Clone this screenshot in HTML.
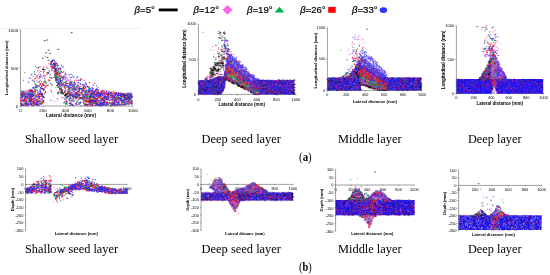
<!DOCTYPE html>
<html><head><meta charset="utf-8"><title>Figure</title>
<style>html,body{margin:0;padding:0;background:#fff}svg{display:block}</style></head>
<body><svg width="550" height="275" viewBox="0 0 550 275">
<rect width="550" height="275" fill="#fff"/>
<text x="134.6" y="12.6" font-size="8.8" font-family="Liberation Sans,sans-serif" textLength="20.2" lengthAdjust="spacingAndGlyphs" stroke="#000" stroke-width=".2"><tspan font-style="italic">β</tspan>=5°</text>
<rect x="158.8" y="8.5" width="18.9" height="2.8" fill="#000"/>
<text x="193.6" y="12.6" font-size="8.8" font-family="Liberation Sans,sans-serif" textLength="25.4" lengthAdjust="spacingAndGlyphs" stroke="#000" stroke-width=".2"><tspan font-style="italic">β</tspan>=12°</text>
<path d="M227.5 4.9l5 4.9-5 4.9-5-4.9z" fill="#ff66ee"/>
<text x="247" y="12.6" font-size="8.8" font-family="Liberation Sans,sans-serif" textLength="25.6" lengthAdjust="spacingAndGlyphs" stroke="#000" stroke-width=".2"><tspan font-style="italic">β</tspan>=19°</text>
<path d="M279.5 6.8l4.8 5.6h-9.6z" fill="#00b050"/>
<text x="300.2" y="12.6" font-size="8.8" font-family="Liberation Sans,sans-serif" textLength="25.4" lengthAdjust="spacingAndGlyphs" stroke="#000" stroke-width=".2"><tspan font-style="italic">β</tspan>=26°</text>
<rect x="328.2" y="6.9" width="7.5" height="5.9" fill="#ff0000"/>
<text x="352" y="12.6" font-size="8.8" font-family="Liberation Sans,sans-serif" textLength="25.6" lengthAdjust="spacingAndGlyphs" stroke="#000" stroke-width=".2"><tspan font-style="italic">β</tspan>=33°</text>
<ellipse cx="383.4" cy="10.1" rx="3.8" ry="2.9" fill="#3030ff"/>
<text x="25" y="142.8" font-size="11.6" font-family="Liberation Serif,serif" textLength="93" lengthAdjust="spacingAndGlyphs">Shallow seed layer</text>
<text x="201.6" y="142.8" font-size="11.6" font-family="Liberation Serif,serif" textLength="79.4" lengthAdjust="spacingAndGlyphs">Deep seed layer</text>
<text x="338" y="142.8" font-size="11.6" font-family="Liberation Serif,serif" textLength="63.6" lengthAdjust="spacingAndGlyphs">Middle layer</text>
<text x="468" y="142.8" font-size="11.6" font-family="Liberation Serif,serif" textLength="53.5" lengthAdjust="spacingAndGlyphs">Deep layer</text>
<text x="25" y="252.6" font-size="11.6" font-family="Liberation Serif,serif" textLength="93" lengthAdjust="spacingAndGlyphs">Shallow seed layer</text>
<text x="201.6" y="252.6" font-size="11.6" font-family="Liberation Serif,serif" textLength="79.4" lengthAdjust="spacingAndGlyphs">Deep seed layer</text>
<text x="338" y="252.6" font-size="11.6" font-family="Liberation Serif,serif" textLength="63.6" lengthAdjust="spacingAndGlyphs">Middle layer</text>
<text x="468" y="252.6" font-size="11.6" font-family="Liberation Serif,serif" textLength="53.5" lengthAdjust="spacingAndGlyphs">Deep layer</text>
<text x="299" y="160.6" font-size="11.6" font-family="Liberation Serif,serif" textLength="12.7" lengthAdjust="spacingAndGlyphs">(<tspan font-weight="bold">a</tspan>)</text>
<text x="299" y="270.6" font-size="11.6" font-family="Liberation Serif,serif" textLength="12.7" lengthAdjust="spacingAndGlyphs">(<tspan font-weight="bold">b</tspan>)</text>
<path d="M0 28.5H139.5" stroke="#ebebeb" stroke-width=".7"/>
<path d="M20.5 30V106H133" stroke="#606060" stroke-width=".6" fill="none"/>
<text x="18.1" y="107.6" font-size="4.4" text-anchor="end" font-family="Liberation Sans,sans-serif" fill="#000">0</text>
<text x="18.1" y="69.6" font-size="4.4" text-anchor="end" font-family="Liberation Sans,sans-serif" fill="#000">500</text>
<text x="18.1" y="31.6" font-size="4.4" text-anchor="end" font-family="Liberation Sans,sans-serif" fill="#000">1000</text>
<text x="20.5" y="112.2" font-size="4.4" text-anchor="middle" font-family="Liberation Sans,sans-serif" fill="#000">0</text>
<text x="43" y="112.2" font-size="4.4" text-anchor="middle" font-family="Liberation Sans,sans-serif" fill="#000">200</text>
<text x="65.5" y="112.2" font-size="4.4" text-anchor="middle" font-family="Liberation Sans,sans-serif" fill="#000">400</text>
<text x="88" y="112.2" font-size="4.4" text-anchor="middle" font-family="Liberation Sans,sans-serif" fill="#000">600</text>
<text x="110.5" y="112.2" font-size="4.4" text-anchor="middle" font-family="Liberation Sans,sans-serif" fill="#000">800</text>
<text x="133" y="112.2" font-size="4.4" text-anchor="middle" font-family="Liberation Sans,sans-serif" fill="#000">1000</text>
<path d="M20.5 106h-1.4M20.5 68h-1.4M20.5 30h-1.4M20.5 106v1.4M43 106v1.4M65.5 106v1.4M88 106v1.4M110.5 106v1.4M133 106v1.4" stroke="#606060" stroke-width=".5" fill="none"/>
<text x="71" y="117.2" font-size="4.85" text-anchor="middle" font-family="Liberation Sans,sans-serif" font-weight="bold" fill="#000">Lateral distance (mm)</text>
<text transform="translate(8 67.9) rotate(-90)" font-size="4.2" text-anchor="middle" font-family="Liberation Sans,sans-serif" font-weight="bold">Longitudinal distance (mm)</text>
<path d="M36.6 102.7h1.8M41.1 99.7h1.8M28.8 90h1.8M26.4 104.5h1.8M23.2 96.2h1.8M30.5 91h1.8M27.8 104.8h1.8M24.4 95.1h1.8M31.9 104.9h1.8M29.8 96.2h1.8M21.9 94.6h1.8M28.1 93.2h1.8M23.3 99.1h1.8M42.5 100.2h1.8M43.2 97.4h1.8M21.4 93.8h1.8M23.2 94.2h1.8M22.5 94.9h1.8M31 96.6h1.8M38.4 86h1.8M24.8 104.9h1.8M31.5 95.1h1.8M24.1 98.2h1.8M30.3 90.3h1.8M31.3 94.8h1.8M34.5 104.6h1.8M41 101.8h1.8M41.6 89h1.8M28.2 101h1.8M29.5 94.3h1.8M35.1 96.8h1.8M25.8 103.6h1.8M29 95.1h1.8M36.9 101.8h1.8M34.7 104.5h1.8M20.6 95.8h1.8M36 104.6h1.8M40.2 93h1.8M29.4 96.1h1.8M26.5 93.7h1.8M24.4 94.1h1.8M24.6 103.7h1.8M26.8 93.6h1.8M22 93.5h1.8M33.1 91.5h1.8M30.7 94.5h1.8M25.2 100.2h1.8M40.8 93.9h1.8M30.5 101.8h1.8M23.8 97h1.8M25.5 105.4h1.8M26.1 96.4h1.8M31.4 98.9h1.8M21.3 99.9h1.8M28.6 101.8h1.8M38.3 100.9h1.8M24.5 98.2h1.8M21.3 105h1.8M40.9 94.8h1.8M30.5 89.6h1.8M39.3 103.3h1.8M22.9 101h1.8M23.6 103.3h1.8M20.1 97.4h1.8M41.8 96.5h1.8M20.3 103.4h1.8M28.1 97.7h1.8M30.9 93.5h1.8M35.4 95.5h1.8M27.3 95.9h1.8M29.7 104.3h1.8M29.1 91.5h1.8M38 96.6h1.8M32.5 103.6h1.8M40 104.1h1.8M42 88.5h1.8M43.4 82.1h1.8M20.9 99.7h1.8M21 93.3h1.8M40.3 94.8h1.8M21.2 94.4h1.8M38 94.1h1.8M23 92.7h1.8M22.5 94.7h1.8M34.8 99.4h1.8M22.6 91.7h1.8M38 104.5h1.8M41.2 93.7h1.8M38 81.9h1.8M51.8 68.3h1.8M47.6 73h1.8M42 58.1h1.8M46.8 72.6h1.8M31.8 80.2h1.8M46.9 85.3h1.8M43.7 69.7h1.8M34.6 84.3h1.8M38.3 78h1.8M42 69.3h1.8M37.5 67.6h1.8M53.2 71h1.8M42 69.4h1.8M43.8 40.6h1.8M46.4 40h1.8M47.7 50.1h1.8M57.3 49.4h1.8M46.6 57.4h1.8M45.3 52.8h1.8M70.8 32.7h1.8M49.1 53.6h1.8M53.3 63.7h1.8M53.1 63.6h1.8M52.5 64.7h1.8M52.2 60.1h1.8M51 70.1h1.8M47.6 60.3h1.8M52.1 65h1.8M51.1 67.4h1.8M52.2 66.8h1.8M50.3 66.1h1.8M50.9 61.3h1.8M50.4 62.4h1.8M51.1 85h1.8M50.5 78.1h1.8M48.5 80.7h1.8M103.3 101.2h1.8M106.8 97h1.8M58.6 84.9h1.8M73 87.9h1.8M100.1 98.2h1.8M99.4 102.9h1.8M93.4 96.3h1.8M65.8 101.5h1.8M55.8 69.1h1.8M75.2 93.2h1.8M107.3 94.9h1.8M107.1 95.4h1.8M75.6 87.1h1.8M110.9 93.8h1.8M98.2 105.5h1.8M58.8 83.1h1.8M91.2 96.5h1.8M89.4 103.9h1.8M103.4 104h1.8M97.2 92.5h1.8M74.2 89.6h1.8M78.9 103.2h1.8M65 103.8h1.8M114.1 99.2h1.8M103.1 104.2h1.8M94.1 105.3h1.8M126 94.8h1.8M56.6 79.6h1.8M54.4 70.1h1.8M126.9 99h1.8M71.1 89.1h1.8M70.2 82.5h1.8M94 95h1.8M100.1 93.5h1.8M77.8 89.1h1.8M91.4 100.5h1.8M56.1 73.3h1.8M126.9 97.5h1.8M90.8 93.4h1.8M95.9 103.6h1.8M91.2 105.5h1.8M91.9 100.3h1.8M87.9 91.6h1.8M89.1 96.7h1.8M93 101.8h1.8M99.5 103.2h1.8M69.9 92.3h1.8M67.4 96.4h1.8M90.5 95.8h1.8M106.3 99.3h1.8M131.2 96.2h1.8M119.7 98.1h1.8M63.2 102.9h1.8M111.5 99.9h1.8M60.7 76.3h1.8M78.1 91.2h1.8M64.6 101.9h1.8M69.5 105.3h1.8M98.7 95.3h1.8M99.5 96.7h1.8M71.9 105.4h1.8M86.8 95.1h1.8M103.4 102.1h1.8M53.4 77.4h1.8M90.7 102.2h1.8M106.6 99.8h1.8M104.5 97.3h1.8M94 94.8h1.8M74.5 88.8h1.8M67.3 93.3h1.8M57.6 87.6h1.8M127.4 97.1h1.8M76.7 91.5h1.8M81.4 97.4h1.8M95.2 93h1.8M127.9 95.1h1.8M98.8 100.6h1.8M86.1 94.2h1.8M124.7 94.9h1.8M62.1 83.6h1.8M101.8 103.3h1.8M63.6 86.9h1.8M94.8 102.5h1.8M119.1 104.9h1.8M67.6 91.8h1.8M102 93.3h1.8M85.7 96.7h1.8M59 80.2h1.8M89.4 97.6h1.8M54.9 80.1h1.8M110.1 104h1.8M98.7 93.2h1.8M123.6 95.7h1.8M55 79h1.8M54.4 75.5h1.8M96.2 98.8h1.8M89.2 94.1h1.8M72.2 95.8h1.8M120.9 95.3h1.8M67.3 89.8h1.8M76.2 86.7h1.8M90.1 95.8h1.8M121.1 102.6h1.8M124.6 95.8h1.8M113.6 103.2h1.8M101.3 98.7h1.8M80.3 88.6h1.8M106.8 93.9h1.8M66.9 83.5h1.8M66.7 94.6h1.8M121 94.5h1.8M123.9 103.3h1.8M103.5 93.4h1.8M91.6 101.1h1.8M94.4 101.2h1.8M75.1 97.9h1.8M57 71.1h1.8M72.6 86.5h1.8M109.1 102.6h1.8M54.4 69.4h1.8M98.7 94.3h1.8M99.2 104.3h1.8M112.4 103.6h1.8M112.7 96.6h1.8M114.4 105.5h1.8M70.6 104.3h1.8M112.5 102.3h1.8M128.9 97.3h1.8M96 99.3h1.8M79.1 97.6h1.8M95 103.8h1.8M121.9 94.8h1.8M130.3 102.4h1.8M93 97.3h1.8M119.9 99.8h1.8M73.6 90.9h1.8M117.6 95.5h1.8M56 74.2h1.8M128.7 97h1.8M124.8 100.9h1.8M69.6 103.2h1.8M83.4 91.3h1.8M60.9 91h1.8M77.7 88.1h1.8M58.2 74.3h1.8M76.8 94.6h1.8M57.3 78.8h1.8M127.6 98.9h1.8M92.1 100.5h1.8M95.3 94.9h1.8M117.4 102.2h1.8M65.4 83.7h1.8M126.6 101.5h1.8M113.5 105.3h1.8M128 100.9h1.8M62.3 78.6h1.8M86.1 94.3h1.8M121.3 96.9h1.8M102.8 102.3h1.8M114.3 100.1h1.8M76.7 93.2h1.8M64.5 90.8h1.8M123.5 98h1.8M53.5 67.6h1.8M71.5 100.6h1.8M123.2 100.5h1.8M116.3 98.2h1.8M68.1 88.9h1.8M89.6 91.7h1.8M106 94.1h1.8M76.2 96.9h1.8M103.5 96h1.8M72.7 95.9h1.8M54.5 73.8h1.8M104.8 105.2h1.8M75.8 104.7h1.8M90.8 94.9h1.8M77.2 95.3h1.8M69.5 95.3h1.8M81 93.1h1.8M115.5 102.1h1.8M93.1 91.5h1.8M69 103.4h1.8M87 92.6h1.8M123.5 99.6h1.8M85.8 94.4h1.8M111.6 93.8h1.8M88.2 102.9h1.8M67.3 86.7h1.8M91.7 93.8h1.8M66.7 91.6h1.8M78.5 89h1.8M116.1 98.8h1.8M88.1 101.3h1.8M90 97.4h1.8M82.6 88.1h1.8M94 100.5h1.8M105.6 102.2h1.8M95.9 96.1h1.8M105.6 98.5h1.8M129 96h1.8M121.4 95.9h1.8M75.3 92.7h1.8M98.3 95.6h1.8M69.3 98.3h1.8M122.1 100.5h1.8M91.2 99.6h1.8M91.5 92.3h1.8M118.6 99.6h1.8M61.4 91h1.8M60.4 89.2h1.8M83.3 88.6h1.8M86.2 99h1.8M108.2 94.6h1.8M128.7 101.2h1.8M102.7 97.8h1.8M83.3 98.9h1.8M59.2 73.3h1.8M96.5 104.1h1.8M67.3 92.7h1.8M83.8 104.6h1.8M99.4 94.1h1.8M130.8 97.3h1.8M99 95.4h1.8M124.7 94.9h1.8M124.2 104.2h1.8M107.4 94.9h1.8M78.1 104.2h1.8M100.9 103.6h1.8M68.2 99.3h1.8M88.7 100.4h1.8M81.4 88.9h1.8M98.1 104.5h1.8M55.1 75.6h1.8M99.9 98.5h1.8M69.5 87.3h1.8M124.8 95.8h1.8M106.2 104.1h1.8M120.3 94.5h1.8M130.4 100.7h1.8M79.4 89h1.8M115.7 94.3h1.8M121.5 101.8h1.8M96.5 92.7h1.8M114.6 98.9h1.8M65.2 81.9h1.8M78.6 87.8h1.8M59.6 80.3h1.8M84.4 103.1h1.8M94.3 98.5h1.8M88.5 98.8h1.8M55.5 72.7h1.8M59.8 89.8h1.8M124.5 95.7h1.8M59 88.7h1.8M55.6 81h1.8M107.3 99.7h1.8M91.5 103.3h1.8M117.8 95.1h1.8M56.5 85.9h1.8M102 98.3h1.8M55.8 70.6h1.8M79.5 102.8h1.8M101.2 103h1.8M78.7 94.4h1.8M56.4 85.5h1.8M88.8 91.2h1.8M85.3 95.5h1.8M69.6 94.3h1.8M75.1 103.5h1.8M103.8 101.9h1.8M111.2 104.1h1.8M90 94.3h1.8M94.9 94.4h1.8M59.6 88.9h1.8M58.3 84.3h1.8M113.8 103.2h1.8M61.4 89.9h1.8M127.1 101.8h1.8M68.7 93.8h1.8M70.4 82h1.8M101.6 93.1h1.8M125.8 97.1h1.8M92.5 91.4h1.8M82.8 94.6h1.8M111.8 104.9h1.8M75.7 93.2h1.8M65.9 98.1h1.8M120.1 96.2h1.8M88.8 97.3h1.8M127 99.5h1.8M73.4 84.1h1.8M103.8 100.2h1.8M70.4 85.1h1.8M55.9 77.5h1.8M72.8 101.3h1.8M88.8 100h1.8M120.7 104.5h1.8M74.3 88.1h1.8M63.4 82.3h1.8M102.7 98.3h1.8M58.6 84h1.8M95.3 98.7h1.8M116.9 95.7h1.8M80 98.2h1.8M65.2 93.9h1.8M94.6 103.5h1.8M89.7 101.2h1.8M65.7 96.8h1.8M91.6 100.6h1.8M88 102.5h1.8M88.3 100.5h1.8M94.5 103.8h1.8M71.7 96h1.8M64 95.8h1.8M63.4 92.5h1.8M68 96.1h1.8M86.5 102h1.8M74.9 97h1.8M92.2 101.7h1.8M87.4 101.1h1.8M78.2 97.1h1.8M89.1 100.8h1.8M74.1 96.3h1.8M60.9 92h1.8M61 93.2h1.8M74.6 96.9h1.8M88.4 100.9h1.8M89.6 102.9h1.8M96 103.7h1.8M82.6 98h1.8M65 94.8h1.8M64.4 95.1h1.8M69.6 94.5h1.8M82.1 99.3h1.8M85.2 100.1h1.8M93.6 101.8h1.8M57.1 93.8h1.8M76.9 96.1h1.8M84.1 101.1h1.8M62.2 93.7h1.8M87.7 100.9h1.8M95.1 101.1h1.8M60 92.8h1.8M61.9 93.7h1.8M81.3 98.4h1.8M64.4 95.6h1.8M89.7 101.2h1.8M94.4 101.5h1.8M72.4 96.3h1.8M65.6 93.6h1.8M91.8 102h1.8M58 92h1.8M86.4 101.4h1.8M64.9 95h1.8M85.3 97.2h1.8M66.8 97h1.8M84.3 100.6h1.8M67.3 94.1h1.8M61.2 93h1.8M56.9 92.7h1.8M65 94.4h1.8M80.2 98.1h1.8M66.9 96h1.8M93 101.4h1.8" stroke="#000000" stroke-width=".8" stroke-opacity="0.88" fill="none"/>
<path d="M41.8 103.8h1.1M34.5 104.8h1.1M39.4 98.9h1.1M31.5 102.2h1.1M27 94.1h1.1M42.5 100h1.1M26.5 95.3h1.1M25.5 105.7h1.1M39.3 88.3h1.1M36.5 96h1.1M28.9 95h1.1M30.5 95.9h1.1M43.3 88.5h1.1M24.6 99.2h1.1M39.6 102h1.1M26 98h1.1M35.4 99.7h1.1M42.4 84.3h1.1M34 101.2h1.1M34.5 97.4h1.1M26.5 95h1.1M38.8 105.6h1.1M35.6 103h1.1M32.4 92.4h1.1M33.8 87.1h1.1M35.6 95.2h1.1M31 105.1h1.1M30.3 104.3h1.1M28.1 105.8h1.1M40.7 101.6h1.1M21 105.1h1.1M30.2 97.8h1.1M41.3 104.2h1.1M38.2 104.2h1.1M29.9 99.8h1.1M30.8 99.2h1.1M37.8 100.7h1.1M20.9 104.3h1.1M36.3 101.4h1.1M35 87h1.1M21.3 91.6h1.1M34.5 95.9h1.1M20.2 98.8h1.1M24.2 101.1h1.1M42.6 104h1.1M30.3 93.8h1.1M36.9 99.9h1.1M34.8 100.1h1.1M30.7 94.3h1.1M25.4 94.9h1.1M41.1 86.9h1.1M36.7 105.6h1.1M41.1 85h1.1M24.7 98.1h1.1M40.1 92.4h1.1M26.6 101.5h1.1M24.7 92.6h1.1M32.2 104.6h1.1M28.4 94.5h1.1M28.2 91.1h1.1M21.2 96.9h1.1M27.8 94h1.1M27.6 97.4h1.1M41.2 87.6h1.1M26.5 103.8h1.1M31.2 99.5h1.1M26.9 97.5h1.1M32.6 88.7h1.1M25.9 100.7h1.1M35.1 102.7h1.1M25.8 98.9h1.1M39 98h1.1M20.4 103.2h1.1M30.8 89.8h1.1M20.5 101.1h1.1M23.7 95.3h1.1M26.2 101.6h1.1M26.5 104.6h1.1M20.6 100.1h1.1M29.5 91h1.1M31.3 98.6h1.1M24.1 103.1h1.1M34.9 98.2h1.1M33.4 95.3h1.1M26.5 102.2h1.1M30.7 93.5h1.1M39.7 98.6h1.1M30.3 94.5h1.1M34.9 96.4h1.1M28.4 93h1.1M33.4 103.7h1.1M37.2 100.2h1.1M33.2 99.1h1.1M28.5 104.7h1.1M35.1 92.9h1.1M20.6 97.2h1.1M28.8 104.5h1.1M22.8 103.8h1.1M28.8 103h1.1M32.8 87.5h1.1M23.4 91h1.1M21.7 92.8h1.1M35.2 90.2h1.1M37.3 87.4h1.1M21.7 99.6h1.1M26.9 99.6h1.1M37.4 96h1.1M37.8 92.6h1.1M23 94h1.1M28 93.6h1.1M31.3 105h1.1M20.7 104.3h1.1M28.2 94.1h1.1M26.1 104.5h1.1M28.6 98.1h1.1M22.5 102.2h1.1M22.3 91h1.1M36.1 101.9h1.1M39.1 100.8h1.1M21.7 93.5h1.1M22.6 94.1h1.1M44.7 82.6h1.1M26.9 101.5h1.1M23.6 98.6h1.1M26.4 99.1h1.1M29.7 97.6h1.1M44.3 71h1.1M43 66.9h1.1M37.7 68.4h1.1M28.8 78.4h1.1M38.7 81.7h1.1M48.1 70.5h1.1M38.4 74.2h1.1M50.7 66.2h1.1M42.9 75.4h1.1M33.1 81.7h1.1M40.5 75h1.1M32.6 76.4h1.1M37.5 78.7h1.1M42.7 74.7h1.1M44 77.3h1.1M40.1 87.6h1.1M43.1 67.1h1.1M38.7 72.5h1.1M36.9 76.1h1.1M49.2 71.5h1.1M34 73.2h1.1M39.1 70.2h1.1M42.5 76.3h1.1M36.6 77.9h1.1M41.9 77.9h1.1M55.1 61.1h1.1M50.7 64h1.1M50.8 67.9h1.1M49.9 66.5h1.1M52.3 96h1.1M53.6 101.2h1.1M106.1 94h1.1M86.3 95.9h1.1M122.3 104.7h1.1M72.2 84.8h1.1M57.6 69.6h1.1M90.1 91.5h1.1M101.9 105h1.1M110.9 93.5h1.1M68.8 81.6h1.1M94.2 103h1.1M55.2 74.2h1.1M125.1 100.5h1.1M99.5 101.3h1.1M97.7 99.3h1.1M105 94.3h1.1M82 91.8h1.1M116.3 104h1.1M129.6 96.6h1.1M87 95.3h1.1M113.5 100h1.1M103.4 99.8h1.1M113.4 105.1h1.1M124.4 97.9h1.1M77.2 87.7h1.1M100.7 101.4h1.1M112.3 95.1h1.1M63.5 78h1.1M65.2 83.4h1.1M113.6 95.6h1.1M72.2 95.8h1.1M103.4 99.1h1.1M121.1 100.1h1.1M88.4 93h1.1M87.3 104.2h1.1M59.8 84.6h1.1M68.6 85h1.1M102.4 96.9h1.1M67.9 94.7h1.1M98.3 100.9h1.1M75.2 83.5h1.1M67.2 89.2h1.1M71.4 83.9h1.1M127.5 96h1.1M105.7 96.6h1.1M114.9 95.5h1.1M87.4 96.3h1.1M122.2 94.4h1.1M95.6 96h1.1M71.2 82.7h1.1M93.2 104h1.1M98.2 99.1h1.1M104.6 95.8h1.1M97 97.7h1.1M87.9 103.2h1.1M114.6 93.6h1.1M92.7 101.9h1.1M115.8 105.1h1.1M114.6 98.4h1.1M58.7 86.7h1.1M104.5 96.5h1.1M112.9 95.9h1.1M93.9 91.1h1.1M88.3 100.8h1.1M68.8 87.5h1.1M74.7 95.7h1.1M90.5 105.8h1.1M117.1 99.4h1.1M120.6 101.8h1.1M93.1 98.5h1.1M113.8 96.8h1.1M57.9 74.7h1.1M109 105.1h1.1M126.6 95.3h1.1M121 104.7h1.1M71.4 87.7h1.1M97.7 94.8h1.1M113.5 102.4h1.1M120.5 105h1.1M82.8 88.1h1.1M95.7 95.2h1.1M65 89.9h1.1M119 101.6h1.1M114.3 96.3h1.1M112.2 96.4h1.1M107.1 99.3h1.1M126.6 102.6h1.1M57.4 82.9h1.1M125.1 99.5h1.1M107.7 104.6h1.1M64.1 88.3h1.1M58.6 82h1.1M98.4 93.4h1.1M93.8 94.9h1.1M58.8 81.6h1.1M77.1 90h1.1M66.8 94.2h1.1M70.6 84.8h1.1M91.9 90.5h1.1M56.5 71.2h1.1M108.1 97.7h1.1M59.4 80.4h1.1M118.4 100.8h1.1M55 66.1h1.1M118 96.7h1.1M63.6 84.3h1.1M103.6 95.6h1.1M89.7 95h1.1M62.7 84.3h1.1M95.3 91.5h1.1M55 66.1h1.1M55.5 76.3h1.1M79.5 96.3h1.1M60.4 85.5h1.1M65.8 96.6h1.1M95 97.2h1.1M73.4 82.9h1.1M93 94.4h1.1M118.2 98.6h1.1M102 100.6h1.1M101.3 94.7h1.1M124.1 98.2h1.1M98 105.8h1.1M91.7 94.2h1.1M99.2 105h1.1M65.1 78.4h1.1M81.3 98.7h1.1M102 93.4h1.1M71.9 87h1.1M64.4 99h1.1M95.7 100.4h1.1M55.2 79.5h1.1M62.8 97.7h1.1M72.7 99.4h1.1M102.6 104.6h1.1M104 93.2h1.1M107.2 95.6h1.1M101.7 105.3h1.1M71.1 104.1h1.1M71.4 81.3h1.1M105.3 93.1h1.1M74.7 83.2h1.1M130.5 102.4h1.1M123.2 100.8h1.1M79.4 93.1h1.1M59.2 87.4h1.1M57.2 81.5h1.1M88.1 99.8h1.1M89.6 97.3h1.1M78.4 92h1.1M115.5 94.3h1.1M65.7 99.7h1.1M119.5 105h1.1M104.6 103.5h1.1M92.1 103.6h1.1M68.7 93.4h1.1M71.1 87.5h1.1M62.7 79.4h1.1M101.2 98.6h1.1M94.2 90.5h1.1M106.3 106h1.1M101.2 99.2h1.1M122 103h1.1M63.9 99.5h1.1M67.3 83.4h1.1M116.1 94.5h1.1M76.8 101.9h1.1M99.1 97.3h1.1M123.8 104.7h1.1M123 99.5h1.1M115.9 93.5h1.1M94.4 97.5h1.1M91.4 92h1.1M97.9 96.9h1.1M123.6 104.6h1.1M67.4 91.8h1.1M129.3 98h1.1M109.3 96h1.1M111.3 101h1.1M118.7 93.9h1.1M66.7 91.5h1.1M60.8 80.4h1.1M124.6 100.8h1.1M66.8 86.6h1.1M69.3 102.2h1.1M93.1 103.9h1.1M60.4 73.1h1.1M127.9 94.3h1.1M74.6 92.6h1.1M125.6 99.9h1.1M75.8 103.7h1.1M78.3 104h1.1M123.6 97h1.1M120.9 103h1.1M66.6 79.8h1.1M98 95.2h1.1M112.3 94.2h1.1M97.3 97.6h1.1M116.7 98h1.1M65.6 83.1h1.1M92.9 103.2h1.1M119.1 103h1.1M69.5 94.2h1.1M113.7 99h1.1M54.9 78.6h1.1M121.5 104.8h1.1M78.3 93.6h1.1M94.6 99.4h1.1M85.2 88.5h1.1M101.7 95.4h1.1M87.7 102.5h1.1M91.6 95.3h1.1M62.3 84.9h1.1M81.6 98.7h1.1M97.4 103.8h1.1M116.7 101.3h1.1M91.7 96.7h1.1M59.9 72.6h1.1M82.6 96.4h1.1M98.7 96.8h1.1M111.3 103h1.1M125.3 97.8h1.1M71.6 93.4h1.1M75.3 104.8h1.1M60.4 90.3h1.1M120.4 95.3h1.1M126.5 103.1h1.1M114.4 101.6h1.1M118.6 103.8h1.1M125.3 99.4h1.1M117.2 100.8h1.1M69.1 83.1h1.1M98.3 99.7h1.1M130.6 97.3h1.1M109 105.8h1.1M53.9 74.8h1.1M89.9 93.7h1.1M115.4 104.9h1.1M121.3 103h1.1M128.3 103.5h1.1M125.8 97.7h1.1M119.1 101.4h1.1M122.3 95.3h1.1M76.1 88.6h1.1M92 105.4h1.1M111.2 95.6h1.1M97.2 94h1.1M81.6 90.4h1.1M111.2 97.7h1.1M110.8 95.5h1.1M106.6 102.9h1.1M55.9 74.6h1.1M118 97.7h1.1M130.3 101.3h1.1M54.3 76.5h1.1M80.7 86.8h1.1M106.2 100.7h1.1M74.5 83.3h1.1M61.1 87.4h1.1M127 102.5h1.1M77.9 92.4h1.1M87.8 104.5h1.1M78 99.2h1.1M93.4 105.7h1.1M101.7 93h1.1M83.2 96.1h1.1M130.7 101.4h1.1M125.7 98h1.1M104.6 99h1.1M103.9 93.6h1.1M98.8 104.4h1.1M67.9 95.8h1.1M67.1 78.8h1.1M112.7 102.7h1.1M108.9 94h1.1M61.3 97.3h1.1M67.6 103h1.1M129.9 95.1h1.1M56.5 70.1h1.1M97.6 101.8h1.1M121.1 99h1.1M70.4 102.4h1.1M116.9 97h1.1M71.5 92.5h1.1M94.5 94.7h1.1M69.6 92.3h1.1M67.8 87.5h1.1M55 74.5h1.1M127.7 96.2h1.1M56 69h1.1M117.8 94.6h1.1M77.6 86.9h1.1M53.9 70.5h1.1M85.5 95.1h1.1M93 99.8h1.1M107.2 92.9h1.1M115.6 94.7h1.1M94.1 103.4h1.1M128.4 100.1h1.1M119.8 95.5h1.1M127 94.8h1.1M85 97.5h1.1M86.1 91.7h1.1M120.3 104.4h1.1M93.8 94.7h1.1M61.6 98.2h1.1M74.1 84.5h1.1M131.3 94.8h1.1M106.7 102.5h1.1M105.6 99h1.1M80 95.4h1.1M97.4 96.5h1.1M118.8 98.8h1.1M82.6 92.4h1.1M54.6 68.3h1.1M126.5 101h1.1M118 104.4h1.1M117.2 101.1h1.1M113.2 105.3h1.1M70.4 95.3h1.1M90.3 103.7h1.1M101.5 92.4h1.1M91.7 101.6h1.1M91.3 101.9h1.1M119.1 97.7h1.1M53.7 73.7h1.1M96.3 100.8h1.1M59.1 84.9h1.1M67.9 80.7h1.1M67.6 79.3h1.1M74.1 91.3h1.1M67.2 104.9h1.1M57.1 79h1.1M125.9 94.7h1.1M109.4 94h1.1M130 99.4h1.1M92.9 93.6h1.1M131.3 101.5h1.1M74.2 104.3h1.1M108.3 93.5h1.1M100.9 92.8h1.1M78.7 80.2h1.1M77.9 80.4h1.1M84.7 81.7h1.1M62.4 66.8h1.1M83.6 85.4h1.1" stroke="#ff55ee" stroke-width="1.1" stroke-opacity="0.88" fill="none"/>
<path d="M26.6 105.5h1.1M33.7 93.3h1.1M46.1 82.9h1.1M38.8 86.2h1.1M21.2 96.4h1.1M38.8 101.6h1.1M24.9 105.8h1.1M29.5 94.3h1.1M43.1 89.2h1.1M25.5 97.9h1.1M21.7 97.8h1.1M33 103.6h1.1M22.6 93.4h1.1M41.7 103h1.1M21 97.6h1.1M28.9 98.3h1.1M21.9 100.8h1.1M32.9 102.8h1.1M34.4 87.7h1.1M23.1 96.5h1.1M25.5 105.2h1.1M39.8 90h1.1M34.4 92.1h1.1M24.5 102.9h1.1M39.7 103.8h1.1M28.3 93.3h1.1M39.4 102h1.1M31.3 105.7h1.1M29 90.7h1.1M20.4 103h1.1M43 85.1h1.1M35.5 87.7h1.1M32.2 96.8h1.1M21.4 95.4h1.1M26.5 101.3h1.1M21.7 92.4h1.1M33.7 88.1h1.1M43 97.4h1.1M32.1 96.4h1.1M41.5 93.8h1.1M36.7 101.1h1.1M33.6 97.7h1.1M30.8 100.8h1.1M36.2 87.8h1.1M30.5 100.3h1.1M27.6 103.5h1.1M33.6 94.8h1.1M38.3 102h1.1M21 103.9h1.1M27.8 94.1h1.1M39.4 103.5h1.1M43.8 94h1.1M45.8 83.5h1.1M31.8 105.8h1.1M32.4 93.7h1.1M29.9 100.7h1.1M24 96.4h1.1M42.5 96.1h1.1M30.6 93.1h1.1M30.1 103.5h1.1M29.6 97h1.1M23.5 104.7h1.1M32.4 95.7h1.1M39.6 102.5h1.1M44.4 82.2h1.1M30.1 98.7h1.1M29.8 98.7h1.1M34.5 95.3h1.1M36.2 99.5h1.1M30.3 98.3h1.1M35.3 86.4h1.1M27.8 101.6h1.1M34.5 102.4h1.1M39.4 96.7h1.1M53.3 66.9h1.1M33 87.5h1.1M34.3 83h1.1M33.9 71.7h1.1M24.3 72.5h1.1M40.6 76.4h1.1M43 71.4h1.1M37.6 85.7h1.1M43.1 71h1.1M35.1 66.4h1.1M48.7 71h1.1M31.6 74h1.1M42.8 68.3h1.1M36.5 67.7h1.1M44.4 80h1.1M37.2 75.3h1.1M44.9 56.2h1.1M44.3 78.2h1.1M50.9 69.7h1.1M43 72.6h1.1M50.6 63.4h1.1M53.4 64.8h1.1M52.8 64.7h1.1M51 64.5h1.1M54 64.7h1.1M55.4 87.8h1.1M55.5 76.8h1.1M82 95.8h1.1M85.3 95.5h1.1M126.4 96.3h1.1M107 105.2h1.1M88.3 96.4h1.1M64.6 90.3h1.1M94.5 99.7h1.1M68.3 85.7h1.1M99.9 105.8h1.1M114.5 93.8h1.1M87.6 97.2h1.1M97.4 101.3h1.1M55.6 79.2h1.1M76 89.9h1.1M116.5 97.4h1.1M78.2 102.1h1.1M129.1 97.5h1.1M78.9 98.1h1.1M54.3 69.1h1.1M55.3 75h1.1M91.4 97.2h1.1M83.9 96.8h1.1M73.5 97.3h1.1M119.9 104.5h1.1M60.8 88.8h1.1M107 95.5h1.1M111.3 102.2h1.1M131 97.2h1.1M66.3 85.8h1.1M131 104h1.1M122.7 104.8h1.1M129 101.5h1.1M55 73.2h1.1M66.2 87.7h1.1M111.1 92.6h1.1M72.5 84.2h1.1M57.1 83.9h1.1M85.5 105h1.1M92.7 95.8h1.1M95 98.6h1.1M78.8 90h1.1M112.7 96h1.1M129.2 102.6h1.1M100.3 103.5h1.1M92.1 96.6h1.1M68.2 94.1h1.1M106.6 96.3h1.1M125.1 102.5h1.1M127.2 96.5h1.1M84.8 93.5h1.1M116.7 98.5h1.1M58.9 79.7h1.1M57.6 77.5h1.1M61.8 90.5h1.1M129 100.2h1.1M54.8 75.1h1.1M89.8 102.9h1.1M127.5 99.6h1.1M101.2 94.8h1.1M130.1 96.2h1.1M89.3 88.5h1.1M120.5 95.5h1.1M60.7 71.6h1.1M65.1 81.8h1.1M70.9 104.5h1.1M56 82.5h1.1M115.7 104.7h1.1M109.4 92.4h1.1M65.6 97.1h1.1M100 103.6h1.1M89.4 90h1.1M60.3 70.9h1.1M54.8 65.9h1.1M126.2 95.3h1.1M115.8 96.9h1.1M96.4 105h1.1M117.6 95.5h1.1M86.5 97.4h1.1M104.8 98.5h1.1M128.4 99.6h1.1M60.9 93.8h1.1M85 87.3h1.1M81.7 97.6h1.1M54.7 74h1.1M84.2 91.4h1.1M88.2 88.5h1.1M64.8 88.1h1.1M109 103.1h1.1M61.2 93.2h1.1M60.1 78.1h1.1M126.9 95.1h1.1M57.2 72.7h1.1M89.3 96.3h1.1M89.4 96h1.1M57.4 78.2h1.1M57.8 86.7h1.1M77.8 99.9h1.1M92.7 103.9h1.1M101.6 91.1h1.1M111.6 104.2h1.1M62.9 76.3h1.1M72.7 82.5h1.1M127.5 94.3h1.1M74.6 92.6h1.1M91 104h1.1M68.3 95.8h1.1M57.7 71.3h1.1M121.6 104.3h1.1M130 99.1h1.1M93.9 93.5h1.1M94 103.1h1.1M130.8 96.6h1.1M119.5 98.4h1.1M107.1 104.4h1.1M88.5 90.2h1.1M130.8 98.4h1.1M93.7 96.9h1.1M54.8 77.5h1.1M122.4 101.5h1.1M60.4 93h1.1M114.6 93.5h1.1M125.2 98.7h1.1M98.9 95.7h1.1M53.9 67h1.1M114.6 98.4h1.1M66.4 103.8h1.1M115 93.8h1.1M86.9 94.9h1.1M90.6 101.1h1.1M106.5 97.4h1.1M109.2 92.9h1.1M82.3 87.9h1.1M111.6 100.1h1.1M122.7 96.9h1.1M91 105.7h1.1M58.5 73.4h1.1M92.3 95.9h1.1M84.5 91.2h1.1M59.9 81.6h1.1M79.8 92.5h1.1M92.1 103.4h1.1M59 88.9h1.1M57.7 69.4h1.1M65.1 83h1.1M114.5 98.2h1.1M66.7 103.3h1.1M70.5 92.1h1.1M57.9 69.3h1.1M118.2 102.7h1.1M126.3 99.8h1.1M92.2 92.8h1.1M69.7 87.7h1.1M122.3 104.2h1.1M103 92.7h1.1M103 99.9h1.1M73.4 106h1.1M61.7 72.7h1.1M120.8 97.5h1.1M102.8 104.3h1.1M96.3 92.8h1.1M98.8 97.7h1.1M99.8 99h1.1M94.1 102.6h1.1M94.8 102.6h1.1M127.4 101.4h1.1M65.3 101.2h1.1M102.5 104.2h1.1M87.9 93.7h1.1M114.9 97.3h1.1M120.4 95.8h1.1M56.3 77h1.1M66.4 98.1h1.1M55.4 80.8h1.1M96.2 104h1.1M111 97.3h1.1M85.8 91.1h1.1M60.6 92h1.1M83.2 102.9h1.1M125.3 99.8h1.1M120.9 104.9h1.1M124.3 98.8h1.1M70.9 95.1h1.1M90.8 102.7h1.1M54.2 77h1.1M121.1 103.5h1.1M74.1 85.3h1.1M108.9 94.7h1.1M115.6 100.1h1.1M60.1 87h1.1M128 96.3h1.1M127.4 102h1.1M111 95.1h1.1M57.2 80.4h1.1M56.5 76.5h1.1M96.7 100.7h1.1M59.8 92h1.1M92.2 99.5h1.1M66.1 104h1.1M56.2 74.1h1.1M91.3 93.2h1.1M68.3 100h1.1M55.1 76.7h1.1M72.9 86.4h1.1M105.4 97.5h1.1M74.9 89.5h1.1M58.6 78.4h1.1M109.7 96.9h1.1M101.4 104.9h1.1M120.5 94.3h1.1M93.5 93.7h1.1M117.4 98.2h1.1M130.6 98.3h1.1M87.9 101h1.1M72.1 88.6h1.1M61.6 84.7h1.1M95.6 95h1.1M120.2 98.5h1.1M61.4 84.1h1.1M54 75.3h1.1M55.7 75.6h1.1M56.5 77.4h1.1M124 98.1h1.1M104.8 95.9h1.1M59.2 83.6h1.1M85.2 87.4h1.1M64.5 76.2h1.1M119.6 95.2h1.1M68.7 99.7h1.1M115.5 92.9h1.1M118.2 97.9h1.1M113.9 100h1.1M59.7 79h1.1M85.2 91h1.1M104.8 93.1h1.1M107 103.7h1.1M71.4 85.8h1.1M110.1 105.5h1.1M103.9 97.3h1.1M123.4 94.1h1.1M119.3 99.4h1.1M128 96.4h1.1M128.5 95.1h1.1M106.6 104.8h1.1M75.8 94.6h1.1M55.8 72.9h1.1M68.9 100.7h1.1M98.7 102.7h1.1M55.3 76.8h1.1M126.3 103.9h1.1M96.4 97h1.1M72.6 86.8h1.1M60.7 82.2h1.1M69.9 97.2h1.1M86 96.2h1.1M123 96.1h1.1M67.1 93.3h1.1M121.3 94.9h1.1M62.1 81.4h1.1M110.2 94.2h1.1M121.6 93.6h1.1M95.9 95.8h1.1M71.6 100.8h1.1M92.7 92.2h1.1M68.6 88.4h1.1M69.3 82h1.1M64.9 82.7h1.1M60.7 82.1h1.1M126.2 103.5h1.1M96.1 98.9h1.1M77 76.6h1.1" stroke="#00a83c" stroke-width="1.1" stroke-opacity="0.88" fill="none"/>
<path d="M32.8 96.5h1.1M25 98.2h1.1M22.4 93.7h1.1M21.1 91.1h1.1M32.1 90.6h1.1M30.9 104.7h1.1M41.9 101.8h1.1M32.3 102.5h1.1M36 101h1.1M29.9 90.8h1.1M37.5 95.7h1.1M35 91.4h1.1M41.7 85.6h1.1M30.5 95.9h1.1M44.2 87.8h1.1M39.2 94.9h1.1M20.2 101.4h1.1M25.8 99.7h1.1M21.1 95.2h1.1M41.9 83.6h1.1M44.7 81.1h1.1M24 98.1h1.1M43.4 82.2h1.1M35.4 96.1h1.1M25.3 102.5h1.1M28.8 100.2h1.1M25.6 96.4h1.1M33.9 91.4h1.1M37.3 97.4h1.1M31.1 90.1h1.1M41.1 88.2h1.1M20.2 100.6h1.1M38.3 98.7h1.1M31.5 96.6h1.1M30 101.1h1.1M35.4 100.3h1.1M23.4 99.3h1.1M32.5 101.2h1.1M23.1 92.4h1.1M29.8 101.4h1.1M35.5 94.1h1.1M38.6 93.9h1.1M28.9 97h1.1M22.1 104.7h1.1M23.9 100.6h1.1M30 104h1.1M20.5 98.2h1.1M22.2 104.8h1.1M37.4 102.9h1.1M38.5 95.2h1.1M42.9 84.4h1.1M31.5 103.4h1.1M28.4 104.1h1.1M25.9 102.4h1.1M43.9 93.2h1.1M42.7 101h1.1M28.4 98.5h1.1M23.8 104.6h1.1M31.7 96.8h1.1M39.2 84.1h1.1M33.7 103.3h1.1M26.7 97.2h1.1M44.8 92.2h1.1M24.9 91h1.1M28.4 95.1h1.1M23.9 100.1h1.1M35.6 99.3h1.1M31.3 94.9h1.1M41.8 103.1h1.1M21.3 104.4h1.1M28.6 91.4h1.1M24.9 102.4h1.1M41.7 97.2h1.1M33.7 102.6h1.1M37.7 98.3h1.1M33.4 101.8h1.1M33.7 105.3h1.1M21.1 101.2h1.1M34.4 100.8h1.1M26.9 103.5h1.1M28.5 99.1h1.1M25.6 101.7h1.1M33 102.9h1.1M31.6 103.3h1.1M39.3 93.7h1.1M36.9 86h1.1M45.9 85.9h1.1M33.5 93.6h1.1M42.6 102.1h1.1M40.9 86.5h1.1M31.5 93.3h1.1M25 105.8h1.1M38.9 96.7h1.1M34.5 90.1h1.1M30.6 99.6h1.1M42.3 97.3h1.1M40.4 101.2h1.1M31 100.3h1.1M37.4 98h1.1M43.5 90.5h1.1M23.1 93.3h1.1M30.5 102h1.1M37.2 96.6h1.1M42.2 95.1h1.1M42 85.6h1.1M29.3 100.7h1.1M27.6 96.5h1.1M24.9 104.1h1.1M25.3 90.9h1.1M39.3 100.8h1.1M42.5 85.5h1.1M29.9 99.6h1.1M32.7 100.1h1.1M30.8 91.5h1.1M32.7 98.5h1.1M33.9 103.6h1.1M34.4 98.1h1.1M24.2 93.6h1.1M29 97.9h1.1M36.3 86.2h1.1M30.1 100.8h1.1M31 101h1.1M28.7 92.6h1.1M40.2 96.4h1.1M23.2 101.1h1.1M31.8 99.2h1.1M24.4 100.7h1.1M34.3 98.4h1.1M43.1 97.2h1.1M39.7 96.3h1.1M20.9 95.4h1.1M25.4 97.9h1.1M23.3 94.4h1.1M26.8 105.7h1.1M43.6 84.9h1.1M40.2 93.8h1.1M40 84.6h1.1M41 81.7h1.1M34.4 78.9h1.1M46.4 74.6h1.1M37.3 70.9h1.1M35.5 76.4h1.1M48.3 63.8h1.1M35.3 78.3h1.1M44.6 76h1.1M46.8 72.7h1.1M40.3 71.5h1.1M47.3 68.5h1.1M46.3 67.1h1.1M43.9 75.7h1.1M36.5 81.3h1.1M39.5 66.9h1.1M54.4 63.5h1.1M50.6 63.9h1.1M50.9 63.6h1.1M50.3 63.9h1.1M51.2 66.7h1.1M52.4 60.7h1.1M53.6 64.3h1.1M51.9 61.4h1.1M53.3 68.5h1.1M51.9 67.6h1.1M53.8 66.7h1.1M52.7 66.5h1.1M50.4 90.4h1.1M48.3 79.9h1.1M51.1 78h1.1M56.9 98.9h1.1M71.2 87.2h1.1M102.1 98.3h1.1M91.3 91.9h1.1M104.2 94.8h1.1M96.5 103.1h1.1M84.6 99.3h1.1M100.1 91.2h1.1M55.8 74.5h1.1M69.7 100.8h1.1M118.1 92.9h1.1M103 100.2h1.1M118.2 93.7h1.1M79.6 97.7h1.1M131.1 103.4h1.1M104.2 93.1h1.1M97.7 89.9h1.1M82.8 90.1h1.1M55.4 72.2h1.1M74.8 83.6h1.1M61.1 80.3h1.1M111.6 93.7h1.1M131.1 94.6h1.1M106.7 97.6h1.1M111.5 96.6h1.1M101.2 93.9h1.1M85.3 91.9h1.1M124.7 93.6h1.1M117.6 102.7h1.1M122.4 96.8h1.1M85.8 94.6h1.1M110 97.5h1.1M83.7 86.8h1.1M85.7 94.1h1.1M56.8 74.7h1.1M102.6 100.4h1.1M124.1 104.5h1.1M120.1 96.1h1.1M57.4 84.5h1.1M123.9 97.7h1.1M130.5 95h1.1M60.8 84.1h1.1M88 101h1.1M99.2 103.9h1.1M60.3 76.4h1.1M111.7 100.1h1.1M56.1 70.9h1.1M59 88.6h1.1M93.3 93.6h1.1M114.5 99.2h1.1M96.6 92.8h1.1M71.1 104.3h1.1M116.5 94.2h1.1M117.6 97.1h1.1M54.3 73.3h1.1M126.1 97.9h1.1M93.2 96.3h1.1M97.1 98.1h1.1M54.4 66.1h1.1M97.5 97.1h1.1M102.8 104.6h1.1M103.4 99.5h1.1M113.5 101.3h1.1M71 93.1h1.1M81 94.7h1.1M129.1 94.9h1.1M84.5 91.9h1.1M74.5 97.1h1.1M62.3 91.8h1.1M69.4 93.8h1.1M114.2 98.6h1.1M85.7 94.9h1.1M104.7 102.3h1.1M59.4 85.2h1.1M92.9 98.5h1.1M115 92.7h1.1M56.7 72.5h1.1M110.9 93.9h1.1M68.5 94h1.1M69 86.8h1.1M104.8 104.6h1.1M89.4 99.1h1.1M92.5 95.5h1.1M121 93.6h1.1M92.1 104.2h1.1M83.8 97.7h1.1M76.5 101.1h1.1M97.9 93.5h1.1M125.6 99h1.1M99 104.8h1.1M84.6 90.2h1.1M97.2 90.3h1.1M93.7 92.9h1.1M97.6 97.2h1.1M57.4 75.1h1.1M95.9 101.4h1.1M66.2 83.3h1.1M100 103.3h1.1M96.7 99.4h1.1M54.9 64.6h1.1M98.5 97.1h1.1M114.9 93.5h1.1M107.8 95.2h1.1M102.2 97.8h1.1M66.6 93.9h1.1M58.7 75.7h1.1M107.5 93h1.1M58.8 73.2h1.1M95.9 104.5h1.1M97 91h1.1M60.3 90.3h1.1M83.1 103.4h1.1M107.5 99.3h1.1M127.6 94.6h1.1M129.7 96.2h1.1M56.1 71h1.1M93.4 100.1h1.1M111.7 93.7h1.1M126.7 97.4h1.1M99.8 96h1.1M108.1 96.5h1.1M87.6 98.6h1.1M62.4 72.5h1.1M82.7 86.7h1.1M113.5 92.3h1.1M120.5 96h1.1M105.6 92.4h1.1M54.5 62.6h1.1M128.7 100.3h1.1M100.2 96.1h1.1M64.4 91.2h1.1M69.6 92.9h1.1M119.7 93.1h1.1M101.2 91.4h1.1M115.6 98.8h1.1M92.5 98.7h1.1M82.6 95.5h1.1M83.1 101.7h1.1M64.5 88h1.1M89.8 91.8h1.1M107.3 93.9h1.1M59.6 89.9h1.1M55.5 70.2h1.1M68.9 84.7h1.1M123.1 96.7h1.1M54.5 63.7h1.1M124 96h1.1M121.4 101.8h1.1M129.1 98.5h1.1M112.2 98.7h1.1M54 63.7h1.1M70.6 85h1.1M61.2 83.8h1.1M109.6 100.3h1.1M73.5 95h1.1M61.2 77.4h1.1M107.1 95.9h1.1M54.5 71.3h1.1M86.7 97h1.1M89.5 99.9h1.1M90.7 99.4h1.1M73.4 93.2h1.1M100.2 92h1.1M94 93.7h1.1M91 102.6h1.1M130.7 102.8h1.1M55 65.2h1.1M114.1 99.4h1.1M64.7 85.2h1.1M102.2 91.2h1.1M127.7 103.4h1.1M102.9 105.5h1.1M92.4 105h1.1M111.9 96.9h1.1M55.8 63.7h1.1M65.7 100.9h1.1M56.9 77.4h1.1M63.5 94h1.1M106.1 91.6h1.1M101.8 100h1.1M85.3 94.7h1.1M56.4 65.2h1.1M105.3 99.4h1.1M129.1 95.3h1.1M89 92.1h1.1M75 89.7h1.1M122.1 93.9h1.1M130.3 97h1.1M72.3 90.4h1.1M111.3 103.6h1.1M53.7 62.3h1.1M102.5 94.8h1.1M86.5 104.7h1.1M58.4 73h1.1M128.8 97.8h1.1M114 99.8h1.1M131.8 101.5h1.1M127.8 103.8h1.1M94.9 89.5h1.1M96.3 90.6h1.1M93.9 96.5h1.1M93.9 102.3h1.1M100.6 96.6h1.1M81.9 85h1.1M92 90.3h1.1M129.4 102.5h1.1M60.1 69.4h1.1M121.3 104.9h1.1M62.9 85.3h1.1M55.1 78.1h1.1M95.3 100.2h1.1M84.7 90.1h1.1M131.9 103.7h1.1M86.2 104.6h1.1M89.9 101.3h1.1M85.7 101h1.1M106.4 94.8h1.1M92.4 93.9h1.1M104.4 96.9h1.1M110.7 105.4h1.1M118.4 99.3h1.1M65 104h1.1M88.6 104.5h1.1M122.5 96h1.1M59.7 78.2h1.1M96.5 91.2h1.1M90.3 97.9h1.1M58.6 87.7h1.1M72.7 97.2h1.1M112 102.8h1.1M83.6 88.9h1.1M89 104.2h1.1M105.7 94.5h1.1M87.8 92.1h1.1M102.1 98.1h1.1M77.2 94.7h1.1M123.2 93.8h1.1M96.5 98.6h1.1M123.6 102.4h1.1M107.9 103h1.1M54 66.9h1.1M101 94.4h1.1M110.9 92.7h1.1M114.5 93.2h1.1M82.5 89.6h1.1M96.2 99.6h1.1M100.7 102h1.1M125.6 94.8h1.1M69.3 83.6h1.1M93.7 93.3h1.1M88.5 102.1h1.1M124.9 97.5h1.1M109.8 95h1.1M59.1 88.5h1.1M84.5 96.7h1.1M59.4 76.2h1.1M112.5 105h1.1M60.4 81.5h1.1M61 82.2h1.1M76.8 96.4h1.1M120.5 94.8h1.1M74.6 93.7h1.1M98.7 101.3h1.1M89.3 105.6h1.1M95.9 98.5h1.1M87.9 87.1h1.1M112.5 96h1.1M94.8 103.1h1.1M125 94.7h1.1M54.5 72h1.1M111 97.8h1.1M114.4 96.2h1.1M130.8 97.8h1.1M107.8 99.6h1.1M104.9 105.5h1.1M71.1 98h1.1M94.8 105.5h1.1M100.6 105.2h1.1M96.5 96.3h1.1M78 91.9h1.1M119.1 101h1.1M126.3 94.5h1.1M74.6 84.8h1.1M97.1 98.5h1.1M94.6 91.7h1.1M90.2 99.5h1.1M54.7 69.8h1.1M69.2 98.1h1.1M116 101.7h1.1M87.6 104.9h1.1M83.6 97.2h1.1M62.3 84.2h1.1M88.4 101.7h1.1M113.9 93.1h1.1M94.4 98.2h1.1M128 97.6h1.1M89.2 100.1h1.1M128.3 97.1h1.1M114.3 96.3h1.1M106.6 102.4h1.1M122.9 95.1h1.1M84.8 93.2h1.1M121.6 100.3h1.1M101.8 99.1h1.1M111.4 92h1.1M125 104.6h1.1M74.2 89.2h1.1M102.9 101.9h1.1M111.6 104.1h1.1M63.3 77.7h1.1M85.2 92.4h1.1M79.3 86.4h1.1M115.4 99h1.1M121 94.9h1.1M77.5 91.3h1.1M129.4 99.9h1.1M117 104.3h1.1M106 102.9h1.1M115.7 100.6h1.1M113.3 94h1.1M59.4 81.2h1.1M108.3 92h1.1M80.9 89.2h1.1M89.7 94.9h1.1M94 97.5h1.1M123.3 97.2h1.1M54.9 71.9h1.1M79.6 93.1h1.1M113.8 105h1.1M69 95.6h1.1M72.2 97h1.1M105.5 93.7h1.1M128.9 98.6h1.1M123.1 102.2h1.1M76.1 94.3h1.1M113.4 97.5h1.1M63.6 87h1.1M60.3 89.9h1.1M82.6 102.4h1.1M64.3 86.8h1.1M85.1 105.8h1.1M88.4 101.9h1.1M77.2 84.7h1.1M69.4 88h1.1M87.8 98.8h1.1M102.5 105.3h1.1M90.3 102.1h1.1M127.2 98.3h1.1M83.5 105.5h1.1M90.6 95.9h1.1M76.1 98.8h1.1M77.6 99h1.1M59.6 79.9h1.1M67.9 89.9h1.1M111.4 94.1h1.1M93.7 100.6h1.1M110.2 92.7h1.1M118.5 105h1.1M126.9 97.9h1.1M94.2 97.9h1.1M90.6 99.3h1.1M96.1 92.5h1.1M64.4 76.1h1.1M80.8 92h1.1M55.5 79.8h1.1M85.7 102.1h1.1M106.3 98.7h1.1M100.6 104.2h1.1M127.7 101.7h1.1M104 92h1.1M82.8 100.5h1.1M121.5 102h1.1M92.3 93.8h1.1M59.3 69.7h1.1M113.5 103.2h1.1M102.8 92.1h1.1M58.7 76.4h1.1M122.8 96.7h1.1M55.2 75.8h1.1M78.9 95.1h1.1M103.7 92h1.1M119.1 104.6h1.1M90.6 93h1.1M73.1 94.6h1.1M97.5 102.4h1.1M122.8 96.2h1.1M122.6 102.8h1.1M63.2 71.2h1.1M75.6 80.1h1.1M73.8 81.2h1.1M85.4 82.9h1.1M97.5 87.5h1.1M94.1 83.4h1.1M81.3 79h1.1M91.9 88.2h1.1M76 80.3h1.1M80.1 79.9h1.1" stroke="#ff1010" stroke-width="1.1" stroke-opacity="0.88" fill="none"/>
<path d="M32.4 95.7h1.1M27.6 90.3h1.1M27.9 104.9h1.1M31 91.1h1.1M25.7 92.2h1.1M30.2 98.2h1.1M33.3 95.1h1.1M25 103.7h1.1M22.8 105.4h1.1M26.2 97.5h1.1M36.9 100.1h1.1M20.9 105.7h1.1M22.1 96.3h1.1M35.9 97h1.1M25.5 103.4h1.1M38.1 96.4h1.1M31.8 91.4h1.1M23.7 98.5h1.1M33.5 100h1.1M22 105.5h1.1M37.3 92.1h1.1M36.9 90.2h1.1M32.4 94.5h1.1M30.3 96.2h1.1M25.6 95h1.1M41.7 98.4h1.1M32.1 96h1.1M33.4 105.5h1.1M40 91.5h1.1M36.6 105.4h1.1M34.1 98.2h1.1M25.2 96.6h1.1M34.5 89.3h1.1M26.3 94.7h1.1M25.5 93.2h1.1M21.6 91.5h1.1M44.5 85.7h1.1M45 87h1.1M37.1 101.1h1.1M44.9 92h1.1M35.6 85.9h1.1M22 96.9h1.1M36.8 104.8h1.1M21.1 103.6h1.1M31.5 92.1h1.1M29.4 93.5h1.1M22 104.2h1.1M31.6 101.4h1.1M30.1 94.8h1.1M30.1 104.3h1.1M35.6 87.4h1.1M28.7 99.5h1.1M35.5 89.9h1.1M35.4 102.4h1.1M35.6 86.5h1.1M21.7 97.7h1.1M41 93.9h1.1M30.8 100.1h1.1M42.7 89.9h1.1M32.6 95.2h1.1M27.7 103.3h1.1M28.5 97.1h1.1M33.1 101.1h1.1M34.7 103h1.1M20 93.5h1.1M32.8 88.2h1.1M34.4 102.9h1.1M30.8 97.9h1.1M31.1 104.7h1.1M30.3 97.2h1.1M43 101.2h1.1M27.2 91.9h1.1M36.5 103.5h1.1M30.4 95.7h1.1M40.8 88.6h1.1M21.4 95h1.1M26.4 105h1.1M25.6 101.5h1.1M37.4 101.9h1.1M23.6 95.4h1.1M37.6 104.1h1.1M32.6 92.1h1.1M43.2 89.2h1.1M39.6 93.1h1.1M44.9 91.5h1.1M22 105.5h1.1M29.4 94.4h1.1M43.2 96.7h1.1M32.2 87.8h1.1M29.9 103.4h1.1M29.8 93h1.1M31.1 99.2h1.1M37.3 94h1.1M38.9 91.3h1.1M42.8 84.6h1.1M28.4 100.2h1.1M37.1 94.2h1.1M39.7 90.3h1.1M26.9 98.2h1.1M27.8 94.4h1.1M30.7 95.2h1.1M39.1 93.9h1.1M21.3 105h1.1M22 100.5h1.1M30.9 91.9h1.1M39.4 100.4h1.1M29.7 101.3h1.1M40.7 103.5h1.1M27.5 95.4h1.1M25.8 96.6h1.1M40.2 83.4h1.1M43.1 90.1h1.1M41.9 93.8h1.1M24.9 100.1h1.1M43.5 89.3h1.1M31.3 103.6h1.1M38.4 98.5h1.1M36.6 85.8h1.1M32.8 105.7h1.1M43.4 102.2h1.1M27.1 104.3h1.1M41.9 95.9h1.1M37.1 94.4h1.1M37.5 105.5h1.1M41.5 95.6h1.1M21.9 104.2h1.1M23.2 101.3h1.1M31.4 96.4h1.1M38.9 97.4h1.1M33.3 101.6h1.1M22.7 101.3h1.1M21.4 91.8h1.1M29.5 102.1h1.1M35.5 103.6h1.1M35.7 86.1h1.1M27.9 82.1h1.1M39.2 76.4h1.1M39.8 77h1.1M39.6 80.3h1.1M49.1 77.5h1.1M30.8 74.8h1.1M34 81.3h1.1M34.3 74.5h1.1M40 87.9h1.1M53.4 63.4h1.1M49.6 74.8h1.1M47.6 73.5h1.1M39.9 74.7h1.1M29.8 78.3h1.1M23 80.2h1.1M49.9 64.3h1.1M51.9 60.5h1.1M50.5 64h1.1M54.7 65.2h1.1M50.8 61.3h1.1M51.7 61.7h1.1M50.4 61.5h1.1M50.3 100.3h1.1M50 83.5h1.1M51.1 92h1.1M56.9 72.6h1.1M97.1 104.9h1.1M60 80.5h1.1M74.2 86.3h1.1M131.1 94.8h1.1M90.3 104.6h1.1M70.5 85.3h1.1M98.8 93.3h1.1M109.9 95.6h1.1M109 100.6h1.1M128.2 97.7h1.1M122.1 94.4h1.1M101.8 103.7h1.1M74.2 93.9h1.1M103.4 105.1h1.1M108 97.7h1.1M95.6 94.2h1.1M57.6 65.5h1.1M127.4 101.6h1.1M103.5 99.9h1.1M59.3 68.4h1.1M100.4 100.7h1.1M77.8 85.2h1.1M60.9 91.9h1.1M128 96.9h1.1M113.2 104.4h1.1M116.4 103h1.1M96.3 99.4h1.1M107.6 104.7h1.1M66 102.1h1.1M96.7 104.8h1.1M89.2 90h1.1M115.8 104.8h1.1M62.1 84h1.1M108.4 94.3h1.1M128.3 93.7h1.1M117.8 94.4h1.1M117.3 104.8h1.1M107.6 99h1.1M114.9 94.4h1.1M100.3 96h1.1M111.8 99.2h1.1M72.1 84.9h1.1M96.7 93.3h1.1M130.9 102.4h1.1M102.6 90.2h1.1M122 101.8h1.1M56.8 67h1.1M91 93.4h1.1M128.6 93h1.1M97.9 105.2h1.1M128.9 93.7h1.1M60.5 71.9h1.1M80.1 102.1h1.1M104 98.3h1.1M124 94.6h1.1M110.4 92.4h1.1M115.7 93.9h1.1M83.4 85.9h1.1M124 101.3h1.1M72.5 99h1.1M59.2 86.4h1.1M117.2 97.3h1.1M100.6 94.3h1.1M95.9 95.3h1.1M92.9 100.8h1.1M64.9 73.3h1.1M53.9 60.6h1.1M70 98.3h1.1M93.9 92.8h1.1M96.4 94.4h1.1M96 88.8h1.1M75.8 94.6h1.1M103.8 96.2h1.1M83.6 85.9h1.1M102 95h1.1M112.3 102.4h1.1M81.8 94.3h1.1M130.6 95.5h1.1M99.8 93.4h1.1M123.2 95.1h1.1M73.1 88h1.1M82.5 90.3h1.1M97.1 94.4h1.1M81.1 92.4h1.1M72.2 96.5h1.1M83.1 87.2h1.1M117.7 93h1.1M54.9 71.3h1.1M57.6 65.7h1.1M108.3 98.4h1.1M98.4 95.1h1.1M64.6 98.4h1.1M108.3 97h1.1M60.3 88.3h1.1M58.1 68.4h1.1M118.9 93.3h1.1M101.3 93.7h1.1M89.1 97.1h1.1M117.3 104.5h1.1M91.4 87.8h1.1M124.8 98.3h1.1M85.1 104.3h1.1M54.8 71.8h1.1M126.7 98.3h1.1M58.7 76.8h1.1M97.2 104.7h1.1M125.1 98.7h1.1M104.8 96.8h1.1M102.8 90.2h1.1M73.7 85.1h1.1M91.7 105.6h1.1M120.6 95.7h1.1M100 103.9h1.1M101.6 100.6h1.1M83.9 96.1h1.1M89.6 90.1h1.1M69.3 84.9h1.1M77.5 82.7h1.1M119.7 94.6h1.1M66.5 80.7h1.1M73.1 91.5h1.1M91 90.5h1.1M70 103.7h1.1M121.4 100.5h1.1M115.6 92.6h1.1M54.6 63.9h1.1M131.1 94.6h1.1M78.6 95h1.1M71.7 89.6h1.1M102.9 102.7h1.1M127.4 93.8h1.1M126.2 93h1.1M110.9 95.7h1.1M87.5 91.1h1.1M102 95.6h1.1M106.2 103.1h1.1M118.2 102.1h1.1M71.1 95.1h1.1M89.1 96.4h1.1M112.7 98.6h1.1M128.7 97.2h1.1M92 90.3h1.1M93.3 91.6h1.1M123.6 102.6h1.1M124.8 98.9h1.1M94.3 94.6h1.1M101 99.7h1.1M75.2 94.8h1.1M66.7 96.4h1.1M108.1 91.9h1.1M88.5 91.3h1.1M122.9 93.8h1.1M91.6 100.3h1.1M105.9 105h1.1M86.1 90.4h1.1M72 92.7h1.1M70.3 90.3h1.1M83.7 94.1h1.1M94.4 97.5h1.1M56.8 63.7h1.1M69.8 96h1.1M82.8 96.3h1.1M58.7 72.1h1.1M86.8 105.1h1.1M81.6 90.6h1.1M90.8 102.9h1.1M123.7 94.3h1.1M100.2 94.1h1.1M127.2 95.1h1.1M92.2 97.4h1.1M117.9 102.9h1.1M123.8 95.9h1.1M64.4 74.3h1.1M128.2 98.2h1.1M55.6 79h1.1M87.7 94.8h1.1M129.8 95.1h1.1M104.1 103h1.1M131.5 96.9h1.1M118.4 98h1.1M129.7 96.1h1.1M70.9 77.7h1.1M74.4 100.3h1.1M114.7 102.3h1.1M96.3 102.7h1.1M70.8 95.7h1.1M117.3 102.9h1.1M63.2 76.2h1.1M117.8 103.5h1.1M69 91.7h1.1M91.4 89.9h1.1M109.4 103.2h1.1M83.3 87.7h1.1M55 69.6h1.1M120 100h1.1M54.1 65.9h1.1M90.1 95.9h1.1M101.8 91.2h1.1M92.7 103.2h1.1M106.3 93.5h1.1M86.8 97.2h1.1M68.9 88.7h1.1M100.9 93.5h1.1M79.6 83.5h1.1M115.3 93.2h1.1M76.9 85.7h1.1M67.6 87.3h1.1M113.9 101.5h1.1M129.6 95.2h1.1M120.3 100.8h1.1M84.9 95.3h1.1M69.9 87.5h1.1M114.6 95.1h1.1M66.2 74.8h1.1M89.5 97.1h1.1M92.9 94.2h1.1M73.1 88.1h1.1M61 85.7h1.1M56.4 80.1h1.1M119.3 95.4h1.1M58.2 82.7h1.1M53.8 68.1h1.1M77.3 97.2h1.1M128.9 103.9h1.1M113.2 97.5h1.1M122.7 93.9h1.1M121.1 98.5h1.1M124.4 104.6h1.1M96.4 100.7h1.1M76 89.8h1.1M74.7 98.5h1.1M89.9 101.6h1.1M116.9 98.8h1.1M94.1 96.9h1.1M113.8 94.8h1.1M55.5 78.3h1.1M84.7 97.2h1.1M96.4 95.7h1.1M75.3 95.5h1.1M101.3 99.4h1.1M56.8 74h1.1M71.2 101h1.1M129.6 98.9h1.1M124.7 101.3h1.1M94.4 100.5h1.1M78.5 91.3h1.1M105.9 103.4h1.1M107.1 102.8h1.1M113.7 103.2h1.1M113 91.8h1.1M54.2 64.3h1.1M95.9 89.1h1.1M63.3 78.4h1.1M125.3 104.3h1.1M114.6 95.7h1.1M84.6 91.9h1.1M92.9 89h1.1M100.1 104.9h1.1M109.9 99h1.1M78.8 90h1.1M71.9 104.6h1.1M97.2 89.4h1.1M59.4 82.8h1.1M120.8 93.3h1.1M94.7 91.1h1.1M124 96.9h1.1M57.9 81.1h1.1M114.6 100.5h1.1M104.3 90.9h1.1M97.7 95.9h1.1M126.7 99.1h1.1M85.9 104.4h1.1M76 97.6h1.1M119.6 95.4h1.1M70.4 83.5h1.1M88.7 98.5h1.1M94.9 91.7h1.1M126 99.2h1.1M86.5 98.9h1.1M89.8 94.7h1.1M124.7 99.4h1.1M59.5 82.3h1.1M68.7 90.4h1.1M70.4 100h1.1M77.2 85.7h1.1M126.2 101.9h1.1M73.5 96h1.1M82.5 96.8h1.1M57.5 84.2h1.1M109.9 93.4h1.1M106.2 90.8h1.1M64.6 79.8h1.1M114.2 96.8h1.1M123.4 95.6h1.1M130.7 93.1h1.1M100.9 106h1.1M117.6 102.2h1.1M70.5 82.2h1.1M126.8 93.8h1.1M117.6 100h1.1M119 97.4h1.1M117.6 93.1h1.1M120.4 98.8h1.1M69.1 83.8h1.1M98.7 94.9h1.1M69.1 96h1.1M69.9 80h1.1M102.1 104.9h1.1M65.7 86h1.1M120.1 94.9h1.1M128.3 99h1.1M112.4 98.4h1.1M80.2 106h1.1M107.9 92.9h1.1M104 102.1h1.1M119.2 98.3h1.1M114 97.9h1.1M85.1 86.6h1.1M113.2 100.8h1.1M59.4 75h1.1M131.2 104h1.1M86.9 86.3h1.1M82.8 85h1.1M100.8 103.8h1.1M100.8 92.8h1.1M73.2 89.9h1.1M92.7 100.9h1.1M122.5 99.4h1.1M122.7 104.6h1.1M89.8 88.9h1.1M91.8 93.7h1.1M72.2 86.2h1.1M99.5 94.6h1.1M115.9 94h1.1M112.3 97.2h1.1M113.7 94.7h1.1M80.5 98.9h1.1M60.1 78.4h1.1M73.9 96h1.1M105.7 99.3h1.1M104 97.3h1.1M60.8 85.5h1.1M73.9 82.4h1.1M114.4 105.1h1.1M116.5 93.7h1.1M112.2 95.6h1.1M128.2 104.3h1.1M82.6 90.1h1.1M62 86h1.1M98.8 96.6h1.1M54.2 65.1h1.1M85.4 92.9h1.1M98.3 100.9h1.1M130.6 97.5h1.1M94.7 98.7h1.1M64.3 85.5h1.1M78.8 99.2h1.1M97.4 103.9h1.1M57.6 83.4h1.1M105.5 99.5h1.1M99.7 102.5h1.1M129.6 93.3h1.1M130.1 95.2h1.1M85.4 105.3h1.1M86.6 104.2h1.1M122.7 99.5h1.1M120.5 99.2h1.1M130.5 102.9h1.1M65.6 77.6h1.1M131.5 100.1h1.1M96.5 100.9h1.1M94.3 100.6h1.1M93.8 101.7h1.1M105.7 99.5h1.1M111.8 104.4h1.1M93.6 96.9h1.1M91.1 105h1.1M82.2 84.3h1.1M82.3 97.7h1.1M123.5 101.3h1.1M110.9 105.6h1.1M95.4 90.4h1.1M72.6 98.3h1.1M64.6 91.7h1.1M103.6 94.1h1.1M98.1 104.8h1.1M78 82.6h1.1M96.3 105.4h1.1M111 105.7h1.1M116.9 105.2h1.1M88.1 89.9h1.1M124.6 99h1.1M55.4 79.2h1.1M81.3 90h1.1M81.6 92h1.1M96.1 103h1.1M90 93.9h1.1M64.2 85h1.1M91 101.4h1.1M79.1 95.8h1.1M87.5 90.2h1.1M79.9 88.5h1.1M60.5 93h1.1M76.5 94h1.1M55.7 68.5h1.1M56.5 65.1h1.1M124.2 97.5h1.1M99.6 105.7h1.1M119.4 93.2h1.1M114.7 99.8h1.1M56.2 68.4h1.1M116.1 100.6h1.1M92.5 91.5h1.1M106 96.6h1.1M84.9 91.9h1.1M126.7 103.9h1.1M113.6 104.2h1.1M67.2 86.4h1.1M121 98.2h1.1M71.9 94.6h1.1M76.1 102.6h1.1M101.4 103.3h1.1M128 96.7h1.1M56.7 82.5h1.1M100.4 95.9h1.1M54.5 68.5h1.1M110.4 99.3h1.1M55.5 70.9h1.1M56.9 77h1.1M85.6 98.8h1.1M66.5 85.2h1.1M127 95.7h1.1M70.2 88.2h1.1M58.8 83.5h1.1M104.1 96.6h1.1M131.5 102h1.1M97.8 91.6h1.1M54.6 68.1h1.1M89 87.1h1.1M65.1 84.5h1.1M62.2 77.5h1.1M118 95.6h1.1M130.3 103.2h1.1M117.7 105.2h1.1M116.5 95.9h1.1M62.2 80h1.1M55.9 63.2h1.1M103.4 105h1.1M117 95.2h1.1M86.7 86.7h1.1M77.6 80.3h1.1M68.7 74.5h1.1M76.4 77.8h1.1M73.4 77.3h1.1M70.5 74.2h1.1M83.6 80.3h1.1M89.1 82.5h1.1M92.8 85.1h1.1M71.8 75.7h1.1M85.7 84.3h1.1M87.5 87.2h1.1M61.1 65.2h1.1M96 85.8h1.1M85.9 85h1.1M79.8 84.5h1.1M62.6 67h1.1M92.1 88.3h1.1M60.3 68.2h1.1M80.4 78.9h1.1M69.6 77.2h1.1M79.7 80.6h1.1M72.7 77.3h1.1M84.5 83.9h1.1" stroke="#2424ff" stroke-width="1.1" stroke-opacity="0.88" fill="none"/>
<path d="M198.4 24V94.4H295.9" stroke="#606060" stroke-width=".6" fill="none"/>
<text x="196" y="95.8" font-size="4.0" text-anchor="end" font-family="Liberation Sans,sans-serif" fill="#000">0</text>
<text x="196" y="60.6" font-size="4.0" text-anchor="end" font-family="Liberation Sans,sans-serif" fill="#000">500</text>
<text x="196" y="25.4" font-size="4.0" text-anchor="end" font-family="Liberation Sans,sans-serif" fill="#000">1000</text>
<text x="198.4" y="100.7" font-size="4.0" text-anchor="middle" font-family="Liberation Sans,sans-serif" fill="#000">0</text>
<text x="217.9" y="100.7" font-size="4.0" text-anchor="middle" font-family="Liberation Sans,sans-serif" fill="#000">200</text>
<text x="237.4" y="100.7" font-size="4.0" text-anchor="middle" font-family="Liberation Sans,sans-serif" fill="#000">400</text>
<text x="256.9" y="100.7" font-size="4.0" text-anchor="middle" font-family="Liberation Sans,sans-serif" fill="#000">600</text>
<text x="276.4" y="100.7" font-size="4.0" text-anchor="middle" font-family="Liberation Sans,sans-serif" fill="#000">800</text>
<text x="295.9" y="100.7" font-size="4.0" text-anchor="middle" font-family="Liberation Sans,sans-serif" fill="#000">1000</text>
<path d="M198.4 94.4h-1.4M198.4 59.2h-1.4M198.4 24h-1.4M198.4 94.4v1.4M217.9 94.4v1.4M237.4 94.4v1.4M256.9 94.4v1.4M276.4 94.4v1.4M295.9 94.4v1.4" stroke="#606060" stroke-width=".5" fill="none"/>
<text x="241.7" y="105.8" font-size="4.5" text-anchor="middle" font-family="Liberation Sans,sans-serif" font-weight="bold" fill="#000">Lateral distance (mm)</text>
<text transform="translate(186.1 58.6) rotate(-90)" font-size="4.47" text-anchor="middle" font-family="Liberation Sans,sans-serif" font-weight="bold">Longitudinal distance (mm)</text>
<path d="M198.4 94.4L198.4 80.3L208.2 80L219.6 76.2L223.9 76.8L225.6 80.3L225.2 87.4L223.3 91.2L221 94.4z" fill="#3820cc"/>
<path d="M253.5 80L254.5 80L255.5 80L256.6 80L257.6 80L258.6 80L259.6 80L260.7 80L261.7 80L262.7 80L263.7 80L264.7 80L265.8 80L266.8 80L267.8 80L268.8 80L269.9 80L270.9 80L271.9 80L272.9 80L274 80L275 80L276 80L277 80L278.1 80L279.1 80L280.1 80L281.1 80L282.2 80L283.2 80L284.2 80L285.2 80L286.2 80L287.3 80L288.3 80L289.3 80L290.3 80L291.4 80L292.4 80L293.4 80L294.4 80L294.4 94.4L293.4 94.4L292.4 94.4L291.4 94.4L290.3 94.4L289.3 94.4L288.3 94.4L287.3 94.4L286.2 94.4L285.2 94.4L284.2 94.4L283.2 94.4L282.2 94.4L281.1 94.4L280.1 94.4L279.1 94.4L278.1 94.4L277 94.4L276 94.4L275 94.4L274 94.4L272.9 94.4L271.9 94.4L270.9 94.4L269.9 94.4L268.8 94.4L267.8 94.4L266.8 94.4L265.8 94.4L264.7 94.4L263.7 94.4L262.7 94.4L261.7 94.4L260.7 94.4L259.6 94.4L258.6 94.4L257.6 94.4L256.6 94.4L255.5 94.4L254.5 94.4L253.5 94.4z" fill="#3820cc" fill-opacity="1"/>
<path d="M224.5 78.4L225.4 78.2L226.3 78L227.1 77.9L228 78L228.9 78.5L229.8 79L230.6 79.5L231.5 79.9L232.4 80.4L233.2 80.9L234.1 81.4L235 81.9L235.8 82.3L236.7 82.8L237.6 83.3L238.5 83.8L239.3 84.2L240.2 84.7L241.1 85.2L241.9 85.7L242.8 86.2L243.7 86.6L244.5 87.1L245.4 87.6L246.3 88.1L247.2 88.5L248 89L248.9 89.5L249.8 89.9L250.6 90.4L251.5 90.9L252.4 91.3L253.2 91.8L254.1 92.3L255 92.7L255.9 93.2L256.7 93.3L257.6 93.3L258.5 93.4L259.3 93.4L259.3 94.4L258.5 94.4L257.6 94.4L256.7 94.4L255.9 94.4L255 93.9L254.1 93.5L253.2 93L252.4 92.6L251.5 92.1L250.6 91.7L249.8 91.3L248.9 90.8L248 90.4L247.2 89.9L246.3 89.5L245.4 89L244.5 88.6L243.7 88.1L242.8 87.7L241.9 87.3L241.1 86.8L240.2 86.4L239.3 85.9L238.5 85.5L237.6 85L236.7 84.6L235.8 84.1L235 83.7L234.1 83.2L233.2 82.8L232.4 82.4L231.5 81.9L230.6 81.5L229.8 81L228.9 80.6L228 80.1L227.1 79.7L226.3 79.2L225.4 78.8L224.5 78.4z" fill="#1a1028" fill-opacity="1"/>
<path d="M224.5 78.4L225.4 77.7L226.3 77.1L227.1 76.6L228 76.5L228.9 77L229.8 77.5L230.6 78L231.5 78.5L232.4 79L233.2 79.5L234.1 80L235 80.5L235.8 81L236.7 81.5L237.6 82L238.5 82.6L239.3 83.1L240.2 83.6L241.1 84.1L241.9 84.6L242.8 85L243.7 85.5L244.5 86L245.4 86.5L246.3 87L247.2 87.5L248 88L248.9 88.5L249.8 89L250.6 89.5L251.5 90L252.4 90.5L253.2 90.9L254.1 91.4L255 91.9L255.9 92.4L256.7 92.5L257.6 92.6L258.5 92.7L259.3 92.7L259.3 93.7L258.5 93.7L257.6 93.6L256.7 93.6L255.9 93.5L255 93.1L254.1 92.6L253.2 92.2L252.4 91.7L251.5 91.2L250.6 90.8L249.8 90.3L248.9 89.9L248 89.4L247.2 88.9L246.3 88.5L245.4 88L244.5 87.5L243.7 87.1L242.8 86.6L241.9 86.1L241.1 85.7L240.2 85.2L239.3 84.7L238.5 84.3L237.6 83.8L236.7 83.3L235.8 82.8L235 82.4L234.1 81.9L233.2 81.4L232.4 81L231.5 80.5L230.6 80L229.8 79.6L228.9 79.1L228 78.6L227.1 78.4L226.3 78.4L225.4 78.4L224.5 78.4z" fill="#d850c8" fill-opacity="0.8"/>
<path d="M224.5 78.4L225.4 75.9L226.3 73.6L227.1 71.4L228 70.4L228.9 71L229.8 71.6L230.6 72.2L231.5 72.9L232.4 73.5L233.2 74.1L234.1 74.7L235 75.3L235.8 75.9L236.7 76.5L237.6 77.1L238.5 77.7L239.3 78.3L240.2 78.9L241.1 79.5L241.9 80.1L242.8 80.6L243.7 81.2L244.5 81.8L245.4 82.4L246.3 83L247.2 83.5L248 84.1L248.9 84.7L249.8 85.3L250.6 85.8L251.5 86.4L252.4 86.9L253.2 87.5L254.1 88L255 88.6L255.9 89.1L256.7 89.3L257.6 89.5L258.5 89.7L259.3 89.9L259.3 93L258.5 92.9L257.6 92.9L256.7 92.8L255.9 92.7L255 92.2L254.1 91.8L253.2 91.3L252.4 90.8L251.5 90.3L250.6 89.9L249.8 89.4L248.9 88.9L248 88.4L247.2 87.9L246.3 87.4L245.4 87L244.5 86.5L243.7 86L242.8 85.5L241.9 85L241.1 84.5L240.2 84L239.3 83.5L238.5 83L237.6 82.5L236.7 82.1L235.8 81.6L235 81.1L234.1 80.6L233.2 80.1L232.4 79.6L231.5 79.1L230.6 78.6L229.8 78.1L228.9 77.6L228 77.1L227.1 77.1L226.3 77.5L225.4 77.9L224.5 78.4z" fill="#48a058" fill-opacity="0.8"/>
<path d="M224.5 78.4L225.4 73.8L226.3 69.4L227.1 65.2L228 63.1L228.9 63.8L229.8 64.6L230.6 65.3L231.5 66.1L232.4 66.8L233.2 67.5L234.1 68.2L235 69L235.8 69.7L236.7 70.4L237.6 71.1L238.5 71.8L239.3 72.5L240.2 73.3L241.1 74L241.9 74.7L242.8 75.4L243.7 76L244.5 76.7L245.4 77.4L246.3 78.1L247.2 78.8L248 79.4L248.9 80.1L249.8 80.7L250.6 81.4L251.5 82L252.4 82.7L253.2 83.3L254.1 83.9L255 84.5L255.9 85.1L256.7 85.5L257.6 85.9L258.5 86.2L259.3 86.5L259.3 90.6L258.5 90.5L257.6 90.3L256.7 90.1L255.9 89.9L255 89.4L254.1 88.9L253.2 88.3L252.4 87.8L251.5 87.3L250.6 86.7L249.8 86.2L248.9 85.6L248 85.1L247.2 84.5L246.3 84L245.4 83.4L244.5 82.9L243.7 82.3L242.8 81.7L241.9 81.2L241.1 80.6L240.2 80L239.3 79.5L238.5 78.9L237.6 78.3L236.7 77.8L235.8 77.2L235 76.6L234.1 76L233.2 75.4L232.4 74.9L231.5 74.3L230.6 73.7L229.8 73.1L228.9 72.5L228 71.9L227.1 72.7L226.3 74.5L225.4 76.4L224.5 78.4z" fill="#e02848" fill-opacity="0.8"/>
<path d="M224.5 78.4L225.4 70.8L226.3 63.4L227.1 56.4L228 52.8L228.9 53.7L229.8 54.6L230.6 55.5L231.5 56.4L232.4 57.3L233.2 58.2L234.1 59.1L235 60L235.8 60.9L236.7 61.8L237.6 62.7L238.5 63.6L239.3 64.4L240.2 65.3L241.1 66.2L241.9 67L242.8 67.9L243.7 68.7L244.5 69.5L245.4 70.4L246.3 71.2L247.2 72L248 72.8L248.9 73.6L249.8 74.4L250.6 75.1L251.5 75.9L252.4 76.7L253.2 77.4L254.1 78.1L255 78.8L255.9 79.5L256.7 80.1L257.6 80.7L258.5 81.3L259.3 81.7L259.3 87.1L258.5 86.8L257.6 86.5L256.7 86.2L255.9 85.8L255 85.2L254.1 84.6L253.2 84L252.4 83.4L251.5 82.8L250.6 82.1L249.8 81.5L248.9 80.9L248 80.2L247.2 79.6L246.3 78.9L245.4 78.2L244.5 77.6L243.7 76.9L242.8 76.2L241.9 75.6L241.1 74.9L240.2 74.2L239.3 73.5L238.5 72.8L237.6 72.1L236.7 71.4L235.8 70.7L235 70L234.1 69.3L233.2 68.6L232.4 67.9L231.5 67.2L230.6 66.5L229.8 65.8L228.9 65L228 64.3L227.1 66.2L226.3 70.1L225.4 74.2L224.5 78.4z" fill="#4434e0" fill-opacity="0.55"/>
<path d="M210.4 86.9h1.8M222.7 82.3h1.8M214.7 92.1h1.8M206.7 81.3h1.8M210.4 88.6h1.8M220.1 85.8h1.8M217.1 85.6h1.8M218.8 77.3h1.8M218.1 91.2h1.8M207 81.6h1.8M213.8 94.5h1.8M214 77.9h1.8M206.1 89.2h1.8M222.7 80.2h1.8M214.9 93.6h1.8M202.3 81h1.8M199 85.9h1.8M214.1 90.6h1.8M198.8 82.8h1.8M200.9 84.6h1.8M211.2 80.1h1.8M219.4 94h1.8M220.1 87.8h1.8M214.6 93.2h1.8M218.4 82.4h1.8M218.4 89.1h1.8M207.4 82.9h1.8M197.5 83.6h1.8M206.1 81.5h1.8M211.7 89h1.8M203.9 90.2h1.8M198 91.1h1.8M214.9 83.6h1.8M216.5 87.1h1.8M203.9 90.6h1.8M217.4 93.3h1.8M215.5 87h1.8M211 86h1.8M198.5 92.4h1.8M209.5 81.9h1.8M201.5 89.4h1.8M217 82.2h1.8M216.7 94.4h1.8M213.6 86.6h1.8M198.1 91.9h1.8M197.6 89.8h1.8M216.4 78.8h1.8M221.9 91h1.8M220.5 84.6h1.8M205.7 87.6h1.8M205.3 85.3h1.8M206.6 90.6h1.8M200.4 81.9h1.8M220.8 84h1.8M198.8 82.2h1.8M215.4 92.2h1.8M223.5 81.7h1.8M219.1 80.6h1.8M218.7 79.5h1.8M200.6 87.1h1.8M214.3 91.1h1.8M200.1 89.3h1.8M200.3 86.9h1.8M207.7 87.3h1.8M203.2 81.8h1.8M211.8 86.8h1.8M217.9 92.2h1.8M202.8 88.7h1.8M197.6 82.2h1.8M209.4 80.8h1.8M214.7 87.1h1.8M204 82.4h1.8M215.3 81.1h1.8M201.7 93.7h1.8M213.8 87h1.8M288.4 92.2h1.8M282.5 79.8h1.8M254.4 89.8h1.8M254.9 93.5h1.8M253.8 84.5h1.8M282.4 93.2h1.8M280.1 92.1h1.8M268.6 81.9h1.8M281.4 92h1.8M290.2 91.1h1.8M291.1 93.1h1.8M263.1 85.3h1.8M271.4 84.4h1.8M293.5 94.2h1.8M256.5 81.5h1.8M277.6 91.6h1.8M288.6 83h1.8M261.8 89.2h1.8M273.8 93.5h1.8M282.4 88.5h1.8M265.4 93.3h1.8M281.1 83.6h1.8M254.2 94.2h1.8M272.3 83.5h1.8M253.7 87.9h1.8M292.9 92.3h1.8M284.9 93.8h1.8M254.7 81.3h1.8M290.7 92.5h1.8M267.3 91.8h1.8M261.1 80.2h1.8M259 87h1.8M278.7 83h1.8M259.7 91.5h1.8M253.8 87.6h1.8M273.6 89.6h1.8M255.7 84.2h1.8M269.1 92.2h1.8M263.3 88.9h1.8M255.8 88.1h1.8M257.4 79.8h1.8M281.6 84.5h1.8M266.9 93.8h1.8M274.6 89.8h1.8M260.4 87.7h1.8M292.2 94h1.8M278.9 81.1h1.8M257.7 88.4h1.8M252.9 90.2h1.8M277.6 83.8h1.8M279 90.6h1.8M259.2 81.2h1.8M274.6 93.7h1.8M276.2 90.8h1.8M259.3 93.8h1.8M290.3 91.2h1.8M272.5 94.1h1.8M266.6 88.5h1.8M274.1 92.3h1.8M263.9 85.4h1.8M272 91.8h1.8M277.2 79.9h1.8M273.7 82.2h1.8M291.9 91.9h1.8M267 83h1.8M283.9 80.4h1.8M292 87.4h1.8M282.5 92.5h1.8M284.2 83.5h1.8M270 90.2h1.8M266.6 90.9h1.8M288.5 94.3h1.8M271.1 91.6h1.8M265.8 84.6h1.8M261.5 86.4h1.8M287.5 91.8h1.8M278.7 94.2h1.8" stroke="#000000" stroke-width=".8" stroke-opacity="0.6" fill="none"/>
<path d="M214.8 81.4h1M220.2 81.1h1M209.8 93.9h1M209.8 80.7h1M217.7 89.2h1M210.2 89.1h1M220.4 93.7h1M215.4 80.6h1M203.5 80.3h1M211.3 91.8h1M220.3 91.2h1M214.3 78.1h1M219.4 82.7h1M209.5 84.4h1M198.4 87.2h1M214.6 90.8h1M216.4 83.1h1M221.9 84h1M206.3 82.1h1M219.5 82.2h1M223.4 78.4h1M208 89.8h1M200.7 94.5h1M202.3 83.8h1M223.5 82.1h1M205.1 86.5h1M216.9 90h1M216.1 79.6h1M220.2 88.6h1M220.6 83.2h1M200.6 83.3h1M209.1 93.2h1M200 83.8h1M217.3 80.2h1M201 82.7h1M209 85.9h1M203.7 81.4h1M217.2 87.1h1M219.2 85.5h1M201.4 87h1M217.7 87.3h1M220 78.4h1M208.6 86h1M203.8 88.7h1M215.8 93.4h1M199.6 81.6h1M216.1 77.8h1M204.6 92.8h1M203.5 81.9h1M204.5 84h1M207.9 94.5h1M213.1 91.8h1M214.9 93h1M204 84.1h1M218.5 84.9h1M211.3 80.2h1M224 84.8h1M199.6 89.8h1M215 91h1M202.5 91.3h1M222.7 76.6h1M211.7 79.1h1M210.4 86.1h1M205.7 94.4h1M207.1 85.7h1M222.9 84.8h1M206.7 84.2h1M221.9 79.4h1M222 80.6h1M203 93.9h1M219.6 82.4h1M279.8 84.6h1M260 89.6h1M274.1 88.7h1M284.4 92.7h1M263 92.9h1M284.6 79.8h1M290.5 91.7h1M286.4 88.7h1M275.8 85.6h1M274.7 84.1h1M274.2 92.4h1M263.2 83.8h1M285.9 91.3h1M257.5 86.8h1M274.9 91.3h1M292.9 79.9h1M270.5 90.6h1M277.7 90.8h1M288.7 92.5h1M277.5 80.4h1M284.4 85.6h1M274.4 80.4h1M264.7 87.4h1M275.9 80.7h1M282.4 91.1h1M267.1 94.7h1M268.7 79.8h1M281.8 91h1M278.1 81.6h1M258.2 84.1h1M287.1 85.1h1M254.8 80.5h1M272 81.5h1M291.9 89.3h1M293.5 85.3h1M254.6 85h1M289.7 83.4h1M267.8 83.5h1M253.1 85.9h1M255.2 85.3h1M291.1 89.6h1M286.9 83.3h1M255.1 90h1M270.7 92.9h1M287.9 89.4h1M257.1 91.2h1M262.5 81.8h1M268.1 92.8h1M285.8 83.7h1M276.2 83.4h1M269.3 90.5h1M253.8 84.9h1M281.5 80h1M281.5 86.3h1M288.9 81.7h1M272.4 90h1M284.5 80.7h1M293.1 80.9h1M271.3 79.8h1M272.4 90.9h1M255.7 79.7h1M278.7 93h1M256.3 81.7h1M271.5 84.8h1M269.5 86.8h1M257.2 94.6h1M279.6 91.7h1M275.7 84.6h1M256.2 81.2h1M292.6 83.1h1M254.4 89h1M290.7 93.8h1M259.2 92.7h1M272.8 93.1h1M278.4 85.4h1M290.2 80.6h1M262 87.8h1M280.7 84.8h1M279.1 86.7h1M276 92.1h1M293.3 83.4h1M272.9 80.2h1M285.8 87h1M289.8 86h1M262.3 90.3h1M260.5 93.8h1M290.5 83.7h1M264.1 92.2h1M269.4 93.4h1M290.1 89.3h1M264.2 83h1M289.7 92.2h1M281.6 94h1M262.8 79.9h1M265.9 90.5h1M253.5 93.8h1M258.5 87.2h1M272.1 83.6h1M289.3 81h1M261.3 85.2h1M278.6 83.8h1M256.5 83.4h1M291.4 90.3h1M292.5 88h1M260.6 87.6h1M263.4 93.4h1M268.1 88.6h1M272.8 94.6h1M268.2 85.8h1" stroke="#ff55ee" stroke-width="1" stroke-opacity="0.6" fill="none"/>
<path d="M201 82.2h1M219.9 85.6h1M214.3 88.4h1M212.5 89.5h1M208.9 93h1M210.2 91.4h1M212 87.1h1M211.8 83h1M217.1 83.7h1M215 78.8h1M219.7 91.8h1M207.3 89.2h1M213.6 88.1h1M210.5 86.3h1M201 83.8h1M214.2 92.5h1M202.2 92.8h1M213.7 85.9h1M214.1 91.6h1M221.8 88.2h1M220.9 76.4h1M201.4 87.5h1M206.4 82.1h1M210.9 84.8h1M206.8 91.5h1M210 84.1h1M200.5 88.6h1M202.4 91.1h1M206.3 81.8h1M222.2 77.4h1M223.8 84.4h1M208.3 87.1h1M214.6 79.7h1M221.3 83.8h1M220 80.8h1M208.7 83.8h1M222.3 81.8h1M205.6 94.6h1M208.8 87.1h1M288.2 82.8h1M282.7 88.6h1M283.5 88.6h1M257.6 85.9h1M256.4 92.3h1M258.9 86.2h1M287.4 86.4h1M280.9 94.5h1M256.2 94.4h1M268.6 88.3h1M284.5 81h1M278.6 86.5h1M272.1 90.2h1M278.5 79.9h1M264.2 86.5h1M255.7 81.8h1M275.9 89.7h1M279.3 93.6h1M269.2 81.3h1M254.5 85.7h1M272.5 83.6h1M264.7 82.6h1M266 91.7h1M282.6 81h1M267.4 80.9h1M269.1 90.2h1M280.3 85.3h1M264.9 87.5h1M287.4 88.6h1M259.4 86h1M260.9 91.8h1M266.7 83.3h1M254.9 88.1h1" stroke="#00a83c" stroke-width="1" stroke-opacity="0.6" fill="none"/>
<path d="M214.1 92.6h1M201.7 86.1h1M222.3 91.8h1M219.2 86.8h1M198.7 93.1h1M199.7 91.8h1M209.8 89.1h1M205.1 86.6h1M223.6 79.6h1M201.9 89.9h1M202.6 90.5h1M215.6 85.7h1M217.6 92.1h1M213.9 84.1h1M201.6 86.1h1M218 89.1h1M216.2 91.3h1M208.7 94h1M205.3 92.8h1M224.5 79.2h1M203.6 81.9h1M215 84.7h1M218.2 77h1M221.7 78.9h1M212.3 88.2h1M202 83.2h1M224.1 79.2h1M222.2 78.4h1M201.7 94h1M206.9 89.7h1M207.5 90h1M213.3 81h1M215.4 82.1h1M199.7 92.4h1M217.7 84.3h1M219.9 80.6h1M213.6 86.1h1M205.4 94.6h1M216.4 93.6h1M202.2 94.1h1M220.9 91h1M223.4 80.3h1M203.9 94.5h1M220.5 76.6h1M219 87.1h1M204.1 94.6h1M199.8 86.3h1M203.2 85.5h1M220.2 83.2h1M198.3 84.9h1M203.3 86.8h1M223.9 86.6h1M202.2 85.6h1M220.3 87.3h1M216.8 80.9h1M214.9 81.1h1M263.8 87.8h1M292.9 91.7h1M253.1 88.4h1M263.3 87h1M274.8 90.7h1M272.5 85.9h1M266.6 85.4h1M265.2 83.2h1M256.8 82.3h1M267.7 91h1M281.7 94h1M273 86.5h1M265.8 81.2h1M287.3 85.7h1M276.3 82.1h1M265.4 85.7h1M280.4 85.1h1M281 80.9h1M288.7 85.5h1M278.8 85.8h1M277.8 93.4h1M265.1 83.5h1M282.4 88h1M290.1 80.8h1M269.3 93.1h1M267.4 88.2h1M267.4 86.4h1M267.7 82.1h1M255.7 93.4h1M287.6 80.7h1M255.4 91.8h1M269.9 89.7h1M287.6 81.9h1M257.5 82.5h1M267.6 84.9h1M291 82.2h1M260.5 84.1h1M274.3 85.3h1M261.2 85.3h1M285.5 81h1M260 90h1M258.9 84.9h1M288.9 85.7h1M284.7 86.2h1M278.6 88.3h1M266 82.3h1M291.5 87.8h1M286.6 91.6h1M293.4 91.3h1M293.4 90.9h1M259.5 82.9h1M283.3 81.9h1M290.4 79.7h1M253.9 80h1M271.8 91.9h1M271.8 81.8h1M262.5 87.1h1M281.1 93.7h1M264.5 93.2h1M278.3 81h1M262.3 82.5h1M258.9 83.2h1M292.1 83.8h1M273.9 91.7h1M275.1 92.2h1M260.4 89.4h1M282.2 81.4h1M268.6 79.8h1M273.8 81.9h1M270.2 91.5h1M275.6 80.5h1M292.5 83.1h1M272.5 92.5h1M253.7 90h1M281.1 85.3h1M281.5 86.8h1M267.6 90.2h1M255.7 80.7h1M263.8 89.6h1M272.9 87.9h1M288.9 88.1h1M275.9 86.7h1M266.9 79.8h1M274.8 87.5h1M258.1 87h1M255.1 92.9h1M267.4 91.6h1" stroke="#ff1010" stroke-width="1" stroke-opacity="0.6" fill="none"/>
<path d="M208.8 79.8h1M198.2 84.4h1M224.2 84.8h1M221.2 86.8h1M217.8 87h1M202.1 93.1h1M218.6 94.6h1M208.6 89.3h1M199.1 92.3h1M206.6 89.3h1M217.2 83h1M206.1 89.9h1M209.3 83.4h1M221.8 87h1M223.1 76.8h1M199.1 88h1M218.8 90.2h1M223.4 76.8h1M199.2 93.4h1M209.1 88.1h1M221.8 82.1h1M217.3 85h1M200.9 80.5h1M201.1 93.9h1M208.3 86.4h1M219.4 89.7h1M200.2 82.4h1M200 87.2h1M217.3 84.9h1M215.1 87.5h1M198.2 93.6h1M210.8 91h1M210.9 88.9h1M204.8 91.7h1M203.6 92.5h1M218.7 86.3h1M224.3 81.2h1M222.6 76.4h1M215.9 90.4h1M209.7 94.5h1M207.9 92.1h1M200.7 84.7h1M212.2 87.2h1M223.5 77.3h1M215 86.8h1M214.6 89.9h1M206.6 86.4h1M203.4 84.9h1M208.2 87h1M208.5 93.8h1M198.2 87.8h1M215.2 90.2h1M205.5 85.2h1M217.3 91.7h1M218 80.7h1M220.9 78.4h1M214.5 82h1M198.9 81h1M202.4 86.2h1M204.3 87.6h1M208.1 91.9h1M213.5 80.3h1M214.8 87h1M210.3 84h1M220.1 92.8h1M217.8 88.2h1M200.4 81.1h1M221.4 83.8h1M200.6 91.7h1M198.4 91.3h1M211.8 84.5h1M219.9 87.6h1M207.6 85.1h1M222.8 83.2h1M200.6 82.7h1M204.4 91.6h1M202.2 91h1M203.9 84.8h1M213.2 86.4h1M219.3 83.2h1M222.5 89.5h1M222.8 80.2h1M215.9 91.1h1M222.3 83.6h1M216.6 83.7h1M200.9 87.7h1M220.5 88.6h1M223.8 83.8h1M199 82.7h1M217.9 90.1h1M203.5 89.7h1M220.5 90.6h1M223.4 78.6h1M213.7 78.8h1M223.6 77h1M217.9 92.9h1M199.3 85.3h1M220.6 85.6h1M221.7 79.9h1M217.5 82.8h1M219.1 86.7h1M211.5 87.7h1M217.7 90.7h1M200.7 86.5h1M210.1 84.4h1M199.8 86.4h1M206 80.7h1M221.6 78h1M204.3 89.1h1M217.2 90.5h1M198.5 84.8h1M213 94.1h1M213.1 79.2h1M219 87.1h1M217.6 84.3h1M204.2 86.1h1M209.6 85.1h1M213.1 91.4h1M221.6 86.6h1M217.9 87.9h1M203.7 94.6h1M210 81.8h1M220 91.7h1M203.9 94.3h1M205.3 90.5h1M204.2 91.4h1M212.1 87.3h1M208.2 94.2h1M215 78h1M208.5 88.2h1M206.3 90.4h1M203.7 85h1M200.4 81h1M208.1 91.5h1M221.4 79.6h1M218.3 87.6h1M202.9 83.6h1M202.5 81.2h1M199 83h1M216.2 79.6h1M205.5 82.2h1M216.9 83.5h1M215 78.7h1M205 81.8h1M223.6 78.7h1M207.8 82.7h1M223.9 82.8h1M217.4 82.8h1M211.5 87.4h1M200.5 93.9h1M216.9 81.4h1M224.1 84.3h1M199.3 90.1h1M200.3 92.3h1M210.9 87.9h1M207.2 90h1M219.6 85.1h1M214.1 81.1h1M225 80.5h1M216.1 77.8h1M209.9 79.5h1M205.8 93.5h1M203.7 92h1M212.4 93.8h1M208.2 86.4h1M219.3 77h1M223.3 80.4h1M211.4 91.6h1M219.2 93.5h1M219.9 77.1h1M209.2 84.6h1M222.4 77.1h1M212.2 91.3h1M218.1 78.4h1M198.1 93.8h1M219.1 88.7h1M201.2 80.3h1M218 85.2h1M209.4 94.3h1M206.7 93.1h1M220.3 94h1M205 83.8h1M199.6 85.8h1M202.8 80.8h1M212.8 89.1h1M205.9 92.9h1M217.1 78h1M217.1 84h1M213.1 83.9h1M280.3 84.3h1M287.5 91.6h1M280.6 86.6h1M276.7 90.8h1M268.4 83h1M261 91.4h1M253.7 87h1M255.2 91.4h1M292.5 88.9h1M288.1 94.3h1M274.5 89.6h1M256.5 89.4h1M269 89.6h1M254.3 90.3h1M254.8 85.2h1M273.3 92.7h1M291 90.4h1M278.1 89.9h1M273.7 86.7h1M265.1 90.9h1M274.4 94.1h1M254.2 87.9h1M292.8 94.1h1M285.8 84.5h1M262.9 80.8h1M278.7 79.8h1M286.1 94.1h1M282.7 92h1M276.7 94.4h1M279 82.8h1M284.2 90.9h1M264.3 91.4h1M254.4 94.1h1M274.8 91.3h1M260.4 80h1M275.1 86.1h1M253 92.9h1M269.3 86.2h1M255.3 90.3h1M254.7 86.2h1M254.9 91.8h1M289.6 89.3h1M260.2 90.1h1M271.3 84.5h1M268.7 89.5h1M274.5 94.1h1M279.1 86.9h1M280.9 92h1M273.4 82.4h1M286.4 88.8h1M257.8 87.2h1M253.7 86.3h1M254.1 84.2h1M263.3 91.5h1M292.7 91.2h1M274.2 86.1h1M262.7 79.8h1M261.7 92.1h1M273.6 88.5h1M270 92.5h1M270.3 89h1M286.3 92.5h1M287.2 85.6h1M271.2 85h1M284.5 91.7h1M254.8 83.9h1M284.5 93h1M274.5 87.7h1M271.7 80.2h1M270.8 94.3h1M255.2 90.6h1M281 93.5h1M292.8 86.8h1M277.6 85.8h1M289.6 87.2h1M293.3 94.1h1M269.9 81.9h1M271.6 90.2h1M262.2 81.4h1M269.2 90h1M285.9 93h1M281.5 83.4h1M283.2 81.9h1M280.4 92.6h1M258.4 90h1M267.2 84.3h1M274.9 93.8h1M270.4 93h1M283.3 93.2h1M288.9 79.9h1M279.6 84.1h1M274.3 89.4h1M274.4 82.3h1M286.7 91h1M276.7 94.5h1M274.3 82.6h1M270 83.3h1M254.7 82.9h1M287.5 80.3h1M289.6 83.4h1M254.8 89.7h1M268.1 83.3h1M280.8 84.3h1M286.4 87.6h1M259.3 84.5h1M264.9 86.8h1M265 91.7h1M272.8 87.2h1M280.6 87.2h1M271.5 80.8h1M291.8 93.7h1M286.1 80.2h1M255.8 93.7h1M276.4 89.3h1M282.6 89h1M288.4 81.9h1M265.4 84.5h1M276.4 87.4h1M253.6 94.3h1M274.4 84.5h1M266.8 81.5h1M283.2 87.6h1M271.1 93.4h1M277.3 90.6h1M261.4 84.9h1M286.6 84.1h1M265.5 90.3h1M268.2 81.6h1M278.2 79.7h1M278.8 88.9h1M286.4 90.9h1M266 81.7h1M278.4 82.9h1M286.9 84h1M280.5 88.5h1M287.2 80h1M283.4 81.5h1M272.3 81.8h1M292.5 89.2h1M289.7 89.7h1M291.2 85.3h1M284.8 82.9h1M285.3 82.5h1M272.1 81.9h1M275.9 86.8h1M286.9 92.8h1M261.2 85.2h1M293.4 83.6h1M262.1 90.2h1M287.6 84.2h1M277.1 90.9h1M260.2 85.8h1M259.3 89.9h1M287.7 83.8h1M287.9 83.3h1M257.6 94.6h1M285 85.2h1M257.4 92h1M274.5 87.5h1M269.1 91.2h1M287.8 92.9h1M262.1 81.6h1M271.6 93.2h1M263.8 85.1h1M264.1 80.1h1M269 87h1M253.4 81.6h1M257.5 84.7h1M289 85.5h1M253.8 92.2h1M260.5 90.6h1M293 82.5h1M278.9 87.4h1M292.7 92h1M257.9 89.1h1M289 92.8h1M257.2 89.7h1M291.5 88.3h1M283.6 82.8h1M265 86.7h1M270.5 90.2h1M292.9 93.4h1M286.7 91.6h1M267.4 92.6h1M266.1 87.6h1M265.3 85.8h1M289.6 93.9h1M280 82h1M256.3 93.5h1M276.1 86.3h1M273.1 93.8h1M266.1 80.2h1M259.3 79.9h1M277 94.7h1M279.9 87.8h1M260.2 91.9h1M269.1 84.3h1M259.6 86.7h1M256.2 87.9h1M260.9 83.7h1M291.3 92.6h1M255.1 86.7h1M271.4 90.9h1M255.7 91.8h1M267.1 87.7h1M273.1 87.5h1M275.3 92.7h1M255.6 92h1M280.6 79.8h1M287.1 89.2h1M271.1 81.5h1M293.7 87.4h1M289.5 80.5h1M290.5 80.5h1" stroke="#2424ff" stroke-width="1" stroke-opacity="0.6" fill="none"/>
<path d="M217.7 69.3h1.8M212.7 70.3h1.8M222.7 59.6h1.8M216.3 73.4h1.8M215.5 66.1h1.8M217.4 65.8h1.8M209.8 75.5h1.8M209 78.1h1.8M220.9 67.5h1.8M216.3 70.5h1.8M219.3 63.5h1.8M210.1 72.8h1.8M217.7 76.2h1.8M212.4 69h1.8M213.4 75h1.8M220.1 74.5h1.8M209.1 73h1.8M212.5 71h1.8M221.9 65.8h1.8M216.1 73.3h1.8M220.3 60.2h1.8M205.3 78.8h1.8M220.6 67h1.8M216.8 70.7h1.8M210.3 76.1h1.8M213.3 73.3h1.8M211.7 76.6h1.8M217.6 69.5h1.8M211.1 74.9h1.8M222.3 65.4h1.8M217.4 70.5h1.8M222.2 65.9h1.8M222.9 65.5h1.8M217.3 68.8h1.8M212 73.3h1.8M211 74.4h1.8M210.8 73.5h1.8M211.8 75.5h1.8M219.7 69h1.8M217.1 71.7h1.8M221.8 65.3h1.8M217.5 69.3h1.8M211.3 74.8h1.8M219.8 65.7h1.8M212.3 74.2h1.8M215.5 71.4h1.8M222.2 65.3h1.8M217.3 70h1.8M211.6 73.1h1.8M221.9 63.8h1.8M210 77.4h1.8M209.2 77.7h1.8M216.6 70.7h1.8M215.5 70.9h1.8M213.1 74.5h1.8M210.3 76.4h1.8M222.5 62.1h1.8M214 69.9h1.8M210.5 72.3h1.8M222 63.3h1.8M214.1 70.1h1.8M210.7 71.9h1.8M214.2 68.1h1.8M220.9 63.5h1.8M211 73h1.8M220.3 63h1.8M209.8 73.4h1.8M220.5 62.9h1.8M221.5 61.2h1.8M213.6 68.3h1.8M211.5 70.4h1.8M209.7 71.7h1.8M213.1 66.5h1.8M213.7 68.6h1.8M218.6 66h1.8M211 70.3h1.8M221.2 62.7h1.8M219.6 63.4h1.8M219.1 65.5h1.8M211.8 72.2h1.8M212.9 69.9h1.8M212.5 69.9h1.8M214.4 68.2h1.8M212.1 72.1h1.8M212.8 68.7h1.8M217.5 64.8h1.8M221.9 62.8h1.8M215.1 69.4h1.8M211.4 69.8h1.8M214.4 68.8h1.8M217.5 62.7h1.8M213.8 65.1h1.8M210.8 69.4h1.8M222.7 59h1.8M215.7 65.3h1.8M216.3 63.1h1.8M222.7 58.5h1.8M215 65.5h1.8M217.5 64.2h1.8M214.7 62.8h1.8M221.6 59.2h1.8M212 67.8h1.8M217.3 63.2h1.8M213 67.5h1.8M216.1 63.2h1.8M222.2 57.7h1.8M210.1 70h1.8M210.3 68.2h1.8M216.4 64.1h1.8M222.8 59.3h1.8M212.7 66.6h1.8M218.2 62.5h1.8M209.4 68.2h1.8M213.8 68.1h1.8M209.7 68.8h1.8M222.7 56.9h1.8M222.4 57.8h1.8M219.8 61.2h1.8M214 64.1h1.8M214.9 64.1h1.8M223.5 58.2h1.8M214.9 64.2h1.8M211.1 71.2h1.8M222.6 57.2h1.8M220.6 54.3h1.8M217.1 63h1.8M224.2 51.1h1.8M219.4 37.9h1.8M218 57h1.8M226.4 64.2h1.8M217.7 33.3h1.8M221.5 36.2h1.8M219.6 33.9h1.8M220.6 57.1h1.8M217.5 53.7h1.8M220.9 55.3h1.8M223.5 51.3h1.8M215 45.2h1.8M223 33h1.8M224.6 58.4h1.8M214.7 59.3h1.8M223.6 33.1h1.8M223 52.2h1.8M219.8 32.6h1.8M218 37.8h1.8M222 63.9h1.8M219.6 38.1h1.8M223.1 33h1.8M219.5 63.2h1.8M225.5 48.9h1.8M221 46h1.8M221.9 51.4h1.8M226.6 63.9h1.8M218 56.5h1.8M223.3 48.8h1.8M223.4 57.2h1.8M220.7 50.9h1.8M223.9 34.2h1.8M219 32.2h1.8M220.3 49.4h1.8M221.2 40.5h1.8M221.2 51.4h1.8M220.3 64h1.8M223.8 37.8h1.8M227.2 51.3h1.8M223.5 45.6h1.8M226.5 51.2h1.8M223.7 44.8h1.8M226.8 45.8h1.8M225.2 53.6h1.8M223.5 44.1h1.8M223.4 40.3h1.8M223.7 78.5h1.8M224.5 78.7h1.8M229.6 79.4h1.8M245.3 88.5h1.8M240.3 85.1h1.8M229.2 80.6h1.8M254.5 94.2h1.8M245.3 89.7h1.8M252.5 93h1.8M249.9 92h1.8M227.6 78.5h1.8M243.7 87.5h1.8M233.6 83.7h1.8M228.1 79.9h1.8M231 82.6h1.8M229.9 80.9h1.8M244.9 88h1.8M235.9 82.9h1.8M224.5 78.7h1.8M248.1 90.6h1.8M244.7 88.5h1.8M237.4 86h1.8M227.2 78.3h1.8M231.9 81.4h1.8M245 89.2h1.8M236.6 83h1.8M225.2 78.5h1.8M240.1 87.1h1.8M227.9 81.3h1.8M249.4 90.7h1.8M242 87.6h1.8M228.3 79.9h1.8M232.1 81h1.8M246 88.7h1.8M240.4 87.2h1.8M240.5 86.6h1.8M252.5 92.6h1.8M230.3 80.1h1.8M230.3 79.7h1.8M233 83.6h1.8M244 87.8h1.8M232.5 83.5h1.8M237.9 84.6h1.8M225.1 78.3h1.8M229.3 81h1.8M238.1 85.5h1.8M247.4 90.7h1.8M225.3 79.7h1.8M224.8 78h1.8M236.7 84.6h1.8M237.1 83.9h1.8M231.3 82.9h1.8M225.3 78.5h1.8M233.5 82.5h1.8M257.4 94.3h1.8M239.4 86.5h1.8M251.9 91.5h1.8M235.1 82.5h1.8M234.9 82.5h1.8M232.5 81.2h1.8M236.1 84.1h1.8M253 92.2h1.8M246.1 88.8h1.8M244 88.9h1.8M238.7 84.2h1.8M244.2 87.8h1.8M243.5 89.2h1.8M251.5 92.3h1.8M236.8 85.4h1.8M250.2 90.9h1.8M233 83.6h1.8M226.1 80.6h1.8M233.9 82.7h1.8M243.2 87h1.8M241.6 87.3h1.8M243.9 87.4h1.8M226.1 78.4h1.8M251.9 92.7h1.8M233.6 81.7h1.8M251.2 92.3h1.8M231.7 82.7h1.8M229.9 79.5h1.8M250.5 92h1.8M244.6 87.9h1.8M249.8 91.4h1.8M240.7 87.1h1.8M247.1 89.3h1.8M253.7 93.6h1.8M226.4 79.2h1.8M233.7 84h1.8M244 87.1h1.8M248.3 90.2h1.8M230.9 80.8h1.8M243.9 89.2h1.8M257.9 94.3h1.8M256.9 94.3h1.8M248.2 90.2h1.8M250.6 92.7h1.8M237 83.5h1.8M227.6 78.4h1.8M244.6 88.4h1.8M228 80.7h1.8M230.7 81.9h1.8M237.5 83.9h1.8M240.2 86h1.8M231.5 83h1.8M237.8 84.2h1.8M238 86.4h1.8M231.3 81.4h1.8M227.7 80h1.8M242.1 86.4h1.8M224.3 78.7h1.8M241.5 88.1h1.8M224 78.1h1.8M244.1 89.2h1.8M237.8 86h1.8M251.8 92.9h1.8M237.3 84.8h1.8M253.3 93.8h1.8M251.1 91h1.8M248.5 90h1.8M232.2 82h1.8M241.8 86.2h1.8M223.7 78.2h1.8M227.5 79.7h1.8M243.7 88.5h1.8M229.5 81.7h1.8M254.5 94.3h1.8M239.6 86.6h1.8M252.5 93.1h1.8M226.9 79.5h1.8M250.7 92.3h1.8M229 79.7h1.8M239.8 85.2h1.8M250.9 91.7h1.8M248 89.8h1.8M244.5 88.7h1.8M229.7 81.7h1.8M238.1 85.3h1.8M241.2 86.9h1.8M230.8 80.1h1.8M225.3 79.6h1.8M230.7 79.5h1.8M229.5 77.6h1.8M229.2 80h1.8M228.1 77.4h1.8M241.6 85.8h1.8M236.7 83.8h1.8M245.4 87.2h1.8M229 73.1h1.8M229.4 78.8h1.8M226.6 68.9h1.8M241.9 80.7h1.8M224.8 75h1.8M250.6 88.7h1.8M249.8 90h1.8M249.6 85.1h1.8M239.5 81.5h1.8M250.2 87.7h1.8M237.7 77.6h1.8M229.9 77.7h1.8M238.2 77.2h1.8M228.2 72h1.8M249.3 83.6h1.8M244.2 81h1.8M247.2 80.6h1.8M245.5 84.6h1.8M225 75.3h1.8M252.9 88.4h1.8M236.4 76.9h1.8M234.9 72.9h1.8M238.5 71.4h1.8M253.4 89.3h1.8M252 82.2h1.8M256.6 83.6h1.8M230.2 61.6h1.8M249.1 75.6h1.8M257.1 81.7h1.8M243.7 76.3h1.8M229.6 61.8h1.8M241 70.2h1.8M224.8 69.4h1.8M257.4 80.8h1.8M293.4 90h1.8M293.4 92.9h1.8M293.5 90.4h1.8M293.3 80.2h1.8M293.5 93.3h1.8M293.9 87.7h1.8M293.8 84.6h1.8M293.5 84.7h1.8M293.5 80h1.8" stroke="#000000" stroke-width=".8" stroke-opacity="0.72" fill="none"/>
<path d="M205.9 78.6h1.1M209 76.1h1.1M223.1 67.6h1.1M206.5 78.2h1.1M211.5 77.8h1.1M206.6 76.8h1.1M210.9 76.5h1.1M216.3 74.4h1.1M205.2 79.1h1.1M208.1 76.9h1.1M205.6 77.9h1.1M207.3 79.2h1.1M208 77h1.1M223.2 58.3h1.1M223.6 74.9h1.1M220.3 67.3h1.1M218 73.6h1.1M221.2 65.8h1.1M220.8 67.3h1.1M208.8 77.2h1.1M214.1 73.4h1.1M204.3 79.9h1.1M209.7 78.4h1.1M219.3 63.7h1.1M210.6 76.6h1.1M207.4 77.4h1.1M206.5 78.6h1.1M211.1 71.8h1.1M206.6 78.5h1.1M220.6 74h1.1M214.7 66.4h1.1M217.6 71.7h1.1M223.5 40.6h1.1M225 39.2h1.1M220.1 64.2h1.1M223.4 56.7h1.1M223.9 31.3h1.1M225.3 40.2h1.1M222.9 58.9h1.1M213.4 50.3h1.1M218 61.3h1.1M222 37.1h1.1M222.4 49.1h1.1M221.7 58.5h1.1M218.7 59h1.1M224.9 48.4h1.1M213.4 54.3h1.1M222.5 49h1.1M225.5 59.3h1.1M221.4 54.2h1.1M216.1 57h1.1M219.4 62.6h1.1M222.1 49.5h1.1M227.5 54.4h1.1M224.8 47.1h1.1M226.2 41.3h1.1M227.4 52h1.1M223.8 52.8h1.1M254 94h1.1M226.7 79.6h1.1M253 93.5h1.1M239.7 85.8h1.1M230.2 82h1.1M251.8 92.4h1.1M254.4 93.5h1.1M252 91.5h1.1M234 83.5h1.1M226.7 80.8h1.1M240.9 85.9h1.1M255.9 94.1h1.1M235.2 82.1h1.1M254.9 93.1h1.1M245.1 87.9h1.1M244.9 89.1h1.1M226.4 79.8h1.1M248 90.7h1.1M242 85.1h1.1M248.5 89.9h1.1M224 77.8h1.1M236.3 80.7h1.1M237.2 82.1h1.1M235.6 82.9h1.1M238.1 84.5h1.1M254.2 91.6h1.1M241.4 84.7h1.1M250.6 89.8h1.1M255.8 92.9h1.1M257 93.8h1.1M230.5 77.3h1.1M225 77.3h1.1M232.2 80.3h1.1M239.2 83.5h1.1M230.3 79.5h1.1M246.4 88.5h1.1M230.8 79h1.1M233.2 79.6h1.1M227.3 77.8h1.1M251.6 91.1h1.1M251 89.9h1.1M230.7 77.5h1.1M236.1 81.4h1.1M235 81.4h1.1M244.3 85.6h1.1M231.7 79.6h1.1M256.6 93.6h1.1M233.9 82h1.1M233.1 81.6h1.1M237 82.7h1.1M252.9 91.5h1.1M249.5 90.4h1.1M243.6 87.4h1.1M251.3 91.5h1.1M246.7 89.1h1.1M243.4 84.9h1.1M257.5 92.9h1.1M230.8 78.4h1.1M253.5 90.8h1.1M231.6 81.4h1.1M245.7 88.8h1.1M229.4 79.6h1.1M232.4 79.3h1.1M247.2 89.4h1.1M231.8 78.5h1.1M228.3 77h1.1M236.2 81.8h1.1M239.4 83.7h1.1M232.8 79.1h1.1M248.1 89.5h1.1M258.6 93.7h1.1M228.6 79.5h1.1M238.8 83.5h1.1M241.3 84.5h1.1M254.3 92h1.1M231.5 80.2h1.1M229.9 80.5h1.1M246.4 88.1h1.1M246.9 88.9h1.1M240.4 83.7h1.1M230.1 78.8h1.1M240.1 85.6h1.1M250.2 90.1h1.1M243.4 85.2h1.1M228.2 75.9h1.1M242.6 85.5h1.1M231.1 81.1h1.1M255.9 92.2h1.1M249.4 90.1h1.1M238.1 81.9h1.1M257.3 93.5h1.1M247.3 89.7h1.1M247 88.9h1.1M239.1 82.7h1.1M226.8 71.1h1.1M238.1 78.1h1.1M228.4 78.2h1.1M255.3 92.3h1.1M250.7 85.4h1.1M229.2 76.9h1.1M255.3 92h1.1M224 77.6h1.1M254.2 90.1h1.1M233.6 80.6h1.1M257.1 92.1h1.1M233.1 77.5h1.1M243.1 83.4h1.1M230.7 77.9h1.1M246.1 82.4h1.1M227 73.9h1.1M235.2 76.2h1.1M250.7 86.6h1.1M243.8 82.1h1.1M227.4 72.5h1.1M230.4 71h1.1M239.4 84h1.1M228.4 77.4h1.1M239.4 77.8h1.1M246.8 85.8h1.1M253.7 89h1.1M256.4 92.2h1.1M236 76.2h1.1M250 85.2h1.1M254.9 92.3h1.1M252.3 91.2h1.1M228.9 74.1h1.1M252.3 90.8h1.1M242.5 80.3h1.1M232.5 72.9h1.1M234 79.2h1.1M251.6 86.7h1.1M248.1 87.8h1.1M246 85.3h1.1M238.4 76.4h1.1M224.1 76.2h1.1M251.4 84.5h1.1M243.7 77.7h1.1M251.5 86.4h1.1M243.9 78.8h1.1M225.3 69.5h1.1M229.7 63.5h1.1M249.9 85.7h1.1M240.5 81.1h1.1M226.5 70.5h1.1M227.7 66.1h1.1M232.4 72.9h1.1M258.6 87h1.1M240.8 75.6h1.1M245.9 81.3h1.1M237.5 79.1h1.1M230.4 65.9h1.1M243.6 83.4h1.1M256.1 88.7h1.1M248.9 82.6h1.1M226.6 69.1h1.1M235 68.6h1.1M254.4 85.5h1.1M257.4 85.8h1.1M252.2 88.4h1.1M225.5 73.5h1.1M247 82.2h1.1M230.8 74.2h1.1M224.3 73.7h1.1M229.6 70.4h1.1M249.5 83.3h1.1M249.8 82.4h1.1M237.2 78.6h1.1M250.4 85.1h1.1M236 75h1.1M241.5 76.5h1.1M244.7 82.7h1.1M244 76.1h1.1M239.7 73.1h1.1M231.6 69h1.1M240.2 72.1h1.1M243.1 68.3h1.1M232.9 67h1.1M232.7 61.4h1.1M229.1 66.8h1.1M244.3 77h1.1M246.6 76.7h1.1M224.3 72.2h1.1M230.2 61.9h1.1M232.7 57.5h1.1M240 71.3h1.1M226.1 64.3h1.1M242.2 73.1h1.1M254.8 86.5h1.1M254.2 79.3h1.1M225.1 69h1.1M227.4 54.2h1.1M227.8 56.7h1.1M229.7 65.5h1.1M242.5 72.5h1.1M249.1 79.2h1.1M230.2 67.4h1.1M242 66.8h1.1M257.2 87.1h1.1M233 62.2h1.1M227.6 55.4h1.1M256.1 85.4h1.1M255.8 85.8h1.1M225.2 66.7h1.1M253.1 80.8h1.1M231.7 65.2h1.1M241 73.8h1.1M236 64.9h1.1M238.4 71.1h1.1M256.9 85.4h1.1M243.7 78.8h1.1M227.7 55.3h1.1M256.3 82h1.1M243.3 74.3h1.1M239 66.7h1.1M239.9 69.9h1.1M257.4 82.3h1.1M239.5 65.5h1.1M226.5 58h1.1M231.8 60.8h1.1M226.3 64h1.1M226.8 52.8h1.1M226.4 61.7h1.1M224.2 74h1.1M246.5 72.3h1.1M240.4 66.4h1.1M239.3 68.8h1.1M228.3 63.6h1.1M226.9 65.5h1.1M224.1 75.2h1.1M227 59.6h1.1M250.5 81.8h1.1M236.1 58.8h1.1M241.6 66h1.1M228.8 51.1h1.1M237.5 61.5h1.1M227.3 49.3h1.1M243.8 67.2h1.1M228.7 52.1h1.1M253.2 77.7h1.1" stroke="#ff55ee" stroke-width="1.1" stroke-opacity="0.72" fill="none"/>
<path d="M205.2 78.2h1.1M210.9 71.6h1.1M206.5 79.2h1.1M204.7 78.5h1.1M222.1 66.8h1.1M209.5 72.9h1.1M205.6 77.8h1.1M223.6 74h1.1M209.8 73.8h1.1M206.7 79.7h1.1M205.5 77.8h1.1M215.5 69.9h1.1M210.9 74.9h1.1M206.2 79.5h1.1M219 61.7h1.1M211.6 73h1.1M222.8 59.8h1.1M218.8 70.9h1.1M211.5 78h1.1M205 79.3h1.1M220 68.9h1.1M223.1 51.8h1.1M218.2 62.5h1.1M225.3 58.9h1.1M213.9 62.8h1.1M219.2 52.8h1.1M213 56.6h1.1M218 43.2h1.1M217.5 64.4h1.1M214.2 62.1h1.1M219.7 55.3h1.1M216.9 51.5h1.1M226 46.7h1.1M219.3 35.1h1.1M221.8 47.5h1.1M219.9 55h1.1M221.5 39.1h1.1M223.7 32h1.1M224.5 47.1h1.1M214.3 57.5h1.1M220.9 56.2h1.1M210.5 49.7h1.1M224.3 39.1h1.1M218.7 54h1.1M227.1 48.6h1.1M226.8 54h1.1M226.7 40.3h1.1M202.7 32.4h1.1M230.8 81h1.1M244.9 89.2h1.1M245.8 89.3h1.1M226.2 78.9h1.1M243.2 85.4h1.1M249.7 89.5h1.1M226.8 78.7h1.1M255.6 91.8h1.1M237.4 84.4h1.1M231.9 81.5h1.1M252.5 90.3h1.1M242.5 84.4h1.1M234.1 81h1.1M234.7 82.9h1.1M247.6 87.5h1.1M235.7 81.3h1.1M236.2 82.7h1.1M252.4 92.3h1.1M227.9 77h1.1M235.9 82.6h1.1M243.2 85.2h1.1M256.5 92.4h1.1M226.7 78.6h1.1M234.3 80.1h1.1M249.3 88.7h1.1M238.2 82.4h1.1M247 88.1h1.1M249.7 89h1.1M230.2 77.8h1.1M225.7 77.1h1.1M224.7 76.9h1.1M251.3 89.8h1.1M252.6 90.5h1.1M226.3 77.1h1.1M236.5 82.3h1.1M225.5 77.3h1.1M247 85h1.1M234.8 75.5h1.1M239.2 78.7h1.1M254.8 91.5h1.1M251.9 88.3h1.1M224.6 75.3h1.1M231.8 80h1.1M237 82h1.1M248.3 87.6h1.1M255.7 91.9h1.1M227.3 70.2h1.1M238.6 77.1h1.1M241.9 82.8h1.1M228.8 73.4h1.1M251.2 86.7h1.1M237.1 76.8h1.1M258.3 89.2h1.1M249.7 85.8h1.1M233.4 73.2h1.1M238.8 82.9h1.1M225.3 75.3h1.1M227.3 74.9h1.1M252.5 89.1h1.1M232.1 78.5h1.1M250.6 86.9h1.1M224 76.6h1.1M254.1 91.9h1.1M224.3 76.5h1.1M252.5 91.1h1.1M253.5 88.3h1.1M245.6 87.5h1.1M246.8 87.6h1.1M231.1 77.3h1.1M243.2 83.1h1.1M237.3 77.9h1.1M256.4 91.2h1.1M238.8 78.5h1.1M243.1 80.9h1.1M237.8 79.2h1.1M230.6 75.9h1.1M226.4 71.1h1.1M241.6 80.8h1.1M241.3 82.6h1.1M258.5 91.2h1.1M244.4 83.3h1.1M246.6 84.8h1.1M243.7 85.6h1.1M242.7 81.8h1.1M241 81h1.1M239 81.8h1.1M228.6 71.9h1.1M232.3 74.2h1.1M252.7 89.2h1.1M253.6 91.2h1.1M232.3 77h1.1M239 81.2h1.1M230.2 76.4h1.1M254.7 89.2h1.1M247.1 85.1h1.1M247.5 87.7h1.1M239.8 82.9h1.1M231.7 72.1h1.1M251.7 90.9h1.1M235.4 80.3h1.1M225.5 75.3h1.1M235 77.7h1.1M242.2 85.4h1.1M229.6 73.6h1.1M230.5 71.3h1.1M230.5 75.4h1.1M255.8 88.7h1.1M239.2 81.6h1.1M226.8 69.3h1.1M232.9 76.4h1.1M224 76.9h1.1M227.1 73.7h1.1M254.6 88.9h1.1M253.1 91.1h1.1M231.7 77.2h1.1M239.5 81.5h1.1M238.4 81.1h1.1M252.9 88.2h1.1M242.6 80.9h1.1M252.7 89.6h1.1M235.9 79.5h1.1M254.5 90.3h1.1M243.8 81.2h1.1M225.5 76.7h1.1M250.8 88.6h1.1M246.2 86.3h1.1M234 75.1h1.1M244.3 85.3h1.1M252.5 86.5h1.1M248.9 84h1.1M258.4 90.2h1.1M236.1 79h1.1M235.9 81.6h1.1M256.6 92.3h1.1M224.5 77.5h1.1M224.2 77.9h1.1M236.7 79.3h1.1M228.2 75.3h1.1M226.9 75.1h1.1M251.1 85.4h1.1M239.2 81h1.1M244.8 85.5h1.1M249.1 89.2h1.1M250.7 86.7h1.1M245.8 85.7h1.1M237.3 76.4h1.1M237 81h1.1M246.2 82.3h1.1M239.4 83.9h1.1M252.9 88.3h1.1M246.3 80.7h1.1M244.5 78.3h1.1M236 77.3h1.1M243.8 78h1.1M225.1 74.6h1.1M248.4 80h1.1M257.2 86.3h1.1M224.1 75.4h1.1M246.9 81.2h1.1M251.8 88.6h1.1M234.4 68.8h1.1M236.5 69.6h1.1M239.7 72.4h1.1M257.3 90.7h1.1M234.6 69.7h1.1M237.8 70.8h1.1M238.3 71.8h1.1M247.9 84h1.1M224.1 75.4h1.1M247 79.3h1.1M255.6 89.1h1.1M242.8 82.2h1.1M237.8 75h1.1M230.5 68.5h1.1M256.7 88.4h1.1M233.8 71.6h1.1M245.5 81.5h1.1M256.9 85.5h1.1M237.7 78.1h1.1M228.6 69.4h1.1M248.8 84.4h1.1M233.3 69.8h1.1M233.3 71.2h1.1M253 86.7h1.1M236.7 78.4h1.1M244.5 79.4h1.1M257 91h1.1M230.7 74.8h1.1M258.1 90.5h1.1M229.8 69.5h1.1M249 84.9h1.1M243.4 82.2h1.1M235.5 73.9h1.1M237.8 72.6h1.1M227.8 65.8h1.1M246.4 77.4h1.1M227.7 63.4h1.1M227.3 58.4h1.1M255.7 82h1.1M246.2 74.8h1.1M229.6 58.9h1.1M242.7 74.4h1.1M229.5 63h1.1M241.5 74h1.1M229.9 57h1.1M245.9 74.6h1.1M229.7 61.1h1.1M234.1 59.1h1.1M230.8 68.5h1.1M232.9 59.3h1.1M226 65.4h1.1M233.8 63.7h1.1M242 76.1h1.1M228.3 60.7h1.1M227.4 61.4h1.1M240.5 76.2h1.1M239.7 65.2h1.1M229 59.4h1.1M251.1 80.7h1.1M233.6 68.5h1.1M257.2 85.2h1.1M244.8 78.8h1.1M238 64.7h1.1M226.4 59.5h1.1M225.7 64.8h1.1M241 68.3h1.1M242.8 76.4h1.1M224.2 72.2h1.1M244.1 73.3h1.1M235.4 64.8h1.1M228.8 55.2h1.1M229.3 58.8h1.1M235.8 59.7h1.1M258.6 80.5h1.1M245.3 67.4h1.1M248.5 71h1.1" stroke="#00a83c" stroke-width="1.1" stroke-opacity="0.72" fill="none"/>
<path d="M220 63h1.1M212.1 76.7h1.1M205.7 78.9h1.1M205.7 78.1h1.1M210.4 72.1h1.1M223 68.1h1.1M209.8 74.6h1.1M206.6 76h1.1M213.3 69.6h1.1M214.6 75.3h1.1M205 79.6h1.1M223 70.3h1.1M216.6 76.9h1.1M220.3 74.7h1.1M218.1 67.7h1.1M223.2 68.9h1.1M220.1 71.8h1.1M215.8 77.2h1.1M223.3 57.3h1.1M217.8 47.7h1.1M219.1 60.7h1.1M218.4 49h1.1M221.2 58.6h1.1M217.4 53.1h1.1M223.2 32.8h1.1M212.2 46.5h1.1M223.9 46.2h1.1M225 49.7h1.1M225.4 40.6h1.1M227 43.9h1.1M227.3 45.7h1.1M226.7 44.1h1.1M223.5 53.7h1.1M224.6 48.7h1.1M234.4 81.8h1.1M233.5 81.6h1.1M244 88.8h1.1M248.7 90.1h1.1M257.8 93.9h1.1M242.9 88.2h1.1M246 88.2h1.1M224 78.4h1.1M227.4 75.8h1.1M242.5 85.6h1.1M248.3 89.8h1.1M225.9 77.9h1.1M230.7 77.7h1.1M257.2 93.5h1.1M240.4 84.9h1.1M244.3 86.7h1.1M224.5 78h1.1M228.1 78h1.1M241.1 83.7h1.1M227.9 78.6h1.1M229.4 79.5h1.1M226.3 75.8h1.1M232.4 81.5h1.1M247.1 88.8h1.1M225.2 77.3h1.1M232.5 80.6h1.1M232.7 81.8h1.1M235.2 81.1h1.1M255 91.8h1.1M252.3 90.2h1.1M258.2 90.4h1.1M254.9 91.7h1.1M251.2 87.6h1.1M228.5 69.7h1.1M248.2 87.8h1.1M239.7 78h1.1M250.9 87.4h1.1M232.9 74.3h1.1M233.2 80.6h1.1M237.7 78.9h1.1M240.9 82.9h1.1M252.8 89.2h1.1M251.2 87.5h1.1M231.2 71.6h1.1M248 88.3h1.1M253.3 88.2h1.1M227.8 71.6h1.1M227.8 72.7h1.1M255.2 89.2h1.1M230.4 78.9h1.1M240.6 78.8h1.1M243.3 83.3h1.1M230.8 73.6h1.1M243.9 82.5h1.1M227.1 73.5h1.1M240.4 81.3h1.1M238.1 80.6h1.1M255.6 88.4h1.1M243.3 81.6h1.1M240.1 82.6h1.1M230.8 78.2h1.1M256 89.4h1.1M229.1 74.6h1.1M244.7 81.4h1.1M237.8 77.7h1.1M224.1 77.1h1.1M254 88.8h1.1M236.8 80.2h1.1M250.7 87.6h1.1M252.5 89.9h1.1M230 75.3h1.1M254.2 90h1.1M245 87h1.1M225.4 73.7h1.1M230 72.3h1.1M258.2 90.4h1.1M226.1 73.1h1.1M225.1 76.7h1.1M230.7 75.5h1.1M252.1 86.9h1.1M233.5 73.6h1.1M241.5 79.5h1.1M249.1 88.2h1.1M225.5 74h1.1M224.3 75.5h1.1M240.3 82h1.1M225.7 74.7h1.1M244.2 83.4h1.1M233.5 73.8h1.1M228.4 70.8h1.1M241.8 85.7h1.1M236.4 77.5h1.1M255.2 88.1h1.1M253.1 90.1h1.1M227.7 72.4h1.1M226.4 77.2h1.1M224.9 77.1h1.1M247.3 82.7h1.1M227.6 70.1h1.1M228.5 73.5h1.1M246.4 80.1h1.1M244.3 75.9h1.1M225.2 73h1.1M248.8 85.8h1.1M227.1 63.5h1.1M244.1 77.6h1.1M246.2 84.5h1.1M242.7 82h1.1M255.2 85.7h1.1M245.1 78.8h1.1M225 70.7h1.1M231.7 74.5h1.1M231.3 70.8h1.1M225.8 66.9h1.1M229.3 68h1.1M229.4 71.7h1.1M231.3 68.6h1.1M230.4 69.5h1.1M258.1 86.9h1.1M247.7 78.6h1.1M241.9 79h1.1M238.5 71.1h1.1M248.5 79.5h1.1M224.8 74.4h1.1M238.9 75.8h1.1M230.3 68.4h1.1M225.5 71.5h1.1M254.9 84.6h1.1M249.7 83.7h1.1M243.5 82.3h1.1M252.1 82.2h1.1M239.7 79.5h1.1M255.1 88.7h1.1M237 77.9h1.1M242.8 80.9h1.1M224.7 72.6h1.1M236.2 76.5h1.1M254.5 83.9h1.1M229.1 67.4h1.1M234.1 76.5h1.1M239.4 77.6h1.1M240.5 79.7h1.1M245.5 83.4h1.1M258 86.1h1.1M246.1 83.4h1.1M243.6 76.8h1.1M226.4 65h1.1M226.5 67.6h1.1M256.6 89.2h1.1M257.2 85.2h1.1M257.2 88.5h1.1M228.2 67.4h1.1M252.6 87.1h1.1M240.9 75.1h1.1M256.5 85.2h1.1M232.6 67.5h1.1M242.7 76.3h1.1M232.9 73.2h1.1M227 67.4h1.1M227.4 70.8h1.1M244.9 79.9h1.1M240.2 77.7h1.1M238.7 80.3h1.1M245.1 81.9h1.1M255.5 88h1.1M252.8 86.2h1.1M245.4 84.7h1.1M229.6 67.5h1.1M245.6 79.2h1.1M242.2 82.6h1.1M230.1 73.6h1.1M226.8 71h1.1M234.9 68.3h1.1M228.8 73h1.1M249.9 86.4h1.1M232 66.9h1.1M242.7 78.1h1.1M232.1 73h1.1M254.5 88.5h1.1M229.9 73.6h1.1M231.3 67.8h1.1M252.2 84h1.1M238.4 77.4h1.1M230.3 70.3h1.1M227.8 73.4h1.1M250.8 83.1h1.1M253.4 87.4h1.1M227.1 72h1.1M225.7 73.6h1.1M236.4 70.7h1.1M237.9 77.3h1.1M232.3 68.1h1.1M249.2 86.1h1.1M258.7 86.7h1.1M224.7 76.1h1.1M240 77.2h1.1M236.7 76.9h1.1M228.8 69.9h1.1M253.7 83.5h1.1M243.1 76.2h1.1M254.5 89.7h1.1M248 78.8h1.1M227.9 63.2h1.1M248.8 79.9h1.1M252.9 88.8h1.1M225.1 74.6h1.1M235.6 76.1h1.1M233.3 73.3h1.1M224.4 73.2h1.1M253.6 86.8h1.1M235.6 76.8h1.1M249 85.2h1.1M234.3 70.6h1.1M249.4 80.7h1.1M253.5 87.2h1.1M246.9 77.9h1.1M229.7 70.3h1.1M243.8 80.2h1.1M229.3 63.8h1.1M243 79.2h1.1M234.7 70.6h1.1M230.3 70.3h1.1M237.7 71.2h1.1M238.6 71.7h1.1M247.8 83.4h1.1M234.7 69.5h1.1M256.7 86.2h1.1M256.6 85h1.1M229.9 74.3h1.1M242.4 74.8h1.1M224.7 71.9h1.1M253.6 88.4h1.1M242.2 82.8h1.1M257.7 86.7h1.1M230.8 64.6h1.1M239.4 75.5h1.1M250.4 82.1h1.1M242.3 79.3h1.1M225.1 72.7h1.1M254.9 87.6h1.1M240.4 79.7h1.1M227.5 63.7h1.1M257.1 87h1.1M238.1 72.8h1.1M253.9 86h1.1M256 89.4h1.1M253.2 83.8h1.1M249.8 85.9h1.1M226.2 66.7h1.1M250.9 86h1.1M243.8 76.7h1.1M229.2 71.8h1.1M233.2 74.1h1.1M224.2 75.7h1.1M238.4 74.5h1.1M240.6 77.7h1.1M252.1 85.1h1.1M236.3 70.3h1.1M237.8 74.8h1.1M258.4 88.2h1.1M237.4 78.5h1.1M225.2 75.4h1.1M228.5 64.1h1.1M243.6 76.6h1.1M251.1 82.1h1.1M228.9 55h1.1M224.3 73.6h1.1M225.6 64.8h1.1M226.1 59.8h1.1M237.7 67h1.1M243.5 72.8h1.1M232.8 66.8h1.1M228.7 64.2h1.1M231.7 57.2h1.1M234.1 60.5h1.1M239.6 71h1.1M237.5 65.3h1.1M232.8 66.6h1.1M239.2 75h1.1M233 61.7h1.1M236 61.1h1.1M247 73.9h1.1M226.6 54.9h1.1M256.5 86.6h1.1M252.3 76.4h1.1M230.7 55.1h1.1M229.5 54.1h1.1M235.8 67.3h1.1M224 73.8h1.1M233.2 64.2h1.1M226.3 65.3h1.1M238.9 72.1h1.1M252.9 81.8h1.1M245.3 76.2h1.1M225 66.2h1.1M241.9 73.3h1.1M242.3 66.9h1.1M256.3 79.7h1.1M230.4 58.4h1.1M235 61.3h1.1M228.5 57.8h1.1M252.1 83.5h1.1M236.1 62.3h1.1M238.4 71.5h1.1M243.9 74h1.1M242.5 75.7h1.1M242 66.5h1.1M245.7 71.1h1.1M238.5 63.3h1.1M229 57.6h1.1M254.1 80.6h1.1M235.1 69.6h1.1M257.4 85.7h1.1M236.2 69.3h1.1M242.4 67.1h1.1M240.7 67.6h1.1M243 71h1.1M224.5 74.3h1.1M238.7 68.7h1.1M248.2 81.3h1.1M234.5 69.2h1.1M230.1 55.1h1.1M248.2 80.3h1.1M224.2 74.1h1.1M235.8 71h1.1M241.9 71.7h1.1M236.4 65.7h1.1M236.5 66.7h1.1M226.5 58.8h1.1M247.9 75.4h1.1M249.2 80.7h1.1M240.4 72.5h1.1M249.7 75.8h1.1M238.9 64.8h1.1M227.3 65.3h1.1M225.8 68.6h1.1M248.2 76.9h1.1M240.7 75.7h1.1M229.9 64.2h1.1M227.2 51.4h1.1M230.8 68.7h1.1M227.6 59.8h1.1M226.5 57.2h1.1M245 72h1.1M230.9 62h1.1M244.5 70.1h1.1M229.6 62.7h1.1M255.7 84.1h1.1M247.7 77.4h1.1M252.1 84.1h1.1M258.3 81.9h1.1M232.5 60.4h1.1M257.3 87.4h1.1M252.5 81.4h1.1M247.7 72.1h1.1M227 58.6h1.1M250.1 75.2h1.1M247.8 79.3h1.1M228.1 61.1h1.1M249.8 77.2h1.1M254.3 78.4h1.1M246 79.4h1.1M236.8 65.4h1.1M230.1 62.3h1.1M252.9 77.2h1.1M244.9 77.1h1.1M256.8 84.8h1.1M235.8 62.3h1.1M238.3 60.6h1.1M242.6 64.8h1.1M257.9 80.6h1.1M239.9 65.5h1.1M228.2 49.1h1.1M249.9 74h1.1M242.4 65.2h1.1" stroke="#ff1010" stroke-width="1.1" stroke-opacity="0.72" fill="none"/>
<path d="M206.6 78.7h1.1M205.4 79.3h1.1M218.8 74.5h1.1M222.3 74.7h1.1M216.5 65.4h1.1M212.6 76.6h1.1M214.7 74.5h1.1M218.8 63.4h1.1M204.1 79.7h1.1M218.2 31.3h1.1M218.3 55.3h1.1M224.1 42.4h1.1M226.8 53.6h1.1M226.4 40.7h1.1M224.4 46.5h1.1M224.3 47.3h1.1M224.4 45.6h1.1M223.8 45.1h1.1M224.1 44.9h1.1M223.6 54.5h1.1M225.3 47.2h1.1M227.4 49.2h1.1M224.6 41.1h1.1M225.4 48.4h1.1M227.4 41.1h1.1M226.7 50.1h1.1M226.1 40.3h1.1M250.6 92.1h1.1M250.5 92.5h1.1M226.5 78.2h1.1M254 93.7h1.1M252.8 92.9h1.1M226.1 79.7h1.1M247.9 91.3h1.1M247.3 89.7h1.1M242.9 86.6h1.1M224.5 77.7h1.1M252.2 91.9h1.1M230.3 78.9h1.1M251 91.5h1.1M242.5 85.4h1.1M249.9 88.7h1.1M233.3 82.1h1.1M232 81.2h1.1M249 88.2h1.1M226.2 77.2h1.1M246.1 87.9h1.1M225.6 76.4h1.1M240.1 82.5h1.1M225.5 74.7h1.1M226.1 76.8h1.1M237.6 82.1h1.1M225.3 74.3h1.1M251.2 87.8h1.1M236.7 78.4h1.1M239.1 80.7h1.1M251.2 87.6h1.1M251.3 90.3h1.1M226.7 76.8h1.1M247.1 83.1h1.1M242.3 81.7h1.1M230 71.7h1.1M258.1 89.7h1.1M233.1 76.6h1.1M256.9 90.7h1.1M247.9 87.2h1.1M236.8 79.2h1.1M226.6 77.3h1.1M242.2 80.3h1.1M224.2 76.1h1.1M235.7 82.1h1.1M229.4 70.7h1.1M243.1 80.4h1.1M235.9 79h1.1M254.2 88.2h1.1M250.1 85.5h1.1M227.9 72.7h1.1M250.1 84.6h1.1M236.2 77.7h1.1M237.3 79h1.1M252.7 88.8h1.1M227.7 73.3h1.1M229.8 66.6h1.1M229.2 71.1h1.1M225.6 68.8h1.1M242.3 79.1h1.1M251.3 86.4h1.1M238.8 73.2h1.1M227.6 67.8h1.1M238.5 73.6h1.1M235.8 73.7h1.1M247.7 80.1h1.1M252.5 84.7h1.1M255.7 84.7h1.1M228.3 65.1h1.1M255.4 86.9h1.1M257.7 86.8h1.1M240.6 77.7h1.1M234.4 67.8h1.1M226.1 73.6h1.1M226.9 69.7h1.1M228 61.8h1.1M243.2 79.3h1.1M246.8 85.3h1.1M241.9 76.5h1.1M243 81.7h1.1M238.1 75.9h1.1M246.4 81.1h1.1M239.8 74.8h1.1M234.3 68.3h1.1M236.6 69.8h1.1M246.7 80.6h1.1M250 86.6h1.1M256.5 89.6h1.1M239 79.3h1.1M244.3 80.6h1.1M226.3 65.2h1.1M251.3 82.1h1.1M230.2 72.4h1.1M233.9 71.2h1.1M232.6 72.6h1.1M224.3 76.7h1.1M249.3 81.1h1.1M228.9 65.7h1.1M256.8 88.4h1.1M258.2 90.4h1.1M239.9 79.3h1.1M258.6 86.4h1.1M225.3 69.9h1.1M245.9 83.3h1.1M234.4 68.7h1.1M254.3 89.4h1.1M255.1 84.6h1.1M227.3 62.2h1.1M244.4 80.1h1.1M257.5 86.3h1.1M226.9 73.4h1.1M255.6 89.5h1.1M248.9 83.5h1.1M247.5 81.8h1.1M234.5 68.7h1.1M225 72.8h1.1M238.6 76.6h1.1M242.1 82h1.1M240 72.5h1.1M247.1 81.6h1.1M243.3 79.2h1.1M229.2 71.4h1.1M252.6 87.6h1.1M249.4 80.1h1.1M231.3 68.1h1.1M233.4 71h1.1M236.5 62.3h1.1M251.9 78.2h1.1M233.5 70h1.1M255.6 85.4h1.1M226.7 66.2h1.1M253.3 80.6h1.1M256.2 79.8h1.1M242.1 75h1.1M232.6 61.3h1.1M254.1 77.7h1.1M240.8 66.6h1.1M240.2 67.1h1.1M225.9 59.4h1.1M231.9 59.1h1.1M240.7 65.6h1.1M256.8 81.8h1.1M246.4 75.9h1.1M233.2 65.4h1.1M241.7 74.5h1.1M253.3 78.2h1.1M225.5 64.9h1.1M249.4 75.2h1.1M241.8 70.6h1.1M244.4 74.1h1.1M234.4 68.9h1.1M253.8 81.7h1.1M241.3 66h1.1M225.1 66.1h1.1M225.4 64.4h1.1M234.7 63.1h1.1M248.8 76.2h1.1M248.5 79.7h1.1M235.1 62.7h1.1M238.4 72.7h1.1M232.2 64.1h1.1M231.2 65.6h1.1M254.2 86.1h1.1M247.2 76.3h1.1M257.2 80.4h1.1M230.3 64.6h1.1M238.1 66.4h1.1M243.3 71.3h1.1M252.1 76.3h1.1M238.9 71.6h1.1M248.5 79.4h1.1M244.6 77.9h1.1M258.4 81.7h1.1M252.1 78.4h1.1M235.6 60.7h1.1M230.5 56.2h1.1M236.4 68.5h1.1M224.2 73.7h1.1M247.5 75.6h1.1M234.3 67.4h1.1M233.6 62.5h1.1M256.3 86.5h1.1M247.4 77.9h1.1M245.7 79.1h1.1M225.7 66.6h1.1M246.6 77.2h1.1M247.8 74.6h1.1M252.5 82.4h1.1M240.5 71.1h1.1M256.3 83h1.1M224.1 74.7h1.1M256.3 81h1.1M236.3 65.2h1.1M246.7 78.9h1.1M254 85.1h1.1M256.2 81.4h1.1M234.4 59.4h1.1M236.4 70.6h1.1M228.5 60.3h1.1M226 67h1.1M229.3 62h1.1M233.1 64.3h1.1M242.2 66.9h1.1M253.4 79.1h1.1M257.6 81.6h1.1M256.2 80.2h1.1M248.2 78.2h1.1M255.4 79h1.1M252.2 80.8h1.1M251.9 83.4h1.1M241.1 75.4h1.1M256.5 85.5h1.1M250.3 77.3h1.1M238.2 62.8h1.1M233.8 60h1.1M241.7 70.6h1.1M226.2 61.7h1.1M229.6 65.4h1.1M239.6 73.7h1.1M258.6 83.7h1.1M241.4 74h1.1M233.9 67.6h1.1M225.5 65.9h1.1M240.8 67.1h1.1M256.6 83.2h1.1M240.4 67.4h1.1M236.3 63.2h1.1M226.4 60.1h1.1M257.5 82.4h1.1M235 69.2h1.1M249.9 77.1h1.1M244.8 74.7h1.1M245.4 77.2h1.1M253.2 82.6h1.1M233.6 66.6h1.1M238.3 66.3h1.1M240.2 69.5h1.1M225.3 67.9h1.1M242.1 75.7h1.1M245 70.6h1.1M230.1 55.6h1.1M231.5 59.9h1.1M227.6 63.8h1.1M256 85.7h1.1M244.9 71.3h1.1M236.9 67.8h1.1M226.3 61.5h1.1M232.3 66.8h1.1M251.3 83.2h1.1M251.6 77.6h1.1M224 74.1h1.1M244.3 71.1h1.1M224.9 71h1.1M249.8 81.5h1.1M253.2 80.5h1.1M224.1 72.7h1.1M224.2 73.4h1.1M241.8 77h1.1M229.4 58.8h1.1M250.9 81.3h1.1M242.7 77.7h1.1M236.9 61.7h1.1M236 61.6h1.1M228.7 54.6h1.1M227.1 57h1.1M227.4 63.9h1.1M246.6 74.3h1.1M232.1 67.9h1.1M252.6 76.8h1.1M224.7 72.2h1.1M251.3 84.1h1.1M249.6 75h1.1M246.7 71.9h1.1M250.4 82.1h1.1M243.3 68.8h1.1M237.1 64.3h1.1M234.9 67.7h1.1M231.3 59.8h1.1M239.4 73.6h1.1M247.6 76.6h1.1M239.6 66.9h1.1M255.4 80.3h1.1M253.5 83.4h1.1M244.8 73.1h1.1M248.7 74.3h1.1M227.9 61h1.1M238.4 63.5h1.1M256 83.5h1.1M238.1 64.1h1.1M240.4 70.9h1.1M237.9 67.8h1.1M239.9 67.7h1.1M225.5 64h1.1M235.7 69.8h1.1M236 71.5h1.1M228.1 63.2h1.1M238.5 66h1.1M244.6 74.9h1.1M241.2 66.8h1.1M241.5 66.7h1.1M244.3 73.3h1.1M236.1 69h1.1M243 70.9h1.1M236.6 67.3h1.1M228.4 62.3h1.1M229.7 60.6h1.1M252.6 77.2h1.1M242.8 76.7h1.1M252.6 84h1.1M224 74.2h1.1M256.7 83h1.1M257.4 81.3h1.1M247.9 78.5h1.1M225 71.4h1.1M230.9 64.7h1.1M245.4 78.7h1.1M224.1 73h1.1M248.6 74h1.1M250.5 80.7h1.1M243.8 75.9h1.1M249.2 79.2h1.1M234.2 62.5h1.1M234.6 67.6h1.1M257.6 86.8h1.1M230 57.3h1.1M241.1 75h1.1M238.3 66.9h1.1M230.9 65.4h1.1M248.5 76h1.1M256.4 79.8h1.1M230.4 60.5h1.1M232.1 58.7h1.1M253.8 78.5h1.1M236.6 61.6h1.1M235.4 69.3h1.1M243.5 71.5h1.1M226.1 60.1h1.1M224.2 72.4h1.1M239.8 72.7h1.1M256.2 83.2h1.1M229.4 56.4h1.1M228 54.2h1.1M238.5 71.1h1.1M232.9 64h1.1M247.9 74.9h1.1M235.8 64.5h1.1M226.9 59.4h1.1M227 53.8h1.1M232.2 60.2h1.1M251.8 77.9h1.1M250.2 76.8h1.1M231.9 58.2h1.1M249.7 82.5h1.1M226.5 60.9h1.1M255.1 79.1h1.1M240.4 65.8h1.1M240.2 65.4h1.1M251.5 77h1.1M251.6 82.4h1.1M233.3 69.2h1.1M228.6 63.3h1.1M238.9 73.2h1.1M250.7 76.6h1.1M247.8 81.1h1.1M243.5 78.4h1.1M232.3 65.8h1.1M240.8 71.9h1.1M258.4 80.9h1.1M248.8 73.1h1.1M256.8 86.7h1.1M234.5 60.7h1.1M242.9 77.9h1.1M225.5 65h1.1M242.2 67.8h1.1M243.4 73.8h1.1M247.9 81h1.1M245.4 71.5h1.1M237.4 64.4h1.1M249.3 79.7h1.1M247.6 81.6h1.1M246.3 71.8h1.1M246.4 75.8h1.1M229.8 58.4h1.1M225.7 66.1h1.1M256.9 87.3h1.1M247.6 72.9h1.1M230.9 62.1h1.1M228.4 62.4h1.1M258.7 81.3h1.1M252.7 79.5h1.1M233.9 62.8h1.1M249.4 81.4h1.1M253.5 83.3h1.1M225.6 64.5h1.1M240.3 67.9h1.1M238 64.6h1.1M234.2 65.8h1.1M237.8 68.3h1.1M246.3 76.4h1.1M232.6 64.8h1.1M238.1 70.7h1.1M227.5 63.9h1.1M235.3 61h1.1M256.8 85.9h1.1M242.5 75.3h1.1M247.7 74.1h1.1M235.4 71.4h1.1M249.8 82.7h1.1M232.4 59.7h1.1M238.4 70.3h1.1M227.9 56.6h1.1M244.3 72.1h1.1M241.7 73.3h1.1M244.5 71.8h1.1M237 71.7h1.1M252.1 79.9h1.1M240.3 73.4h1.1M253.8 79.3h1.1M232.5 61.2h1.1M231.3 66.4h1.1M235.3 72.5h1.1M234.4 60.9h1.1M246.7 75.5h1.1M224.3 71.1h1.1M252.1 84.2h1.1M256.3 85.8h1.1M230.8 67.9h1.1M242.9 70.7h1.1M240.9 75.5h1.1M230.7 64.1h1.1M249.9 82.7h1.1M232.2 65.5h1.1M251.2 75.7h1.1M228.3 63.9h1.1M248.5 81.7h1.1M257.7 81.6h1.1M229.9 66.9h1.1M244.8 69.3h1.1M244.3 69.5h1.1M257.3 80h1.1M231.2 55.1h1.1M237.5 62h1.1M257.5 80.4h1.1M227.9 48.8h1.1M257.4 78.9h1.1M230.8 51.7h1.1M225.6 60.2h1.1M246 68.6h1.1M226.5 52.1h1.1M224.7 67.3h1.1M241.9 67.1h1.1M253.9 77.3h1.1M251.5 74.6h1.1M239.9 65.3h1.1M253.4 76.7h1.1M230.2 55h1.1M254.7 78.9h1.1M245.2 69.2h1.1M250.5 75.4h1.1M256.1 80.1h1.1M234.1 57.7h1.1M224.8 66h1.1M258.7 81.5h1.1M224.9 64.7h1.1M227.9 49.6h1.1M253 75.4h1.1M232.3 56.6h1.1M237.5 62.5h1.1M230.5 54.3h1.1M253.2 76.2h1.1M239.1 64.2h1.1M252.6 75.1h1.1M251.6 75.1h1.1M256.4 78.4h1.1M244.8 67.6h1.1M225.5 61.4h1.1M226.6 51.1h1.1M258.3 79.4h1.1M235.8 57.4h1.1M232.3 57.2h1.1M253.3 75.3h1.1M246.4 69.5h1.1M246.3 69.8h1.1M238.1 63.2h1.1M253.4 75.4h1.1M226.2 54h1.1M226.4 53.3h1.1M242 65.5h1.1M243.2 67h1.1M239.3 61.5h1.1M248.5 73.2h1.1M246.7 71.7h1.1M241.6 64.4h1.1M245.9 68.6h1.1M256.5 79.6h1.1M235.3 59.3h1.1M232.7 57.4h1.1M253.7 76h1.1M235 59.1h1.1M229.2 49.8h1.1M239.8 62h1.1M233.3 54.5h1.1M233.8 58.5h1.1M256.2 79.2h1.1M250.7 74.7h1.1M228.2 49.9h1.1M245.2 67.8h1.1M238.8 62.8h1.1" stroke="#2424ff" stroke-width="1.1" stroke-opacity="0.72" fill="none"/>
<path d="M327.4 27.6V90.4H422" stroke="#606060" stroke-width=".6" fill="none"/>
<text x="325" y="91.7" font-size="3.7" text-anchor="end" font-family="Liberation Sans,sans-serif" fill="#000">0</text>
<text x="325" y="60.3" font-size="3.7" text-anchor="end" font-family="Liberation Sans,sans-serif" fill="#000">500</text>
<text x="325" y="28.9" font-size="3.7" text-anchor="end" font-family="Liberation Sans,sans-serif" fill="#000">1000</text>
<text x="327.4" y="96.3" font-size="3.7" text-anchor="middle" font-family="Liberation Sans,sans-serif" fill="#000">0</text>
<text x="346.3" y="96.3" font-size="3.7" text-anchor="middle" font-family="Liberation Sans,sans-serif" fill="#000">200</text>
<text x="365.2" y="96.3" font-size="3.7" text-anchor="middle" font-family="Liberation Sans,sans-serif" fill="#000">400</text>
<text x="384.2" y="96.3" font-size="3.7" text-anchor="middle" font-family="Liberation Sans,sans-serif" fill="#000">600</text>
<text x="403.1" y="96.3" font-size="3.7" text-anchor="middle" font-family="Liberation Sans,sans-serif" fill="#000">800</text>
<text x="422" y="96.3" font-size="3.7" text-anchor="middle" font-family="Liberation Sans,sans-serif" fill="#000">1000</text>
<path d="M327.4 90.4h-1.4M327.4 59h-1.4M327.4 27.6h-1.4M327.4 90.4v1.4M346.3 90.4v1.4M365.2 90.4v1.4M384.2 90.4v1.4M403.1 90.4v1.4M422 90.4v1.4" stroke="#606060" stroke-width=".5" fill="none"/>
<text x="375" y="102.8" font-size="4.27" text-anchor="middle" font-family="Liberation Sans,sans-serif" font-weight="bold" fill="#000">Lateral distance (mm)</text>
<text transform="translate(317 60.7) rotate(-90)" font-size="4.27" text-anchor="middle" font-family="Liberation Sans,sans-serif" font-weight="bold">Longitudinal distance (mm)</text>
<path d="M327.4 77.5L328.3 77.5L329.1 77.5L330 77.5L330.8 77.5L331.7 77.5L332.6 77.5L333.4 77.5L334.3 77.5L335.1 77.5L336 77.5L336.8 77.5L337.7 77.5L338.6 77.5L339.4 77.5L340.3 77.5L341.1 77.5L342 77.5L342.9 77.5L343.7 77.5L344.6 77.5L345.4 77.5L346.3 77.5L347.1 77.5L348 77.5L348.9 76.8L349.7 75.6L350.6 74.3L351.4 73L352.3 71.7L353.2 70.4L354 69.1L354.9 67.9L355.7 66.6L356.6 65.3L357.4 64L358.3 62.7L359.2 61.5L360 60.2L360.9 87.5L361.7 90.4L361.7 90.4L360.9 90.4L360 90.4L359.2 90.4L358.3 90.4L357.4 90.4L356.6 90.4L355.7 90.4L354.9 90.4L354 90.4L353.2 90.4L352.3 90.4L351.4 90.4L350.6 90.4L349.7 90.4L348.9 90.4L348 90.4L347.1 90.4L346.3 90.4L345.4 90.4L344.6 90.4L343.7 90.4L342.9 90.4L342 90.4L341.1 90.4L340.3 90.4L339.4 90.4L338.6 90.4L337.7 90.4L336.8 90.4L336 90.4L335.1 90.4L334.3 90.4L333.4 90.4L332.6 90.4L331.7 90.4L330.8 90.4L330 90.4L329.1 90.4L328.3 90.4L327.4 90.4z" fill="#2e1ed0" fill-opacity="1"/>
<path d="M379.9 77.5L380.9 77.5L382 77.5L383 77.5L384 77.5L385.1 77.5L386.1 77.5L387.1 77.5L388.2 77.5L389.2 77.5L390.2 77.5L391.3 77.5L392.3 77.5L393.3 77.5L394.4 77.5L395.4 77.5L396.4 77.5L397.5 77.5L398.5 77.5L399.5 77.5L400.6 77.5L401.6 77.5L402.6 77.5L403.7 77.5L404.7 77.5L405.7 77.5L406.8 77.5L407.8 77.5L408.8 77.5L409.9 77.5L410.9 77.5L411.9 77.5L413 77.5L414 77.5L415 77.5L416.1 77.5L417.1 77.5L418.1 77.5L419.2 77.5L420.2 77.5L421.2 77.5L421.2 90.4L420.2 90.4L419.2 90.4L418.1 90.4L417.1 90.4L416.1 90.4L415 90.4L414 90.4L413 90.4L411.9 90.4L410.9 90.4L409.9 90.4L408.8 90.4L407.8 90.4L406.8 90.4L405.7 90.4L404.7 90.4L403.7 90.4L402.6 90.4L401.6 90.4L400.6 90.4L399.5 90.4L398.5 90.4L397.5 90.4L396.4 90.4L395.4 90.4L394.4 90.4L393.3 90.4L392.3 90.4L391.3 90.4L390.2 90.4L389.2 90.4L388.2 90.4L387.1 90.4L386.1 90.4L385.1 90.4L384 90.4L383 90.4L382 90.4L380.9 90.4L379.9 90.4z" fill="#2e1ed0" fill-opacity="1"/>
<path d="M348.4 77.5L348.7 77.1L349 76.7L349.3 76.2L349.6 75.8L349.9 75.4L350.1 74.9L350.4 74.5L350.7 74.1L351 73.6L351.3 73.2L351.6 72.8L351.9 72.3L352.2 71.9L352.5 71.4L352.8 71L353.1 70.6L353.3 70.1L353.6 69.7L353.9 69.3L354.2 68.8L354.5 68.4L354.8 68L355.1 67.5L355.4 67.1L355.7 66.7L356 66.2L356.3 65.8L356.5 65.4L356.8 64.9L357.1 64.5L357.4 64.1L357.7 63.6L358 63.2L358.3 62.8L358.6 62.3L358.9 61.9L359.2 61.5L359.5 61L359.7 60.6L360 84.1L360 77.5L359.7 77.5L359.5 77.5L359.2 77.5L358.9 77.5L358.6 77.5L358.3 77.5L358 77.5L357.7 77.5L357.4 77.5L357.1 77.5L356.8 77.5L356.5 77.5L356.3 77.5L356 77.5L355.7 77.5L355.4 77.5L355.1 77.5L354.8 77.5L354.5 77.5L354.2 77.5L353.9 77.5L353.6 77.5L353.3 77.5L353.1 77.5L352.8 77.5L352.5 77.5L352.2 77.5L351.9 77.5L351.6 77.5L351.3 77.5L351 77.5L350.7 77.5L350.4 77.5L350.1 77.5L349.9 77.5L349.6 77.5L349.3 77.5L349 77.5L348.7 77.5L348.4 77.5z" fill="#402070" fill-opacity="0.45"/>
<path d="M359.7 82.2L360.3 82.4L361 82.5L361.7 82.6L362.4 82.7L363.1 83L363.8 83.2L364.5 83.5L365.2 83.7L365.9 84L366.5 84.2L367.2 84.5L367.9 84.7L368.6 85L369.3 85.2L370 85.5L370.7 85.7L371.4 86L372 86.2L372.7 86.4L373.4 86.7L374.1 86.9L374.8 87.2L375.5 87.4L376.2 87.6L376.9 87.8L377.6 88.1L378.2 88.3L378.9 88.5L379.6 88.7L380.3 88.9L381 88.9L381.7 89L382.4 89L383.1 89.1L383.7 89.1L384.4 89.2L385.1 89.2L385.8 89.3L386.5 89.3L387.2 89.4L387.2 90.4L386.5 90.4L385.8 90.4L385.1 90.4L384.4 90.4L383.7 90.4L383.1 90.4L382.4 90.4L381.7 90.4L381 90.4L380.3 90.4L379.6 90.2L378.9 90.1L378.2 89.9L377.6 89.7L376.9 89.5L376.2 89.3L375.5 89.1L374.8 88.9L374.1 88.7L373.4 88.5L372.7 88.3L372 88.1L371.4 87.9L370.7 87.7L370 87.5L369.3 87.2L368.6 87L367.9 86.8L367.2 86.6L366.5 86.4L365.9 86.2L365.2 85.9L364.5 85.7L363.8 85.5L363.1 85.3L362.4 85L361.7 84.8L361 84.6L360.3 84.3L359.7 84.1z" fill="#1a1028" fill-opacity="1"/>
<path d="M359.7 80.1L360.3 80.1L361 80.2L361.7 80.2L362.4 80.2L363.1 80.4L363.8 80.7L364.5 81L365.2 81.3L365.9 81.6L366.5 81.9L367.2 82.1L367.9 82.4L368.6 82.7L369.3 83L370 83.3L370.7 83.5L371.4 83.8L372 84.1L372.7 84.4L373.4 84.6L374.1 84.9L374.8 85.2L375.5 85.4L376.2 85.7L376.9 86L377.6 86.2L378.2 86.5L378.9 86.7L379.6 87L380.3 87.2L381 87.3L381.7 87.4L382.4 87.5L383.1 87.6L383.7 87.7L384.4 87.8L385.1 87.9L385.8 88L386.5 88.1L387.2 88.2L387.2 89.6L386.5 89.6L385.8 89.5L385.1 89.5L384.4 89.5L383.7 89.4L383.1 89.4L382.4 89.4L381.7 89.3L381 89.3L380.3 89.3L379.6 89.1L378.9 88.9L378.2 88.7L377.6 88.5L376.9 88.3L376.2 88L375.5 87.8L374.8 87.6L374.1 87.4L373.4 87.1L372.7 86.9L372 86.7L371.4 86.4L370.7 86.2L370 86L369.3 85.7L368.6 85.5L367.9 85.3L367.2 85L366.5 84.8L365.9 84.5L365.2 84.3L364.5 84L363.8 83.8L363.1 83.6L362.4 83.3L361.7 83.2L361 83L360.3 82.9L359.7 82.7z" fill="#d850c8" fill-opacity="0.9"/>
<path d="M359.7 75.7L360.3 75.4L361 75.2L361.7 75L362.4 74.8L363.1 75L363.8 75.4L364.5 75.7L365.2 76.1L365.9 76.5L366.5 76.8L367.2 77.2L367.9 77.5L368.6 77.9L369.3 78.2L370 78.6L370.7 78.9L371.4 79.3L372 79.6L372.7 79.9L373.4 80.3L374.1 80.6L374.8 81L375.5 81.3L376.2 81.6L376.9 82L377.6 82.3L378.2 82.6L378.9 83L379.6 83.3L380.3 83.6L381 83.8L381.7 84L382.4 84.2L383.1 84.5L383.7 84.7L384.4 84.9L385.1 85.1L385.8 85.3L386.5 85.5L387.2 85.7L387.2 88.7L386.5 88.6L385.8 88.6L385.1 88.5L384.4 88.4L383.7 88.3L383.1 88.3L382.4 88.2L381.7 88.1L381 88L380.3 87.9L379.6 87.7L378.9 87.5L378.2 87.3L377.6 87L376.9 86.8L376.2 86.5L375.5 86.3L374.8 86L374.1 85.8L373.4 85.5L372.7 85.3L372 85L371.4 84.8L370.7 84.5L370 84.2L369.3 84L368.6 83.7L367.9 83.5L367.2 83.2L366.5 82.9L365.9 82.7L365.2 82.4L364.5 82.1L363.8 81.8L363.1 81.6L362.4 81.3L361.7 81.3L361 81.2L360.3 81.1L359.7 81.1z" fill="#40a050" fill-opacity="0.9"/>
<path d="M359.7 68.6L360.3 68L361 67.4L361.7 66.8L362.4 66.2L363.1 66.5L363.8 67L364.5 67.5L365.2 67.9L365.9 68.4L366.5 68.8L367.2 69.3L367.9 69.8L368.6 70.2L369.3 70.7L370 71.1L370.7 71.6L371.4 72.1L372 72.5L372.7 73L373.4 73.4L374.1 73.9L374.8 74.3L375.5 74.8L376.2 75.3L376.9 75.7L377.6 76.2L378.2 76.6L378.9 77.1L379.6 77.5L380.3 77.9L381 78.3L381.7 78.7L382.4 79.1L383.1 79.5L383.7 79.9L384.4 80.3L385.1 80.7L385.8 81L386.5 81.4L387.2 81.8L387.2 86.5L386.5 86.3L385.8 86.1L385.1 86L384.4 85.8L383.7 85.6L383.1 85.4L382.4 85.3L381.7 85.1L381 84.9L380.3 84.7L379.6 84.4L378.9 84.2L378.2 83.9L377.6 83.5L376.9 83.2L376.2 82.9L375.5 82.6L374.8 82.3L374.1 82L373.4 81.7L372.7 81.3L372 81L371.4 80.7L370.7 80.4L370 80L369.3 79.7L368.6 79.4L367.9 79.1L367.2 78.7L366.5 78.4L365.9 78.1L365.2 77.7L364.5 77.4L363.8 77.1L363.1 76.7L362.4 76.5L361.7 76.6L361 76.8L360.3 76.9L359.7 77.1z" fill="#e02838" fill-opacity="0.9"/>
<path d="M359.7 62L360.3 61.1L361 60.1L361.7 59.2L362.4 58.2L363.1 58.6L363.8 59.1L364.5 59.7L365.2 60.3L365.9 60.8L366.5 61.4L367.2 62L367.9 62.5L368.6 63.1L369.3 63.7L370 64.2L370.7 64.8L371.4 65.4L372 65.9L372.7 66.5L373.4 67L374.1 67.6L374.8 68.2L375.5 68.7L376.2 69.3L376.9 69.9L377.6 70.4L378.2 71L378.9 71.5L379.6 72.1L380.3 72.7L381 73.2L381.7 73.8L382.4 74.3L383.1 74.9L383.7 75.4L384.4 76L385.1 76.5L385.8 77.1L386.5 77.6L387.2 78.2L387.2 82.6L386.5 82.2L385.8 81.9L385.1 81.5L384.4 81.2L383.7 80.8L383.1 80.5L382.4 80.1L381.7 79.8L381 79.4L380.3 79.1L379.6 78.7L378.9 78.2L378.2 77.8L377.6 77.4L376.9 77L376.2 76.5L375.5 76.1L374.8 75.7L374.1 75.2L373.4 74.8L372.7 74.4L372 73.9L371.4 73.5L370.7 73.1L370 72.6L369.3 72.2L368.6 71.8L367.9 71.3L367.2 70.9L366.5 70.4L365.9 70L365.2 69.6L364.5 69.1L363.8 68.7L363.1 68.2L362.4 67.9L361.7 68.4L361 69L360.3 69.5L359.7 70z" fill="#4030e4" fill-opacity="0.55"/>
<path d="M338.8 79.5h1.8M338.3 90h1.8M329.8 81.1h1.8M352.8 89h1.8M357.3 82.4h1.8M342.4 86.2h1.8M343.2 83.2h1.8M357.4 78.4h1.8M350.6 79h1.8M335 85.1h1.8M327 83.8h1.8M354.4 89.1h1.8M329.2 79.5h1.8M344.8 82.3h1.8M337.7 87.6h1.8M332.5 87.8h1.8M349.2 85.2h1.8M339.4 77.6h1.8M328.9 82.7h1.8M329.8 83.6h1.8M345.5 89h1.8M340.2 88.6h1.8M338.7 81.5h1.8M341.1 88.2h1.8M327.3 87.5h1.8M351.1 79.9h1.8M333.5 82.5h1.8M331.7 89.4h1.8M353 80.6h1.8M330.5 80.5h1.8M331.3 81h1.8M358 85.6h1.8M328.5 88.8h1.8M331.9 86.5h1.8M339.2 88.9h1.8M349.4 88.1h1.8M349.8 83.9h1.8M339.8 89.4h1.8M358.7 84.3h1.8M353.4 78.5h1.8M340.4 90.4h1.8M336.4 90.4h1.8M326.6 79.3h1.8M329.5 80.2h1.8M335.9 84.9h1.8M335.7 83h1.8M332.6 87.8h1.8M336.2 90.5h1.8M353.9 81.4h1.8M327.2 81.7h1.8M349.5 86.5h1.8M344.6 90.5h1.8M349.8 88.5h1.8M331.9 78h1.8M329.9 78.7h1.8M343 79.4h1.8M346 87.5h1.8M328.8 82.2h1.8M355.1 81.9h1.8M334.5 88.3h1.8M330.2 85.9h1.8M354.9 78.4h1.8M359.6 89.7h1.8M339.4 82.6h1.8M347.4 90.2h1.8M326.7 88.7h1.8M349.8 87.1h1.8M334.4 88.4h1.8M328.5 86.6h1.8M353.4 78.3h1.8M350.2 79.4h1.8M328 80.8h1.8M347.1 81.6h1.8M345.4 80.8h1.8M344.3 79.1h1.8M342.2 79.7h1.8M342.5 79.3h1.8M357.7 80.9h1.8M336.3 84.4h1.8M328 81.5h1.8M357.9 80.8h1.8M345.9 77.3h1.8M393.1 81h1.8M402.7 89.9h1.8M396.2 90.6h1.8M380.1 78.2h1.8M399.9 82.6h1.8M402.7 81.6h1.8M419.9 88.1h1.8M407.2 83.9h1.8M408.4 78.2h1.8M383.5 78.8h1.8M414.5 87.1h1.8M401.9 80.8h1.8M397.8 84h1.8M398.8 86.4h1.8M406.9 84h1.8M405.4 82.5h1.8M379 77.8h1.8M412.7 80.1h1.8M391 77.7h1.8M400.8 82.8h1.8M396.3 88.2h1.8M416.1 79.6h1.8M385.6 78h1.8M394.8 87.9h1.8M403.2 84.6h1.8M412.4 90h1.8M411.4 86h1.8M404.8 86.7h1.8M392 87.9h1.8M417.7 80.5h1.8M407.3 77.3h1.8M403.4 81.4h1.8M406.8 78.3h1.8M381.1 88.1h1.8M412.1 79.2h1.8M420.1 84h1.8M406.5 90h1.8M379.3 84.6h1.8M383.7 85.7h1.8M397 83.3h1.8M414.2 85.8h1.8M384.9 87h1.8M413.2 77.6h1.8M379.8 81.7h1.8M405.2 80.7h1.8M390.4 86.6h1.8M418 85.8h1.8M382.3 85.3h1.8M407.7 78.4h1.8M393 90.3h1.8M408.6 82.2h1.8M397.1 89.5h1.8M412.7 78.5h1.8M383.5 82.9h1.8M408.6 82.1h1.8M416.6 86.2h1.8M401.1 85.4h1.8M398.7 77.8h1.8M408.2 86.4h1.8M417.8 86.4h1.8M419.9 78.4h1.8M393.1 81.8h1.8M382.3 78.2h1.8M384 77.3h1.8M400 87.3h1.8M386.1 88.5h1.8M396 89.5h1.8M411.4 88.7h1.8M400.9 79.9h1.8M384.3 78.3h1.8M414.5 86.1h1.8M398.8 81.2h1.8M398.3 89.6h1.8M385.2 84.5h1.8M417.5 83.4h1.8M397.4 90.1h1.8M411.2 86.5h1.8M396.4 79.7h1.8M419.1 88.2h1.8M382.7 80.7h1.8M406.2 90.3h1.8M386.2 79.3h1.8M418.7 83h1.8M379.2 80.2h1.8M386 86.9h1.8M409.9 88h1.8" stroke="#000000" stroke-width=".8" stroke-opacity="0.6" fill="none"/>
<path d="M346.9 78.5h1M352.2 90.2h1M342 79.8h1M348.8 85.4h1M353 83.8h1M348.4 85.4h1M343.8 85.7h1M356.9 87.2h1M337.2 89.7h1M351.6 88.7h1M328 79.6h1M351.1 88.7h1M359.2 84.6h1M328.9 77.9h1M328.3 86.1h1M338.6 78.3h1M354.3 88.3h1M349.2 82.8h1M338.6 78.4h1M354.5 82.9h1M339.8 90.3h1M340.7 80.3h1M331 86.6h1M330.8 78h1M351.1 82.3h1M335.6 86.5h1M339.9 88.5h1M357.9 88.5h1M336.4 84.7h1M340.3 87.5h1M340 77.8h1M333 82.4h1M339.3 79.8h1M354.2 82.2h1M351.8 80.8h1M332.7 79.5h1M357.5 77.8h1M350.3 81.9h1M350.2 85h1M355.9 81.5h1M357.1 79.3h1M342.1 83.8h1M335.7 85.8h1M336.9 78h1M353.7 87.3h1M356.3 79.3h1M357.5 85.8h1M334.3 89.3h1M357.8 78.9h1M351.8 78.7h1M333 80.3h1M342.4 90.4h1M327.9 84h1M347.7 79.8h1M350.6 88.9h1M351.6 79.8h1M348.9 82.3h1M331 82.3h1M357 88h1M353.7 83.7h1M343.2 88.6h1M356.2 86.1h1M341.5 80.1h1M350.8 83h1M350.5 85.2h1M347.4 87.9h1M338.4 87.7h1M331.1 85.9h1M329.7 84.4h1M344.4 85.8h1M346.3 79.5h1M333.3 77.6h1M327 78.3h1M345.3 86.8h1M339.8 87.7h1M345.7 80.1h1M355.2 88.3h1M341.7 83.9h1M340.6 80.1h1M353.3 86.7h1M330.6 87.1h1M333.1 79.1h1M345.8 89h1M352.7 77.5h1M354 84h1M328.3 87.2h1M351.5 79.4h1M327.9 82.6h1M357.4 81.9h1M342.2 79.5h1M327.1 82.3h1M357.8 86.9h1M353.2 88.6h1M336 87.7h1M334.6 86.9h1M356 78.5h1M393.8 88.2h1M399.9 83.8h1M394.4 89.3h1M395.1 78.2h1M398.1 82.6h1M420.7 84.6h1M412.1 84.7h1M380.6 87h1M419.2 89.2h1M410.6 84.4h1M385.2 83.1h1M415.3 88.1h1M379.5 86.8h1M416.3 82.2h1M393 90.5h1M396.4 77.3h1M415.6 85.7h1M419 77.5h1M391.7 83.1h1M414.7 85.2h1M411.6 90.5h1M417.4 86.7h1M405 81.1h1M388.4 81.3h1M380.5 87.5h1M406.8 85.3h1M413.2 83.7h1M398.7 89.8h1M381.7 86.5h1M380.2 87.2h1M390.6 86.9h1M418.3 84.3h1M410.7 82.4h1M400.7 85h1M397.7 89.1h1M403.4 85.9h1M387.4 83.8h1M411.7 78.1h1M404.4 83.9h1M409.9 77.3h1M413.9 78.1h1M379.9 83.4h1M414.1 85.2h1M415.3 79.5h1M410.8 84.1h1M393.5 88.2h1M417.4 88.6h1M394.7 79.4h1M397.6 83.6h1M409.8 88.5h1M392.9 85.1h1M419.7 80.9h1M385.9 86.4h1M400.3 78.6h1M382 85.4h1M410.4 77.9h1M408.3 86h1M404.4 81.1h1M402.7 81.1h1M407.9 86h1M416.2 79.2h1M384.7 88.2h1M386.1 90.1h1M382.3 88.3h1M395.2 82h1M416.3 78.3h1M387.9 89.6h1M410 84.2h1M383.9 89.8h1M389.4 87.2h1M387.1 80.6h1M401.3 79.1h1M404.1 90.4h1M400.6 87.8h1M402.1 78.3h1M418.7 85.4h1M415.4 82.2h1M387.7 89.9h1M400.4 84.9h1M406.4 82.4h1M387.8 90.4h1M409.4 83.1h1M415.7 88.6h1M402.7 78.2h1M383.3 82.6h1M406.6 79h1M399.8 82h1M398.6 86.4h1M395.2 89.6h1M402 86.3h1M384.9 85h1M385.1 82h1M399 79.8h1M414 87h1M397.4 85.9h1M390.2 79.3h1M408 77.5h1M382.8 82.7h1M393.4 88.3h1M385 81h1M404.8 79.4h1M387.4 79.3h1M395.3 85.4h1" stroke="#ff55ee" stroke-width="1" stroke-opacity="0.6" fill="none"/>
<path d="M355.2 81.7h1M332.5 77.5h1M357.6 84.9h1M335.6 79.6h1M337.8 89.5h1M330.2 79.6h1M354.8 87.9h1M332.2 89.6h1M347.6 86.8h1M336 80.7h1M335 84.4h1M333.3 79.9h1M337.5 85.6h1M339.7 83.7h1M354.9 86.1h1M355.2 78.8h1M329.5 89.8h1M359.3 79.2h1M333.3 84.6h1M332 77.7h1M344.2 84.7h1M331.4 90.5h1M329.7 84.2h1M344.8 90.4h1M357.7 90h1M353.8 87.8h1M355.2 83.5h1M330.4 87.2h1M329.9 81.5h1M351.1 85.2h1M418.3 89.3h1M385.4 89.4h1M392.3 89.8h1M394.7 77.9h1M403.2 89.9h1M417.4 87.1h1M397.2 79.5h1M396.2 78.7h1M410.4 85h1M394.7 78.6h1M382.8 89.6h1M389.7 89.6h1M394.4 85.6h1M405.1 83.9h1M386.2 84.3h1M409 79h1M403.2 88.8h1M381.2 85h1M397.7 84h1M418.3 82.7h1M413.5 88.8h1M414.3 81.6h1M402.1 78.7h1M392.9 80.5h1M411.6 86.7h1M413.2 90.2h1M406 81.1h1M390.4 86.4h1M381.3 84.2h1M388.6 78.7h1" stroke="#00a83c" stroke-width="1" stroke-opacity="0.6" fill="none"/>
<path d="M348.3 78h1M354.2 87.5h1M344.8 83.3h1M337.8 84.7h1M352.3 77.9h1M341.6 87h1M353.8 86.6h1M338.9 83.3h1M332.1 83.4h1M330.8 79.7h1M347.5 87.6h1M348.6 87.3h1M342.3 80.1h1M356.5 85.9h1M358.3 88.6h1M359 87.7h1M337.6 80.5h1M327 88h1M356.9 81.2h1M357.6 89.4h1M329.1 81.5h1M336.1 78.5h1M349 84.9h1M355.3 85.5h1M344.6 81.6h1M351.8 79.5h1M332.8 86h1M340.3 84.1h1M357.9 78.3h1M329.9 80.7h1M343.3 86.6h1M357.3 85.3h1M328.5 88.3h1M353 78h1M340.5 78.6h1M329.1 87.1h1M359.7 86.6h1M336.4 88.3h1M359 81.2h1M337.1 83.8h1M357.1 81.6h1M352.8 80.8h1M329.1 80.1h1M329.9 82.5h1M338.1 82.3h1M346.7 77.8h1M349 80.6h1M359.8 85.7h1M344.7 83.3h1M340.5 88.8h1M339.9 88.5h1M350.3 80.6h1M333.8 86.1h1M347.6 87.5h1M340.4 90.2h1M334.7 78.5h1M330.4 82.2h1M354.1 78h1M342.4 81.6h1M330.8 89h1M351.7 80.9h1M341.4 80.9h1M327.9 84.1h1M349.2 85.5h1M333.3 86.9h1M340.6 90.3h1M339.9 88.8h1M327.8 81h1M351.1 81.7h1M338.4 78.3h1M338.1 87.3h1M331.1 89.6h1M351.1 81.9h1M337 84.9h1M328.4 86.5h1M352.7 81.1h1M355.3 88.1h1M338.6 85.3h1M332.9 79.4h1M355.9 86h1M336 79.1h1M415.3 80.9h1M382.9 84.6h1M402.7 87.2h1M398.6 80.4h1M405.1 83.4h1M390.9 88h1M405 77.5h1M390.4 86.7h1M382.9 77.6h1M404.4 87.6h1M407.6 78.8h1M401.9 87.8h1M384.5 89.1h1M400.3 81.1h1M415 80.4h1M415.9 81h1M396.4 83.1h1M385.2 79.5h1M418.8 77.8h1M399 83.4h1M380.3 85.6h1M404.2 84.4h1M415.7 83.3h1M384.4 87.7h1M381.4 87.7h1M381.8 80.1h1M404 90.4h1M402.8 79.3h1M379.6 83.8h1M416.2 86.2h1M407.7 83h1M385.2 84.5h1M387.8 89.7h1M388.4 79.2h1M415.8 90.6h1M392.2 85.5h1M400.1 89.1h1M402.7 86.8h1M407.5 89.3h1M402.9 84.2h1M384.1 83h1M403.1 78.3h1M389.3 78.4h1M398.8 82.5h1M392.6 87.8h1M392.9 82h1M386.1 82.1h1M403.2 82.1h1M418.2 79.5h1M415.7 86.4h1M387.7 86.2h1M402.4 79.4h1M396.2 89.3h1M381.5 88.3h1M419.8 80h1M406.9 80.6h1M398.3 88.2h1M413.4 88.9h1M417.1 78.8h1M403.1 87.6h1M403.1 80.7h1M382.3 84.8h1M395.8 87.3h1M410.7 89.1h1M401.4 78.5h1M400.4 81h1M416.2 82.8h1M397 82.9h1M384 81.7h1M405.3 88.5h1M402.3 87.6h1M405.9 78.3h1M386.4 88.1h1M415 81.7h1M419.7 89.2h1M420.5 87.9h1M417.6 89.9h1M420.4 84.6h1M386.5 81.9h1M405 88.2h1M401.6 87.5h1M403.3 80.5h1M396.8 86.2h1M385.8 87.6h1M420.4 83.4h1M384.8 79.8h1M409.4 83.7h1" stroke="#ff1010" stroke-width="1" stroke-opacity="0.6" fill="none"/>
<path d="M358.6 79.6h1M343.1 90.6h1M357.9 79.7h1M338.9 89.5h1M341.9 84.2h1M349.9 87.9h1M331.7 79.7h1M356 78.1h1M338.9 77.3h1M329.2 89.9h1M327.3 84.5h1M347.2 87h1M329 89.2h1M346.2 79.4h1M332.1 78.8h1M327 81.3h1M342 85h1M353.9 88.1h1M329.1 83h1M358.4 88.2h1M353.4 82.3h1M346 79.2h1M339.8 82.7h1M332.5 89h1M335.1 79.2h1M338.4 78.5h1M355.3 88.3h1M342.5 89.2h1M328.9 85.8h1M341.4 80.8h1M334.5 83.1h1M352.1 79.6h1M344.2 81.2h1M331.9 85.9h1M355 84.5h1M343.5 81.6h1M354.7 80.8h1M340 81.4h1M345.3 82.5h1M354.2 85.2h1M338.4 84.8h1M331.5 82.4h1M345 86.9h1M357.3 87.1h1M356.7 89.5h1M347.2 80.8h1M340.3 84.9h1M329.3 79.9h1M345.1 81.6h1M350.1 82h1M340.7 81.4h1M329.6 81.7h1M336.4 83.8h1M358.1 90.3h1M332.4 85.4h1M336.6 87.4h1M331.2 85.4h1M344 87.9h1M339.7 84.9h1M338.2 87.7h1M346.9 80.5h1M358.5 85.4h1M339.9 82.5h1M334 85.3h1M358.4 77.6h1M337.4 78.2h1M354 80h1M346.1 87.9h1M331.2 89.2h1M339.4 87.4h1M340.4 88.8h1M329.6 90h1M334.7 85.7h1M347.3 82.2h1M356.4 85.1h1M348 88.3h1M338.9 82h1M348.6 80.8h1M354.5 82.9h1M343.9 90h1M349 89.8h1M346.7 84.2h1M357.4 79.7h1M343.3 83.3h1M343 80h1M343.6 80.1h1M331.5 81.6h1M335.1 85h1M357.6 86.1h1M347 88.9h1M352.5 81.4h1M348.9 85.8h1M351.3 77.9h1M357.6 86.2h1M350.2 85.6h1M339.2 77.8h1M338.8 77.6h1M349.6 79.4h1M333.2 79h1M346.8 87.6h1M347.9 81.4h1M338.4 86.5h1M332.9 79.3h1M332.2 82.4h1M341.6 79.2h1M337 80.3h1M344.3 82.1h1M330 84.5h1M335.1 80.2h1M330.5 83.3h1M334.6 78.2h1M349.9 81.9h1M326.9 82.9h1M330.1 87h1M354.8 82.2h1M357.5 82.5h1M335.2 81.3h1M346.8 81.8h1M350.9 82h1M332 85.3h1M353.7 89.2h1M357.9 78.7h1M331.2 85.7h1M359.5 85.3h1M356.3 87.6h1M341.5 83.8h1M354.3 80.4h1M355.2 81.2h1M344.1 86.7h1M348.6 80.3h1M333.1 88.1h1M339.5 79.6h1M332.7 79.2h1M329.6 84.2h1M328 83.5h1M342.9 79.8h1M334.2 89h1M358.1 79h1M330.9 83h1M332.7 86.6h1M331.5 82.7h1M358.3 80.5h1M337.7 86.5h1M334.5 88.4h1M350.2 78.5h1M343.7 78.4h1M342.5 86h1M338.3 88.2h1M348.3 79.3h1M333.1 77.7h1M349 79h1M350.3 84.6h1M330.2 82.4h1M329.3 82.8h1M335.4 88.1h1M337.9 89h1M348.2 89h1M354.3 78.6h1M333.4 88.5h1M339.6 83.5h1M334.1 88.6h1M355.9 77.3h1M358.1 87.8h1M338.6 80.5h1M354 82.6h1M340.6 82.5h1M345.7 89.6h1M330.7 83.2h1M353.9 86.4h1M330.8 79.5h1M345.3 84h1M333.9 78.9h1M327.6 78.8h1M333 86.8h1M351.3 87.9h1M335.2 78.8h1M339 86.2h1M353.7 82.2h1M357.8 77.7h1M328.5 87.4h1M334.9 87.2h1M355.4 81.1h1M359.7 85.4h1M358.9 90.5h1M330.4 80.6h1M334.8 88.2h1M328.3 90.2h1M352.1 81h1M351 90.6h1M352.8 81h1M349 90.3h1M327.4 90.2h1M357 85.7h1M330.7 88.3h1M338.7 83.9h1M357.2 81.3h1M336.7 90h1M358.9 80.1h1M358.4 78.7h1M348.8 87.2h1M333.1 84.9h1M358 77.4h1M342 86.4h1M353.5 90.4h1M351.6 81.8h1M348.9 78.4h1M347.6 77.9h1M354.9 87.6h1M332.1 89.2h1M358 81.5h1M352.3 81.9h1M335.7 83.5h1M332.3 79.1h1M330.9 83.1h1M335.8 78.5h1M359.7 89.1h1M333.4 86.3h1M347.2 89.3h1M343.2 87.5h1M333.1 82h1M355.8 83.3h1M340.9 77.9h1M337.9 85.4h1M331.9 83.2h1M343.8 83.7h1M330.7 83.1h1M352.1 89.2h1M354.8 82.7h1M357.9 89.8h1M343.8 89.9h1M355.6 89.6h1M408 82.6h1M413.3 83.3h1M396.4 86.2h1M395.3 79.8h1M402.9 82.5h1M388.3 88.2h1M401.2 78.7h1M397.9 78.2h1M384.3 79.9h1M396.7 88.2h1M396.4 79h1M388.1 84.8h1M388.8 78.1h1M417.4 78.3h1M419.7 84.9h1M402.3 88.2h1M389.8 85.5h1M382.7 89.3h1M407.4 90.6h1M388.4 89.2h1M400.3 85.8h1M399.2 85.3h1M398.1 85.2h1M420.7 86.1h1M385.1 83.6h1M387.2 90.5h1M391.5 79.6h1M409.8 81.7h1M381.1 79.1h1M409.9 85h1M385.3 78.9h1M392.1 86.4h1M382.5 89.9h1M397.9 80.2h1M420.4 88.8h1M418.5 78.3h1M388.3 79.1h1M396 89h1M400.5 80.3h1M403.5 79.5h1M403.5 90.4h1M397 86h1M417.1 78.5h1M407.7 88.8h1M381.6 84.4h1M399.3 85.1h1M382.6 83.2h1M385.4 85.2h1M381.7 85.7h1M388.8 87.6h1M380.6 85.8h1M408 83.9h1M393.8 89.4h1M401.6 83.3h1M388.7 79.9h1M416.4 82.7h1M396.3 85.5h1M388.7 81.9h1M398 82.8h1M383.5 82.3h1M394.9 88.7h1M386.2 89h1M416 90h1M400.9 78.9h1M386 86.2h1M394.3 83.2h1M409.5 86.2h1M383.1 86.7h1M416.5 86.4h1M417.6 84.8h1M382.3 88h1M411.8 84.6h1M394.4 88.7h1M393 77.4h1M403.7 82.7h1M381.9 78.3h1M380.7 79.2h1M414 89.6h1M397.2 85.8h1M420.3 80h1M389.6 80.7h1M384.2 87.3h1M412.2 78.7h1M389.1 83.3h1M419.2 79.3h1M387.4 88.8h1M392.1 88.8h1M412.6 80.6h1M402.2 85.4h1M395.8 83.3h1M397.3 79.9h1M416.1 88.4h1M401.3 90.3h1M414.6 80.9h1M381.7 82.4h1M399.2 79.8h1M391.9 84.7h1M418.5 86.3h1M385.4 82.4h1M412.1 88.4h1M412.3 83.8h1M416.9 86.1h1M398.4 87h1M410.9 89.3h1M408.5 79.5h1M401.9 77.6h1M398 85.3h1M389 81.8h1M405.5 88.4h1M396.3 88.5h1M400.3 87.9h1M412.4 80.9h1M392.3 87.8h1M383.9 85.6h1M384.1 89.8h1M398.9 81h1M407.9 80h1M389.3 90.2h1M420.5 83.6h1M379.9 86h1M386.8 85.3h1M420.2 80.9h1M398.4 80.7h1M391.8 87.4h1M387.6 90.5h1M414.6 87.9h1M400.7 81.7h1M409.5 86.9h1M409.8 86.6h1M420.1 84.2h1M419.5 84.1h1M396.2 89.1h1M399.6 89h1M418.6 78.6h1M420.1 82h1M388 80.6h1M419.8 88.5h1M396.9 78.5h1M405.3 80.2h1M420.2 85.3h1M407.2 87.4h1M400.3 84.1h1M397.5 89.6h1M390.7 86h1M402.7 88.3h1M382.7 82.6h1M420.7 78.3h1M409.4 79.3h1M394.8 88.1h1M412.4 79.9h1M391.1 81.4h1M406 90.5h1M405.6 84h1M382.5 83.9h1M400.8 82.4h1M405.1 85.8h1M391.5 79.1h1M394 86.7h1M410.6 78h1M417.1 79.8h1M415.1 89.6h1M410.7 79.1h1M399.8 89.6h1M411.7 88.2h1M417.9 86.6h1M407.5 81.7h1M409.3 89.4h1M409.4 86.9h1M412.8 85.4h1M406.8 86.5h1M397.6 83.5h1M408.4 82.6h1M398 78.8h1M398.5 78.6h1M408.2 85.3h1M409.4 82.6h1M384.6 81.4h1M386.6 83.9h1M409 88.4h1M379.8 78.2h1M396.2 81.4h1M382.2 90.5h1M390.9 87.9h1M412.3 79h1M379.5 79.9h1M398.1 78.3h1M390.9 88.5h1M383.5 87.3h1M389.4 86.1h1M387.8 85.9h1M406.6 81.2h1M387.9 85.7h1M396.9 85h1M414.5 90.5h1M392.5 78.7h1M401.2 84.4h1M408.9 86.9h1M396.4 82.6h1M418.4 85.2h1M402.8 87.9h1M381 87h1M394.2 80.5h1M415.7 86h1M416.1 79h1M410.4 81.4h1M392.1 80.4h1M418.9 83.7h1M401 79h1M405.9 89.8h1M420.7 88.9h1M409.7 84.6h1M401.4 90.6h1M393.7 89.3h1M385.2 90.3h1" stroke="#2424ff" stroke-width="1" stroke-opacity="0.6" fill="none"/>
<path d="M355.7 67h1.8M352.5 74.1h1.8M358 75.4h1.8M354.6 66.2h1.8M357.7 76.6h1.8M349.4 76.1h1.8M347.1 77.4h1.8M356.3 68.5h1.8M358.6 63.7h1.8M355.9 72h1.8M356.4 74.8h1.8M348.4 77h1.8M352.6 71.2h1.8M358.6 63.4h1.8M350.2 74h1.8M355.3 66.5h1.8M358.8 67.5h1.8M357.5 69.1h1.8M359.5 82.4h1.8M351.1 75.8h1.8M355.9 73.1h1.8M357.3 76.3h1.8M357.2 67.5h1.8M350.5 76h1.8M356.3 76.6h1.8M356 67.3h1.8M347.9 76.1h1.8M358.2 62.1h1.8M352.2 77.6h1.8M355.7 78.3h1.8M351.9 72.8h1.8M347 78.2h1.8M351.3 72.9h1.8M347.4 78.3h1.8M349.6 73.5h1.8M352.9 70.3h1.8M359.2 82.4h1.8M352.7 73.7h1.8M357.7 66.1h1.8M354.1 72.6h1.8M353.3 72.1h1.8M351.6 73.6h1.8M351.8 75.9h1.8M351.6 78h1.8M347.4 76.7h1.8M356.8 71.1h1.8M353.4 73.8h1.8M357.2 68.6h1.8M358.7 77.2h1.8M350.1 77.7h1.8M350.5 78.4h1.8M356.2 69h1.8M352.5 73.6h1.8M347.6 77.3h1.8M349.3 78.3h1.8M356.7 69h1.8M351.7 72.3h1.8M353 78.2h1.8M348.9 76.9h1.8M354.4 76.3h1.8M356.9 69.3h1.8M355.7 74.7h1.8M349.2 76.7h1.8M358.1 76.8h1.8M346.9 77.5h1.8M350.3 77.6h1.8M356.3 68.1h1.8M353.9 75.3h1.8M356.9 67h1.8M349.4 77.2h1.8M358.7 65.2h1.8M356 64.8h1.8M358.6 60.7h1.8M348 77.3h1.8M347.7 76.9h1.8M356.2 73.3h1.8M348 77.6h1.8M355.4 74.4h1.8M349.4 73.9h1.8M350.2 73.9h1.8M351.1 78.2h1.8M357.5 72.6h1.8M346.9 77.2h1.8M350.4 77.4h1.8M353.6 73.7h1.8M341.9 77.7h1.8M353.6 60.7h1.8M341.4 77.6h1.8M345.4 73.1h1.8M354.5 58.5h1.8M353.6 64.4h1.8M342.5 76.3h1.8M347 73h1.8M352.3 61.4h1.8M343.7 77.7h1.8M343.7 77.5h1.8M341.7 77.2h1.8M341.8 77.1h1.8M348.2 75.7h1.8M347.7 69.5h1.8M343.5 77.2h1.8M342.8 75.7h1.8M348.6 73.8h1.8M350 71.9h1.8M345.6 73.1h1.8M344.6 75h1.8M354 77.1h1.8M346 76.1h1.8M357.1 57.2h1.8M358.4 57.6h1.8M361.5 60.7h1.8M354.2 60.4h1.8M357.3 60h1.8M362.5 57.1h1.8M366.2 29.2h1.8M371.1 86.9h1.8M369.2 87h1.8M366.9 85h1.8M364.3 85.3h1.8M363.2 85.2h1.8M374.2 88.7h1.8M369.3 85.2h1.8M375.6 87.9h1.8M382.8 90.2h1.8M380.8 89.6h1.8M369.6 87.7h1.8M367.3 86.7h1.8M375.9 88.9h1.8M371.7 87.7h1.8M367.9 85.4h1.8M364.8 86.6h1.8M359.8 82.2h1.8M358.8 82.9h1.8M360.8 85.5h1.8M366.2 86.4h1.8M374.1 88h1.8M385.5 90.3h1.8M382.3 89.3h1.8M377.9 88.9h1.8M360.2 84.9h1.8M362.5 84.3h1.8M374 87.3h1.8M385.4 89.2h1.8M365.9 84.5h1.8M374.2 88.2h1.8M373.3 88.8h1.8M374.7 89.2h1.8M380.2 89h1.8M379.7 89.1h1.8M376.7 90.2h1.8M376.3 87.7h1.8M373.3 88h1.8M361.7 82.8h1.8M362.3 83h1.8M377 89h1.8M380.3 90.2h1.8M382.1 89.1h1.8M370 88.3h1.8M378.6 89.9h1.8M366.9 85h1.8M384.8 89.9h1.8M366.2 84.4h1.8M367.7 87.7h1.8M368.7 87.5h1.8M368.3 87.8h1.8M367.5 86.9h1.8M376.9 87.9h1.8M381.8 89.9h1.8M373.5 87.6h1.8M372.3 88.6h1.8M378.2 89.9h1.8M381.3 90.1h1.8M359.5 82.2h1.8M362.2 83.7h1.8M370.2 87.5h1.8M380.7 89.2h1.8M378.3 90.2h1.8M360.7 84.5h1.8M370.5 86.1h1.8M360.3 82.8h1.8M359 82.3h1.8M383.2 90.3h1.8M372.7 88.7h1.8M368.9 84.9h1.8M371.7 88.7h1.8M373.6 88.8h1.8M365.3 84.7h1.8M385 89.3h1.8M362.3 85.7h1.8M369 85.9h1.8M361 83.5h1.8M360.5 79.5h1.8M373.5 85.7h1.8M385.6 89.7h1.8M370.7 80.7h1.8M377 81.9h1.8M366.5 79.2h1.8M375.7 85.1h1.8M371.9 79.2h1.8M385.5 85.5h1.8M385.8 86h1.8M369.8 82.5h1.8M364.7 77.3h1.8M364.6 80.9h1.8M384.6 86.4h1.8M364.9 80.9h1.8M370.7 75.8h1.8M365.7 69.6h1.8M373.7 75.4h1.8M359.1 74.5h1.8M360.9 70.1h1.8M369.3 70.9h1.8M376.5 78.4h1.8M382.2 84.2h1.8M380.3 79.1h1.8M370.5 68.1h1.8M359.9 68h1.8M366.9 69.6h1.8M372.5 73.7h1.8M373.1 68.8h1.8M381.7 80.5h1.8M381.4 73.7h1.8M360.7 58.3h1.8M382.3 78.7h1.8M365.7 68.7h1.8M419.8 87.4h1.8M420.5 84.4h1.8M419.8 85.8h1.8M420.1 89.6h1.8M420 82.9h1.8M419.8 87.9h1.8M420.5 86.5h1.8M419.8 79.1h1.8" stroke="#000000" stroke-width=".8" stroke-opacity="0.72" fill="none"/>
<path d="M352.7 78.2h1.1M357.7 66.9h1.1M349.5 78.4h1.1M351.5 77.8h1.1M349.9 74.3h1.1M351.9 76.2h1.1M358.3 71.4h1.1M354.1 77.6h1.1M349.3 74.7h1.1M351.9 75.4h1.1M359.6 79h1.1M357.2 66h1.1M348.9 75.9h1.1M359.3 63h1.1M358.7 62.3h1.1M355.1 76.2h1.1M350.6 77.4h1.1M351.6 72.3h1.1M347.9 77.3h1.1M353.1 72.8h1.1M358.1 71.9h1.1M356 66.6h1.1M348.2 76.7h1.1M357.8 62.4h1.1M358.1 73.5h1.1M357.2 69.8h1.1M347.4 76.9h1.1M358 74.2h1.1M356.1 70.6h1.1M353 69.3h1.1M353.1 69.9h1.1M351.9 78h1.1M356.9 68h1.1M357.4 65.2h1.1M351 77.8h1.1M353.7 72.9h1.1M352 76.4h1.1M353.7 74.9h1.1M348.2 76.5h1.1M350.8 73.7h1.1M352.9 77.6h1.1M358.6 64h1.1M352.2 73.7h1.1M354.3 69.1h1.1M349.7 77h1.1M354 70.1h1.1M351.8 74.4h1.1M354.5 69.1h1.1M358 73.7h1.1M357.8 72.5h1.1M356.7 66.7h1.1M355.9 77.4h1.1M359.5 81h1.1M353.6 70.6h1.1M347.4 77.4h1.1M357 67.5h1.1M349.2 75.2h1.1M347.7 76.9h1.1M354.1 74.3h1.1M348.5 75.8h1.1M351.6 72.3h1.1M351.6 76h1.1M345.6 75.9h1.1M345.8 76.4h1.1M341.3 77.4h1.1M351 73.7h1.1M344.1 77.4h1.1M347.7 76.9h1.1M353.5 59.9h1.1M344.8 74.9h1.1M352 66.4h1.1M352.1 70.7h1.1M352.7 70.7h1.1M350.1 67.6h1.1M345.2 75.2h1.1M348.2 69.6h1.1M344.8 76.6h1.1M352.2 72.7h1.1M341.9 76.9h1.1M342.5 77.6h1.1M351.3 73.6h1.1M344.5 75.4h1.1M348.4 54.8h1.1M353.3 55.2h1.1M356.6 60h1.1M352 51.4h1.1M351.8 45.3h1.1M357 48.4h1.1M354.5 51.7h1.1M358.2 35.9h1.1M356.7 62.6h1.1M356.7 63.8h1.1M357.4 37h1.1M355.5 57.4h1.1M358.2 39.7h1.1M355.4 54.3h1.1M353.5 57.2h1.1M351.5 57.7h1.1M361.8 39.9h1.1M357.3 54.1h1.1M355.7 53.5h1.1M349.6 54h1.1M360.6 53.2h1.1M346.8 51.3h1.1M356.2 51.4h1.1M363.3 42.8h1.1M352.1 42.7h1.1M355.8 54.2h1.1M360 54.6h1.1M353.2 47.5h1.1M356.3 39.8h1.1M357.4 39.4h1.1M356.4 58.1h1.1M357.7 53.7h1.1M361 58.1h1.1M363.3 47.1h1.1M360.5 59.5h1.1M362.4 39.3h1.1M356.3 58.7h1.1M359 44.2h1.1M355.8 52.3h1.1M355.4 54.3h1.1M353.3 58.8h1.1M361.5 63.3h1.1M348.1 49h1.1M354.3 35.1h1.1M361.9 84h1.1M372.5 88.1h1.1M373.8 89.3h1.1M381.9 90h1.1M373.6 87.5h1.1M360 83.5h1.1M374.2 89.5h1.1M368.5 85.3h1.1M365.6 86.7h1.1M364.8 86.7h1.1M364.4 85.8h1.1M381 89h1.1M362.3 83.2h1.1M380.4 89.8h1.1M375.7 89.5h1.1M371.6 87h1.1M369.3 83.3h1.1M365.9 84.1h1.1M359.1 80.2h1.1M377.6 89h1.1M378.8 88h1.1M381 87.7h1.1M372.3 86.3h1.1M377.9 87.3h1.1M375.8 88.4h1.1M383.7 88.9h1.1M369.6 85.5h1.1M362.3 83.1h1.1M383.4 89.7h1.1M382.7 87.2h1.1M374.9 87.6h1.1M379.7 86.9h1.1M360.7 80.1h1.1M373.2 86.9h1.1M361.8 81.8h1.1M377.5 88.4h1.1M377.5 86.4h1.1M365.4 81.9h1.1M383 87.8h1.1M365.6 82.8h1.1M372.3 86.5h1.1M370.9 86.6h1.1M380.9 87.8h1.1M376.4 85.7h1.1M362.6 84h1.1M365.9 83h1.1M362 80.9h1.1M363.6 84.1h1.1M369.2 84.1h1.1M363.9 83.4h1.1M364.1 84.2h1.1M371.7 86.4h1.1M372.9 85.9h1.1M386.5 89.2h1.1M359.3 81.1h1.1M374.5 84.8h1.1M381.9 88.7h1.1M379.7 87.7h1.1M365.3 81.8h1.1M372.6 85.2h1.1M379.2 88.6h1.1M362.7 82.6h1.1M359.7 81.3h1.1M360.7 83.2h1.1M371.6 86.4h1.1M366.8 83.4h1.1M362 81.6h1.1M366.9 84.4h1.1M365.2 81.5h1.1M367.7 84.2h1.1M378.2 86.9h1.1M377.6 87h1.1M376 87.9h1.1M360.9 83.5h1.1M384.2 89.6h1.1M365.6 83.9h1.1M378.7 88.9h1.1M378.2 86.6h1.1M383.2 87.7h1.1M364.2 81.8h1.1M364.8 75.5h1.1M377.5 85.1h1.1M376.5 81.7h1.1M360.8 77.6h1.1M371.4 82.5h1.1M375.3 82.5h1.1M362.5 75.2h1.1M360 74.9h1.1M381.2 85.7h1.1M360.9 80.4h1.1M370 81.3h1.1M371.6 83h1.1M376.3 81.7h1.1M384.4 85.8h1.1M370.8 84.1h1.1M375.6 82.2h1.1M371.9 80.6h1.1M364.3 79.8h1.1M371.5 80.4h1.1M363.5 80.2h1.1M368.1 80.4h1.1M384 84.6h1.1M369.6 78.2h1.1M378.3 83h1.1M372.1 82h1.1M385.8 86.1h1.1M363.4 76.3h1.1M371.8 83.8h1.1M372 83.3h1.1M374.2 80.8h1.1M370.3 78.5h1.1M362.7 81.5h1.1M378.4 85.8h1.1M366.3 80.6h1.1M371.2 82.4h1.1M364.3 78.5h1.1M364 80.3h1.1M371.2 75h1.1M363 70.1h1.1M382.4 83.6h1.1M372.3 73.8h1.1M362.9 69.6h1.1M382.3 85.3h1.1M377.9 82h1.1M363.3 75h1.1M378.4 82.8h1.1M367.9 73.8h1.1M363.2 77.2h1.1M360.8 70.3h1.1M378.1 82.9h1.1M369.7 74.1h1.1M376.6 77.6h1.1M365.4 72.9h1.1M373.6 81.8h1.1M363.2 77.2h1.1M383.4 84.3h1.1M374.5 74.2h1.1M375.7 82.9h1.1M366.7 72.3h1.1M373.1 80.1h1.1M378.8 83.7h1.1M370.7 73.2h1.1M367.4 78h1.1M368.5 70.1h1.1M373.5 79.2h1.1M372.7 72.4h1.1M362.6 65.7h1.1M376.8 81.7h1.1M366.7 79.1h1.1M359.2 76.5h1.1M379.8 83h1.1M378.5 76.9h1.1M385 82.5h1.1M379.4 81.9h1.1M363.1 77.6h1.1M371.6 75.2h1.1M381.9 79.1h1.1M361 73.5h1.1M367.9 62.1h1.1M381.8 75.5h1.1M372.4 71.9h1.1M386.2 81.1h1.1M360.4 67h1.1M374 67.1h1.1M375.7 68.7h1.1M372.9 71.6h1.1M366.4 68.7h1.1M364 59.5h1.1M381.6 79.6h1.1M376.2 69.5h1.1M362.5 61.1h1.1M381.5 78.3h1.1M373.2 69.4h1.1M377.6 72.2h1.1M359.4 63h1.1M378.1 77.5h1.1M377.8 70.4h1.1M362.6 62.9h1.1M369.9 65.8h1.1M360.9 58.6h1.1M381.4 75.6h1.1M365.2 69.9h1.1M380.8 75.8h1.1M370.7 70.7h1.1M385.9 78.5h1.1M375.5 76.6h1.1M359.2 63.7h1.1M363.4 65.4h1.1M383.5 75h1.1M380.6 78.2h1.1M380.6 79.7h1.1M377.9 71.6h1.1M360.6 61.3h1.1M383.9 80h1.1M381.8 73.6h1.1M381.9 74.2h1.1M370.6 68.9h1.1M359.3 67.6h1.1M378.3 75.5h1.1M382.5 74.2h1.1M368.5 67.1h1.1M385.8 76.8h1.1M361 55.4h1.1M359.4 60.1h1.1M385.6 74.4h1.1M385 75.6h1.1M375.7 64.7h1.1M373.3 63.7h1.1M369.1 60.3h1.1M359.4 56h1.1" stroke="#ff55ee" stroke-width="1.1" stroke-opacity="0.72" fill="none"/>
<path d="M348.6 77.4h1.1M350.1 75.4h1.1M348.4 77.5h1.1M348.6 75.5h1.1M351.3 71.6h1.1M352.1 76.3h1.1M355.1 75.1h1.1M351.6 77.1h1.1M347.8 76.9h1.1M354.5 77.2h1.1M352.9 75.9h1.1M356.5 72h1.1M359.7 81.5h1.1M356.2 75.8h1.1M355.7 66.4h1.1M358.9 61.9h1.1M354.8 77.8h1.1M359.5 79.8h1.1M353.1 73.1h1.1M359.2 65.3h1.1M357.3 65h1.1M355.5 70.6h1.1M349.3 75.3h1.1M347.5 77.2h1.1M356.5 65.5h1.1M355.8 78h1.1M358.7 76.2h1.1M353.4 76.9h1.1M359.5 78.7h1.1M356.4 75h1.1M356 71.1h1.1M356.5 75h1.1M347.6 77.1h1.1M349.6 77h1.1M342 77h1.1M355.1 65.4h1.1M342.9 76h1.1M341.2 76.9h1.1M345.1 76.6h1.1M347.8 75.8h1.1M355 69.6h1.1M346.1 73.5h1.1M341.3 77h1.1M350.1 67.6h1.1M342 77h1.1M346 74.8h1.1M356.4 55.6h1.1M355.9 50.3h1.1M354.7 37.1h1.1M358.4 61.8h1.1M352.7 49.9h1.1M359.6 51.5h1.1M355 61h1.1M359.3 53.6h1.1M356.4 62.5h1.1M353.5 60.8h1.1M361.8 57.9h1.1M355.3 51.2h1.1M352.7 61h1.1M354.1 50.3h1.1M354 44.2h1.1M352.1 47.2h1.1M360.7 58.4h1.1M352.7 61.1h1.1M358.8 46.3h1.1M340.1 50.2h1.1M365.9 83.8h1.1M370.1 88.2h1.1M381.8 89.1h1.1M360.8 82.6h1.1M382 90h1.1M380.1 90.2h1.1M376 89.8h1.1M359.4 81.6h1.1M359.6 80.6h1.1M384.9 88.8h1.1M386.6 89.3h1.1M385.1 89.3h1.1M378.4 89h1.1M370.1 84.7h1.1M361.5 83.7h1.1M371.3 86.9h1.1M377.8 86.2h1.1M372.3 85h1.1M379 88.2h1.1M370.5 86h1.1M363.5 82.1h1.1M362.8 81.3h1.1M374.1 87.5h1.1M381.5 89.5h1.1M367.3 84.6h1.1M359.6 81.6h1.1M380.3 87.3h1.1M367.2 84.1h1.1M361 82.8h1.1M373.3 85.9h1.1M359.2 80.6h1.1M374.7 86.4h1.1M375.7 87.5h1.1M374.7 84.3h1.1M384.3 88h1.1M360.4 77.5h1.1M384.1 86.8h1.1M382.9 87.5h1.1M375 83.3h1.1M369.6 81.6h1.1M368.8 81.6h1.1M360.4 77.1h1.1M375.2 81.2h1.1M385.5 88.5h1.1M380.7 86.1h1.1M377.5 82.3h1.1M383.3 84.8h1.1M381 87.6h1.1M365.8 77.8h1.1M380.8 86.4h1.1M368.6 82.8h1.1M384.8 85.6h1.1M363.3 75.4h1.1M370.5 83.4h1.1M375.2 82.2h1.1M380.3 83.1h1.1M384.6 88.1h1.1M363.1 81.1h1.1M372.4 84.4h1.1M373.1 83.7h1.1M367.4 82h1.1M372.4 82.7h1.1M373.8 79.9h1.1M362.3 78.9h1.1M370.8 81.1h1.1M377.9 82.1h1.1M371.3 81.8h1.1M369.5 82.6h1.1M366.1 82.3h1.1M385.7 88.6h1.1M375.7 81.3h1.1M373 80.4h1.1M366.3 79.6h1.1M375.6 83.3h1.1M370.9 84h1.1M380.8 84.6h1.1M372.7 84.2h1.1M365.2 78.6h1.1M362.1 78.9h1.1M365.9 76.1h1.1M370 84.6h1.1M371.9 84.3h1.1M366.1 76.2h1.1M361.6 78.5h1.1M374.1 80h1.1M364.9 77.7h1.1M378 85.4h1.1M362 78.1h1.1M377.5 86.5h1.1M368.5 82.4h1.1M382.1 84.2h1.1M374 84.2h1.1M368.3 83.4h1.1M374 85.1h1.1M364.5 78h1.1M373.9 81.8h1.1M377.8 83.1h1.1M381.9 84.6h1.1M365 80.7h1.1M359.1 79.8h1.1M382.9 86.2h1.1M374.3 83.6h1.1M368.5 83.6h1.1M373.8 81.3h1.1M370.5 78.2h1.1M378.4 85.4h1.1M366.8 82.4h1.1M380.8 86.6h1.1M374.9 84.6h1.1M364.1 77.7h1.1M378 82.1h1.1M366.6 78.9h1.1M363.5 80.3h1.1M382.5 86.2h1.1M376.9 82.5h1.1M371.2 84h1.1M366.2 79.6h1.1M369.1 79.9h1.1M375.7 86.1h1.1M372 81h1.1M377.5 87.3h1.1M363.3 76.9h1.1M359.6 79.8h1.1M362.7 80.8h1.1M386.4 87.1h1.1M367.9 78h1.1M365.7 79.6h1.1M378.9 84.4h1.1M377 82.2h1.1M383.4 88.2h1.1M372.5 85.5h1.1M369.1 82.2h1.1M380.5 84.2h1.1M378.8 87.7h1.1M359.6 75.8h1.1M361.5 76h1.1M380.6 87.7h1.1M360.9 80h1.1M383.5 85.8h1.1M359.6 73.6h1.1M363 76.8h1.1M380.3 78.7h1.1M368.7 71.4h1.1M379 78.4h1.1M360.4 75h1.1M359.3 74h1.1M368.2 71.3h1.1M378.3 79.4h1.1M383.7 85.6h1.1M360.6 73.6h1.1M385.6 84.2h1.1M383.7 80.5h1.1M370.1 77.2h1.1M363.8 66.3h1.1M379 83h1.1M380.6 84.8h1.1M362.4 73.1h1.1M370.4 78.4h1.1M375.5 83h1.1M374.1 80.2h1.1M359.6 73.2h1.1M366.3 71.9h1.1M376.2 77.6h1.1M369.1 75.3h1.1M383.3 79.4h1.1M385.8 83.7h1.1M377.8 80.4h1.1M369.2 70.6h1.1M369.3 72.5h1.1M374.7 79.7h1.1M365.5 76.5h1.1M372.8 78.4h1.1M367.7 69.3h1.1M360 76.8h1.1M373.1 67h1.1M362.8 62h1.1M362.1 62.5h1.1M385.1 80.9h1.1M379.8 73h1.1M365 68.1h1.1M368.3 68.1h1.1M386 81.8h1.1M371.4 74.3h1.1M362.4 67.5h1.1M375.3 70.8h1.1M384 75.3h1.1M363.8 60.2h1.1M380.5 78.5h1.1M378.6 77.8h1.1M360.2 62.5h1.1M374.5 67.2h1.1M376 71.6h1.1M376.8 77.5h1.1M377.6 74.3h1.1M377.4 77.4h1.1M379.6 77.8h1.1M383 79.5h1.1M376.7 77.2h1.1M380.4 76.3h1.1M368.1 72h1.1M370.4 72h1.1M386.3 80.7h1.1M370.6 66.2h1.1M384.7 72.4h1.1M372.8 60.7h1.1M360.3 51.7h1.1" stroke="#00a83c" stroke-width="1.1" stroke-opacity="0.72" fill="none"/>
<path d="M349.5 76.9h1.1M350.6 76.8h1.1M359.2 63.8h1.1M358.8 62.1h1.1M356.3 77.2h1.1M348 77.9h1.1M355.8 76.1h1.1M349.9 73.8h1.1M356.3 75.2h1.1M354.9 77h1.1M347.6 78.2h1.1M349.9 76.9h1.1M358.2 65.4h1.1M352.7 73.3h1.1M354.6 71.4h1.1M358.6 62.1h1.1M359.7 80.9h1.1M353 75.9h1.1M349.7 77.4h1.1M352.4 70.3h1.1M349.5 75.8h1.1M357.7 64.4h1.1M358.2 69.5h1.1M348.6 76h1.1M358 66.6h1.1M358.1 72.3h1.1M358.8 70.6h1.1M352.8 76.8h1.1M349.5 78.4h1.1M347.6 77.3h1.1M349.2 75.3h1.1M348.5 75.8h1.1M355.3 75.8h1.1M352.1 69.6h1.1M351.7 69.3h1.1M354.4 73.8h1.1M346.2 75.3h1.1M351.3 65.8h1.1M348.6 76.6h1.1M356.3 49.6h1.1M358.9 45.8h1.1M358 59.1h1.1M355.7 58.8h1.1M355 53.2h1.1M355.4 53.1h1.1M359.1 58.5h1.1M362.7 49h1.1M351.9 58.2h1.1M357 61.3h1.1M353 51.8h1.1M354.1 63.8h1.1M351.5 42.7h1.1M352 57.2h1.1M357.8 59.6h1.1M371.3 86.4h1.1M361.1 84h1.1M378.6 88.9h1.1M373.9 88.9h1.1M367.6 85.9h1.1M366 81.6h1.1M385.5 88.3h1.1M383.8 89.7h1.1M364.4 80.7h1.1M373.4 86.8h1.1M375 84.9h1.1M367.4 82.5h1.1M380.1 89.5h1.1M382.8 89.4h1.1M364.8 84.7h1.1M365.1 84.9h1.1M380.4 87.5h1.1M366.9 84.9h1.1M372.6 85.4h1.1M377.7 87h1.1M371.4 83.8h1.1M365.2 81.6h1.1M372 83.8h1.1M367.8 82.4h1.1M378.1 86.4h1.1M363.4 81.8h1.1M364.9 76.9h1.1M365.9 79h1.1M383.7 88.5h1.1M359.3 76.8h1.1M382.9 86.3h1.1M384 88h1.1M377 83h1.1M376.7 82h1.1M374.3 84.2h1.1M370.3 80.3h1.1M378.3 82.7h1.1M379 85.4h1.1M384.4 87.6h1.1M371.1 80.8h1.1M377.7 81.9h1.1M381.6 84.7h1.1M372.9 84.3h1.1M368.1 77h1.1M360.7 74.8h1.1M362 80.1h1.1M372.5 84.2h1.1M378.4 85h1.1M386.3 86.4h1.1M383.4 87h1.1M377.1 85.3h1.1M372.8 83.8h1.1M367.5 79.8h1.1M368.7 84.1h1.1M364.5 81.4h1.1M359.8 79.2h1.1M362.7 75.1h1.1M359.5 80.4h1.1M379.7 87.6h1.1M381.8 85.3h1.1M359.5 75.6h1.1M359.7 79.4h1.1M379.1 86.9h1.1M375.2 80.7h1.1M359.8 71.5h1.1M368.9 78.7h1.1M363.2 74.2h1.1M382.7 85.8h1.1M364.9 71h1.1M368.4 76.6h1.1M378 77h1.1M368.5 73.8h1.1M379.3 80.3h1.1M364.9 73h1.1M363.8 72.1h1.1M361.7 72.9h1.1M377.9 80.7h1.1M373.7 75.9h1.1M377.6 81.9h1.1M374.2 76.4h1.1M365.2 78.3h1.1M384.2 82h1.1M374 74.1h1.1M376 78h1.1M379.6 81.7h1.1M371.2 77.6h1.1M376.4 82h1.1M362.5 71.3h1.1M363.6 68h1.1M369.6 72h1.1M378.2 77.4h1.1M372.7 72.5h1.1M378 83h1.1M365.5 73.6h1.1M362.9 70.8h1.1M370 77.7h1.1M378.3 80h1.1M383.7 85.4h1.1M379.3 77.2h1.1M360.3 71h1.1M366.7 76.1h1.1M385.9 86.4h1.1M365.9 73.9h1.1M385.2 85.4h1.1M367.9 74.2h1.1M379.5 78.5h1.1M373.1 74.1h1.1M385 84.3h1.1M363.3 67h1.1M367.4 70.8h1.1M362.1 73h1.1M374.1 74.6h1.1M371 78.7h1.1M360.5 67.2h1.1M376.8 80.2h1.1M365.6 74.5h1.1M359.8 73.1h1.1M369.1 78.7h1.1M361.5 72.8h1.1M367.1 73.5h1.1M385.7 85.2h1.1M384.4 85.4h1.1M372.3 81.7h1.1M364.4 74.5h1.1M361.5 70.9h1.1M361.2 65.7h1.1M367.7 78.5h1.1M360.8 66.9h1.1M382.7 79.2h1.1M370.2 71.4h1.1M361.1 66.5h1.1M368.5 76.4h1.1M368.9 74.3h1.1M376.1 79.1h1.1M360.6 70.4h1.1M381.9 78.8h1.1M385.2 83.3h1.1M360.5 76.5h1.1M380.1 79.3h1.1M370.8 79.3h1.1M370.8 73.3h1.1M386.1 84.2h1.1M369.2 79.4h1.1M384.7 82.8h1.1M383.5 79.5h1.1M363.3 69.4h1.1M378.5 80.7h1.1M362 73.8h1.1M378.4 80.7h1.1M375.8 79.6h1.1M365.4 78.6h1.1M366.9 71.8h1.1M365.9 77.7h1.1M362 72.1h1.1M362.2 76.1h1.1M379.1 81h1.1M361.3 72.9h1.1M370.2 78.9h1.1M379 79h1.1M367.8 79.8h1.1M365.6 70.7h1.1M383 81.5h1.1M367.2 75.9h1.1M362.3 76.2h1.1M381.5 84.5h1.1M360.2 70.4h1.1M367.9 73.2h1.1M374.5 81.2h1.1M361.7 74.6h1.1M367.2 76h1.1M359.7 75.5h1.1M377.3 76.6h1.1M386.5 85h1.1M376.8 78.7h1.1M366.9 73.1h1.1M368.3 69.5h1.1M372.2 78.8h1.1M384 83.4h1.1M363.6 68.5h1.1M380.1 84.5h1.1M384.8 82.2h1.1M378.6 82.8h1.1M372.1 80h1.1M366.8 72.6h1.1M368.1 75h1.1M375.8 75.2h1.1M380.4 81.1h1.1M377.5 79h1.1M363.4 74.3h1.1M378.8 76.7h1.1M380.2 81.3h1.1M365.7 68.7h1.1M368.1 76.7h1.1M382.9 80.1h1.1M373.9 76.6h1.1M370.5 76.1h1.1M363.9 67.1h1.1M377.5 76.5h1.1M367.1 76.6h1.1M366 71.5h1.1M360.6 70.2h1.1M364 69h1.1M362.1 76.8h1.1M367.6 78.7h1.1M364.4 78.2h1.1M386.1 82.1h1.1M368.2 74.1h1.1M360 76.3h1.1M359.2 68.7h1.1M386.5 82.9h1.1M359.5 77.2h1.1M380.2 78.2h1.1M366.2 77.9h1.1M362.6 73.3h1.1M366.8 75.2h1.1M365.7 75.7h1.1M361.8 71.8h1.1M365.9 68.3h1.1M360.5 70.8h1.1M382.6 82.7h1.1M368.5 78.2h1.1M363.1 68.7h1.1M360.2 62.3h1.1M384.7 81.9h1.1M366.8 69.3h1.1M377.5 74.5h1.1M379.5 76.6h1.1M363.9 66.6h1.1M372.6 71.3h1.1M371.1 72.9h1.1M376.9 69.5h1.1M366.2 70.1h1.1M375.6 72.5h1.1M365.4 66.7h1.1M360.7 63h1.1M385.1 80.2h1.1M381 74.6h1.1M369.5 72.9h1.1M380.8 76.8h1.1M376.6 70.6h1.1M370 70.1h1.1M382.6 77.7h1.1M363.1 66.3h1.1M367.6 65.3h1.1M360.3 69.3h1.1M364.1 63.2h1.1M371.1 70.4h1.1M383.2 75.7h1.1M359.2 63.1h1.1M380.9 79.7h1.1M373.7 68.7h1.1M359.7 64.8h1.1M375.5 70.6h1.1M362.8 67.2h1.1M372.5 74.3h1.1M363.8 65.6h1.1M381.3 79.6h1.1M381.9 80.3h1.1M363.5 62.1h1.1M367.8 71.9h1.1M379.1 75.2h1.1M385.9 80.2h1.1M360.1 64.9h1.1M360 67.5h1.1M366.5 61.7h1.1M372.3 74.9h1.1M373.2 75.3h1.1M360.4 67.3h1.1M360.1 64.5h1.1M375.4 73.4h1.1M361.6 59.1h1.1M367.2 67.8h1.1M384.6 81.8h1.1M359.2 64.5h1.1M365.1 62h1.1M377.6 76.5h1.1M368.5 67.4h1.1M378.3 73.7h1.1M378 72.6h1.1M360.2 59.1h1.1M365.9 62h1.1M370 71.1h1.1M366.7 70.2h1.1M362.1 61.4h1.1M378 72.2h1.1M386.5 78.9h1.1M379.9 70.4h1.1M386.2 77.4h1.1M367.4 57.1h1.1M362 47.9h1.1M368.5 61.5h1.1M375.1 68.6h1.1M368.5 58.7h1.1M368.9 63.2h1.1M376.2 62.3h1.1" stroke="#ff1010" stroke-width="1.1" stroke-opacity="0.72" fill="none"/>
<path d="M352.1 77.7h1.1M358.1 65.1h1.1M347.3 77.8h1.1M356.6 69.9h1.1M353.8 69.4h1.1M352.2 71.9h1.1M358.2 70.2h1.1M352.6 78.1h1.1M355.9 64.6h1.1M355.2 75.1h1.1M357.7 62h1.1M355.3 77h1.1M351.8 74.4h1.1M357.7 63.3h1.1M351.8 76.3h1.1M350.1 76.6h1.1M347.8 78.2h1.1M350.6 75.9h1.1M354.1 77.5h1.1M355.5 67.7h1.1M350 73.6h1.1M347.4 77.2h1.1M352 77.3h1.1M352.5 73.6h1.1M356.4 68.3h1.1M355.8 77.2h1.1M350.8 75.1h1.1M351.2 75.3h1.1M358.7 73.2h1.1M354 69.6h1.1M355.8 71.2h1.1M356.8 71.3h1.1M359.1 66h1.1M347.3 77.6h1.1M350.7 75h1.1M351 75h1.1M352.7 73.9h1.1M353.2 76.8h1.1M348.2 77.9h1.1M352.4 70.4h1.1M351 73.4h1.1M356.2 68.6h1.1M356.1 65.2h1.1M357.4 70.3h1.1M354.9 75.4h1.1M349.8 76.8h1.1M352.2 71.6h1.1M348.3 71h1.1M353.7 73.3h1.1M351.7 73.9h1.1M342.9 76.8h1.1M345.6 74.2h1.1M353.8 60.5h1.1M346.8 72.7h1.1M353.2 76.6h1.1M359.7 61.9h1.1M356.2 61.9h1.1M354.2 39.3h1.1M346.5 59.6h1.1M352.7 59.1h1.1M352.3 37.7h1.1M351.7 53.4h1.1M363.8 85h1.1M373.4 89.2h1.1M371.7 83.6h1.1M379.1 87h1.1M359.4 79.5h1.1M362 80.1h1.1M364.5 83h1.1M370 82.9h1.1M373.4 86.9h1.1M382.2 89.6h1.1M372.7 84.2h1.1M364.4 81.2h1.1M364.4 82.1h1.1M359.5 81h1.1M377.2 86.4h1.1M377.5 87.4h1.1M372 86.3h1.1M364.5 78.9h1.1M360.8 76h1.1M379.2 83.6h1.1M369.5 79.8h1.1M368.3 83h1.1M377 83.9h1.1M374.9 85.4h1.1M363.8 80.1h1.1M378.3 83h1.1M370.1 80.9h1.1M384.1 85.2h1.1M360.5 77.5h1.1M378 83.5h1.1M359.4 80.8h1.1M379.7 87.3h1.1M360 77.7h1.1M365.4 71.1h1.1M372.4 78.3h1.1M364.3 73.6h1.1M373.8 81.8h1.1M362.2 68.8h1.1M371.4 79.6h1.1M381.2 78.8h1.1M378.2 78.4h1.1M360.3 77.2h1.1M371.3 77.9h1.1M385.8 82.2h1.1M372.4 73h1.1M375.7 76.5h1.1M364.3 72.5h1.1M364.3 69.8h1.1M371.9 76.6h1.1M361.4 71.4h1.1M370.1 79.9h1.1M382 83.6h1.1M377.4 83.4h1.1M369.5 70.9h1.1M370 71.9h1.1M383 81.6h1.1M381.7 79h1.1M381 81.8h1.1M369.8 76.4h1.1M373.7 80.2h1.1M372.1 80.7h1.1M370.6 80.4h1.1M377.5 76.7h1.1M384.9 82.6h1.1M379.7 79.8h1.1M378.9 77.9h1.1M361.6 75h1.1M361.5 70.1h1.1M368 71.1h1.1M362.2 65.9h1.1M383.1 82.3h1.1M381.6 83.5h1.1M377 78.1h1.1M372.1 80.3h1.1M365.1 76.9h1.1M379.4 82.6h1.1M382 83.4h1.1M385.5 86.4h1.1M382.8 79.7h1.1M383 83.3h1.1M361 72.1h1.1M368.4 73.9h1.1M361.9 74.3h1.1M377.2 82.6h1.1M366.4 76.7h1.1M372.4 72.2h1.1M372 78.7h1.1M362.1 67h1.1M368.4 78.6h1.1M361.2 74.2h1.1M376.2 69.8h1.1M364 59h1.1M383.3 75.3h1.1M359.5 68.7h1.1M383.8 80.4h1.1M369.2 69.5h1.1M359.6 68.8h1.1M380.6 79h1.1M366.5 65.4h1.1M375.2 68.6h1.1M370.8 72.7h1.1M362.6 65.5h1.1M365.7 66.9h1.1M369.8 70.8h1.1M359.1 63.2h1.1M367.9 66.5h1.1M374.6 71.1h1.1M380.3 72.9h1.1M362.3 57.9h1.1M372.5 68.4h1.1M386.6 77.4h1.1M365.5 70.2h1.1M376.4 77.2h1.1M373.2 69.9h1.1M380 72.5h1.1M379.5 73.8h1.1M370.8 66.8h1.1M385.4 80.3h1.1M362.6 58.3h1.1M382.7 76.1h1.1M365.2 62.9h1.1M375.1 71.4h1.1M366.3 63.4h1.1M372.7 74.3h1.1M375.7 72.3h1.1M360.7 63.5h1.1M360.1 66.9h1.1M373.1 75h1.1M374.9 69h1.1M368.2 66.5h1.1M368.2 67h1.1M373.8 72.5h1.1M384.5 76.3h1.1M380.9 75.2h1.1M383.4 76.5h1.1M376.4 69.9h1.1M378.3 75.5h1.1M384.7 78.4h1.1M366.2 60.3h1.1M373.9 73.5h1.1M365.1 61.3h1.1M361.1 66.9h1.1M373.4 66.9h1.1M377.1 74h1.1M372.5 72.4h1.1M372.7 65.8h1.1M372.9 69.2h1.1M371 69.8h1.1M365 67.2h1.1M384.2 79.1h1.1M384 75.3h1.1M366.7 70.9h1.1M380 78.6h1.1M383.9 77.1h1.1M367.3 65.3h1.1M365.6 67.7h1.1M366.9 68.1h1.1M365.6 59.5h1.1M367.4 71.2h1.1M373.1 69.1h1.1M365.1 60.1h1.1M367.9 71.9h1.1M369.7 71.6h1.1M378.5 73.3h1.1M384.2 76.6h1.1M370.7 65.3h1.1M360.3 67h1.1M359.2 61.1h1.1M386.3 77.6h1.1M371 71.9h1.1M379.3 71.4h1.1M360 68.1h1.1M367.8 65.3h1.1M372.1 68.3h1.1M366.8 70.9h1.1M376.4 69.2h1.1M371.1 65.4h1.1M371.9 69.1h1.1M383.1 79.8h1.1M364.3 59.5h1.1M383 75.1h1.1M369.3 65.8h1.1M384.9 78.4h1.1M367.4 64.3h1.1M361 66.8h1.1M363.3 62.5h1.1M379.3 76.1h1.1M386.3 80.5h1.1M363.4 66.3h1.1M360 64.4h1.1M376.1 75h1.1M384.8 78.1h1.1M381.2 74.5h1.1M370.5 73.6h1.1M384.6 79.2h1.1M375.7 72.5h1.1M384.8 79.7h1.1M365.3 60.7h1.1M372.7 73h1.1M360.6 59.8h1.1M361.5 67.4h1.1M382.1 79.5h1.1M376.6 76.7h1.1M363.1 60.5h1.1M380.6 79.7h1.1M362.4 66.8h1.1M364.9 66.6h1.1M371.6 72.3h1.1M380 78.3h1.1M380.4 74.9h1.1M370.2 72.6h1.1M380.9 74h1.1M371.3 70.6h1.1M364.6 62.1h1.1M370.8 64.3h1.1M363.2 69.1h1.1M382.1 75.9h1.1M384 80.1h1.1M375.5 71.6h1.1M365.9 67.1h1.1M367.3 66.8h1.1M372.2 65.8h1.1M381 76.6h1.1M381.5 78.1h1.1M382.7 79.4h1.1M377.3 73.2h1.1M379.4 77.3h1.1M378.7 70.9h1.1M360 66.1h1.1M372.4 69.9h1.1M372.3 66.6h1.1M382.3 74.5h1.1M369.5 66.1h1.1M373.5 70.6h1.1M374.4 71.6h1.1M371.6 73.8h1.1M361.6 60h1.1M360.2 66.2h1.1M374.2 75.7h1.1M369 72.7h1.1M359.6 64.3h1.1M383.8 80.8h1.1M375.5 76.3h1.1M377.2 70.7h1.1M372.3 72.9h1.1M385.8 79.5h1.1M378.1 72.4h1.1M364.8 67.4h1.1M372.7 70.9h1.1M376.5 75.2h1.1M367.4 66.8h1.1M363.6 62.2h1.1M381.4 79.4h1.1M360.9 60.8h1.1M374.2 75.2h1.1M380.2 77h1.1M361.6 65.9h1.1M383.1 79.8h1.1M361.8 60.6h1.1M372.8 75.2h1.1M386 81.4h1.1M364.7 63.3h1.1M385.1 76.2h1.1M380.1 72.3h1.1M373 73.8h1.1M367.1 71.3h1.1M369.1 64.4h1.1M373.5 74.9h1.1M366.1 70.7h1.1M381.9 75.1h1.1M363.8 65.4h1.1M381.2 76.3h1.1M378.8 73h1.1M363.7 59.8h1.1M378.6 74.7h1.1M377.7 73.7h1.1M369.5 65.9h1.1M381.4 77.6h1.1M361.2 67.1h1.1M371.2 68.2h1.1M366 69.1h1.1M368.8 65.3h1.1M368.6 71.8h1.1M378.5 74.8h1.1M369.1 64.2h1.1M380.3 76h1.1M384.7 78.1h1.1M369.6 71.4h1.1M384 79.4h1.1M362.6 67.5h1.1M360.7 68.5h1.1M382 73.6h1.1M366.8 68.9h1.1M385.7 77.8h1.1M384.6 80.8h1.1M369 70.5h1.1M364.1 60.7h1.1M373.6 73.3h1.1M370.9 71.6h1.1M362.7 68.8h1.1M381.9 75.1h1.1M370.9 70.2h1.1M360.2 67.2h1.1M384 76.6h1.1M364.6 66.8h1.1M369.9 68.2h1.1M384.9 77.2h1.1M359.6 65.7h1.1M369.2 63.4h1.1M382.3 79.1h1.1M368.1 69.9h1.1M380.9 76.2h1.1M369.7 63.3h1.1M363.8 63.8h1.1M377.4 76.4h1.1M363.8 64.4h1.1M374.2 76h1.1M375.1 73.7h1.1M379.1 76.8h1.1M359.2 69.4h1.1M368.5 63.5h1.1M367.3 71.6h1.1M381 79h1.1M361.5 67h1.1M370.6 68.6h1.1M359.9 65.7h1.1M360 68.9h1.1M367.6 63h1.1M379.3 75.6h1.1M360.6 68.3h1.1M377 72.4h1.1M382.4 80.6h1.1M373.8 71.5h1.1M375.8 73.3h1.1M382 77.5h1.1M379.5 73.9h1.1M374.5 72.5h1.1M362.1 56.9h1.1M367.1 61.1h1.1M384.9 78.2h1.1M368.7 66.9h1.1M381.3 76.1h1.1M372 65.2h1.1M361.3 57.9h1.1M379 69.9h1.1M381.4 73.3h1.1M374.9 63.3h1.1M372.3 62.4h1.1M362.2 50.3h1.1M381.9 69.6h1.1M364.5 58.9h1.1M369.7 58.7h1.1M366.3 60.5h1.1M377.1 64.2h1.1M381.9 72.9h1.1M384.6 75.4h1.1M384.1 73.8h1.1M360.2 55.5h1.1M378.9 66.1h1.1M371.2 58.9h1.1M363.8 55.8h1.1M386.3 74.4h1.1M380.9 73.4h1.1M361.1 58.9h1.1M373.2 64.4h1.1M359.2 57.1h1.1M375.1 66.5h1.1M382.9 73.4h1.1M361.9 53.3h1.1M364.9 52h1.1M369.8 64.2h1.1M364.1 52.3h1.1M381.4 73h1.1M380.3 68.1h1.1M384.6 73.3h1.1M370.3 61.1h1.1M376.6 63.7h1.1M370.1 63.6h1.1M363.5 57.1h1.1M367.8 58.6h1.1M378.5 68.6h1.1M369 57.9h1.1M361.2 56.6h1.1M376.1 66.2h1.1M373.8 60h1.1M369.9 63.5h1.1M381 69.5h1.1M370.1 58.7h1.1M363.5 56.5h1.1M373.9 67h1.1M381.9 69.9h1.1M379.1 66.2h1.1M375.5 64.9h1.1M384.3 75.2h1.1M369 57.1h1.1M383.1 70.6h1.1M370.6 56.6h1.1M385.1 75.2h1.1M383.3 72.7h1.1M367.4 56.1h1.1M383.9 70.5h1.1M367.3 58.3h1.1M382.9 74.9h1.1M361.3 56.4h1.1M373.6 65.3h1.1M379.3 67.2h1.1M386.6 77.5h1.1M365.1 56.4h1.1M386 75.1h1.1M372.3 58.5h1.1M366.1 56.1h1.1M384.7 75.4h1.1M364.3 52.1h1.1M366 55.5h1.1M376.3 62.5h1.1M375.3 62h1.1M359.3 54.1h1.1M363.6 52.8h1.1M381.1 72.8h1.1M372.8 64.5h1.1M359.1 57h1.1M378.2 66.4h1.1M371.6 65.4h1.1M372.7 63.1h1.1M381.6 72.1h1.1M380.5 70.4h1.1M370.5 60.4h1.1M383.4 73.7h1.1M377.1 66.1h1.1M372.5 65.5h1.1M370 58.3h1.1M367.7 56h1.1M372 60.8h1.1M365 58.7h1.1M385.1 75.3h1.1M377.2 68.8h1.1M372.3 66.3h1.1M374.7 61.2h1.1M371.3 59.8h1.1M380.7 67.2h1.1M364.1 54.4h1.1M377.7 70.4h1.1M366 52.7h1.1M383.2 74.1h1.1M365.1 57.1h1.1M368.4 59.2h1.1M376 66.9h1.1M383.7 71.6h1.1M372.9 61.4h1.1M373.3 66.1h1.1M369.9 59.3h1.1M383.3 73.9h1.1M386.4 77.5h1.1M362.5 51.9h1.1M371.1 57.9h1.1M382.4 71.2h1.1M370.4 57.4h1.1M384.5 72h1.1M373.4 66.5h1.1M375.5 64.1h1.1M373 63.7h1.1M376.3 68.2h1.1M383.9 71.4h1.1M384.8 76.5h1.1M371.2 57.5h1.1M380.8 71.5h1.1M377.7 69.3h1.1M368.1 57.7h1.1M378.9 71.3h1.1M377.1 66h1.1M373.3 62.2h1.1M385 72.3h1.1M359.5 56.9h1.1M372.3 62.7h1.1M384.3 71.3h1.1M362.1 53.4h1.1M365 59.4h1.1M360.6 55.3h1.1M368.5 62.9h1.1M363.3 52.5h1.1M366.5 58.7h1.1M376.3 65.3h1.1M370.8 57.9h1.1M365.4 52.4h1.1M371.8 59.1h1.1M381.1 68.5h1.1M360.3 59.9h1.1M368.2 58.7h1.1M365 54.5h1.1M378.5 67.5h1.1M361.2 50.4h1.1M374.8 61.4h1.1" stroke="#2424ff" stroke-width="1.1" stroke-opacity="0.72" fill="none"/>
<path d="M456.4 25.6V93.4H543.6" stroke="#606060" stroke-width=".6" fill="none"/>
<text x="454" y="94.8" font-size="3.9" text-anchor="end" font-family="Liberation Sans,sans-serif" fill="#000">0</text>
<text x="454" y="60.9" font-size="3.9" text-anchor="end" font-family="Liberation Sans,sans-serif" fill="#000">500</text>
<text x="454" y="27" font-size="3.9" text-anchor="end" font-family="Liberation Sans,sans-serif" fill="#000">1000</text>
<text x="456.4" y="99.4" font-size="3.9" text-anchor="middle" font-family="Liberation Sans,sans-serif" fill="#000">0</text>
<text x="473.8" y="99.4" font-size="3.9" text-anchor="middle" font-family="Liberation Sans,sans-serif" fill="#000">200</text>
<text x="491.3" y="99.4" font-size="3.9" text-anchor="middle" font-family="Liberation Sans,sans-serif" fill="#000">400</text>
<text x="508.7" y="99.4" font-size="3.9" text-anchor="middle" font-family="Liberation Sans,sans-serif" fill="#000">600</text>
<text x="526.2" y="99.4" font-size="3.9" text-anchor="middle" font-family="Liberation Sans,sans-serif" fill="#000">800</text>
<text x="543.6" y="99.4" font-size="3.9" text-anchor="middle" font-family="Liberation Sans,sans-serif" fill="#000">1000</text>
<path d="M456.4 93.4h-1.4M456.4 59.5h-1.4M456.4 25.6h-1.4M456.4 93.4v1.4M473.8 93.4v1.4M491.3 93.4v1.4M508.7 93.4v1.4M526.2 93.4v1.4M543.6 93.4v1.4" stroke="#606060" stroke-width=".5" fill="none"/>
<text x="499.7" y="104.8" font-size="4.5" text-anchor="middle" font-family="Liberation Sans,sans-serif" font-weight="bold" fill="#000">Lateral distance (mm)</text>
<text transform="translate(444.5 59.9) rotate(-90)" font-size="4.5" text-anchor="middle" font-family="Liberation Sans,sans-serif" font-weight="bold">Longitudinal distance (mm)</text>
<path d="M456.4 79L458.6 79L460.7 79L462.9 79L465.1 79L467.2 79L469.4 79L471.6 79L473.8 79L475.9 79L478.1 79L480.3 79L482.4 79L484.6 79L486.8 79L488.9 79L491.1 79L493.3 79L495.4 79L497.6 79L499.8 79L502 79L504.1 79L506.3 79L508.5 79L510.6 79L512.8 79L515 79L517.1 79L519.3 79L521.5 79L523.6 79L525.8 79L528 79L530.1 79L532.3 79L534.5 79L536.7 79L538.8 79L541 79L543.2 79L543.2 93.8L541 93.8L538.8 93.8L536.7 93.8L534.5 93.8L532.3 93.8L530.1 93.8L528 93.8L525.8 93.8L523.6 93.8L521.5 93.8L519.3 93.8L517.1 93.8L515 93.8L512.8 93.8L510.6 93.8L508.5 93.8L506.3 93.8L504.1 93.8L502 93.8L499.8 93.8L497.6 93.8L495.4 93.8L493.3 93.8L491.1 93.8L488.9 93.8L486.8 93.8L484.6 93.8L482.4 93.8L480.3 93.8L478.1 93.8L475.9 93.8L473.8 93.8L471.6 93.8L469.4 93.8L467.2 93.8L465.1 93.8L462.9 93.8L460.7 93.8L458.6 93.8L456.4 93.8z" fill="#2214ee" fill-opacity="1"/>
<path d="M481.3 79L481.9 78L482.5 76.8L483.1 75.5L483.8 74.2L484.4 72.9L485 71.5L485.7 70.1L486.3 68.7L486.9 67.3L487.6 65.9L488.2 64.4L488.8 63L489.5 61.5L490.1 60L490.7 58.5L491.4 57L492 55.5L492.6 53.9L493.3 52.4L493.9 52.9L494.5 54.3L495.2 55.8L495.8 57.2L496.4 58.6L497.1 60L497.7 61.4L498.3 62.8L499 64.1L499.6 65.5L500.2 66.8L500.9 68.2L501.5 69.5L502.1 70.8L502.7 72.1L503.4 73.3L504 74.6L504.6 75.8L505.3 77L505.9 78.1L506.5 79L506.5 79L505.9 79L505.3 79L504.6 79L504 79L503.4 79L502.7 79L502.1 79L501.5 79L500.9 79L500.2 79L499.6 79L499 79L498.3 79L497.7 79L497.1 79L496.4 79L495.8 79L495.2 79L494.5 79L493.9 79L493.3 79L492.6 79L492 79L491.4 79L490.7 79L490.1 79L489.5 79L488.8 79L488.2 79L487.6 79L486.9 79L486.3 79L485.7 79L485 79L484.4 79L483.8 79L483.1 79L482.5 79L481.9 79L481.3 79z" fill="#7a30c0" fill-opacity="0.7"/>
<path d="M491.1 93.8L494.1 86.1L497.2 93.8z" fill="#fdf2fb"/>
<path d="M516.6 90.7h1.8M457.6 88.9h1.8M502.3 84.8h1.8M534.6 85h1.8M529.2 79.5h1.8M488.6 83.4h1.8M524.1 82.7h1.8M475.4 92.7h1.8M541.4 87.2h1.8M458.4 85.6h1.8M478.4 83.8h1.8M479.5 87h1.8M496.9 88.8h1.8M519.1 80.4h1.8M521.7 81.7h1.8M461 83h1.8M529.6 88.1h1.8M482.1 79.3h1.8M460.4 82.1h1.8M539.7 82.6h1.8M501.9 79h1.8M513.2 83.1h1.8M538.1 81.5h1.8M459.3 85.5h1.8M468.7 88.6h1.8M502.6 82.1h1.8M462.9 81.6h1.8M491.6 80h1.8M528 92.6h1.8M522 87.9h1.8M459.2 87.4h1.8M455.6 82.6h1.8M467.8 88.4h1.8M470.4 91.3h1.8M502.2 81.4h1.8M484.9 81.3h1.8M493.6 82.2h1.8M470.2 84.8h1.8M463.5 90.1h1.8M541.5 80h1.8M536.5 85.4h1.8M477.2 80.3h1.8M526.3 79.8h1.8M516.8 80.6h1.8M513.1 79.2h1.8M520.3 83.4h1.8M511.8 89.4h1.8M533 80.4h1.8M479.4 85.7h1.8M508.6 82.6h1.8M508.6 88.4h1.8" stroke="#000000" stroke-width=".8" stroke-opacity="0.5" fill="none"/>
<path d="M469.4 90h.9M462.9 86h.9M463.1 93.7h.9M492.8 88h.9M478.6 88.2h.9M516.5 79.5h.9M527.8 88.1h.9M466.6 88.5h.9M469.1 90.4h.9M503.7 81.9h.9M486.2 87.6h.9M474.5 82.8h.9M494.6 81.4h.9M503.2 81.2h.9M459.6 88.7h.9M512 93.4h.9M536.8 84.8h.9M496.9 82h.9M512.2 81.3h.9M469.6 89.7h.9M502.9 89.1h.9M465.5 90h.9M462.8 91.5h.9M499 90.8h.9M491.7 78.8h.9M490.1 87h.9M510.3 88.7h.9M508.9 84.2h.9M520.4 89.3h.9M495.6 83.1h.9M486.9 83.5h.9M493.3 79.6h.9M517.4 80.3h.9M497.8 89h.9M472.9 92.1h.9M505.4 80.9h.9M459.9 83.6h.9M520.6 87.3h.9M509.8 88.4h.9M534.7 88.2h.9M466.8 93h.9M526.6 93.1h.9M521.6 80.6h.9M517.9 84h.9M463.2 89.1h.9M521.2 81.8h.9M534.5 91.1h.9M485.2 79.2h.9M509.1 83.4h.9M463.8 88.6h.9M508.2 82.3h.9M458.9 91.2h.9M534.7 82h.9M504.6 88.3h.9M470.8 85.7h.9M523.5 83.5h.9M501.9 81.3h.9M469.1 84.5h.9M523.6 82.4h.9M525.7 90.2h.9M460.5 92h.9M499.8 85h.9M527.2 91.1h.9M524.4 92.5h.9M467.3 87.4h.9M503 79.2h.9M507.7 85.1h.9M516.2 79.7h.9M516.7 81.5h.9M526.9 80h.9M509.7 88.3h.9M515.7 88.6h.9M466.8 82.1h.9M462.6 79.5h.9M529.7 92.8h.9M510 88.7h.9M488.9 89.5h.9M508.1 90.8h.9M473.1 81.4h.9M474.2 87.1h.9M508.4 87.2h.9M488.3 86.7h.9M486.7 88.5h.9M508.1 80h.9M511.2 88.8h.9M515.7 83.8h.9M482.5 89.8h.9M458.3 92.3h.9M458.9 86.4h.9M474.9 79.4h.9M493.4 93.1h.9M473.8 85.8h.9M463.2 83.8h.9M513.4 88.9h.9M518.5 84.6h.9M500.1 90.7h.9M490.3 82.3h.9M463.9 89.8h.9M498.5 86.7h.9M509 82.3h.9M505.7 92.8h.9M529.4 93.4h.9M465.7 89.5h.9M517.7 90.1h.9M478 90.4h.9M464.2 92.3h.9M506 89.1h.9M493.2 84.8h.9M512.9 87.3h.9M532.9 89.5h.9M541 83.5h.9M536 83.6h.9M540.2 82.8h.9M528 84.7h.9M514 83.9h.9M507.2 86.1h.9M467 87.8h.9M492.9 89.2h.9M492.6 82.5h.9M503.7 92.8h.9M524.6 86.6h.9M529.1 87.7h.9M460 87.6h.9M520.8 79.7h.9M504.7 93.3h.9M540.7 89.7h.9M458.2 87.6h.9M487.7 93.6h.9M504 81.9h.9M496.2 83.8h.9M496 84.5h.9M532.3 93.2h.9M482.6 92.4h.9M476.4 83.3h.9M540.6 88.9h.9M524.4 88.3h.9M487.6 84.5h.9M486 85.4h.9M511.5 79.7h.9M459.1 88.9h.9M515.9 93.4h.9M461.5 85.7h.9M467.4 91.6h.9M482.1 84.2h.9M511.1 78.8h.9M529.2 85h.9M512.5 79.5h.9M513.3 81.4h.9M520.8 83.2h.9M480.8 86.2h.9M516 80.6h.9M510.4 87.8h.9M542.3 79.5h.9M483.4 87.1h.9M484.2 90.3h.9M532 82.2h.9M542.1 91.1h.9M478.7 79.9h.9M513.4 87.5h.9M467.9 78.8h.9M530.8 90.5h.9M465.5 91.1h.9M471 84.4h.9M465.8 83.6h.9M491.1 79.8h.9M465.4 87.5h.9M536.4 93.1h.9M462.7 81.2h.9M504 91.8h.9M469.8 92.7h.9M514.3 92.9h.9M472.8 85.3h.9M539.2 93.6h.9M506.4 81.4h.9M502.9 92.9h.9M535.5 88.9h.9M530.4 84.8h.9M512.6 90.9h.9M456.7 82.4h.9M507.1 88.6h.9" stroke="#ff55ee" stroke-width=".9" stroke-opacity="0.5" fill="none"/>
<path d="M470.2 91h.9M471.2 89.2h.9M523.6 85h.9M468.3 84.4h.9M505.9 87.4h.9M521.8 81.1h.9M535 83.4h.9M534.5 79.6h.9M459.6 79.8h.9M519.7 80.9h.9M523.4 92.8h.9M533.8 92.1h.9M537.9 86h.9M462.7 89.8h.9M497 91.5h.9M507.9 93.7h.9M472.5 80.6h.9M458 91.1h.9M507.8 90.9h.9M484.4 86.9h.9M537.4 87.8h.9M519.5 93.6h.9M502.8 87.8h.9M498.2 80.1h.9M488.8 93h.9M471.5 81.5h.9M456.5 88.6h.9M523.9 79.6h.9M511.1 92.2h.9M499.3 89.2h.9M504.2 89.6h.9M479.2 85.1h.9M537.8 85.4h.9M519.3 89.4h.9M476.9 93.5h.9M457.5 92.7h.9M485.7 79.5h.9M507.5 93.7h.9M535.2 90.5h.9M492.9 88.1h.9M490.9 92.7h.9M499.3 82.3h.9M470.1 82.8h.9M502.7 80.1h.9M517.6 91.8h.9M531.1 88.9h.9M535.1 82h.9M490.9 92.4h.9M509.8 84.9h.9M456.8 92.7h.9M459.2 86.5h.9M503.3 84.1h.9M539.2 91.6h.9M529.9 93.6h.9M531.3 90.9h.9M500 83h.9M513.3 90.3h.9M460.8 83.3h.9M502.3 80h.9M529.3 82.6h.9" stroke="#00a83c" stroke-width=".9" stroke-opacity="0.5" fill="none"/>
<path d="M467 92.5h.9M499.9 83h.9M537.6 86.9h.9M540.3 88.6h.9M501 84.2h.9M460.7 82.5h.9M497.4 91.9h.9M491.7 93.1h.9M486.1 80.1h.9M469.3 82.5h.9M501.9 93.6h.9M465.4 91.9h.9M537 89.6h.9M514.6 80.2h.9M488.3 85.3h.9M490.9 80.9h.9M460.8 79.2h.9M537.1 89.8h.9M522.4 88h.9M487.7 88.4h.9M483.7 84.7h.9M488.2 83.7h.9M501.2 93.5h.9M470.2 87.2h.9M539.8 87.2h.9M528.1 92h.9M539.7 79.5h.9M485.7 85.6h.9M461.9 86.3h.9M521.6 83.2h.9M462.3 85.9h.9M532.7 88.2h.9M472.2 84h.9M489.9 83.5h.9M526.6 83.7h.9M477.6 84.1h.9M530.9 87.3h.9M516.9 86.8h.9M526.9 88.7h.9M541.9 83.1h.9M494.5 79.1h.9M540.4 83.9h.9M519.7 80.3h.9M503.3 81.4h.9M503.2 85.2h.9M463.1 84.8h.9M464.2 90.5h.9M533.6 84.4h.9M516.7 87.2h.9M537.2 93.1h.9M487.8 83.7h.9M461.1 83.6h.9M496.7 87.8h.9M482 86h.9M510.7 88.4h.9M469.4 85.8h.9M472.4 83.9h.9M518.3 82h.9M531.8 80.4h.9M534.2 84h.9M503.5 82.1h.9M519.1 81.8h.9M534.3 82.5h.9M525.4 81.8h.9M520.3 86h.9M530.5 89.9h.9M481.3 81.5h.9M482.9 87.5h.9M523 88.4h.9M487.2 85.9h.9M483.2 83.6h.9M538.3 93.6h.9M506.9 86.8h.9M518.6 92.3h.9M495.6 87.9h.9M471 85.5h.9M476.5 81.8h.9M509.5 81.1h.9M514.5 81.5h.9M511.6 80.6h.9M498 81.5h.9M527.8 80.5h.9M463.4 87.8h.9M479 91.3h.9M527.1 90.1h.9M504.8 79.3h.9M522.4 86.2h.9M464.6 79.1h.9M497.8 91h.9M497.3 79.3h.9M487.4 85h.9M541.8 85.8h.9M526.6 93.4h.9M476.2 91.8h.9M483.4 81.8h.9M490.9 84.2h.9M459.8 91.5h.9M494.2 86.4h.9M490.2 81.7h.9M534.9 78.8h.9M509.3 85.4h.9M507 81.7h.9M532.9 89.5h.9M504.9 87.5h.9M514.6 92.4h.9M488.6 85.6h.9M517.8 90.4h.9M477.2 80.4h.9M494 83h.9M475.4 86.9h.9M476.7 92.4h.9M462.6 85.4h.9M472.7 82h.9M469.7 91.2h.9M494.9 89h.9M492.8 79.7h.9M490.2 89.4h.9M473.4 89.5h.9M460.8 84.3h.9M537.6 88h.9M518.8 87.7h.9M496.3 84.9h.9M472.4 92.3h.9M510.1 86h.9M487.8 83h.9M480.9 87.7h.9M512.5 91.6h.9M495.2 83.9h.9M484.7 82h.9M478.4 90.4h.9M537.6 93.1h.9M503.7 86.1h.9M485.4 86.1h.9M456.9 79.3h.9M540.9 93.3h.9M526.4 83h.9M478.4 87.3h.9M513.4 92.1h.9M538.6 89.4h.9M535.3 84.8h.9M517.3 83.3h.9M468.5 84.8h.9M481.5 80.7h.9M509.4 87h.9M513.8 93.2h.9M472.5 88.1h.9M528 80.6h.9M476.9 82.9h.9M538.5 90.4h.9M472.3 91.2h.9M483.5 84.3h.9M522.2 83h.9M484.8 85.8h.9M512.4 80.3h.9M505.4 80.8h.9M472.4 91.7h.9M473.9 84.2h.9M511.2 92.7h.9M475.9 87.1h.9M512.2 89.1h.9M502.3 85.3h.9M500.8 84.5h.9M494.8 81.6h.9M497.5 92.1h.9M467.9 90.3h.9M502.7 82.1h.9M494.8 86.2h.9M541 92.4h.9M468.1 81.1h.9M460.4 92.1h.9M533.6 93.5h.9M471.5 83.2h.9M460 85.7h.9M466.5 85.7h.9M462 87.7h.9M457.9 83.5h.9M524.9 83.8h.9M502.9 91.1h.9M531.7 85.4h.9M482.6 84.5h.9M494.6 91.4h.9M458.9 82.3h.9M514.4 87.7h.9M462.6 81.3h.9" stroke="#ff1010" stroke-width=".9" stroke-opacity="0.5" fill="none"/>
<path d="M521.6 84.5h.9M537.8 89.9h.9M456.8 81.5h.9M473.8 92.7h.9M502.9 87.6h.9M500.4 88.7h.9M457 83.3h.9M521.2 85.2h.9M506.9 83.8h.9M503.7 92.9h.9M516.7 79.5h.9M502.6 79.3h.9M505.5 88.9h.9M461.3 87.9h.9M539.8 86.8h.9M513.7 80.1h.9M514 80.6h.9M457.3 91.8h.9M463 89.3h.9M476 88.8h.9M463.3 85.5h.9M491.2 91.1h.9M511.4 90.1h.9M497.6 89.5h.9M490.2 86.9h.9M466.5 93h.9M458.7 79.8h.9M513.5 93.5h.9M490.9 84.7h.9M479.6 93.1h.9M508.5 79.7h.9M500 81.4h.9M517.8 87.6h.9M471.1 92.3h.9M500.7 84.3h.9M522.5 78.8h.9M518.8 87.2h.9M464.1 91.7h.9M512.2 87.6h.9M505.4 79.1h.9M468.5 79.7h.9M473.7 86.8h.9M508.4 85.1h.9M477.4 91.7h.9M479.1 92.1h.9M536.7 82.9h.9M472.7 93.6h.9M531.4 90.4h.9M468.6 93.7h.9M530.1 82.7h.9M517.7 82.7h.9M501.7 87.5h.9M495.5 90.4h.9M481.4 80.3h.9M496.2 78.8h.9M476.5 80.4h.9M496.9 80.1h.9M462.8 80.8h.9M491.4 82.1h.9M508.3 93.7h.9M484.5 81.1h.9M506.8 79.7h.9M514.4 78.9h.9M462.1 86.6h.9M535.6 88.9h.9M456.2 86.5h.9M506.6 81.2h.9M465.6 86.9h.9M472.3 90.4h.9M496.4 83.2h.9M530.9 83.5h.9M488.7 80h.9M471.2 88.1h.9M476 88.5h.9M494.9 85.4h.9M494 86.6h.9M491.5 89.6h.9M478.1 92.7h.9M529.5 88.2h.9M478 83.6h.9M536.6 80.4h.9M502.2 89.8h.9M514.8 88.9h.9M540.9 89.3h.9M509.4 92.4h.9M502 86.8h.9M526.4 80.8h.9M528.5 79h.9M485.3 91.1h.9M505.5 81.6h.9M458.1 84.5h.9M534.8 89.3h.9M489.8 82.6h.9M471 81.6h.9M524.4 92.5h.9M525.2 81.2h.9M495.1 82.5h.9M511.8 92.9h.9M482.1 90h.9M531.3 81.6h.9M497.8 83.7h.9M470.4 84.4h.9M525.5 81.8h.9M479.3 90.4h.9M465.7 83.9h.9M537.1 91.2h.9M481 89.9h.9M465.7 93.4h.9M532.6 79.1h.9M466.1 83.8h.9M481.7 89h.9M535.5 90.2h.9M501.2 88h.9M498.3 88.9h.9M526.6 89.5h.9M531.8 82.5h.9M487 89.2h.9M472.5 82.8h.9M499 86.1h.9M504 86.6h.9M539.1 80.7h.9M477.4 88.5h.9M489.5 92.3h.9M499.7 83.9h.9M479.4 91.4h.9M493.9 90.1h.9M464.1 84.5h.9M466.6 89.4h.9M508.7 86.6h.9M531.5 92.7h.9M493.8 85.1h.9M505.3 78.8h.9M488.7 82.1h.9M458.3 91.7h.9M473.4 81.7h.9M535.6 87.1h.9M484.3 85.2h.9M513.5 80.6h.9M518.3 85h.9M498.3 88.2h.9M486.8 89.9h.9M483.2 83h.9M513.6 83h.9M505.4 89.4h.9M482.2 89.1h.9M491 91.4h.9M466.9 84.9h.9M462.7 85.3h.9M532.4 82.5h.9M513.2 83.1h.9M508.6 80.9h.9M519.3 79.8h.9M490.4 93.3h.9M459.7 80.6h.9M512.2 92.1h.9M483.4 88.1h.9M506 87.9h.9M510.6 91.7h.9M527.3 91.6h.9M480.4 91.4h.9M504.1 89.7h.9M457 89h.9M489.3 81h.9M521.6 89.5h.9M530.4 84.4h.9M456.8 83.2h.9M495.3 87.2h.9M517.9 82h.9M460.3 86.9h.9M470.1 91h.9M464.8 90.2h.9M534.4 91h.9M484.1 88.3h.9M512.8 82.9h.9M497.9 82.4h.9M457.3 78.9h.9M500 80.5h.9M509.4 79.5h.9M490.8 81.2h.9M459 93.1h.9M507.6 90.4h.9M473.8 82h.9M501.6 91.2h.9M474.3 86.3h.9M500.2 79.9h.9M521.6 93.1h.9M457.3 79.1h.9M461.4 84.2h.9M495.8 81.7h.9M461.6 80.8h.9M495.3 86.3h.9M519.7 91.4h.9M486.2 93.2h.9M525.1 85.1h.9M504 82.9h.9M481 89.3h.9M492.4 79.9h.9M476.8 83.7h.9M514 87.5h.9M533.4 91.2h.9M530.9 83.7h.9M539.8 89h.9M476.3 79.8h.9M501.4 88.6h.9M461.6 79.7h.9M493 90h.9M484.7 81.3h.9M487.4 88.8h.9M502.2 87.2h.9M474.5 88.7h.9M503.9 83.7h.9M540.6 93.4h.9M480.7 85h.9M496.4 92.5h.9M471.4 91.6h.9M540.3 92.7h.9M540.4 80.6h.9M477.4 91.8h.9M482.3 81.8h.9M462.3 92.3h.9M497.4 82.9h.9M490.9 82.6h.9M520 89.1h.9M497.8 81.1h.9M465.3 79.6h.9M517.5 92.3h.9M525.3 89.9h.9M505.3 83.6h.9M503.3 82.9h.9M492.7 88.2h.9M533.3 89.5h.9M494.5 86.8h.9M539.1 91.2h.9M525.3 80.4h.9M523.9 86.8h.9M532.4 89.6h.9M526.8 91h.9M508 79.2h.9M484.9 79.6h.9M507.4 84.3h.9M505.4 85.4h.9M469.3 80.5h.9M535.2 93.3h.9M511 80.6h.9M504.3 79.8h.9M458.1 93h.9M533 82.3h.9M532.4 82.1h.9M508.5 79.5h.9M508.9 90.5h.9M491 83.9h.9M482.8 90.2h.9M505.4 82.7h.9M526 84h.9M467.3 83.7h.9M521.5 91.8h.9M481.8 92.5h.9M495.6 85.4h.9M474 80.1h.9M460.6 84.6h.9M489.8 87.5h.9M502.6 83h.9M520.5 84.6h.9M498.7 86.2h.9M515 85.9h.9M542.4 89.4h.9M474.6 89.5h.9M489.7 88h.9M504 90.5h.9M524.1 90h.9M515.8 81.8h.9M470 83.9h.9M511.1 82.5h.9M518.8 84.3h.9M460.7 88.7h.9M537.3 83.3h.9M541.4 85.2h.9M484.4 78.7h.9M480.9 92.4h.9M488.1 90.7h.9M541.9 80.8h.9M492.1 81.2h.9M540.8 81.7h.9M523.5 91.3h.9M530.8 81.4h.9M504.3 82.9h.9M479.2 82.5h.9M519.8 85.4h.9M536.2 79.3h.9M508.2 81.3h.9M488.2 82.7h.9M491.8 80.2h.9M482.7 89.1h.9M500.5 84.2h.9M478.1 88.4h.9M522.6 89.4h.9M490.4 82.4h.9M501.8 89.5h.9M527.7 90.3h.9M481.8 89.3h.9M458.7 81.7h.9M494.2 91.7h.9M512.2 83.3h.9M538.4 89.2h.9M467.3 89.8h.9M466.1 81.3h.9M501.2 92.5h.9M468.1 79.6h.9M504.3 80.4h.9M457.5 87.9h.9M521.3 89.9h.9M479.1 91.8h.9M493.2 92.6h.9M469.9 80.3h.9M522.4 87.9h.9M521.9 90.5h.9M485.6 93.3h.9M471.1 91.9h.9M487.5 78.8h.9M537 89.8h.9M521.9 79.1h.9M510.8 92.5h.9M540.4 89.8h.9M459.5 88.2h.9M508.3 82.5h.9" stroke="#2424ff" stroke-width=".9" stroke-opacity="0.5" fill="none"/>
<path d="M483.7 76h1.8M496.5 69.1h1.8M505.1 77.5h1.8M481.5 77.4h1.8M489.4 77.3h1.8M482.2 77h1.8M493.8 63.2h1.8M488 75.5h1.8M483.6 79.5h1.8M481.5 76.5h1.8M487.6 77.7h1.8M482.8 76.5h1.8M488.9 72.4h1.8M482.5 77.5h1.8M481.2 76h1.8M482 77.8h1.8M504.4 75.8h1.8M482.3 79.2h1.8M483.6 75.1h1.8M480.6 77.5h1.8M486.5 72.9h1.8M485.2 68.7h1.8M482.1 78.8h1.8M484 71.1h1.8M488.2 61.4h1.8M481.6 79.2h1.8M481.3 78.4h1.8M489.1 73.3h1.8M484.2 73.5h1.8M482.1 75.5h1.8M484.8 78.5h1.8M484.3 79.5h1.8M486 67.6h1.8M489.4 72.9h1.8M481.5 78.9h1.8M488.3 77h1.8M490 60.3h1.8M487.9 67.1h1.8M486.8 73h1.8M481.9 77.8h1.8M486.6 76h1.8M503.6 76.8h1.8M489 58.9h1.8M488.7 61.2h1.8M494.1 70.6h1.8M484.5 77.4h1.8M481.7 75.1h1.8M481.5 76.9h1.8M489.7 76h1.8M486.3 70.3h1.8M483.7 78h1.8M489.3 78.1h1.8M486.5 65.2h1.8M493.7 58.4h1.8M483.3 72.4h1.8M487.6 62h1.8M480.9 78.2h1.8M488.9 69.1h1.8M484.9 74.4h1.8M482.2 76.8h1.8M489 74.4h1.8M482.2 74h1.8M481 80.1h1.8M481.5 76.8h1.8M480.7 77.9h1.8M487.7 70.1h1.8M486.2 78.4h1.8M488.2 74.7h1.8M488.8 66.6h1.8M484.8 79.9h1.8M482.6 79.5h1.8M481.5 75.3h1.8M494.2 63.8h1.8M485.9 71.2h1.8M488.2 78.6h1.8M488.9 65.2h1.8M484.4 75.9h1.8M481.4 75.8h1.8M484.6 75.8h1.8M492.9 74.3h1.8M481.7 79h1.8M483.3 73.4h1.8M480.4 78.6h1.8M482.4 75.3h1.8M487.3 66.1h1.8M482.2 73.8h1.8M490.7 80.3h1.8M481.2 79.5h1.8M484.6 70.6h1.8M488.4 74.5h1.8M484.6 72.6h1.8M489.2 62.9h1.8M479.4 78.8h1.8M479.9 77.4h1.8M488.7 73.9h1.8M484 75.2h1.8M482.1 78.6h1.8M487.8 71.7h1.8M478.4 79.2h1.8M485.4 78.5h1.8M482 74h1.8M482.4 72.1h1.8M478.7 79.7h1.8M487.6 73.9h1.8M485.7 77.9h1.8M487.2 73.1h1.8M479 78.6h1.8M490 68.3h1.8M489.3 71.5h1.8M488.8 66.9h1.8M482 76.2h1.8M488.9 74.4h1.8M484.4 71.6h1.8M489.8 66h1.8M488.1 74.2h1.8M489.6 61.6h1.8M480.5 77.2h1.8M481.4 73.5h1.8M488.3 74h1.8M490.3 65.9h1.8M484.3 70.1h1.8M483.3 72.1h1.8M485.4 75.7h1.8M490 72.5h1.8M482.5 74.6h1.8M488.6 68.3h1.8M488.5 62.6h1.8M488.4 66.7h1.8M481 77.1h1.8M491 49.8h1.8M483.7 41h1.8M484.2 55.9h1.8M490.7 55.4h1.8M488.8 46.8h1.8M490.8 55.3h1.8M494.2 40.5h1.8M483.6 49.4h1.8M492.4 46h1.8M488.2 50.4h1.8M494.1 52.2h1.8M487.1 42.9h1.8M491.6 38.3h1.8M481.7 27.3h1.8M484.3 27.6h1.8M492.1 27.3h1.8M485.6 29.3h1.8M476.4 26.6h1.8M490.8 88.4h1.8M494.2 83.5h1.8M492.7 83.4h1.8M491.5 87h1.8" stroke="#000000" stroke-width=".8" stroke-opacity="0.72" fill="none"/>
<path d="M482.2 78.4h1.1M485.2 73.2h1.1M482.2 78.1h1.1M487.6 64.1h1.1M491.4 64.7h1.1M481.5 80.4h1.1M505.5 79.2h1.1M481.1 77.8h1.1M490.5 76.6h1.1M487.1 65.2h1.1M485.4 72.5h1.1M496.7 65.6h1.1M504 76h1.1M487.7 64.3h1.1M489.2 76h1.1M502 77.2h1.1M482.3 75.1h1.1M497.7 69h1.1M501 68.9h1.1M489.5 66.3h1.1M483.8 75.4h1.1M484.7 75.6h1.1M500.2 77.6h1.1M496.8 60.3h1.1M500.7 80.1h1.1M491.8 62.8h1.1M491.9 57.7h1.1M498.4 77.8h1.1M485.6 76.2h1.1M495.4 75.8h1.1M483.4 73.9h1.1M484.2 75.8h1.1M490.2 74.3h1.1M485.4 72.4h1.1M489.5 58.3h1.1M486.5 72.1h1.1M499 64.2h1.1M486.8 76.8h1.1M502.2 74.2h1.1M501.9 69.7h1.1M503.9 76.1h1.1M498.8 71.6h1.1M499.2 77.9h1.1M485 78.9h1.1M498.3 79.1h1.1M480.8 79h1.1M495 58.8h1.1M490.6 70.6h1.1M486.2 66.4h1.1M490.1 69.4h1.1M483.9 80.2h1.1M493 68.7h1.1M505.8 77.4h1.1M496.3 69.5h1.1M487.8 72.8h1.1M503.7 75.8h1.1M482.1 75.6h1.1M502.2 74.9h1.1M494.6 55.6h1.1M487.6 70.9h1.1M503.9 74.7h1.1M495 56h1.1M482.5 73.9h1.1M492.8 78.8h1.1M490.5 71.6h1.1M489.7 64.9h1.1M491.1 76.6h1.1M485.2 79.1h1.1M481.2 77.7h1.1M505.8 79.9h1.1M495.4 63.4h1.1M500.1 73.2h1.1M498.1 67.9h1.1M482.1 79.2h1.1M498.5 80.1h1.1M496.8 70.8h1.1M490.1 73.8h1.1M505.5 78.7h1.1M499.5 78.7h1.1M489.7 70.4h1.1M502.9 71.8h1.1M489.4 60.6h1.1M502.2 75.7h1.1M492.1 66h1.1M493.8 57.8h1.1M494.6 79.5h1.1M492.1 79.5h1.1M482.2 75.1h1.1M491.2 65.3h1.1M498.9 68.4h1.1M500.7 68.9h1.1M501 73.1h1.1M493.6 78.6h1.1M499.9 73.4h1.1M495 74.1h1.1M490.2 78.1h1.1M489.7 59.1h1.1M481.9 78.9h1.1M486.1 76.2h1.1M490.2 72h1.1M484.9 70.7h1.1M489.7 72.8h1.1M483.3 78.2h1.1M479.6 77h1.1M488.6 64.7h1.1M498 49.1h1.1M499.3 43.8h1.1M488.4 48.9h1.1M494.6 30.4h1.1M489.4 53.1h1.1M492.5 49.8h1.1M495.5 47.4h1.1M491.8 49.8h1.1M485.8 53.3h1.1M491.9 50.3h1.1M495.4 42.5h1.1M490.5 50.3h1.1M491.8 52.1h1.1M489 47.6h1.1M486.5 40.1h1.1M488.3 50.2h1.1M481.9 51.4h1.1M494.6 50.4h1.1M492.4 49.8h1.1M492.5 46.8h1.1M491.3 28.1h1.1M496.7 46.7h1.1M491 47.7h1.1M494.9 54.8h1.1M490.8 56.2h1.1M485.8 52.1h1.1M491.6 39h1.1M490.1 46.4h1.1M484.2 42.6h1.1M487.9 56.1h1.1M491.5 48.8h1.1M497.3 55.4h1.1M492.9 38.7h1.1M487.3 48.3h1.1M490.7 56.2h1.1M483.9 55.8h1.1M496.7 50h1.1M484.7 38.7h1.1M485.9 25.6h1.1M486.3 37.2h1.1M492.1 56.2h1.1M494.3 49.3h1.1M489.8 45.1h1.1M489.8 55.1h1.1M494.2 34.8h1.1M493.6 43.3h1.1M496.3 92.8h1.1M495.4 86.8h1.1M491.6 90.4h1.1M492.7 92.2h1.1M496.3 92.1h1.1M492.7 92h1.1M493.3 87.7h1.1M495.7 87.3h1.1M494.5 86.8h1.1M492.7 92h1.1M493.6 80.5h1.1M495.1 82.5h1.1M492.7 84.7h1.1M491.8 84.2h1.1M494.6 83.7h1.1M494.6 77.7h1.1M493.4 81.1h1.1M492.4 86.6h1.1M493.5 86.7h1.1M491.8 81.7h1.1M494.7 85.4h1.1M493.6 86h1.1M494.2 85.2h1.1M494.2 77.9h1.1M493.5 79.9h1.1M493.1 83.3h1.1M495.8 83h1.1M493.8 78.5h1.1M495.3 79.9h1.1M492.4 78.3h1.1M493.8 78h1.1M494.3 80.6h1.1M494.7 84.2h1.1M492.4 82.2h1.1M495.2 77.5h1.1M494.2 85.5h1.1M493.7 83.7h1.1M492.5 82.7h1.1M492.1 83h1.1M493.1 86.5h1.1M493.8 81.5h1.1" stroke="#ff55ee" stroke-width="1.1" stroke-opacity="0.72" fill="none"/>
<path d="M487.3 70h1.1M494.6 70.9h1.1M481.4 80.5h1.1M485.2 68h1.1M494.4 62.5h1.1M493.6 77.6h1.1M505.1 77.6h1.1M485.6 72.2h1.1M483 76.8h1.1M495.3 73h1.1M496.2 72.9h1.1M490.3 59.9h1.1M484.5 70.7h1.1M500 79.6h1.1M490.1 77.1h1.1M489.6 79.9h1.1M495.1 69.1h1.1M490.2 59.4h1.1M490.7 75.6h1.1M505.7 78.2h1.1M481 79.2h1.1M495.2 57.4h1.1M491.4 53.4h1.1M482.1 76.8h1.1M496.6 61.5h1.1M505.5 77.4h1.1M490.5 59.8h1.1M492.4 75.6h1.1M487.4 70.2h1.1M481.5 78.1h1.1M504.8 77.2h1.1M487.3 65.6h1.1M480.9 80.3h1.1M483 78.5h1.1M497.9 70.5h1.1M496.2 74.7h1.1M485.7 68.3h1.1M486.6 77.5h1.1M498.5 62.6h1.1M494.1 60h1.1M503.1 80h1.1M495.4 78.7h1.1M487.7 71.7h1.1M492.4 63.6h1.1M484.1 72.7h1.1M493 75.1h1.1M484.4 79.4h1.1M491.6 59.4h1.1M492 57.6h1.1M505 79.7h1.1M483.4 73.1h1.1M493.1 53.3h1.1M493.3 64.7h1.1M487.9 63.2h1.1M489.7 68.9h1.1M489.9 69.5h1.1M487.7 67.9h1.1M487.5 35.8h1.1M492.2 39.6h1.1M491.8 40.5h1.1M486.8 49.9h1.1M494.7 42.9h1.1M490.8 47.9h1.1M488.6 47.4h1.1M492.7 42.1h1.1M494.4 55.9h1.1M484.2 49h1.1M487 50.5h1.1M481.4 30h1.1M490.5 50.2h1.1M483.7 51.2h1.1M486.2 46.1h1.1M490.2 51.1h1.1M490 37.4h1.1M493.7 56.2h1.1M486.8 42.4h1.1M492.2 54.9h1.1M486.3 29h1.1M492 92.7h1.1M492 87.3h1.1M492.8 82.8h1.1M493.1 85.2h1.1M492.9 80.2h1.1M494.2 79.3h1.1M495.7 86.5h1.1M491.6 86.8h1.1M494.3 80.3h1.1M493.9 84.2h1.1M494 78.5h1.1M493.6 80.1h1.1M493.8 79.2h1.1M493.2 79h1.1" stroke="#00a83c" stroke-width="1.1" stroke-opacity="0.72" fill="none"/>
<path d="M504.9 78.1h1.1M486.2 77.9h1.1M498 72.8h1.1M502.6 71.4h1.1M499 70.7h1.1M500.1 78.7h1.1M501.9 72.7h1.1M488.4 78.8h1.1M494.6 64h1.1M504.1 74.6h1.1M485.2 77.8h1.1M489.9 64.5h1.1M500 80.2h1.1M501.2 75.4h1.1M492.4 78.9h1.1M492.9 78.1h1.1M485.6 78.7h1.1M502.7 77.1h1.1M503.1 79.8h1.1M489.9 59.3h1.1M487.3 69.9h1.1M489 60.3h1.1M501.2 75.7h1.1M485.2 75.5h1.1M503.1 77.2h1.1M493.4 71.1h1.1M499.9 71.3h1.1M483.2 80.4h1.1M488.5 66h1.1M505.7 77.8h1.1M497.9 78.9h1.1M483.6 71.5h1.1M497.5 80h1.1M482.6 75.3h1.1M489.7 63.6h1.1M504.7 77.8h1.1M489 77.9h1.1M483.2 78.5h1.1M500.7 78.2h1.1M492.1 55.6h1.1M503.1 80.1h1.1M486 70.5h1.1M503.2 73.2h1.1M499.7 70.7h1.1M505.2 80.3h1.1M494.5 58.6h1.1M495.4 69.4h1.1M483.7 78h1.1M491 64.6h1.1M486.3 74.7h1.1M485.4 68.8h1.1M496.7 70.3h1.1M503.9 77.1h1.1M493.2 51.9h1.1M497.1 74.4h1.1M491.6 79h1.1M488.5 63.6h1.1M494.6 64.3h1.1M504 77.1h1.1M494.5 71.1h1.1M490.5 80.2h1.1M484.6 75.8h1.1M492.5 77.5h1.1M502.4 71.5h1.1M490.4 56h1.1M492.5 66.5h1.1M481.6 75.8h1.1M481.7 78.3h1.1M495.5 76.5h1.1M494.9 66.5h1.1M485.9 78.1h1.1M503.2 73h1.1M494.2 67.2h1.1M484.3 70h1.1M496.9 79.9h1.1M497.2 73.5h1.1M488.9 59.8h1.1M495.4 69.2h1.1M495.1 63.1h1.1M504.5 78.9h1.1M489 70.2h1.1M491 68.7h1.1M494.2 72.9h1.1M503.8 74.1h1.1M504.1 76.3h1.1M492.1 62.1h1.1M497 64.9h1.1M482 75h1.1M501 75h1.1M496 58h1.1M502.7 79.9h1.1M499.9 70.5h1.1M495 59h1.1M481.8 75.2h1.1M499.9 71.4h1.1M496.4 67.1h1.1M494 63.4h1.1M489.6 76.8h1.1M500.5 76.6h1.1M496.8 79.8h1.1M487.9 77.2h1.1M502.1 78.7h1.1M503.7 76h1.1M485.5 68.6h1.1M491.2 59.5h1.1M482.1 80h1.1M486.8 65.4h1.1M488.4 70.3h1.1M482.8 78.8h1.1M481.1 76.1h1.1M479 77.5h1.1M482.6 79.1h1.1M478.6 78.8h1.1M490.5 46.2h1.1M493.3 45.3h1.1M491.9 51.2h1.1M488.8 49.1h1.1M493 50.6h1.1M491.9 48.7h1.1M488.4 44.1h1.1M485.6 48h1.1M494.2 44.8h1.1M490.7 43h1.1M492.4 46.8h1.1M488.8 54.7h1.1M489.2 55.8h1.1M491.2 55.3h1.1M484.7 31.1h1.1M494.6 38h1.1M490.9 49.6h1.1M493.8 54.8h1.1M486.6 52.1h1.1M490 51.4h1.1M489.5 44h1.1M497.5 36.6h1.1M496 53.8h1.1M493.7 55.2h1.1M491.1 48.6h1.1M486.1 52.3h1.1M489.8 49.6h1.1M484.6 54.5h1.1M489.7 51.5h1.1M490.3 44.4h1.1M490 51.6h1.1M485.7 50.9h1.1M492.3 45.3h1.1M496.7 41.1h1.1M494.8 55.7h1.1M492.4 32h1.1M493.3 52.9h1.1M486.2 26.2h1.1M488.5 48.6h1.1M492.1 46.7h1.1M482.4 48.3h1.1M492 89.9h1.1M493.7 79h1.1M492.9 82.8h1.1M496.7 80.3h1.1M493.5 77.5h1.1M493.7 79h1.1M493.4 85h1.1M494 79.9h1.1M496.9 84.2h1.1M491.7 82.3h1.1M494.9 85.4h1.1M493.9 85.9h1.1M494.9 86.2h1.1M493.6 84.9h1.1M492.3 77.2h1.1M492.5 80.8h1.1M492.9 83.3h1.1M493.6 80.6h1.1M494.4 81.1h1.1M495.7 83.1h1.1M494.4 82.4h1.1M490.9 81h1.1M493.4 81.9h1.1M494.5 83.2h1.1M493.4 83.7h1.1" stroke="#ff1010" stroke-width="1.1" stroke-opacity="0.72" fill="none"/>
<path d="M497.1 75.1h1.1M505.7 80.5h1.1M503.9 74.5h1.1M496.7 71.9h1.1M498.8 78.5h1.1M499.2 75.7h1.1M497.1 73.5h1.1M489.9 69.9h1.1M497.1 72.6h1.1M504.2 77.9h1.1M486.1 70.4h1.1M490 75.5h1.1M500.3 68.7h1.1M487.1 75.3h1.1M503.8 80.2h1.1M501.9 80h1.1M499.1 70.2h1.1M488.4 65.1h1.1M491.5 65.8h1.1M495.9 71.5h1.1M498.4 80.3h1.1M501.1 70.3h1.1M493 52.8h1.1M499 64.2h1.1M497.8 70.9h1.1M501.2 68.4h1.1M482.8 77.8h1.1M505.9 79.8h1.1M490.9 72.8h1.1M501.1 74.8h1.1M504.6 79.5h1.1M501 77.5h1.1M488.6 79.1h1.1M493.3 80.3h1.1M505.5 79.7h1.1M481.9 75.3h1.1M497.8 73.6h1.1M481.9 76.8h1.1M505.4 79.7h1.1M501.9 80.2h1.1M491.7 53h1.1M499.3 75.1h1.1M497.2 70.9h1.1M502.9 79.8h1.1M505.7 80.4h1.1M503 78.5h1.1M497.8 62.6h1.1M503.8 78.2h1.1M496.6 79.2h1.1M504.1 79.7h1.1M504.1 77.9h1.1M502.7 72.5h1.1M482.7 75h1.1M497.1 68.6h1.1M502.7 73.9h1.1M504.4 77h1.1M498.5 70.1h1.1M497.7 72.8h1.1M501 69.9h1.1M481 78.5h1.1M505 80.2h1.1M494 72.3h1.1M496.8 73.6h1.1M498.2 73.1h1.1M496.3 58.6h1.1M502.5 72.5h1.1M505.6 80.3h1.1M497.7 68.9h1.1M499.4 76.1h1.1M497.3 60.9h1.1M491.1 78.6h1.1M483.1 75h1.1M486 77.7h1.1M495.2 63.3h1.1M498.6 74.6h1.1M497.9 67.9h1.1M501.7 78.8h1.1M483.8 73.8h1.1M485.4 68.7h1.1M505 78.8h1.1M504.1 76.5h1.1M505.6 80.2h1.1M504.6 75h1.1M500.3 71.4h1.1M480.7 79.7h1.1M500 67.8h1.1M503.9 78h1.1M491 58.5h1.1M488.5 68.1h1.1M498.7 79.5h1.1M494.2 79.7h1.1M496.9 62.5h1.1M494.9 69.3h1.1M501.1 79.7h1.1M505.3 76.8h1.1M498.2 65.9h1.1M505.3 76.7h1.1M492 58.5h1.1M505.5 78.7h1.1M493.2 55.9h1.1M489.7 69.8h1.1M501.8 72.2h1.1M503.1 76.7h1.1M482.2 77.1h1.1M482.4 74.6h1.1M481.6 80h1.1M497.4 66h1.1M487.6 72.2h1.1M504 78.5h1.1M497.7 62.4h1.1M496.3 73.5h1.1M494 77.2h1.1M490 76.7h1.1M490.2 60.9h1.1M505.6 78.5h1.1M490.1 72.9h1.1M503.6 72.9h1.1M499.8 74.9h1.1M497.8 75.3h1.1M490.1 57.8h1.1M497.9 65.1h1.1M502.9 79.7h1.1M490.4 79.8h1.1M503 80.1h1.1M503.8 73.4h1.1M496.9 66h1.1M503 79.2h1.1M483.1 80.3h1.1M492.9 59h1.1M497 76.1h1.1M501.5 71.1h1.1M481.5 77.7h1.1M498.8 72.4h1.1M497.1 66.3h1.1M481.8 76.6h1.1M490.7 76.7h1.1M498.4 62.8h1.1M498.2 74.4h1.1M504.8 75.6h1.1M504.5 78.1h1.1M495.8 76.2h1.1M497.6 70h1.1M496.7 70.1h1.1M502.1 77h1.1M486.1 70.9h1.1M485.7 79h1.1M498.5 67.6h1.1M489.2 65.1h1.1M494.5 77.2h1.1M490.6 71.9h1.1M496.5 58.1h1.1M501.6 74.9h1.1M502.8 72.9h1.1M504.9 76.4h1.1M504 74.2h1.1M499.1 69.5h1.1M498.3 79.6h1.1M495 76.6h1.1M496.5 62.8h1.1M497.7 77.4h1.1M497.8 69.3h1.1M503.8 76.2h1.1M498.7 79.9h1.1M504.1 80.4h1.1M497.4 62.6h1.1M497.5 77.1h1.1M495.1 79.6h1.1M504.8 80.4h1.1M487.9 69.2h1.1M503.1 76.2h1.1M496.6 73.8h1.1M482.8 78.8h1.1M486.5 70.1h1.1M486.4 74.3h1.1M479 77.9h1.1M480.4 79.1h1.1M494.4 51.2h1.1M492 46.9h1.1M485 48.7h1.1M491.7 49.2h1.1M492.9 55.5h1.1M483.8 43.2h1.1M495.4 36.9h1.1M485.5 54.5h1.1M494.8 35h1.1M495.1 52.4h1.1M493.2 46.4h1.1M495.3 34h1.1M489.8 38.5h1.1M498 55.5h1.1M490.1 56.8h1.1M491.5 38.5h1.1M490.7 39.3h1.1M487 53h1.1M485.6 56.7h1.1M490.8 52.4h1.1M490.4 34.8h1.1M492.7 38.8h1.1M483.2 51.7h1.1M484.1 48.4h1.1M486.7 54.9h1.1M488.9 50.2h1.1M488.2 48.4h1.1M491 48.1h1.1M493.1 55.5h1.1M496.5 50.9h1.1M488.9 46.7h1.1M493.9 40h1.1M488.2 34.9h1.1M493.4 56.5h1.1M489 36.2h1.1M492.5 54.9h1.1M489 31.9h1.1M496.4 53.5h1.1M488.4 55.6h1.1M491.7 50.3h1.1M489.6 53.9h1.1M489.7 48.8h1.1M495.1 56.6h1.1" stroke="#2424ff" stroke-width="1.1" stroke-opacity="0.72" fill="none"/>
<path d="M25.6 169V230.6M25.6 184.4H127" stroke="#606060" stroke-width=".6" fill="none"/>
<text x="23.4" y="232" font-size="3.95" text-anchor="end" font-family="Liberation Sans,sans-serif" fill="#000">-300</text>
<text x="23.4" y="224.3" font-size="3.95" text-anchor="end" font-family="Liberation Sans,sans-serif" fill="#000">-250</text>
<text x="23.4" y="216.6" font-size="3.95" text-anchor="end" font-family="Liberation Sans,sans-serif" fill="#000">-200</text>
<text x="23.4" y="208.9" font-size="3.95" text-anchor="end" font-family="Liberation Sans,sans-serif" fill="#000">-150</text>
<text x="23.4" y="201.2" font-size="3.95" text-anchor="end" font-family="Liberation Sans,sans-serif" fill="#000">-100</text>
<text x="23.4" y="193.5" font-size="3.95" text-anchor="end" font-family="Liberation Sans,sans-serif" fill="#000">-50</text>
<text x="23.4" y="185.8" font-size="3.95" text-anchor="end" font-family="Liberation Sans,sans-serif" fill="#000">0</text>
<text x="23.4" y="178.1" font-size="3.95" text-anchor="end" font-family="Liberation Sans,sans-serif" fill="#000">50</text>
<text x="23.4" y="170.4" font-size="3.95" text-anchor="end" font-family="Liberation Sans,sans-serif" fill="#000">100</text>
<text x="25.6" y="190.2" font-size="3.95" text-anchor="middle" font-family="Liberation Sans,sans-serif" fill="#000">0</text>
<text x="45.9" y="190.2" font-size="3.95" text-anchor="middle" font-family="Liberation Sans,sans-serif" fill="#000">200</text>
<text x="66.2" y="190.2" font-size="3.95" text-anchor="middle" font-family="Liberation Sans,sans-serif" fill="#000">400</text>
<text x="86.4" y="190.2" font-size="3.95" text-anchor="middle" font-family="Liberation Sans,sans-serif" fill="#000">600</text>
<text x="106.7" y="190.2" font-size="3.95" text-anchor="middle" font-family="Liberation Sans,sans-serif" fill="#000">800</text>
<text x="127" y="190.2" font-size="3.95" text-anchor="middle" font-family="Liberation Sans,sans-serif" fill="#000">1000</text>
<path d="M26 230.6h-1.2M26 222.9h-1.2M26 215.2h-1.2M26 207.5h-1.2M26 199.8h-1.2M26 192.1h-1.2M26 184.4h-1.2M26 176.7h-1.2M26 169h-1.2M25.6 184v1.2M45.9 184v1.2M66.2 184v1.2M86.4 184v1.2M106.7 184v1.2M127 184v1.2" stroke="#606060" stroke-width=".5" fill="none"/>
<text x="76.3" y="235.2" font-size="4.2" text-anchor="middle" font-family="Liberation Sans,sans-serif" font-weight="bold" fill="#000">Lateral distance (mm)</text>
<text transform="translate(14.2 199.6) rotate(-90)" font-size="4.2" text-anchor="middle" font-family="Liberation Sans,sans-serif" font-weight="bold">Depth (mm)</text>
<path d="M40.9 190.1h1.8M38.5 189.8h1.8M28.8 189.4h1.8M49.7 185.4h1.8M42 186.8h1.8M33.3 191.4h1.8M43 192.5h1.8M48.6 185.7h1.8M41.4 191.4h1.8M29.7 187.3h1.8M31.4 189.4h1.8M48.8 190.3h1.8M49.3 190.1h1.8M47.7 191.3h1.8M26.2 189.3h1.8M40 191.5h1.8M32.6 186.3h1.8M34.7 193.2h1.8M49.8 191.7h1.8M33.8 184.3h1.8M29.4 187.4h1.8M30.6 188.8h1.8M26.4 191.6h1.8M49.3 189.2h1.8M47.8 190.4h1.8M26 191h1.8M38.7 191.5h1.8M37 186.3h1.8M40.6 193.2h1.8M25.6 191.4h1.8M36.1 190.6h1.8M27 188h1.8M32.3 184.8h1.8M36.4 187.7h1.8M26.7 190.9h1.8M25.5 189.2h1.8M34.7 191.3h1.8M37.4 184.3h1.8M48.4 183.1h1.8M30 186.7h1.8M49.2 188.6h1.8M30.3 190.8h1.8M32.3 188.6h1.8M44.4 193h1.8M40.2 185.4h1.8M29.1 190.5h1.8M27.3 193h1.8M37.5 186h1.8M41.6 189.9h1.8M44.6 187.8h1.8M49.7 192.6h1.8M49.9 186.2h1.8M26.3 189.8h1.8M28.6 190.7h1.8M33 190.2h1.8M36.8 185h1.8M49.8 191.3h1.8M45.6 187.3h1.8M32 190.6h1.8M42 190h1.8M44.8 180.5h1.8M40.3 185.7h1.8M25.5 191.1h1.8M45.6 183.5h1.8M46 190.2h1.8M32.8 184.2h1.8M48.3 189.3h1.8M27.2 189.8h1.8M48.4 187.3h1.8M27.4 188.9h1.8M32 187.8h1.8M44.6 181.3h1.8M35.1 188.5h1.8M48.5 181h1.8M37.6 184.1h1.8M49.1 186.2h1.8M49.8 189h1.8M35.3 191.4h1.8M55.2 198.2h1.8M53.3 194.4h1.8M66.5 193.2h1.8M62 192.7h1.8M58.7 190.9h1.8M64.9 191.7h1.8M70 191.5h1.8M67.8 190.5h1.8M63.2 192.2h1.8M56.3 191.7h1.8M71.7 184.5h1.8M54.4 192.5h1.8M60.7 190h1.8M62.1 190h1.8M63.4 191.1h1.8M68.3 193.6h1.8M70.5 189h1.8M66.9 191.6h1.8M61.3 192.1h1.8M59 194.6h1.8M61.2 191.6h1.8M61.8 189.6h1.8M57.4 195.3h1.8M56.1 197.1h1.8M69.8 189.1h1.8M71.7 195h1.8M70.8 187.8h1.8M68 192.5h1.8M56.1 196.4h1.8M59.7 191.3h1.8M54.5 195.1h1.8M60.4 192h1.8M68.7 193.9h1.8M77.7 185.1h1.8M99.6 187.9h1.8M84.8 188.8h1.8M90 185.3h1.8M97.4 190.5h1.8M64.8 191.1h1.8M118.2 191h1.8M95.4 187.1h1.8M112.1 192.4h1.8M103.8 186.9h1.8M118.8 193.6h1.8M120.1 192.5h1.8M78.1 185h1.8M103.5 191.3h1.8M125.4 190.3h1.8M85.5 187.3h1.8M108.4 191.3h1.8M109.6 190.9h1.8M98.8 189h1.8M121.5 192.8h1.8M99.8 188.4h1.8M107.5 188.1h1.8M92.7 189.8h1.8M64.1 189.4h1.8M114.5 192.6h1.8M94.9 185.3h1.8M100.3 191h1.8M89.7 185.9h1.8M108.6 193.4h1.8M85.2 188.3h1.8M75 189.7h1.8M108.9 193.2h1.8M75.3 186.7h1.8M88.8 190.4h1.8M103.2 190.4h1.8M73.9 189.2h1.8M122.7 191.4h1.8M119.7 189h1.8M89.1 189.7h1.8M122.4 192.2h1.8M61.3 191.8h1.8M115.3 191.2h1.8M66.5 189.3h1.8M100.9 189.2h1.8M83.9 181.4h1.8M87.6 186.9h1.8M124 190.1h1.8M84.8 189.3h1.8M73.8 187.7h1.8M68.5 189.5h1.8M106.6 189.5h1.8M97.4 189.9h1.8M71.3 188.6h1.8M70.5 186.8h1.8M115.9 191h1.8M97.1 192h1.8M107.3 189.7h1.8M68.8 188.8h1.8M101.6 190.3h1.8M83.6 187.5h1.8M95.7 187.8h1.8M89.1 186.4h1.8M69.7 187.4h1.8M67.4 187.2h1.8M76.8 184.1h1.8M85 180.4h1.8M94.1 187.9h1.8M101.3 186.7h1.8M115.6 189.9h1.8M98.7 188.7h1.8M66.3 189.9h1.8M75.8 184.1h1.8M90.2 190.1h1.8M115.4 191.8h1.8M120.5 193h1.8M120.2 190.4h1.8M94.9 187.3h1.8M91.3 184.2h1.8M77.7 188.4h1.8M88.6 190.1h1.8M72.1 185.6h1.8M85.8 182.5h1.8M119.4 190.1h1.8M77.5 189h1.8M76.7 185.9h1.8M88.2 188.1h1.8M75.5 184.5h1.8M78.1 188.3h1.8M89.8 183.5h1.8M75.7 188.4h1.8M74.4 189.2h1.8M118.8 190.2h1.8M82.3 186h1.8M123.9 191.6h1.8M88.4 182.2h1.8M104.6 190.2h1.8M111.3 190.7h1.8M95.4 190.3h1.8M88 189.6h1.8M115.1 191.5h1.8M101.2 191h1.8M60.9 191.4h1.8M120.7 190.5h1.8M107.1 190h1.8M99.3 189.8h1.8M81.4 184.9h1.8M100.1 190.1h1.8M98.1 191.1h1.8M68.3 187.6h1.8M118.4 192.2h1.8M122.8 189h1.8" stroke="#000000" stroke-width=".8" stroke-opacity="0.88" fill="none"/>
<path d="M28.1 189.6h1.1M41.3 186.2h1.1M30.5 186.5h1.1M27.8 188.9h1.1M35.5 191.3h1.1M30.5 192.9h1.1M48.6 188.9h1.1M34.1 193.1h1.1M32.9 190.9h1.1M43 187.8h1.1M50.1 183h1.1M40.5 189.7h1.1M28.1 191.5h1.1M28.2 191.9h1.1M30.9 192.3h1.1M48.6 187.2h1.1M27.7 192h1.1M31.4 189.9h1.1M28.7 191.5h1.1M32.6 187.6h1.1M45.2 192h1.1M32.6 190.5h1.1M38.1 188.6h1.1M41.9 184.2h1.1M45.7 187.5h1.1M33.8 186.9h1.1M26.4 188.2h1.1M48.7 191h1.1M26.4 190.7h1.1M38 185.3h1.1M32.9 190.8h1.1M39.9 185.9h1.1M41.5 192.2h1.1M30.9 190.8h1.1M29.3 190h1.1M44.6 189h1.1M34.5 189.6h1.1M27.1 190.6h1.1M49.3 189.3h1.1M32.6 187.6h1.1M35.5 185.3h1.1M34.8 191h1.1M33.9 187.2h1.1M44.6 187.9h1.1M44.1 190.7h1.1M38.3 185.4h1.1M36.1 190.5h1.1M42.9 192.6h1.1M41.6 192.4h1.1M46.3 188h1.1M39 192.1h1.1M45.8 187.1h1.1M30.3 189.1h1.1M27.7 192.4h1.1M46.8 189.3h1.1M40 187.7h1.1M50.1 192.8h1.1M25.7 189.9h1.1M40.8 181.8h1.1M41.8 180.8h1.1M28.7 187.7h1.1M30.7 191h1.1M40.1 192.1h1.1M37.2 183.5h1.1M42.5 191.1h1.1M38.2 180.7h1.1M29.9 191h1.1M34.6 185.7h1.1M49.4 180.6h1.1M46.1 182h1.1M45.5 191h1.1M43.5 185.1h1.1M43.3 186.1h1.1M39.8 186h1.1M49 190.9h1.1M31.5 192.3h1.1M33.5 188.9h1.1M28.4 192.2h1.1M32 186.4h1.1M46.6 190.4h1.1M30.8 188.8h1.1M49.2 181.3h1.1M46.2 182.4h1.1M45.6 185.6h1.1M36.6 191.9h1.1M28.2 190h1.1M46 191.2h1.1M30.1 187.4h1.1M42 192.7h1.1M35.8 192.8h1.1M29.4 187.7h1.1M35.4 189.5h1.1M46.3 190.7h1.1M43.5 188.6h1.1M36 189.7h1.1M49.8 181.5h1.1M33.4 188.2h1.1M41 187.8h1.1M28.6 187.7h1.1M32.5 187.1h1.1M41.9 187.4h1.1M36.8 192.4h1.1M39.7 188.4h1.1M34.2 190.6h1.1M26.7 191.4h1.1M35.4 186.2h1.1M26.7 191.7h1.1M29.8 190.2h1.1M35.6 183.8h1.1M41.7 188.7h1.1M50.1 180.2h1.1M43.4 178.7h1.1M43.8 177.2h1.1M41.4 178h1.1M49.5 180h1.1M62.4 189.9h1.1M68 185.9h1.1M65.4 190.6h1.1M59.8 194.7h1.1M61.1 193.8h1.1M58.8 195.3h1.1M59 188.7h1.1M54.6 189.6h1.1M53.5 187.3h1.1M60.9 192.7h1.1M56.7 194.8h1.1M59 190.2h1.1M71.4 184.6h1.1M63 199.7h1.1M57.9 196.3h1.1M62.8 195h1.1M66.4 198.7h1.1M69.2 189.4h1.1M68.2 188.5h1.1M65 194.2h1.1M67.8 190.8h1.1M61.2 190.9h1.1M71.1 190.2h1.1M62.8 188.1h1.1M56.7 188.8h1.1M63.1 191.3h1.1M68.6 191.7h1.1M68.9 188.3h1.1M65.1 187.2h1.1M63 191.2h1.1M53.1 201.8h1.1M67.1 187.5h1.1M67.1 198.1h1.1M100.5 190.2h1.1M66.1 190.7h1.1M100.2 188.2h1.1M119.6 191h1.1M89.7 189.6h1.1M94.6 185.4h1.1M91.5 189h1.1M120 192.1h1.1M113.6 190.4h1.1M120.7 193.3h1.1M122.6 188.7h1.1M83.7 180h1.1M66.1 188.8h1.1M91.2 183.4h1.1M120.3 190h1.1M83.8 185.8h1.1M87.9 191.1h1.1M76.8 183.8h1.1M86.3 185.4h1.1M101.5 186.2h1.1M110.9 191.5h1.1M111.9 190.1h1.1M106.8 191.3h1.1M88.6 190.7h1.1M116.6 189.9h1.1M87.3 188.1h1.1M108 191.9h1.1M77.1 188.5h1.1M103.7 190.3h1.1M107.7 187.8h1.1M69 187.8h1.1M71 184.9h1.1M82.9 187.6h1.1M74.8 189.5h1.1M68.9 186.5h1.1M101.5 189.1h1.1M109.2 192.9h1.1M70.9 185.5h1.1M64.9 189.3h1.1M70.6 187.7h1.1M71.5 186.4h1.1M73.3 189.2h1.1M97.4 186.4h1.1M76.9 183.5h1.1M119.8 191.5h1.1M81.9 189.5h1.1M104.2 190.4h1.1M72.1 184.4h1.1M96.7 189.2h1.1M112.6 191.7h1.1M79.8 182.8h1.1M104.7 188.1h1.1M72.9 186.7h1.1M107.8 190.4h1.1M85.4 189.5h1.1M120.6 191.3h1.1M114.7 192.1h1.1M90.3 188.8h1.1M106.7 189h1.1M92.5 186.1h1.1M80.4 185.9h1.1M72.8 185.6h1.1M92.6 182.5h1.1M102.4 190.4h1.1M100 188.3h1.1M79.9 187.6h1.1M123 192.8h1.1M84.4 182.8h1.1M91 189.2h1.1M83.2 189.5h1.1M108.3 189.4h1.1M94.9 188.1h1.1M106.4 188.5h1.1M113.5 188.6h1.1M87.7 187.9h1.1M60.1 191.9h1.1M117 190.6h1.1M95.1 188.5h1.1M111.6 190.2h1.1M78.4 183.5h1.1M72.9 188.4h1.1M84.8 189.4h1.1M126.4 192.2h1.1M124.2 192.1h1.1M120.2 191.8h1.1M110.1 190.8h1.1M65 190.5h1.1M103.2 189.6h1.1M112.9 193.2h1.1M87.2 186.5h1.1M63.1 192.2h1.1M109.8 191.6h1.1M117.9 193.5h1.1M114.3 190.8h1.1M79.6 189.6h1.1M63.3 190.8h1.1M76.3 187.2h1.1M111.1 193.6h1.1M108 192.6h1.1M119.6 189.5h1.1M86.4 185.7h1.1M82 183.9h1.1M91.4 186.3h1.1M63.4 189.8h1.1M96.5 191h1.1M102.6 190h1.1M82.5 185.7h1.1M98 184.9h1.1M111.8 190.7h1.1M70.8 188.3h1.1M88.5 186.1h1.1M102.5 189.8h1.1M59.6 192.8h1.1M124.6 189.9h1.1M78.5 189h1.1M81.4 185.9h1.1M122.4 191.1h1.1M92.3 187h1.1M75.4 185.8h1.1M115.6 191.5h1.1M90.3 189.3h1.1M65.6 189.3h1.1M78.8 186.8h1.1M70.8 188.1h1.1M97.4 190.3h1.1M67.5 187.8h1.1M125.9 192.6h1.1M101.9 191.3h1.1M95.1 185.5h1.1M81.6 180.7h1.1M80.8 185.1h1.1M91.4 187.1h1.1M99.3 190.9h1.1M126.8 193.1h1.1M106.2 192.3h1.1M72.2 187.8h1.1M122.7 192.2h1.1M97 186.3h1.1M74.3 184.6h1.1M61.7 191.9h1.1M98.1 187.5h1.1M101.9 192.1h1.1M119.9 193h1.1M107 193.1h1.1M61 191.3h1.1M73.9 185.3h1.1M75.9 184h1.1M125.8 193.2h1.1M125.4 191.1h1.1M77.5 187.2h1.1M117.3 191.6h1.1M66.3 190.1h1.1M120.9 190h1.1M74.5 189.7h1.1M109.9 189.6h1.1M120.1 191.7h1.1M118 189.1h1.1M122.4 191.6h1.1M96.5 187.5h1.1M102.1 192.5h1.1M75.7 189.6h1.1M107.3 191.3h1.1M120.4 191h1.1M69.5 189.5h1.1M101 192.3h1.1M78.6 183.3h1.1M88.9 185.2h1.1M64.7 190.5h1.1M105 191h1.1M91.8 185.3h1.1M70.5 186.7h1.1M98.2 190h1.1M98.9 188.6h1.1M110.9 189.8h1.1M76.7 183.8h1.1M116.3 192.7h1.1M125.3 191.4h1.1M88.3 184.6h1.1" stroke="#ff55ee" stroke-width="1.1" stroke-opacity="0.88" fill="none"/>
<path d="M37.7 181.9h1.1M26.3 189h1.1M32.2 189.7h1.1M38 183.2h1.1M26.7 189.5h1.1M28.6 190.8h1.1M37.6 186.8h1.1M41.8 188.2h1.1M49.8 187.6h1.1M46.7 192.9h1.1M46.6 182.8h1.1M49.1 184.6h1.1M33.6 187.3h1.1M26.7 192.5h1.1M45.6 185.7h1.1M35.4 189.6h1.1M31.4 188.8h1.1M42.6 180.5h1.1M34.6 189.6h1.1M43.9 192.3h1.1M45.9 185.7h1.1M37.2 190.9h1.1M29.4 191.4h1.1M44.2 189.7h1.1M29.6 189.5h1.1M31.1 192.9h1.1M27.1 192.1h1.1M48.8 185.4h1.1M48.1 192.5h1.1M39.3 183h1.1M49.6 188.1h1.1M36.4 188.3h1.1M44.1 187.1h1.1M43.6 192.1h1.1M35.2 185.4h1.1M36 186.6h1.1M48.4 186.7h1.1M31.5 186.4h1.1M44.4 182.6h1.1M34.3 186h1.1M28 192.9h1.1M46.2 190.9h1.1M30.8 191.1h1.1M40.1 191.6h1.1M33.5 190h1.1M26 190.6h1.1M32.5 189.3h1.1M49 175.6h1.1M43.1 179.5h1.1M42.7 176.4h1.1M40.4 178.6h1.1M55.9 195h1.1M64.2 188.7h1.1M60.9 196.6h1.1M60.8 190.9h1.1M58 191.3h1.1M59.9 200.8h1.1M64.2 188h1.1M68.3 191.5h1.1M72 187h1.1M54.1 195.7h1.1M53.2 195.2h1.1M59.2 194.3h1.1M61.9 185.7h1.1M60.3 184.6h1.1M57.5 194.8h1.1M65.4 191.8h1.1M65.2 188.1h1.1M61.1 191.8h1.1M69.4 186.6h1.1M64.4 195.6h1.1M65.2 190.7h1.1M60.4 195.3h1.1M59.5 195h1.1M55.7 196.8h1.1M66.4 187.1h1.1M61.7 192.6h1.1M71.3 194.5h1.1M70.9 191h1.1M60.2 192.7h1.1M71.3 196.7h1.1M58.8 196.9h1.1M61.7 189.9h1.1M61.3 190h1.1M62 193.3h1.1M68.8 189.5h1.1M60.3 193.3h1.1M69.6 188.2h1.1M64 186.7h1.1M58.9 198.1h1.1M94.7 187.1h1.1M72.4 184.7h1.1M83.1 188.4h1.1M101.2 185.7h1.1M73.5 188.3h1.1M104.5 190.8h1.1M115.2 190.8h1.1M101.4 187.5h1.1M74.5 183.1h1.1M90 185h1.1M97.9 186.2h1.1M93.1 187.7h1.1M124.4 193.4h1.1M117.9 190.8h1.1M123.7 192.8h1.1M125.9 191.5h1.1M116.2 190.8h1.1M114.6 190h1.1M104.1 188.9h1.1M69.2 189.2h1.1M88.7 180.6h1.1M124.2 191.4h1.1M115.1 190h1.1M114.7 193.6h1.1M86.8 181.9h1.1M61.5 192.2h1.1M90.9 184.7h1.1M66.8 190.4h1.1M108.4 193h1.1M91.1 186.5h1.1M93.8 183.2h1.1M114.9 193.2h1.1M108.6 188.4h1.1M89.9 182h1.1M103.3 189.7h1.1M93 187.7h1.1M118 190.3h1.1M123.9 192.2h1.1M70.6 186.8h1.1M124 191.3h1.1M96.9 192.1h1.1M63.2 192.3h1.1M85.3 189.7h1.1M82.2 188.8h1.1M97.5 190.1h1.1M77.7 185.3h1.1M75.3 185.8h1.1M120.9 190.9h1.1M95.4 189.4h1.1M118.8 193.5h1.1M87.5 189.9h1.1M95.5 185.6h1.1M119.8 192.5h1.1M99.1 186.7h1.1M105.8 187.6h1.1M123.5 191.1h1.1M102.5 191.5h1.1M90.8 191h1.1M80.4 180.8h1.1M63.3 191.4h1.1M96.7 190.5h1.1M106 190.8h1.1M86.4 189.8h1.1M79.3 188.4h1.1M99.7 191.5h1.1M99.6 189.9h1.1M114.5 192.7h1.1M81.6 183.5h1.1M86.1 186.8h1.1M103.4 189.8h1.1M113.2 193.1h1.1M110.7 192.7h1.1M80.1 187.7h1.1M73.2 188.1h1.1M124.5 193h1.1M104.6 188.9h1.1M124.8 190.9h1.1M112.2 188.1h1.1M104.6 191.1h1.1M126.8 189.6h1.1M71.9 188.3h1.1M76.7 186.5h1.1M79.9 184.5h1.1M125.2 191.1h1.1M92.5 186h1.1M61.7 189.6h1.1M72.2 188.7h1.1M69.3 187.5h1.1M110.6 191.1h1.1M102.7 189.3h1.1M86.4 183.7h1.1M68 189.2h1.1M95.5 186.2h1.1M114.2 193.3h1.1M60.9 192.4h1.1M125.9 190h1.1M121 190.9h1.1M89.6 188.5h1.1M72.9 187.5h1.1M73.6 185.8h1.1M80.9 187.7h1.1M96.5 183.9h1.1M71.3 185.4h1.1M72.2 185h1.1M86.5 181.8h1.1M102.9 188h1.1M65.2 191h1.1M105.6 191.3h1.1M111.7 189.2h1.1M105.1 190.7h1.1M89.4 185.6h1.1M99.4 190.7h1.1M89.3 185.8h1.1M66 187.8h1.1M77.5 183.7h1.1M118.1 189.2h1.1M71.8 188.5h1.1M83 185.9h1.1M122.7 193.2h1.1M93.9 188.5h1.1M95.8 187.3h1.1M105.8 187.8h1.1M101.6 188.9h1.1M124.9 190.9h1.1" stroke="#00a83c" stroke-width="1.1" stroke-opacity="0.88" fill="none"/>
<path d="M33.8 191.1h1.1M31.1 192.5h1.1M26.3 193.1h1.1M37.4 183.3h1.1M28.6 187.9h1.1M26.5 191.8h1.1M29.2 188.2h1.1M46.2 190.1h1.1M35.8 181.6h1.1M44.2 187.4h1.1M33.4 183.4h1.1M36.3 192.7h1.1M30.1 192.2h1.1M49.2 186.7h1.1M29.1 192.1h1.1M28.7 189.2h1.1M46.3 180.9h1.1M38.1 191.5h1.1M47.1 189h1.1M26.9 191.3h1.1M38.2 181.3h1.1M38.5 191.7h1.1M44.5 184.9h1.1M44.3 189.1h1.1M44.3 190.5h1.1M42.8 185.3h1.1M25.7 190.9h1.1M30.7 186.4h1.1M50.3 185.4h1.1M45.5 184.9h1.1M49.4 189.3h1.1M50.3 188.1h1.1M33.5 186.8h1.1M25.7 190h1.1M48.7 184.6h1.1M33.2 187.6h1.1M40.2 192.5h1.1M44.5 181.2h1.1M33.4 190.6h1.1M27 192.7h1.1M32.2 191.8h1.1M48.9 191.4h1.1M36 190.4h1.1M41.3 185.6h1.1M43 182h1.1M47.6 189.3h1.1M41.9 185.6h1.1M30.2 187.6h1.1M29.1 188.9h1.1M28.8 189.7h1.1M32.3 189.8h1.1M48.4 189.8h1.1M44.5 181.9h1.1M48.1 180.7h1.1M28.4 191.9h1.1M41.2 191.5h1.1M27.7 192h1.1M28.5 188.9h1.1M27.7 190.3h1.1M31.5 189.7h1.1M46.1 180.7h1.1M32.6 186.9h1.1M30.4 190.8h1.1M27.6 191.1h1.1M48.1 187.7h1.1M46.6 186.5h1.1M43.9 189.8h1.1M32.4 192h1.1M47.3 189h1.1M34.3 189.4h1.1M33.5 190.4h1.1M41.5 183.1h1.1M28.3 190.4h1.1M26.8 192h1.1M44.6 189.1h1.1M29 191h1.1M34.4 188.8h1.1M49.9 188.8h1.1M27.4 191.4h1.1M35.9 192.5h1.1M36.7 181.7h1.1M44.7 186.2h1.1M43.1 183.9h1.1M29 190.6h1.1M31.1 187.7h1.1M44.6 187.7h1.1M29.3 188h1.1M50.3 181.1h1.1M47.3 191h1.1M41.8 183.2h1.1M31.7 191.3h1.1M50.7 179.9h1.1M50.2 177.1h1.1M57.4 190.4h1.1M71.2 188.8h1.1M54.7 192.9h1.1M56.6 201.9h1.1M53.4 193.2h1.1M57.9 195.6h1.1M62.2 194.7h1.1M68.2 192.3h1.1M55.4 198.8h1.1M65.2 193.9h1.1M57.1 195.7h1.1M61.3 193h1.1M58.9 198.7h1.1M57.1 192.6h1.1M56.3 192.2h1.1M66.5 197.9h1.1M60.4 194.4h1.1M68.5 188.7h1.1M68.4 185h1.1M55.1 199.2h1.1M60.8 191.4h1.1M66.3 189.7h1.1M71.1 189.9h1.1M61.8 192.8h1.1M56.1 200.1h1.1M66.6 189.6h1.1M61.4 192.9h1.1M66.3 189.3h1.1M62.1 196.7h1.1M64.5 188.4h1.1M70.8 187.1h1.1M70.4 191.8h1.1M62 197.2h1.1M57.8 193.4h1.1M68.1 191.8h1.1M61.8 193h1.1M55.9 192.7h1.1M70 188.8h1.1M118.9 191.3h1.1M119.2 193.2h1.1M81.1 183.7h1.1M111 192.8h1.1M120.8 191.4h1.1M106 187.8h1.1M114.5 188.8h1.1M98.5 189.7h1.1M104.3 188.5h1.1M109.4 189.6h1.1M125.7 188.9h1.1M112.4 189h1.1M60.6 191.6h1.1M104.7 192.9h1.1M91.6 188.3h1.1M116.5 191.8h1.1M75.4 189.3h1.1M86.3 190.1h1.1M73.3 186.4h1.1M73.7 185h1.1M60.8 192.7h1.1M71.7 189.1h1.1M74.6 185.6h1.1M105.7 189.5h1.1M96.9 188.6h1.1M100.4 189.2h1.1M126.1 193.1h1.1M72 187.9h1.1M93.9 187.1h1.1M103.6 187h1.1M87.2 186.6h1.1M108.1 193.1h1.1M81.5 181.4h1.1M125.2 193.3h1.1M107.1 192.2h1.1M81.5 183.9h1.1M74.2 185.1h1.1M99.4 189.1h1.1M111.3 191.1h1.1M107.9 191.5h1.1M117.6 190.6h1.1M112 193.2h1.1M94.8 188.1h1.1M81.5 188.1h1.1M80.2 186.2h1.1M106.2 187.7h1.1M94.5 186.6h1.1M112.6 191.4h1.1M81.2 182.8h1.1M78.7 182.2h1.1M86.2 185.2h1.1M121.4 192.1h1.1M86.9 181.4h1.1M103.2 189.9h1.1M120 191.8h1.1M119.2 189.4h1.1M118.2 190.3h1.1M89.9 190.3h1.1M78.2 185.4h1.1M109.3 191.7h1.1M100.8 191.2h1.1M61.3 190.3h1.1M125.4 191.7h1.1M99.4 189h1.1M79.3 188.2h1.1M110.8 191.6h1.1M98.8 186.6h1.1M98.2 186.7h1.1M86.8 189.6h1.1M117.3 190.5h1.1M92 186.4h1.1M88.7 183.7h1.1M75.6 186.4h1.1M104.7 190.9h1.1M69.3 188.2h1.1M66.5 189.2h1.1M88.5 184.8h1.1M117.9 193.1h1.1M91.4 189.5h1.1M76.9 181.9h1.1M77.1 185h1.1M96.7 185.1h1.1M63.3 191.3h1.1M69.8 189.6h1.1M70.1 187.8h1.1M121.2 193h1.1M75.2 188.2h1.1M80.8 183.2h1.1M92.2 189.3h1.1M113.5 190.5h1.1M82 180.2h1.1M86.3 188.3h1.1M71.5 189.5h1.1M96.7 189.2h1.1M98.5 184.7h1.1M113.5 193.2h1.1M74.9 185.2h1.1M114.7 192.1h1.1M78.6 181.2h1.1M124.8 193.2h1.1M74.3 184.4h1.1M105.5 193h1.1M80.4 189.2h1.1M76.8 185.9h1.1M69.4 187.9h1.1M87.4 182.9h1.1M67.6 189h1.1M111.4 190.6h1.1M86.6 188.8h1.1M102.4 187.8h1.1M86.9 181.9h1.1M72.6 184.6h1.1M105.6 189.9h1.1M72.1 187.2h1.1M92 184.9h1.1M80.9 188.5h1.1M73 186.1h1.1M126.7 193.1h1.1M97.6 189.7h1.1M110 188.4h1.1M74.8 187.1h1.1M81.5 185.2h1.1M75.7 189.8h1.1M84.8 182h1.1M78 182.9h1.1M74.4 187.3h1.1M117.7 193h1.1M96.5 184.5h1.1M102.4 191.4h1.1M91.5 183.2h1.1M104.1 186.9h1.1M99 190.8h1.1M77.4 182.5h1.1M105.5 191.5h1.1M116.4 190.6h1.1M65.3 190.5h1.1M107 188.4h1.1M76.8 184.3h1.1M76.2 186.8h1.1M103.9 187.4h1.1M117.5 193.2h1.1M67.8 190.4h1.1M98.9 187.7h1.1M105.4 192.2h1.1M83.4 180.6h1.1M78 188.8h1.1M107.5 191.5h1.1M90.1 183.9h1.1M97.2 191.5h1.1M105.4 192.7h1.1M75.5 184.4h1.1M80.7 184.3h1.1M108.2 190h1.1M67.9 188.3h1.1M85.2 185.9h1.1M95.4 190.7h1.1M113.8 190h1.1M101.5 186.2h1.1M94 190.9h1.1M90.8 186h1.1M116.1 189.9h1.1M89.2 191h1.1M63.7 190.6h1.1M73.2 187.3h1.1M91.7 189.6h1.1M86.5 183.3h1.1M104.8 188.9h1.1M117.7 192.6h1.1M121.6 191.7h1.1M121.7 193.3h1.1M70.9 189.2h1.1M75.2 187.9h1.1M93.3 188.3h1.1M84.4 185.6h1.1M120.1 191h1.1M69.8 187h1.1M124.4 192.9h1.1M83.7 189.3h1.1M71.5 189.5h1.1M73.2 185.4h1.1M109.2 189.6h1.1M106.5 188.2h1.1M86 190.7h1.1M84 181.5h1.1M60.7 190.8h1.1M117.2 192.5h1.1M115.4 190.4h1.1M90.8 182.2h1.1M98 186.8h1.1M85.1 183.4h1.1M120.9 188.6h1.1M96.2 183.7h1.1M77 186.1h1.1M108.9 193.2h1.1M63.1 192.3h1.1M86.1 185.3h1.1M102.2 189.8h1.1M84.7 187.6h1.1M110.2 193.3h1.1M92.7 185.8h1.1M126.7 191.6h1.1M85.9 180.7h1.1M86.4 183.4h1.1M72.7 188.3h1.1M107.4 191.9h1.1M91.2 186.1h1.1M113.8 190.2h1.1" stroke="#ff1010" stroke-width="1.1" stroke-opacity="0.88" fill="none"/>
<path d="M41 189h1.1M29.9 187.1h1.1M46.4 191.8h1.1M26.6 189.2h1.1M36 185h1.1M26.6 188.6h1.1M42.2 185.1h1.1M27.1 192.6h1.1M44.2 188.4h1.1M48.6 191h1.1M38.2 190.7h1.1M26.4 192.8h1.1M48.5 183.6h1.1M29.9 192.4h1.1M28.3 188.6h1.1M40.1 187h1.1M41.1 191.7h1.1M32.2 192.2h1.1M40.9 187.4h1.1M31.6 190.3h1.1M48.6 193.1h1.1M45.9 187.4h1.1M36 188h1.1M30.6 192.1h1.1M26.1 189.4h1.1M35.4 187.2h1.1M33.6 190.1h1.1M48.7 193h1.1M44.7 184.6h1.1M43.4 187.1h1.1M25.8 190.8h1.1M39.7 191.8h1.1M30.6 187.8h1.1M45.2 185.9h1.1M31.6 189.2h1.1M29.6 187.9h1.1M44.3 180.5h1.1M26.2 189.2h1.1M45.4 190.9h1.1M37.2 192.1h1.1M41.5 183.2h1.1M44.6 183.3h1.1M44.3 187.1h1.1M45.9 187.3h1.1M31.8 185.3h1.1M44.5 187.6h1.1M38.7 187.8h1.1M40.9 182.3h1.1M26.2 190.6h1.1M49.7 189.4h1.1M33.8 188.7h1.1M44.1 192.8h1.1M49.5 185.8h1.1M45 191.2h1.1M39.1 185.9h1.1M30.3 190.2h1.1M37.8 182h1.1M28.7 190.1h1.1M32.7 189.3h1.1M28 191.1h1.1M49 192h1.1M42.2 187.6h1.1M29.2 189h1.1M31.9 192.7h1.1M30.4 191.6h1.1M40.7 191.6h1.1M31.9 188.8h1.1M38.2 190.5h1.1M37.1 188.3h1.1M45.1 182.6h1.1M28.2 189.2h1.1M45.1 186.1h1.1M40.6 181.1h1.1M25.6 192.4h1.1M33.9 188.3h1.1M27.3 188.2h1.1M26.9 192.1h1.1M38.9 190.1h1.1M42.6 184.6h1.1M25.9 190.8h1.1M45.5 187.8h1.1M49.6 187.2h1.1M44 193h1.1M48 188.9h1.1M44 192.1h1.1M41.1 186.4h1.1M27.2 189.5h1.1M30.2 190.6h1.1M29.6 193h1.1M31.3 192.9h1.1M38.2 187.4h1.1M37.7 190.7h1.1M33.6 187.3h1.1M46.2 188.2h1.1M26.3 188.9h1.1M46.4 188.2h1.1M31.3 188.3h1.1M26.6 190.9h1.1M29.2 189h1.1M39.3 189.4h1.1M42.1 185.4h1.1M36.5 188.7h1.1M44.3 190.1h1.1M50.3 192.3h1.1M61.1 190.7h1.1M71.9 192.3h1.1M55.8 195.3h1.1M56.9 196.7h1.1M64.7 188.4h1.1M54.2 196.6h1.1M68 191.7h1.1M55.1 198h1.1M70.4 187.6h1.1M59.3 188.2h1.1M72.3 194.9h1.1M60.2 189.9h1.1M71.9 190.1h1.1M61.7 195.6h1.1M65 190.5h1.1M56.3 192.1h1.1M59.5 195h1.1M59 192.5h1.1M70.1 193.7h1.1M72.1 187.5h1.1M69.3 193.3h1.1M126.2 190.2h1.1M99.7 186.6h1.1M85.9 188h1.1M72.9 185.4h1.1M73.6 188.2h1.1M84.9 187.5h1.1M126.6 189.9h1.1M111.6 191.9h1.1M62.2 191.5h1.1M102 191.3h1.1M85.7 182.6h1.1M101.9 187.1h1.1M99.9 187.6h1.1M89.9 190.2h1.1M98.8 188.4h1.1M93.5 191.8h1.1M69.9 185.4h1.1M72 185.2h1.1M98.8 191.4h1.1M105.3 188.2h1.1M77.6 189.1h1.1M86.8 190.7h1.1M63.2 191h1.1M60.9 193.1h1.1M91.4 189.5h1.1M78.3 187.7h1.1M74 184.5h1.1M89.5 188.8h1.1M82.5 186.9h1.1M100.1 191.3h1.1M61.8 190h1.1M99.5 187.1h1.1M62.9 191.6h1.1M98.9 188.7h1.1M98.5 187.5h1.1M70.2 186.5h1.1M103.7 187.2h1.1M111.2 188.6h1.1M93.9 189.6h1.1M96 191.8h1.1M59.8 192.5h1.1M97.6 188.1h1.1M85.9 183.5h1.1M125.7 188.5h1.1M71.5 187.8h1.1M108.9 188.2h1.1M88.3 187.8h1.1M125 191h1.1M103.5 188.7h1.1M126.9 190.3h1.1M78.4 186.8h1.1M81.1 184h1.1M74.6 185.8h1.1M120.8 193.3h1.1M60.9 190h1.1M118.2 192.6h1.1M108.6 192.9h1.1M111.7 193.6h1.1M68.3 188.4h1.1M113.7 189.8h1.1M112.1 192.6h1.1M73.1 187.8h1.1M86.6 188.8h1.1M120.2 193.1h1.1M66.2 190.7h1.1M60.8 191.7h1.1M72.1 185.8h1.1M59.6 193.1h1.1M75 188.5h1.1M125 193.2h1.1M71.6 187.6h1.1M71.2 187.6h1.1M103.6 190.8h1.1M97.3 189.1h1.1M78.6 186.2h1.1M75.3 185.7h1.1M95 190h1.1M94.2 190.2h1.1M124.6 188.8h1.1M79.5 185.6h1.1M106.2 190h1.1M101.4 190.2h1.1M96.4 188.1h1.1M101.1 190h1.1M96.2 190.6h1.1M123.3 191.6h1.1M93.7 183h1.1M108.1 190.9h1.1M106.2 191.3h1.1M91.9 191.1h1.1M113.2 192.1h1.1M100.7 188.9h1.1M91 190.5h1.1M105.4 188.5h1.1M63 192.2h1.1M80.5 188h1.1M82.9 183.7h1.1M123.4 189.5h1.1M84.3 186.8h1.1M100 191.4h1.1M118.8 193h1.1M106.3 190.6h1.1M80.2 182.3h1.1M90.2 183.6h1.1M115.3 193.4h1.1M125.4 190.2h1.1M82.4 188.9h1.1M84.4 185.2h1.1M88 184.9h1.1M122.4 192.6h1.1M103.8 190.5h1.1M81.2 183.4h1.1M79.4 183.4h1.1M77.9 184.7h1.1M126.2 190.1h1.1M99.4 189.8h1.1M69.2 188.1h1.1M126.7 189.3h1.1M100.4 188.6h1.1M103.8 189.2h1.1M72 189.5h1.1M76.6 188.6h1.1M102.7 188.1h1.1M97.3 185.5h1.1M95.8 188.9h1.1M71.1 187.9h1.1M99.9 190.3h1.1M113.1 190.3h1.1M122 193.1h1.1M125.4 193h1.1M90.1 189.2h1.1M72.5 187h1.1M106.2 188.5h1.1M113.4 188.5h1.1M88.2 188.6h1.1M123 192.1h1.1M70.6 185.3h1.1M93.7 184.8h1.1M113.4 190.6h1.1M110.6 192.9h1.1M67.5 189.7h1.1M72.1 185.9h1.1M93.2 185.2h1.1M110.8 192.3h1.1M96.8 188.8h1.1M97.9 188.1h1.1M117.8 192h1.1M114.4 189.9h1.1M74.7 187.2h1.1M124.2 193.1h1.1M78.5 189h1.1M93.4 190.8h1.1M100.5 186.5h1.1M88.9 186.6h1.1M109.9 190.3h1.1M85.2 184.7h1.1M120.1 189.4h1.1M126.2 189.9h1.1M125.7 190.7h1.1M107.1 189.4h1.1M79.4 182.4h1.1M105.4 188.8h1.1M84.3 186h1.1M123.1 192.8h1.1M110.5 190.9h1.1M78.3 184.7h1.1M100 188.9h1.1M111.6 189.2h1.1M76.5 188.2h1.1M86.3 184.5h1.1M69.6 188.9h1.1M74.9 188.7h1.1M79.7 185.9h1.1M100.6 187.8h1.1M86.5 185h1.1M122 192.2h1.1M81.1 186.1h1.1M64.3 188.5h1.1M107 190.1h1.1M123.8 191.5h1.1M71 187.1h1.1M102.2 189h1.1M87 180.4h1.1M93.7 184.8h1.1M123.9 192h1.1M105.3 192.5h1.1M93.2 190.4h1.1M100.6 189.3h1.1M119.1 193h1.1M91.9 189.7h1.1M75.6 183.3h1.1M63.3 189.7h1.1M107.5 190.7h1.1M84.3 180.6h1.1M115.3 193.6h1.1M87.4 187.1h1.1M67.9 188h1.1M119.4 193.3h1.1M99.7 189.6h1.1M113.6 189.4h1.1M59.8 191.3h1.1M86 184.8h1.1M76 188h1.1M99 191.5h1.1M94.5 184.8h1.1M82.3 180.8h1.1M76.1 184.1h1.1M104.1 191.1h1.1M74.7 186.9h1.1M106.7 191.1h1.1M67.6 187.5h1.1M88 182.1h1.1M124.5 192.2h1.1M73.2 189.3h1.1M80 189.1h1.1M75.3 184.8h1.1M59.8 190.4h1.1M104.5 190.9h1.1M88.9 188h1.1M121.9 193.5h1.1M89.8 188.9h1.1M91 183.5h1.1M116.7 191.5h1.1M62.8 189.8h1.1M81.1 185.6h1.1M75.8 188.9h1.1M114.7 192.8h1.1M87.4 187.6h1.1M70.6 189.1h1.1M91.6 186.9h1.1M86 185.5h1.1M91.9 181.7h1.1M98.6 191h1.1M100.8 187.1h1.1M75.9 189h1.1M115.2 189.6h1.1M114.3 188.9h1.1M92.8 185.8h1.1M125.1 192.7h1.1M82.2 186.6h1.1M67.9 188.7h1.1M126.2 193.1h1.1M71.2 186.9h1.1M78.6 183.1h1.1M66 190.9h1.1M80.1 187.2h1.1M116.5 193.1h1.1M101.5 187.9h1.1M103.9 192.8h1.1M81.5 183.7h1.1M119.5 190.4h1.1M68.7 190.1h1.1M73.4 186.9h1.1M112.7 190.7h1.1M87.6 190.7h1.1M79.9 187h1.1M70.9 189.4h1.1M60.5 191.1h1.1M73.7 185.4h1.1M112.1 190.1h1.1M125.3 190.6h1.1M78.9 182.7h1.1M81 187.5h1.1M111.1 189.9h1.1M121.9 191.3h1.1M105.6 189.7h1.1M101.5 188h1.1M102.4 189.5h1.1M103.2 188h1.1M108.6 191.5h1.1M60.8 193.1h1.1M59.8 190.4h1.1M106 189.2h1.1M126.7 193.1h1.1M85.3 188.7h1.1M116 191.2h1.1M78.5 189.9h1.1M80.1 185h1.1M123.6 190.5h1.1M92.4 179.6h1.1M87.5 177.3h1.1M88.5 178.4h1.1M94.7 179.8h1.1M84.9 178.5h1.1M75 177.5h1.1M86.4 180.5h1.1M86 179.9h1.1M80.7 178.3h1.1M88.6 178h1.1M86.5 177.2h1.1M88 178.2h1.1" stroke="#2424ff" stroke-width="1.1" stroke-opacity="0.88" fill="none"/>
<path d="M201 169V230.6M201 184.4H293" stroke="#606060" stroke-width=".6" fill="none"/>
<text x="198.8" y="232" font-size="3.8" text-anchor="end" font-family="Liberation Sans,sans-serif" fill="#000">-300</text>
<text x="198.8" y="224.3" font-size="3.8" text-anchor="end" font-family="Liberation Sans,sans-serif" fill="#000">-250</text>
<text x="198.8" y="216.6" font-size="3.8" text-anchor="end" font-family="Liberation Sans,sans-serif" fill="#000">-200</text>
<text x="198.8" y="208.9" font-size="3.8" text-anchor="end" font-family="Liberation Sans,sans-serif" fill="#000">-150</text>
<text x="198.8" y="201.2" font-size="3.8" text-anchor="end" font-family="Liberation Sans,sans-serif" fill="#000">-100</text>
<text x="198.8" y="193.5" font-size="3.8" text-anchor="end" font-family="Liberation Sans,sans-serif" fill="#000">-50</text>
<text x="198.8" y="185.8" font-size="3.8" text-anchor="end" font-family="Liberation Sans,sans-serif" fill="#000">0</text>
<text x="198.8" y="178.1" font-size="3.8" text-anchor="end" font-family="Liberation Sans,sans-serif" fill="#000">50</text>
<text x="198.8" y="170.4" font-size="3.8" text-anchor="end" font-family="Liberation Sans,sans-serif" fill="#000">100</text>
<text x="201" y="190" font-size="3.8" text-anchor="middle" font-family="Liberation Sans,sans-serif" fill="#000">0</text>
<text x="219.4" y="190" font-size="3.8" text-anchor="middle" font-family="Liberation Sans,sans-serif" fill="#000">200</text>
<text x="237.8" y="190" font-size="3.8" text-anchor="middle" font-family="Liberation Sans,sans-serif" fill="#000">400</text>
<text x="256.2" y="190" font-size="3.8" text-anchor="middle" font-family="Liberation Sans,sans-serif" fill="#000">600</text>
<text x="274.6" y="190" font-size="3.8" text-anchor="middle" font-family="Liberation Sans,sans-serif" fill="#000">800</text>
<text x="293" y="190" font-size="3.8" text-anchor="middle" font-family="Liberation Sans,sans-serif" fill="#000">1000</text>
<path d="M201.4 230.6h-1.2M201.4 222.9h-1.2M201.4 215.2h-1.2M201.4 207.5h-1.2M201.4 199.8h-1.2M201.4 192.1h-1.2M201.4 184.4h-1.2M201.4 176.7h-1.2M201.4 169h-1.2M201 184v1.2M219.4 184v1.2M237.8 184v1.2M256.2 184v1.2M274.6 184v1.2M293 184v1.2" stroke="#606060" stroke-width=".5" fill="none"/>
<text x="244.8" y="235.3" font-size="4.2" text-anchor="middle" font-family="Liberation Serif,serif" font-weight="bold" fill="#000">Lateral distance (mm)</text>
<text transform="translate(189.3 199.8) rotate(-90)" font-size="4.2" text-anchor="middle" font-family="Liberation Serif,serif" font-weight="bold">Depth (mm)</text>
<path d="M201 192.4L203.3 192.4L205.6 192.4L207.9 192.4L210.2 192.4L212.5 192.4L214.8 192.4L217.1 192.4L219.4 192.4L221.7 192.4L224 192.4L226.3 192.4L228.6 192.4L230.9 192.4L233.2 192.4L235.5 192.4L237.8 192.4L240.1 192.4L242.4 192.4L244.7 192.4L247 192.4L249.3 192.4L251.6 192.4L253.9 192.4L256.2 192.4L258.5 192.4L260.8 192.4L263.1 192.4L265.4 192.4L267.7 192.4L270 192.4L272.3 192.4L274.6 192.4L276.9 192.4L279.2 192.4L281.5 192.4L283.8 192.4L286.1 192.4L288.4 192.4L290.7 192.4L293 192.4L293 200.4L290.7 200.4L288.4 200.4L286.1 200.4L283.8 200.4L281.5 200.4L279.2 200.4L276.9 200.4L274.6 200.4L272.3 200.4L270 200.4L267.7 200.4L265.4 200.4L263.1 200.4L260.8 200.4L258.5 200.4L256.2 200.4L253.9 200.4L251.6 200.4L249.3 200.4L247 200.4L244.7 200.4L242.4 200.4L240.1 200.4L237.8 200.4L235.5 200.4L233.2 200.4L230.9 200.4L228.6 200.4L226.3 200.4L224 200.4L221.7 200.4L219.4 200.4L217.1 200.4L214.8 200.4L212.5 200.4L210.2 200.4L207.9 200.4L205.6 200.4L203.3 200.4L201 200.4z" fill="#3420d0" fill-opacity="1"/>
<path d="M231.8 193.4L232.7 193L233.6 192.6L234.5 192.2L235.4 191.8L236.3 191.4L237.2 191L238.1 190.6L238.9 190.2L239.8 189.8L240.7 189.4L241.6 189L242.5 188.6L243.4 188.2L244.3 187.8L245.2 187.4L246.1 187L247 186.6L247.8 186.2L248.7 185.8L249.6 185.4L250.5 185L251.4 184.6L252.3 184.2L253.2 183.8L254.1 183.6L255 184.2L255.9 184.7L256.7 185.3L257.6 185.9L258.5 186.5L259.4 187L260.3 187.6L261.2 188.2L262.1 188.8L263 189.3L263.9 189.9L264.8 190.5L265.6 191.1L266.5 191.7L267.4 192.2L267.4 192.4L266.5 192.4L265.6 192.4L264.8 192.4L263.9 192.4L263 192.4L262.1 192.4L261.2 192.4L260.3 192.4L259.4 192.4L258.5 192.4L257.6 192.4L256.7 192.4L255.9 192.4L255 192.4L254.1 192.4L253.2 192.4L252.3 192.4L251.4 192.4L250.5 192.4L249.6 192.4L248.7 192.4L247.8 192.4L247 192.4L246.1 192.4L245.2 192.4L244.3 192.4L243.4 192.4L242.5 192.4L241.6 192.4L240.7 192.4L239.8 192.4L238.9 192.4L238.1 192.4L237.2 192.4L236.3 192.4L235.4 192.4L234.5 192.4L233.6 192.4L232.7 192.4L231.8 192.4z" fill="#7030b8" fill-opacity="0.65"/>
<path d="M210.9 188.4L211.4 187.2L211.9 186.1L212.3 184.9L212.8 183.8L213.3 182.7L213.8 181.5L214.2 180.4L214.7 179.3L215.2 179L215.6 179L216.1 179L216.6 179L217 179L217.5 179L218 179L218.4 179L218.9 179L219.4 179L219.9 179L220.3 179L220.8 179L221.3 179.7L221.7 180.5L222.2 181.2L222.7 181.9L223.1 182.6L223.6 183.3L224.1 184.1L224.5 184.8L225 185.5L225.5 186.2L226 186.9L226.4 187.7L226.9 188.4L227.4 189.1L227.8 189.8L228.3 190.5L228.8 191.3L229.2 192L229.7 192.7L229.7 192.4L229.2 192.4L228.8 192.4L228.3 192.4L227.8 192.4L227.4 192.4L226.9 192.4L226.4 192.4L226 192.4L225.5 192.4L225 192.4L224.5 192.4L224.1 192.4L223.6 192.4L223.1 192.4L222.7 192.4L222.2 192.4L221.7 192.4L221.3 192.4L220.8 192.4L220.3 192.4L219.9 192.4L219.4 192.4L218.9 192.4L218.4 192.4L218 192.4L217.5 192.4L217 192.4L216.6 192.4L216.1 192.4L215.6 192.4L215.2 192.4L214.7 192.2L214.2 191.5L213.8 190.8L213.3 190.1L212.8 189.5L212.3 188.8L211.9 188.1L211.4 187.4L210.9 186.7z" fill="#6a38c8" fill-opacity="0.7"/>
<path d="M228.6 200.4L228.9 200.4L229.2 200.4L229.4 200.4L229.7 200.4L230 200.4L230.3 200.4L230.5 200.4L230.8 200.4L231.1 200.4L231.4 200.4L231.6 200.4L231.9 200.4L232.2 200.4L232.5 200.4L232.7 200.4L233 200.4L233.3 200.4L233.6 200.4L233.8 200.4L234.1 200.4L234.4 200.4L234.7 200.4L234.9 200.4L235.2 200.4L235.5 200.4L235.8 200.4L236.1 200.4L236.3 200.4L236.6 200.4L236.9 200.4L237.2 200.4L237.4 200.4L237.7 200.4L238 200.4L238.3 200.4L238.5 200.4L238.8 200.4L239.1 200.4L239.4 200.4L239.6 200.4L239.6 200.4L239.4 201.2L239.1 201.9L238.8 202.6L238.5 203.4L238.3 204.1L238 204.9L237.7 205.6L237.4 206.3L237.2 207.1L236.9 207.8L236.6 208.5L236.3 209.3L236.1 210L235.8 210.8L235.5 211.5L235.2 211.1L234.9 210.6L234.7 210.2L234.4 209.7L234.1 209.3L233.8 208.8L233.6 208.4L233.3 208L233 207.5L232.7 207.1L232.5 206.6L232.2 206.2L231.9 205.7L231.6 205.3L231.4 204.9L231.1 204.4L230.8 204L230.5 203.5L230.3 203.1L230 202.6L229.7 202.2L229.4 201.7L229.2 201.3L228.9 200.9L228.6 200.4z" fill="#a040a0" fill-opacity="0.7"/>
<path d="M212.5 188.7h1.8M222.2 187.5h1.8M223.5 186.5h1.8M214.4 192.6h1.8M226.1 187.9h1.8M216.6 187.8h1.8M227.8 192.1h1.8M228.9 191.5h1.8M228.4 193.1h1.8M224.4 193.2h1.8M229.2 193.4h1.8M228.4 191.9h1.8M227.7 190.9h1.8M224.2 186.3h1.8M223.2 187.4h1.8M209.6 187.4h1.8M220.8 181.7h1.8M218 177.7h1.8M212.3 188.1h1.8M224.1 184.4h1.8M215.4 190.7h1.8M219.1 180h1.8M222.9 185.9h1.8M211 188.2h1.8M214.5 192.1h1.8M226.8 189.9h1.8M221.1 193.3h1.8M217.5 193.5h1.8M227.6 192.6h1.8M225 189h1.8M220.5 184.8h1.8M219.1 187.6h1.8M223.1 189h1.8M212 183.1h1.8M212.3 188.6h1.8M223.5 184.8h1.8M209.3 188h1.8M216.4 184.5h1.8M212.2 188.8h1.8M209.7 187.5h1.8M237 205.6h1.8M227.8 199.9h1.8M230.1 204.7h1.8M232.2 204.2h1.8M229.9 203.6h1.8M234.1 203h1.8M238.7 201.4h1.8M231.8 204.6h1.8M233 204.8h1.8M238.6 200.6h1.8M234.1 208h1.8M235.7 201.4h1.8M237.6 200.8h1.8M230.2 199.9h1.8M231.7 206.3h1.8M262 198.4h1.8M235.4 197.6h1.8M238.4 197.4h1.8M240.9 197.4h1.8M287.4 198.1h1.8M269.8 199h1.8M282.6 192.5h1.8M228.8 197h1.8M248.6 199.7h1.8M251.1 192.1h1.8M210.2 196.6h1.8M235.7 198h1.8M208 197.6h1.8M283.4 194.9h1.8M233.6 195.7h1.8M239.4 196.8h1.8M251.4 193.7h1.8M272.8 192.6h1.8M205.4 195.8h1.8M205 193.8h1.8M209.1 199.7h1.8M209.2 198.5h1.8M237 192h1.8M269.5 195.1h1.8M221.1 192.6h1.8M234.6 195.1h1.8M291.1 194.7h1.8M255.6 199.6h1.8M260 194.4h1.8M256 196.3h1.8M241.9 197.7h1.8M238.2 197.8h1.8M210.4 196.2h1.8M280.4 195.3h1.8M287.1 195.6h1.8M205 198.3h1.8M264.7 194.7h1.8M241.6 195.5h1.8M204.1 195.7h1.8M221.7 200.9h1.8M281 200.8h1.8M269.8 192.5h1.8M209.4 194h1.8M248.9 196.1h1.8M289.2 192.9h1.8M249.7 192.9h1.8M210.2 196.8h1.8M268.5 195h1.8M238.6 193.9h1.8M249.7 192.2h1.8M277.9 196.5h1.8M282.4 197.2h1.8M246.9 194.8h1.8M282.4 192.4h1.8M204.2 199.5h1.8M267.4 198.2h1.8M235.2 197.3h1.8M236.5 194.1h1.8M242.9 194.8h1.8M239.2 198.8h1.8M247.9 195.4h1.8M216 198.2h1.8M212.6 192.5h1.8M281.1 199h1.8M277.4 195.7h1.8M244.4 199.6h1.8M285.6 193.8h1.8M266.1 195.7h1.8M203 194.6h1.8M240.2 195.4h1.8M236.9 196.2h1.8M275.7 200.5h1.8M232.6 197.1h1.8M202.7 198.5h1.8M278.7 195.5h1.8M224.6 195.4h1.8M279.3 197.1h1.8M261.5 197.2h1.8M283 195.2h1.8M218.6 197.9h1.8M287.6 192.3h1.8M206.5 199.4h1.8M210.7 200.4h1.8M241.5 195.5h1.8M242.7 193.1h1.8M205.8 200.4h1.8M246.1 195.3h1.8M259.3 199.4h1.8M283.7 196.1h1.8M221.8 192.4h1.8M231 193.4h1.8M207.1 192.3h1.8M274.5 193.9h1.8M290.3 197.6h1.8M281.9 195.5h1.8M272.1 199.7h1.8M252.3 192.9h1.8M276.1 199.4h1.8M213.6 193.2h1.8M242.9 200.3h1.8M230.3 192.6h1.8M235.5 200.6h1.8M216.7 200.3h1.8M287.5 198.9h1.8M290.6 196.1h1.8M261.1 195h1.8M243.5 196.6h1.8M268.3 193.2h1.8M226.1 194.3h1.8M272.7 197.7h1.8M268.2 193.4h1.8M288.5 197.9h1.8M249.2 197.3h1.8M209.5 194.9h1.8M268.1 195.7h1.8M259.4 199h1.8M272.6 193h1.8M254.3 193.3h1.8M276.4 196.2h1.8M233.4 196.6h1.8M230.1 195.9h1.8M281.4 198.9h1.8M238.2 196.7h1.8M231.1 196.1h1.8M275.2 199.5h1.8M240.9 199.7h1.8M240.7 198.1h1.8M242.3 200h1.8M240.7 200.5h1.8M239 195.2h1.8M208.9 196.3h1.8M274.6 194.6h1.8M230.5 194.2h1.8M229.5 200.3h1.8M263.7 200.9h1.8M216.3 194.2h1.8M224.5 195h1.8M262.9 197.4h1.8M221.5 196.8h1.8M283.5 195.8h1.8M288.3 192.7h1.8M255.7 195.4h1.8M233.5 192.5h1.8M205.8 199.3h1.8M259.4 195.9h1.8" stroke="#000000" stroke-width=".8" stroke-opacity="0.6" fill="none"/>
<path d="M218.8 190.4h1M215.7 185.6h1M225.7 190.3h1M229.2 191.5h1M220 178.3h1M216.5 177.8h1M223.6 192.1h1M219.3 190.1h1M229.5 193.3h1M228.5 191.5h1M213.5 191.7h1M221.4 190.7h1M214.2 187.4h1M213.2 190.3h1M216.1 192.1h1M210 187.9h1M227.9 192.7h1M221.1 182h1M213.1 189.3h1M218.4 181.6h1M225.3 191.3h1M219.4 189.3h1M229.3 192.2h1M209.9 187.4h1M223.1 190.6h1M216.4 187.3h1M219 179.2h1M229.8 192.7h1M225.7 189.3h1M209.7 187.8h1M219.8 182.9h1M210 186.6h1M212.3 184.6h1M215.8 180.4h1M228.1 192.8h1M213.4 189.2h1M229.2 192.9h1M218.6 193.2h1M217.5 188.5h1M209.7 188h1M224.7 187.9h1M225.8 190.8h1M218 190.1h1M211.2 188h1M211.7 186.8h1M211.8 185.8h1M224.7 192.4h1M216 184.2h1M213.1 181h1M227.5 189.4h1M215.3 178.8h1M224.8 189.1h1M210.5 187.1h1M218.3 189.7h1M220.8 183.2h1M216 183.6h1M209.7 188.3h1M229.7 193.6h1M224.3 185.6h1M212.9 186.9h1M212.6 183.3h1M221.6 187.6h1M225.7 190.9h1M211.3 185h1M228.3 191.9h1M210.5 187.1h1M212 189.4h1M215.2 192.2h1M228.3 191.6h1M230.5 203.7h1M233.2 201.8h1M229.3 202.2h1M234 204.5h1M236.6 204.4h1M238.1 202.7h1M238.8 201.1h1M233.9 199.7h1M237.1 206.5h1M229 199.8h1M232 206.1h1M231.3 206.6h1M233.8 208.4h1M231 206h1M233.5 203.6h1M235.2 203.6h1M237.5 203h1M230.8 203.1h1M230.1 204.3h1M231.1 201.6h1M239 201.5h1M238 201.5h1M229.8 203.5h1M237.1 203.6h1M230 203.3h1M233 209.6h1M236.3 202.8h1M231.8 207.6h1M230.4 204.2h1M237.4 202h1M238.3 202.6h1M238.8 202.1h1M229.8 204.5h1M238 203.8h1M236.3 200.7h1M228.5 199.9h1M236.5 203.8h1M235.7 208.9h1M238.1 204.1h1M234.9 202.4h1M233.3 202h1M232.9 207.8h1M229.2 202.8h1M236.7 206h1M234.2 210.2h1M231.8 202.8h1M236.2 209.9h1M232.5 208.2h1M237.6 200.9h1M230.2 202.4h1M231.7 205.8h1M232.7 203.8h1M232.8 209h1M232.2 205.2h1M228.6 201.7h1M231.5 202.8h1M231.9 204.5h1M234.1 202.8h1M236.4 200.7h1M232.7 209.2h1M234.8 210.9h1M228.6 199.9h1M229.6 204.1h1M228.4 202.2h1M237.6 199.9h1M229.3 200.8h1M236.7 204h1M236.8 212.9h1M250.2 198.6h1M224.7 197h1M283.1 197.5h1M275 196.6h1M253.3 193.1h1M238.9 199.8h1M215.1 194.3h1M250.7 199h1M249.8 192.1h1M237.5 200.5h1M264.3 198h1M224.9 198.5h1M259.9 192.1h1M273.2 198h1M289.8 195.5h1M219.1 199.2h1M234.7 193.3h1M244.5 199.3h1M265.6 196.5h1M216.5 192h1M224.2 194.9h1M210.5 198.6h1M227.6 192.5h1M269.8 197.5h1M258.8 199.3h1M277.6 197.3h1M261.4 192.3h1M218.6 193.1h1M260.6 195.1h1M229 194.1h1M207 195.5h1M281.9 199.7h1M284.2 198.5h1M238.2 193.9h1M265.9 199.4h1M217.3 196.5h1M230.3 200.8h1M287.8 200.6h1M222.1 198.9h1M240.7 197.8h1M229.7 199h1M284.8 192.2h1M231.7 196.8h1M273.9 195.4h1M285 196.8h1M220.6 198.3h1M264.3 196.2h1M273.9 193.6h1M270.8 196.8h1M229 199.3h1M207.2 196.8h1M279.2 200.3h1M213.8 192.8h1M274.1 200.7h1M287 192.4h1M236.9 194h1M274 197.8h1M250.6 195.5h1M267.3 198.4h1M273.5 200.6h1M201.7 194.2h1M290.7 194.7h1M250.6 192.6h1M269 194.9h1M238.4 198.9h1M206.9 192.3h1M268.3 199.7h1M208.3 198.7h1M219.6 198.7h1M241.2 194.7h1M257.6 193.9h1M254.6 200.1h1M231.6 195h1M218.8 197.5h1M281.1 200.7h1M248.5 200.8h1M216.4 192.1h1M201.4 198.3h1M254.8 194.4h1M247.4 197.8h1M248.6 198.7h1M212.9 198h1M216.6 196.7h1M220.7 193.5h1M201.8 197.6h1M201.9 200.8h1M225.2 198.1h1M205.8 195.7h1M257.6 193.4h1M265.7 200h1M260.2 199.8h1M288.2 197.9h1M235.9 200.1h1M208.2 193.9h1M203.5 193.4h1M288.7 194h1M279.1 196.2h1M257.6 199.7h1M226 194.7h1M231 198.6h1M210.9 198.1h1M282.7 198.6h1M231.1 198h1M210.1 196.1h1M259.8 193.5h1M251.9 195.6h1M267.4 193.5h1M232.5 199.8h1M278.8 200.2h1M218.8 193.4h1M242.5 198.6h1M286.7 199.8h1M269.2 194.4h1M236.5 195.7h1M231.8 195.8h1M228.9 194.6h1M279 196.8h1M222.2 194.8h1M268.6 191.9h1M245.4 196h1M278.8 196.7h1M277.9 196.6h1M238.9 192.6h1M261.5 197.4h1M237.8 197.8h1M284.3 196.9h1M285 197.9h1M284.5 197.6h1M273.5 198.2h1M209.7 194.2h1M247.6 200.9h1M266.9 198h1M214.3 200.5h1M258.7 194.3h1M225.6 198.3h1M210 193h1M241.2 192.4h1M269.2 197.2h1M291.4 200.5h1M289.2 192.9h1M254.3 197h1M260.5 192.7h1M264.1 196.1h1M241.4 194.7h1M264.5 193.8h1M229.7 195.1h1M237.8 200.6h1M218.5 192h1M206.6 200.8h1M241.1 196.8h1M217.5 200.8h1M277.8 198.5h1M231.7 200.3h1M291.5 197.4h1M238.7 192.9h1M272.3 195.8h1M205.7 192.8h1M254.2 194.7h1M241.8 197.5h1M216.1 198.5h1M282 194.6h1M274.5 193.3h1M261.2 197.1h1M273.9 196.9h1M209.9 198.9h1M267.4 196.8h1M215.6 192.9h1M278.5 199.4h1M215.1 194.6h1M212.3 193.1h1M271.4 195.9h1M282 197h1M274.7 195.8h1M233 194.5h1M290.2 196.3h1" stroke="#ff55ee" stroke-width="1" stroke-opacity="0.6" fill="none"/>
<path d="M207.4 174.4h1M208.8 183.6h1M210.6 180.6h1M209.2 185.9h1M228 190h1M222 186.5h1M212.4 186.8h1M228.2 192.1h1M212.7 183.1h1M227.1 192.4h1M228.2 190h1M225 191.8h1M214.2 179.7h1M221.6 192.8h1M215 181.1h1M222.6 190.1h1M225.6 186.6h1M229.5 193.6h1M216.2 178.8h1M212.7 181.7h1M227.2 188.5h1M219.9 190.9h1M211.9 184h1M221.5 186.5h1M211.3 186h1M221.8 180.2h1M219.4 185h1M228.1 190.7h1M224.2 189.4h1M223.6 193.2h1M227.4 191.2h1M225.8 187.8h1M220 181.2h1M213.5 179.6h1M224.6 192.2h1M229.4 192.8h1M228.7 190.8h1M217.6 192.1h1M210.4 187h1M220.5 185h1M224.8 189.4h1M220.5 189.9h1M228.3 191.4h1M213.6 188.1h1M226.4 190.6h1M220.3 181.2h1M226.2 193.6h1M215.3 192h1M218.3 183.9h1M223.5 190.8h1M215.1 180.9h1M229.2 192.4h1M228.9 191.4h1M228.6 202.4h1M234.8 203.9h1M229.4 202h1M238.2 203.9h1M228.7 200.6h1M230.7 205.9h1M231 202.3h1M229.8 200.5h1M234.3 199.6h1M237.8 205.4h1M238.8 202.2h1M228.1 200.1h1M231.2 202h1M231.5 206.8h1M236.7 204.9h1M239 201.7h1M235.7 205.7h1M231.5 204.7h1M231.3 204.8h1M238.3 203.3h1M236.5 205h1M234.2 210.1h1M236.6 207.9h1M235.6 202.1h1M239.1 200.3h1M232.1 195.9h1M202.3 197.2h1M270 199.5h1M213.5 194.3h1M259.6 200h1M213.9 197.2h1M219.6 193.8h1M291.3 199.5h1M274 197.1h1M244 194.6h1M214.5 198.7h1M204.3 195.7h1M275.6 198.5h1M225.5 193.6h1M286.8 194.9h1M267.1 196.2h1M203.6 194.8h1M267.2 198.1h1M261 197.3h1M260.1 199.1h1M266.2 192.9h1M278.7 195.1h1M271.8 195.8h1M218.4 193.9h1M265.3 195.8h1M264.2 196.2h1M242.5 193.7h1M241.3 198.3h1M208.3 197.2h1M204.6 199.2h1M204.7 198.2h1M217 197.8h1M244.1 199.7h1M262.1 192.9h1M255.5 194.5h1M270.8 200.6h1M279.1 194h1M216.6 194.6h1M224.9 193.3h1M205.2 194.3h1M273.3 200.7h1M211.7 198.3h1M256.1 195.2h1M246.7 197.6h1M201.5 197.8h1M206.8 195h1M214.6 198.1h1M257.4 195.1h1M273.5 198.1h1" stroke="#00a83c" stroke-width="1" stroke-opacity="0.6" fill="none"/>
<path d="M225.5 191h1M224.1 184.5h1M218.6 188.2h1M220.6 178.5h1M211.2 186h1M219.2 193h1M213.5 180.1h1M224.6 185.6h1M229.6 192.9h1M228 190.6h1M225.6 189.8h1M221.1 187.6h1M220.3 186.4h1M229.7 193.6h1M229.6 192.5h1M229.6 193.3h1M215 190.2h1M217.5 184.7h1M219 191.9h1M218.9 187.9h1M222.6 184.6h1M227.5 191h1M220.3 193.2h1M228.5 191.5h1M221.1 182h1M210.4 187h1M214.3 181.3h1M212.8 181.8h1M222.1 190.4h1M224 193h1M213.7 184.9h1M211 185.7h1M226.2 186.6h1M210.4 187.1h1M216.9 186.1h1M216.8 182.2h1M228.8 193.2h1M219.1 186.7h1M214.3 180.7h1M215.3 184.4h1M212.4 183.7h1M211.2 186.1h1M221.4 179.9h1M218.9 178.5h1M214.6 177.6h1M222.7 188.8h1M216.8 189.8h1M212.5 185.9h1M225.7 186.1h1M212.2 186.7h1M213.3 192h1M229 191.2h1M222.8 187.6h1M225.1 188.3h1M226.7 188.1h1M224 183.5h1M227.7 190.1h1M210.2 187.3h1M226.7 191.5h1M219.1 178.1h1M218.5 186.5h1M223.7 190.9h1M220.3 188.1h1M213.5 181h1M217.8 189.3h1M213.1 188.5h1M221.8 190h1M226.5 192.5h1M224.1 193h1M226.6 191.9h1M220.1 182.9h1M211.1 186.3h1M210.7 186.6h1M219.2 178h1M217.2 192.8h1M224.8 193.4h1M210.6 186.6h1M228.9 193.2h1M222.1 187h1M221.2 190.3h1M225.6 193.3h1M227.9 191.5h1M225.1 184.9h1M221 184.3h1M224.9 187.4h1M228.4 200.9h1M228.8 201h1M232.3 205.3h1M237.5 200.4h1M237.6 205.7h1M238.7 200.4h1M236.8 199.8h1M234.5 200.8h1M229.2 202.3h1M233.6 201.2h1M237.9 202.3h1M232.8 205.6h1M239.1 201.8h1M231.6 205.5h1M236.7 199.9h1M235.1 200.8h1M231.4 206.9h1M231.4 200h1M232.9 208h1M238.5 203.2h1M229 201.6h1M229.7 200.3h1M229.5 200.8h1M233.1 204.8h1M232.6 205.2h1M234.9 208.7h1M238 203.1h1M238.8 202.6h1M237.5 201.3h1M233 208.8h1M230.8 204.1h1M238.8 200.3h1M232.9 208.9h1M230.6 201.4h1M237.3 203.6h1M231.4 202.7h1M231.9 205.1h1M237.9 204.9h1M233.2 201.7h1M232.9 208.4h1M234.7 210.8h1M233.6 207h1M233.4 209.8h1M236.3 199.5h1M230.8 205.7h1M237.1 200.9h1M231.8 201.9h1M234.4 203.5h1M228.3 200.6h1M233.1 208.5h1M236.8 207.8h1M235.2 211.2h1M236.8 205.4h1M236.1 205.3h1M228.4 201.3h1M237.3 205.3h1M236.4 207.4h1M229.8 203.9h1M234.4 201h1M237.6 203.6h1M238.2 213.7h1M235.5 211.8h1M252.6 199.8h1M268.8 196.8h1M226.4 199.5h1M291.8 199.9h1M203 196.6h1M206 200h1M259.9 193.5h1M205.1 199.4h1M231.9 198.8h1M288.5 197.9h1M227.2 197.1h1M269.8 199.5h1M280.9 195.6h1M271.1 197h1M288.1 196.3h1M234.5 193.8h1M250.8 198.2h1M247.5 198.9h1M239.2 193.2h1M287.1 200.2h1M291.3 193.7h1M208.1 197h1M272.4 197.9h1M252.8 192.9h1M242.2 197.8h1M248.5 196.1h1M246.7 198.2h1M220.8 197.2h1M247.7 200.4h1M243.4 194.3h1M251.4 195.8h1M251.3 194.1h1M235.2 195.6h1M204.4 193.1h1M285.3 199.3h1M287.9 198.2h1M236.1 196.1h1M214.1 200.6h1M234.8 192.1h1M255 199.8h1M217.2 197.2h1M257.8 196.6h1M289.7 199.9h1M291.9 195.8h1M243 197h1M274.4 194.8h1M212.9 194.7h1M209.4 198.7h1M218.5 193h1M256.9 192.4h1M235.4 199.2h1M222.7 192.3h1M287 197.1h1M235.4 198.8h1M210.3 194.7h1M245.8 198.2h1M280.4 192.3h1M242.9 196.2h1M202.5 194.4h1M272.5 198.3h1M268 198.1h1M201.4 193.6h1M233.9 195.9h1M278.1 197.8h1M263.1 193.1h1M237 198.4h1M273.9 196.2h1M223.6 197.9h1M263.8 195.1h1M230.3 192h1M237.8 193.2h1M242 194.6h1M268.5 193h1M228.6 196.4h1M264.4 194.7h1M250.1 194.7h1M204.5 196.6h1M239.3 196.9h1M259.4 197.9h1M265.8 193.7h1M255 196h1M239.8 199.3h1M246.5 197.8h1M242.4 194.1h1M269.7 196.5h1M213.6 193.4h1M236.2 195.9h1M285.1 197.7h1M217.5 192.9h1M236.9 192.5h1M288.4 192h1M255.4 200.7h1M291.1 197.1h1M275.4 198.3h1M242.3 196.5h1M261.7 192.5h1M244.2 193.2h1M240.5 194.2h1M246.1 193.6h1M268.3 195.7h1M271.7 197.6h1M273.6 199.8h1M262.8 197.9h1M279.6 200.9h1M266.7 195.3h1M213.7 198.7h1M224.2 197.8h1M253.8 194h1M211.2 196h1M280.9 195.5h1M270.7 196.8h1M261.7 196.3h1M281.7 195.2h1M203.8 197.4h1M270.5 200.6h1M258.7 192.3h1M262.7 196.9h1M227.3 198.7h1M281.1 195.1h1M283.8 194.4h1M213.6 195.5h1M232.5 200.3h1M269.4 198h1M231.4 198h1M258.1 192.3h1M249.8 194.6h1M210.8 197.8h1M283.4 197.8h1M226.5 199.3h1M211.9 194h1M289.6 196.8h1M266.8 197.5h1M247.2 199.5h1M235.9 195h1M250.5 193.9h1M212.3 199.6h1M236.7 192.8h1M246.1 198.9h1M233.6 197.7h1M260.3 196.4h1M286.9 192.6h1M202.8 198h1M273.9 196.9h1M280.9 197.1h1M204.1 199.8h1M234 198.2h1M280.2 197.7h1M221.4 200.8h1M291.5 198.8h1M291.4 192.4h1M204.9 193.7h1M240.6 200.8h1M244.4 200.1h1M257.1 192.5h1M246.3 195.3h1M248.7 192.4h1M237.9 198.9h1M286.1 198.2h1M241.6 197.5h1M220.4 197.2h1M235.2 198.3h1" stroke="#ff1010" stroke-width="1" stroke-opacity="0.6" fill="none"/>
<path d="M223.2 187.9h1M220.9 180.3h1M220.4 189.7h1M217.5 184.8h1M216.3 190.1h1M211.4 186.7h1M221.2 183.8h1M221.1 179.2h1M211.1 186.9h1M211.9 189.3h1M217.4 192.4h1M221.7 186.3h1M213 185.4h1M229.3 191.9h1M210 186.7h1M218.5 189.3h1M220.5 185.1h1M223.3 183.9h1M210.6 187.5h1M218.4 179.9h1M212.5 186.2h1M219.7 181.9h1M212.3 185.1h1M228.7 193h1M221.3 184.5h1M210 186.9h1M228.7 192.1h1M217.3 191.5h1M215.4 186.1h1M214.4 189h1M212.7 188.6h1M219.7 192.9h1M227.1 191.3h1M225.1 186.2h1M213.6 190.1h1M217.5 183.5h1M214.8 191.5h1M226.8 192.4h1M229.1 191.4h1M224.1 188.7h1M213.8 185.6h1M210.2 187h1M227.6 192.6h1M219.4 182.8h1M222.5 189.3h1M215.2 182.3h1M225.3 187.3h1M227.4 189.6h1M223.1 189.3h1M222.3 192.1h1M216 190.1h1M210.1 186.9h1M217.6 180.5h1M213.8 190.1h1M226.3 189.2h1M224.8 191.6h1M227.8 192.4h1M235.6 207.2h1M234.7 211.3h1M230.1 201.1h1M232.7 204.3h1M239 200.4h1M238.6 203.1h1M231.2 200.8h1M239 200.8h1M230 204.5h1M229.2 202.6h1M236.9 206h1M239 200.8h1M233.7 207h1M230.1 203.5h1M232.7 206.7h1M234.2 206.8h1M232.1 205.5h1M237.7 199.8h1M234.2 211.7h1M236.7 202.6h1M231.4 203.6h1M237.4 205.9h1M229.1 200.5h1M235.8 201.1h1M235.3 201.7h1M232.6 204.3h1M236.6 199.7h1M237.8 202.3h1M233.1 209.7h1M234.9 206.1h1M236.1 202.4h1M239 200h1M238.9 200.9h1M226.4 196.1h1M214.7 193.1h1M250.8 197.9h1M205 196h1M273.8 197.2h1M241.2 199.5h1M291.8 195.5h1M205.2 197.2h1M257.8 198.9h1M205.7 195.2h1M237.4 194.6h1M234.3 197.3h1M232.4 199.7h1M273.7 192.8h1M286 194.3h1M287 196.3h1M209.3 193.3h1M208.6 195h1M210.6 196.4h1M286.8 200.3h1M290.7 195.6h1M238.6 196.7h1M290.6 192.8h1M266.9 198.6h1M259.3 195.2h1M290.6 197.8h1M288.3 193.7h1M249.2 196.2h1M249.4 200h1M211.5 197.8h1M218.1 198.7h1M257.8 199.5h1M228 200h1M288.1 197.2h1M291.9 200.1h1M278.9 196h1M286.9 194.4h1M253 199.9h1M239.3 197.6h1M260.7 200.1h1M219.1 195.6h1M264.3 194.8h1M243.7 192.1h1M244.9 198.1h1M203.4 196.6h1M229.6 197.7h1M229.4 194.4h1M266.6 197.7h1M205.4 192.1h1M238.1 193.4h1M204.4 196.2h1M290.3 198.6h1M208.2 195.1h1M246.6 195.3h1M261.4 197.2h1M222.4 196h1M243.3 194.6h1M285.4 199.4h1M237.5 198.8h1M275.5 198.2h1M256.4 200.6h1M272.8 195.9h1M213.4 195.3h1M272.7 194.3h1M289.8 192.8h1M240.5 195.4h1M252.4 197.9h1M290.4 200.2h1M232.8 195h1M266.9 197h1M232.7 199.6h1M290.5 193.4h1M212.2 197.8h1M205.8 196.9h1M274.6 199.9h1M241 196.6h1M207.3 195.7h1M206 194.5h1M205 196.5h1M210.2 194.7h1M274.5 198.3h1M267.1 192.1h1M245.6 193.5h1M218.5 194.8h1M264.1 194.2h1M291.9 198.2h1M229 200.7h1M290 194.7h1M214.8 195.2h1M274.2 198.4h1M214.4 198.9h1M262.1 194.2h1M204.3 195h1M248.7 195.4h1M264.9 195h1M251 192.1h1M239.7 196.6h1M257.7 196.9h1M251.9 200.2h1M201.1 200.4h1M225.4 194.4h1M239.1 199.5h1M272.9 197.8h1M256.7 193.4h1M218.4 196.7h1M219.1 194.8h1M272.2 192.2h1M272.6 195.9h1M229 198.7h1M249.8 192.9h1M229.8 200.1h1M281.2 193.5h1M213.6 198.6h1M234.5 197.8h1M266.6 198.6h1M229.5 199.3h1M267.6 198.1h1M263.1 195.4h1M285.4 196.7h1M217.9 192.1h1M283.9 197.6h1M205.9 195.7h1M271.7 192.3h1M279.3 192.9h1M223 197.9h1M205.2 192.9h1M267.2 194.4h1M214.3 198h1M204.4 193.9h1M215.7 196.2h1M282.7 200.1h1M238.4 196.9h1M274.8 196.3h1M216.7 200.1h1M259.9 194.5h1M256 197.3h1M239.5 193.2h1M233 199.2h1M227.8 200.4h1M241.2 196h1M204.5 197.5h1M219.9 192h1M248 193.7h1M251.8 198.5h1M286.2 194.6h1M276.8 194.3h1M292.5 197.1h1M251.1 199.6h1M270.7 197.6h1M215.8 196.9h1M267.3 194.5h1M239.1 193h1M232.5 198.1h1M269.3 193.2h1M276.4 193.9h1M261.8 197h1M251.2 194.6h1M280.1 196.4h1M253 197.7h1M276.8 195.5h1M269.2 194.4h1M285.4 198.9h1M243.4 192.5h1M259.7 196.8h1M250.8 192.8h1M287.9 194.1h1M225.9 197.6h1M259.8 195.1h1M218.7 192.2h1M288.6 193.2h1M288.8 194.8h1M258.7 200.1h1M286.4 195h1M246.1 193.3h1M265.2 196.2h1M264 197.1h1M258.8 192h1M280.8 198.4h1M289.4 200.5h1M211.5 196.5h1M209.9 194.6h1M279.6 196.3h1M272 199.7h1M253.9 197.4h1M232.7 194.5h1M254 192.6h1M235.8 192h1M231.1 198.6h1M243.9 196.3h1M230 198.4h1M275.3 194.7h1M271.4 194.6h1M248.8 197.1h1M222.2 194.1h1M215.8 193.8h1M275.7 197.1h1M289 194.3h1M274.1 197.1h1M282.7 192.6h1M221.7 195h1M287.3 193.3h1M206.4 194h1M248.3 198.4h1M245.1 197.3h1M278 193.1h1M263 195.8h1M203.3 199.5h1M213.1 194.4h1M267.6 193.5h1M266 192.7h1M228.1 198.1h1M216.7 196.5h1M205.4 193.7h1M219.5 196.2h1M257 196.5h1M232 193h1M277.6 192.6h1M209.4 200.8h1M219.3 193.4h1M223.2 197.8h1M278.2 194.2h1M262.9 194.3h1M285.2 198.5h1M243.8 200.6h1M244.7 194.4h1M276.8 194.8h1M262.4 199.1h1M200.6 197.1h1M233.4 197.4h1M259.1 198.3h1M291.6 195.5h1M210.8 197.1h1M215.6 192.2h1M285.4 192.5h1M276.6 200.4h1M277.9 199.1h1M220.5 195.4h1M285.9 195.3h1M254.7 197.3h1M272 199.9h1M287.4 198.5h1M215.8 194.7h1M259.5 198.8h1M283.1 194.1h1M220.7 200.3h1M245.8 192.4h1M251.3 195.3h1M215 193.2h1M222.3 199.3h1M220.8 199.9h1M224.5 200h1M265 200.8h1M203.3 200.7h1M270.3 192h1M237.6 193.8h1M204.2 194.9h1M228.4 200.7h1M209.7 199.3h1M245.5 196.7h1M213 196.2h1M217.6 194.7h1M244.8 196.6h1M271.1 196.6h1M270.7 198.2h1M285.3 194.8h1M226.8 198.8h1M244.1 194.9h1M225.9 193h1M208.3 195h1M264.2 194.5h1M223.7 200.3h1M245.5 199.6h1M210.4 193.6h1M266.6 197h1M246.1 194h1M287.2 195.7h1M249.3 197.4h1M283.5 193.1h1M258.7 196.5h1M262.6 193.8h1M253.1 193.9h1M204.7 195.3h1M223.4 198.9h1M229.8 196.1h1M258.8 193.6h1M272.4 194.9h1M246.8 193.5h1M223 199.8h1M281.8 196.1h1M232.4 195.6h1M291.7 197.3h1M266.5 197.4h1M241.3 196.7h1M274.2 200.1h1M216.4 193.6h1M280.7 195.1h1M204.1 199.1h1M235.6 197.7h1M211.8 194.6h1M280.2 195.9h1M204.8 199.8h1M213.6 196.3h1M258.7 196.5h1M231.1 192.3h1M216.9 197.9h1M244.9 195.3h1M226.5 200h1M202.3 200.9h1M249.2 200.2h1M259.2 198.8h1M281.6 199.4h1M255.7 193.7h1M203.3 199.8h1M235.8 194.2h1M285.1 198.6h1M201.2 192.1h1M265 197.1h1M238.3 197.1h1M242.3 200.6h1M231 200.4h1M214.5 197.1h1M240 200.9h1M282.5 199.1h1M205.4 198.2h1M227.5 196.2h1M241.2 200.1h1M202.7 197.6h1M260 198.5h1M213.1 196.5h1M284.6 200.8h1M266 194.2h1M275.8 193.2h1M289.4 194.2h1M276 200.8h1M269.8 193.3h1M211.6 197.2h1M241.9 200.8h1M234.2 195.5h1M256.6 192.7h1M287.8 193.9h1M233.2 197.8h1M202.1 195.2h1M237 192.4h1M275 197.2h1M272.7 194.8h1M228.3 195.2h1M249.7 198.1h1M262 193.5h1M257.8 197.6h1M240.8 197.4h1M291.7 199.5h1M228.8 198.6h1M273.2 198.7h1M244.5 200.7h1M223 194.8h1M244.6 192.3h1M284 193.4h1M291.7 197h1" stroke="#2424ff" stroke-width="1" stroke-opacity="0.6" fill="none"/>
<path d="M235.3 192.7h1M208 195.9h1M257.5 198.5h1M232.2 194.1h1M249.5 192.3h1M279.7 192.6h1M251.3 198.1h1M232.4 195.5h1M283.2 200h1M271.3 192.9h1M223.2 194.8h1M210.8 192.3h1" stroke="#ffffff" stroke-width="1" stroke-opacity="0.6" fill="none"/>
<path d="M227.5 194.1h1.8M232.5 194.4h1.8M230.5 199.7h1.8M232 198.6h1.8M227.7 198.8h1.8M236 196.5h1.8M232.2 197.6h1.8M234.4 192.4h1.8M228.5 194.5h1.8M234.1 200.2h1.8M238 190.6h1.8M231.3 192.1h1.8M256.9 191.2h1.8M265.8 192.1h1.8M244.7 192.1h1.8M235 192.2h1.8M233.3 192.9h1.8M262.2 191h1.8M262.8 189.6h1.8M266.3 192.3h1.8M245.3 192.8h1.8M238.2 190.4h1.8M246.6 191.5h1.8M251.7 183.1h1.8M245.3 192.9h1.8M264.2 189.7h1.8M238.4 190.2h1.8M249.6 187.5h1.8M246.5 193.1h1.8M264 191.8h1.8M241.4 192.8h1.8M244.1 192.2h1.8M254.1 192.7h1.8M231.9 192.5h1.8M231.6 192.2h1.8M258.5 187.1h1.8M234.9 192.6h1.8M236.1 191.7h1.8M236.9 190.5h1.8M247.7 186.7h1.8M249.6 185.6h1.8M232.7 191.8h1.8M260.2 188.3h1.8M261 189.7h1.8M246.9 186.2h1.8M233.4 192.8h1.8M291.6 193.5h1.8M291.3 195h1.8M292 196.2h1.8M292.1 197.4h1.8M292 200h1.8M291.4 193.6h1.8M291.3 196.1h1.8" stroke="#000000" stroke-width=".8" stroke-opacity="0.72" fill="none"/>
<path d="M231.3 199.6h1.1M227.8 197.2h1.1M231.3 194.3h1.1M227.1 200.3h1.1M234.6 196.5h1.1M228.5 196.6h1.1M230.7 192.5h1.1M231.8 196.3h1.1M232.6 193.9h1.1M235.4 196.7h1.1M235.3 195.3h1.1M231.1 197.6h1.1M232.4 195.8h1.1M233.5 194.6h1.1M235.5 193.3h1.1M231.4 198.5h1.1M234.9 195.7h1.1M230.8 199.5h1.1M230.7 197.4h1.1M227.7 195.7h1.1M228.6 199.5h1.1M236 194.9h1.1M233.8 197h1.1M236 195.4h1.1M230.6 193.7h1.1M232.5 192.5h1.1M232.8 194.6h1.1M236.6 200.1h1.1M227.8 196.6h1.1M233.8 200.2h1.1M235.5 196.9h1.1M236.9 196h1.1M229.5 194.5h1.1M231.7 195.9h1.1M231.6 197h1.1M235.3 199h1.1M230.5 197.7h1.1M232.5 197.7h1.1M228.1 196.2h1.1M227.7 199.7h1.1M234.9 198.5h1.1M233.5 193.9h1.1M232.3 198.9h1.1M249.4 187.1h1.1M254.9 185.6h1.1M234.2 191.9h1.1M245.8 186.3h1.1M234.8 191.2h1.1M258.5 189.9h1.1M260 193.1h1.1M260.2 188.3h1.1M257 192.7h1.1M249.1 184.4h1.1M243 190.9h1.1M239.9 193h1.1M256.3 188.2h1.1M252.1 187.1h1.1M250 191.8h1.1M246 193.6h1.1M233.4 193.2h1.1M245.8 191.5h1.1M249.7 187.4h1.1M231.8 193h1.1M237.9 190.1h1.1M240.2 189.2h1.1M246.5 189.8h1.1M239.7 193.6h1.1M247.4 193h1.1M265.3 191h1.1M234.5 192.7h1.1M257.4 188.6h1.1M250.9 186h1.1M234.3 193.2h1.1M256.7 189.3h1.1M248.5 192.4h1.1M249.3 192.4h1.1M241.6 191.9h1.1M261.2 189.2h1.1M236.4 191.5h1.1M241.8 190.4h1.1M253 186.4h1.1M264.6 193.6h1.1M265.5 191.1h1.1M233.8 193h1.1M252.1 189.4h1.1M248.2 188.2h1.1M262.3 188.8h1.1M258 185.9h1.1M248.6 191.9h1.1M243.3 191.6h1.1M253.3 184.3h1.1M257.3 185.2h1.1M236.6 191.7h1.1M231.9 193.5h1.1M247.7 190.3h1.1M256.3 188.6h1.1M251.2 183.4h1.1M239 190.2h1.1M260.1 189.8h1.1M234.7 190.7h1.1M255.6 190.4h1.1M256.3 186.1h1.1M245.8 187h1.1M232.8 193.2h1.1M254 185.3h1.1M234.9 192.9h1.1M248.6 193.6h1.1M247.3 185.8h1.1M261.5 190.2h1.1M263.2 189.9h1.1M245 191.2h1.1M243.6 190.2h1.1M264.5 193.1h1.1M254.8 183.5h1.1M244.1 187.8h1.1M250.3 185.2h1.1M235.5 192.8h1.1M238.5 191h1.1M231.9 193.3h1.1M252.1 188.5h1.1M231.5 193.4h1.1M258.3 186.3h1.1M259.3 188.4h1.1M231.5 193.4h1.1M247.5 188.3h1.1M260.4 191.4h1.1M249.9 193.2h1.1M246.8 190.6h1.1M262 191.7h1.1M260 192.2h1.1M245.6 188.4h1.1M231.5 193.3h1.1M252.6 192.5h1.1M261.3 190.3h1.1M235.5 193.5h1.1M243.6 191h1.1M266.1 191.5h1.1M242.5 188.4h1.1" stroke="#ff55ee" stroke-width="1.1" stroke-opacity="0.72" fill="none"/>
<path d="M236.2 196.8h1.1M235 196.5h1.1M233.3 198.1h1.1M233.7 194.7h1.1M237 200.2h1.1M237.2 199.6h1.1M234.6 197.7h1.1M230.7 193.1h1.1M230.3 194.3h1.1M227.1 194.8h1.1M230.3 197.9h1.1M234.1 199h1.1M232.2 195.5h1.1M234.6 192.7h1.1M265.1 193.4h1.1M241.2 190h1.1M245.9 191.6h1.1M243.7 190.4h1.1M241 189.7h1.1M254 182.9h1.1M250.4 189.1h1.1M260.2 187.4h1.1M250.4 188.6h1.1M257.6 186.5h1.1M255 190.7h1.1M254.1 185h1.1M264.1 193.2h1.1M259.6 188h1.1M237.7 192h1.1M261.5 187.5h1.1M249.6 185.2h1.1M253.9 191h1.1M233.8 192.2h1.1M242.7 191.6h1.1M262.8 192.3h1.1M258.8 187.7h1.1M238.6 192.9h1.1M234.7 192.6h1.1M231.7 192.7h1.1M245.2 187h1.1M256.8 189.2h1.1M243.1 190.2h1.1M266.2 190.9h1.1M243.8 192.8h1.1M258.6 187.7h1.1M262 190.5h1.1M246.4 186.7h1.1M244.9 191.5h1.1M250.9 189.7h1.1M260.4 191.5h1.1M246.6 191.7h1.1M249.1 189.5h1.1M247.4 190.4h1.1M254.2 191.1h1.1M246.6 191.7h1.1M231.7 193.2h1.1M254.3 190.8h1.1M242 188.8h1.1M264.7 191.5h1.1M266.2 190.9h1.1M262.6 189.1h1.1M266.7 192.8h1.1M237.7 190h1.1M233.9 192.9h1.1M263 189.2h1.1M241.5 188.6h1.1M261.3 192.9h1.1M259 191.7h1.1M263.1 191.1h1.1M232.2 193.1h1.1M245.3 188.9h1.1M258.2 186.9h1.1M253.3 184.5h1.1M242.4 189.9h1.1M250 186h1.1M240.4 192h1.1M257.4 187.8h1.1M248 192.9h1.1M265.2 190.4h1.1M245.1 187h1.1M265.5 190.6h1.1M261.7 191.4h1.1M236.4 190.9h1.1M244.1 193.4h1.1M261.4 190.5h1.1M252.6 185.5h1.1M249.9 190h1.1M231.7 193.2h1.1M248.2 189.5h1.1M254.7 185h1.1" stroke="#00a83c" stroke-width="1.1" stroke-opacity="0.72" fill="none"/>
<path d="M232.1 192.9h1.1M229.4 198.8h1.1M230.2 197.6h1.1M228.7 197.9h1.1M233.4 195.5h1.1M233.9 197.4h1.1M236.4 200.2h1.1M234.1 197.1h1.1M232.8 194.1h1.1M232.1 200.2h1.1M229.1 195h1.1M234.6 195.1h1.1M233.9 194.9h1.1M235.5 194.4h1.1M228 193.3h1.1M230.2 195.2h1.1M234.2 199.3h1.1M230.3 197.8h1.1M232.3 194.4h1.1M235 194.7h1.1M229 197.6h1.1M233.5 198.7h1.1M229.1 194.9h1.1M234.3 198h1.1M231.5 196.1h1.1M230.4 194h1.1M229.9 198.4h1.1M237.2 195.9h1.1M232.5 195.8h1.1M233.5 194.3h1.1M230.8 197.1h1.1M230.1 200h1.1M232.1 194h1.1M228.9 198.2h1.1M235.1 195.2h1.1M232.1 196.9h1.1M229.3 198.7h1.1M233.5 200.4h1.1M236.5 195.4h1.1M233.6 200h1.1M233.9 196.6h1.1M232.4 197.4h1.1M228.4 195.4h1.1M244.4 189.8h1.1M248 193.5h1.1M243.2 188.3h1.1M258.2 192.3h1.1M239.9 193.1h1.1M249.3 193.6h1.1M256.8 188.7h1.1M260.4 193.6h1.1M231.9 192.9h1.1M265.7 193.4h1.1M240.4 188.8h1.1M264.7 191.4h1.1M249.5 191.1h1.1M231.6 193.4h1.1M262.3 191.8h1.1M256.2 190.8h1.1M258.5 190.4h1.1M237.5 191.9h1.1M250.6 185h1.1M250 190.7h1.1M245.6 191.8h1.1M231.4 193.6h1.1M261.1 189.5h1.1M232.3 191.8h1.1M259.9 190.3h1.1M258.5 186.3h1.1M233.9 191.5h1.1M237.6 190.3h1.1M250.3 184.2h1.1M258.7 191.8h1.1M259.2 188.9h1.1M233.5 192.6h1.1M258.1 186.7h1.1M255.8 184.3h1.1M245.8 185.8h1.1M257.2 185.3h1.1M235 193.2h1.1M243.1 188h1.1M260.5 189.9h1.1M252.7 183.1h1.1M236.8 193.6h1.1M251.3 183.2h1.1M262.5 190.8h1.1M247.3 189.7h1.1M256.9 187.5h1.1M265.6 192.5h1.1M244.8 188.8h1.1M262.4 191h1.1M235.8 190.8h1.1M236.5 191.8h1.1M251.8 183.3h1.1M258.2 190.3h1.1M249.7 186.1h1.1M262.6 192.7h1.1M237.1 193.2h1.1M241 192.5h1.1M250.1 185.8h1.1M237.6 192.5h1.1M237.6 193.4h1.1M266.4 193.3h1.1M262.4 192.6h1.1M258.9 187.1h1.1M254.8 189h1.1M255.7 193.3h1.1M262.7 191.2h1.1M258 191.7h1.1M250.6 184.3h1.1M235.1 193.4h1.1M233.8 192.7h1.1M236.1 191.1h1.1M249.1 184.4h1.1M233 192.7h1.1M234 191.2h1.1M255.1 190.8h1.1M254.7 192.9h1.1M234.4 191.8h1.1M262.4 193h1.1M262.4 191.4h1.1M258 190.6h1.1M240.4 188.7h1.1M239.3 192.2h1.1M232.8 192.9h1.1M237.4 190.7h1.1M251.9 187.9h1.1M263.1 188.8h1.1M243.2 187.2h1.1M249.1 186.6h1.1M253.5 190.5h1.1M234.8 190.8h1.1M254.3 189.3h1.1M243.8 190.6h1.1M261.1 188.1h1.1M249.6 188.3h1.1M248.2 187.1h1.1M245.5 189.7h1.1M255.5 186.7h1.1M233.5 193.6h1.1M256.2 193.1h1.1M251.6 187.1h1.1M254.2 185.1h1.1M250.1 186.7h1.1M245.9 192.4h1.1M233 193.2h1.1M243 193.2h1.1M249.5 188.1h1.1M257 188.1h1.1M240.5 193.4h1.1M246.5 193.1h1.1M231.9 193.6h1.1M248.6 185.8h1.1M239.6 189.1h1.1M243.8 189.7h1.1M262.1 189.6h1.1M257.2 186.2h1.1M234.3 193.3h1.1M263.5 190.4h1.1M243.1 193.4h1.1M245 192.2h1.1M259.7 188.2h1.1M262.1 188.4h1.1M238.1 193.1h1.1M231.5 193h1.1M248.1 191.9h1.1M266.8 191.3h1.1M253.6 183h1.1M248.2 193.5h1.1M254.7 184.8h1.1M240.7 189.2h1.1M261.8 191.6h1.1M236.2 192.2h1.1M266.7 193.4h1.1M246.1 192.9h1.1M234.5 193.1h1.1M236.1 191.2h1.1M256.7 184.9h1.1M239.7 191.7h1.1M232.1 193h1.1M261.1 192.4h1.1M261.1 187.5h1.1M249.8 186.4h1.1M262.6 193.3h1.1M256 185.4h1.1M255.7 191h1.1M258.1 187.6h1.1M257.7 188.9h1.1M256.9 189.5h1.1M246.7 192h1.1M260.2 189.4h1.1M237.8 190.1h1.1M264.1 191.5h1.1M233.1 192.2h1.1M234.6 190.9h1.1" stroke="#ff1010" stroke-width="1.1" stroke-opacity="0.72" fill="none"/>
<path d="M236.9 193.4h1.1M233.8 196.2h1.1M232.3 199.5h1.1M227.9 194.3h1.1M228.7 196.5h1.1M230.3 199.6h1.1M234.4 199.2h1.1M231.9 194.6h1.1M232.8 199.3h1.1M227.3 195.3h1.1M241.3 187.8h1.1M236.2 190.3h1.1M232.1 193.4h1.1M238.2 191h1.1M255.7 191.5h1.1M246.9 191.6h1.1M234.5 191.5h1.1M265.7 192.8h1.1M260.3 189.4h1.1M243.3 189.8h1.1M246.4 188.7h1.1M247.9 185.8h1.1M235.3 193.4h1.1M236.3 190.7h1.1M262.1 190.1h1.1M234.1 191.9h1.1M262.5 189.2h1.1M265 192.6h1.1M261.2 187.5h1.1M262.8 189.9h1.1M256.7 191.4h1.1M247.7 193.5h1.1M252.6 190.9h1.1M250.9 193.1h1.1M255.3 185.2h1.1M248.1 190.4h1.1M265.9 191.8h1.1M239.4 188.8h1.1M246.4 192h1.1M249.3 187.4h1.1M243 190.6h1.1M264.7 191.3h1.1M258.7 189.4h1.1M254.7 183.6h1.1M258.1 190.9h1.1M251 183.3h1.1M238.7 192h1.1M257.1 193.2h1.1M246.5 192.8h1.1M265.9 193.2h1.1M250.8 189.4h1.1M250.9 187.1h1.1M254.8 189.6h1.1M255.4 186.9h1.1M266.7 193.6h1.1M236.6 190.3h1.1M251.3 193.3h1.1M242.6 193.1h1.1M250.6 189.5h1.1M253.2 184.7h1.1M264.5 190.4h1.1M256.1 189.6h1.1M262.8 189.2h1.1M263.1 191.7h1.1M232.1 192.4h1.1M240.1 188.8h1.1M248.5 187.4h1.1M263.5 190.6h1.1M237.1 191.3h1.1M234.8 193h1.1M265.3 193h1.1M264.7 191.1h1.1M265.3 190.9h1.1M251.7 183.6h1.1M243.5 189.6h1.1M246.8 187.8h1.1M254 183h1.1M258.6 193.5h1.1M242.4 189.7h1.1M237.7 189.6h1.1M241.7 190.5h1.1M248.7 193h1.1M242.1 192.6h1.1M254.7 188.9h1.1M240.3 190.8h1.1M266.1 192.6h1.1M264.2 193h1.1M252.5 189.6h1.1M259.5 189.1h1.1M247 187.5h1.1M242.2 189.3h1.1M238.2 193.3h1.1M237.2 191.5h1.1M250.6 185.8h1.1M261.2 188.2h1.1M240.7 188.6h1.1M234.6 191h1.1M255.5 188.9h1.1M264.9 192.9h1.1M266.1 191.1h1.1M232.3 193.5h1.1M232.8 192.8h1.1M243 189.6h1.1M265.2 191.8h1.1M237.5 190h1.1M253.2 182.7h1.1M236.7 189.9h1.1M245 192.8h1.1M250.8 191.7h1.1M253.5 193.3h1.1M265.5 191.9h1.1M238 189.6h1.1M233.3 192.2h1.1M241.7 191.6h1.1M238.9 192.8h1.1M243.8 189.3h1.1M259 190.2h1.1M248.1 188.3h1.1M232.8 191.6h1.1M248.6 188.8h1.1M239.5 192.9h1.1M257.8 191.7h1.1M245.8 188.7h1.1M265.3 191.9h1.1M253.9 185.1h1.1M233.1 192.8h1.1M253.5 191.6h1.1M264.2 191.9h1.1M262.6 191.1h1.1M241.8 191.2h1.1M231.8 193.5h1.1M252.7 185.8h1.1M236.5 193.5h1.1M258.5 188.7h1.1M249.2 191.8h1.1M260.4 192h1.1M242.7 191.5h1.1M245 191.9h1.1M235.6 193.4h1.1M266.4 192.7h1.1M248 186.1h1.1M256.2 191.4h1.1M232.4 192.3h1.1M249 188.5h1.1M250.5 187.1h1.1M248.2 185.4h1.1M245.9 186.1h1.1M264.5 190.9h1.1M243.5 193.6h1.1M238.8 193h1.1M241.1 190.2h1.1M233.1 192.4h1.1M242.4 188.5h1.1M255 193h1.1M242.6 189.2h1.1M241.9 192.6h1.1M250.4 184.2h1.1M248.5 193.3h1.1M249 192.5h1.1M247.2 185.9h1.1M241.1 189.4h1.1M237 192.8h1.1M246.4 191h1.1M240.4 191.8h1.1M236.6 190.1h1.1M234 191.8h1.1M234.1 191.8h1.1M240.3 193.6h1.1M244.2 187.9h1.1M261.9 192.4h1.1M257.2 188.6h1.1" stroke="#2424ff" stroke-width="1.1" stroke-opacity="0.72" fill="none"/>
<path d="M335.6 169.6V231.2M335.6 185H414.4" stroke="#606060" stroke-width=".6" fill="none"/>
<text x="333.4" y="232.6" font-size="3.9" text-anchor="end" font-family="Liberation Sans,sans-serif" fill="#000">-300</text>
<text x="333.4" y="224.9" font-size="3.9" text-anchor="end" font-family="Liberation Sans,sans-serif" fill="#000">-250</text>
<text x="333.4" y="217.2" font-size="3.9" text-anchor="end" font-family="Liberation Sans,sans-serif" fill="#000">-200</text>
<text x="333.4" y="209.5" font-size="3.9" text-anchor="end" font-family="Liberation Sans,sans-serif" fill="#000">-150</text>
<text x="333.4" y="201.8" font-size="3.9" text-anchor="end" font-family="Liberation Sans,sans-serif" fill="#000">-100</text>
<text x="333.4" y="194.1" font-size="3.9" text-anchor="end" font-family="Liberation Sans,sans-serif" fill="#000">-50</text>
<text x="333.4" y="186.4" font-size="3.9" text-anchor="end" font-family="Liberation Sans,sans-serif" fill="#000">0</text>
<text x="333.4" y="178.7" font-size="3.9" text-anchor="end" font-family="Liberation Sans,sans-serif" fill="#000">50</text>
<text x="333.4" y="171" font-size="3.9" text-anchor="end" font-family="Liberation Sans,sans-serif" fill="#000">100</text>
<text x="335.6" y="190.7" font-size="3.9" text-anchor="middle" font-family="Liberation Sans,sans-serif" fill="#000">0</text>
<text x="351.4" y="190.7" font-size="3.9" text-anchor="middle" font-family="Liberation Sans,sans-serif" fill="#000">200</text>
<text x="367.1" y="190.7" font-size="3.9" text-anchor="middle" font-family="Liberation Sans,sans-serif" fill="#000">400</text>
<text x="382.9" y="190.7" font-size="3.9" text-anchor="middle" font-family="Liberation Sans,sans-serif" fill="#000">600</text>
<text x="398.6" y="190.7" font-size="3.9" text-anchor="middle" font-family="Liberation Sans,sans-serif" fill="#000">800</text>
<text x="414.4" y="190.7" font-size="3.9" text-anchor="middle" font-family="Liberation Sans,sans-serif" fill="#000">1000</text>
<path d="M336 231.2h-1.2M336 223.5h-1.2M336 215.8h-1.2M336 208.1h-1.2M336 200.4h-1.2M336 192.7h-1.2M336 185h-1.2M336 177.3h-1.2M336 169.6h-1.2M335.6 184.6v1.2M351.4 184.6v1.2M367.1 184.6v1.2M382.9 184.6v1.2M398.6 184.6v1.2M414.4 184.6v1.2" stroke="#606060" stroke-width=".5" fill="none"/>
<text x="372.3" y="234.9" font-size="4.1" text-anchor="middle" font-family="Liberation Sans,sans-serif" font-weight="bold" fill="#000">Lateral distance (mm)</text>
<text transform="translate(323.1 200.2) rotate(-90)" font-size="4.1" text-anchor="middle" font-family="Liberation Sans,sans-serif" font-weight="bold">Depth (mm)</text>
<path d="M335.6 200.1L337.6 200.1L339.6 200.1L341.5 200.1L343.5 200.1L345.5 200.1L347.5 200.1L349.4 200.1L351.4 200.1L353.4 200.1L355.4 200.1L357.3 200.1L359.3 200.1L361.3 200.1L363.3 200.1L365.2 200.1L367.2 200.1L369.2 200.1L371.2 200.1L373.1 200.1L375.1 200.1L377.1 200.1L379.1 200.1L381 200.1L383 200.1L385 200.1L387 200.1L388.9 200.1L390.9 200.1L392.9 200.1L394.9 200.1L396.9 200.1L398.8 200.1L400.8 200.1L402.8 200.1L404.8 200.1L406.7 200.1L408.7 200.1L410.7 200.1L412.7 200.1L414.6 200.1L414.6 215.3L412.7 215.3L410.7 215.3L408.7 215.3L406.7 215.3L404.8 215.3L402.8 215.3L400.8 215.3L398.8 215.3L396.9 215.3L394.9 215.3L392.9 215.3L390.9 215.3L388.9 215.3L387 215.3L385 215.3L383 215.3L381 215.3L379.1 215.3L377.1 215.3L375.1 215.3L373.1 215.3L371.2 215.3L369.2 215.3L367.2 215.3L365.2 215.3L363.3 215.3L361.3 215.3L359.3 215.3L357.3 215.3L355.4 215.3L353.4 215.3L351.4 215.3L349.4 215.3L347.5 215.3L345.5 215.3L343.5 215.3L341.5 215.3L339.6 215.3L337.6 215.3L335.6 215.3z" fill="#2416e4" fill-opacity="1"/>
<path d="M348.2 199.9L348.7 199.7L349.1 199.3L349.5 198.8L350 198.2L350.4 197.5L350.9 196.6L351.3 195.7L351.8 194.8L352.2 193.8L352.6 192.9L353.1 192.1L353.5 191.4L354 190.8L354.4 190.4L354.9 190L355.3 189.8L355.7 189.7L356.2 189.6L356.6 189.6L357.1 189.6L357.5 189.6L358 189.7L358.4 189.8L358.8 190L359.3 190.3L359.7 190.8L360.2 191.3L360.6 192L361.1 192.8L361.5 193.7L361.9 194.7L362.4 195.6L362.8 196.5L363.3 197.4L363.7 198.1L364.2 198.7L364.6 199.3L365.1 199.6L365.5 199.9L365.9 200.1L365.9 200.1L365.5 200.1L365.1 200.1L364.6 200.1L364.2 200.1L363.7 200.1L363.3 200.1L362.8 200.1L362.4 200.1L361.9 200.1L361.5 200.1L361.1 200.1L360.6 200.1L360.2 200.1L359.7 200.1L359.3 200.1L358.8 200.1L358.4 200.1L358 200.1L357.5 200.1L357.1 200.1L356.6 200.1L356.2 200.1L355.7 200.1L355.3 200.1L354.9 200.1L354.4 200.1L354 200.1L353.5 200.1L353.1 200.1L352.6 200.1L352.2 200.1L351.8 200.1L351.3 200.1L350.9 200.1L350.4 200.1L350 200.1L349.5 200.1L349.1 200.1L348.7 200.1L348.2 200.1z" fill="#3a2090" fill-opacity="0.55"/>
<path d="M366.7 199.7L367.3 199.4L367.9 199L368.5 198.5L369.1 197.9L369.7 197.2L370.3 196.4L370.9 195.6L371.5 194.9L372.1 194.1L372.7 193.4L373.3 192.8L373.9 192.3L374.5 191.9L375.1 191.6L375.7 191.4L376.3 191.3L376.9 191.2L377.5 191.2L378.1 191.2L378.7 191.2L379.3 191.2L379.9 191.3L380.5 191.4L381.1 191.6L381.7 191.9L382.3 192.3L382.9 192.8L383.5 193.4L384.2 194.1L384.8 194.8L385.4 195.6L386 196.4L386.6 197.2L387.2 197.9L387.8 198.5L388.4 199L389 199.4L389.6 199.7L390.2 200L390.8 200.1L390.8 200.1L390.2 200.1L389.6 200.1L389 200.1L388.4 200.1L387.8 200.1L387.2 200.1L386.6 200.1L386 200.1L385.4 200.1L384.8 200.1L384.2 200.1L383.5 200.1L382.9 200.1L382.3 200.1L381.7 200.1L381.1 200.1L380.5 200.1L379.9 200.1L379.3 200.1L378.7 200.1L378.1 200.1L377.5 200.1L376.9 200.1L376.3 200.1L375.7 200.1L375.1 200.1L374.5 200.1L373.9 200.1L373.3 200.1L372.7 200.1L372.1 200.1L371.5 200.1L370.9 200.1L370.3 200.1L369.7 200.1L369.1 200.1L368.5 200.1L367.9 200.1L367.3 200.1L366.7 200.1z" fill="#6a2ad0" fill-opacity="0.6"/>
<path d="M359.2 215.3L359.7 215.3L360.1 215.3L360.5 215.3L361 215.3L361.4 215.3L361.8 215.3L362.3 215.3L362.7 215.3L363.1 215.3L363.6 215.3L364 215.3L364.4 215.3L364.9 215.3L365.3 215.3L365.7 215.3L366.2 215.3L366.6 215.3L367 215.3L367.5 215.3L367.9 215.3L368.3 215.3L368.8 215.3L369.2 215.3L369.6 215.3L370.1 215.3L370.5 215.3L370.9 215.3L371.4 215.3L371.8 215.3L372.2 215.3L372.7 215.3L373.1 215.3L373.5 215.3L374 215.3L374.4 215.3L374.8 215.3L375.3 215.3L375.7 215.3L376.1 215.3L376.6 215.3L376.6 215.3L376.1 215.3L375.7 215.3L375.3 215.3L374.8 215.3L374.4 215.8L374 216.7L373.5 217.7L373.1 218.8L372.7 220L372.2 221.3L371.8 222.5L371.4 223.9L370.9 225.2L370.5 226.6L370.1 228L369.6 227.9L369.2 227.1L368.8 226.4L368.3 225.7L367.9 225L367.5 224.3L367 223.6L366.6 222.9L366.2 222.2L365.7 221.5L365.3 220.9L364.9 220.2L364.4 219.6L364 219L363.6 218.4L363.1 217.8L362.7 217.2L362.3 216.7L361.8 216.2L361.4 215.8L361 215.4L360.5 215.3L360.1 215.3L359.7 215.3L359.2 215.3z" fill="#8030b0" fill-opacity="0.55"/>
<path d="M397.3 206.1h1.8M413.2 211.4h1.8M383.9 211.3h1.8M361.4 205.9h1.8M363.8 207.2h1.8M365.7 215.8h1.8M389.3 207.8h1.8M343.3 202.8h1.8M394 206.7h1.8M387.3 215.1h1.8M395 202.9h1.8M399.5 214.7h1.8M401.9 212.3h1.8M374.5 202.7h1.8M373.5 206.3h1.8M375 207.1h1.8M408.1 213.7h1.8M368.6 203.5h1.8M343.3 203.8h1.8M353.6 211.6h1.8M366.8 210.2h1.8M376.5 212.5h1.8M360.1 200.5h1.8M382.7 207.1h1.8M348.9 202.4h1.8M412.6 212.3h1.8M378.8 214.4h1.8M376.6 206.2h1.8M408.8 214.3h1.8M351.2 208.2h1.8M367.8 206h1.8M372 214.3h1.8M379.6 205.5h1.8M393.2 208.4h1.8M410.1 201.1h1.8M351.5 215.4h1.8M334.8 207.6h1.8M362.7 206.6h1.8M348.3 215.5h1.8M391.4 212.8h1.8M343.5 201.2h1.8M358.7 209.9h1.8M411.6 214.2h1.8M351.1 207.6h1.8M388.3 203.3h1.8M395 214.5h1.8M408.2 199.8h1.8M338.9 209h1.8M357.2 202.3h1.8M336.3 205.5h1.8M344.4 213h1.8M360.7 210.7h1.8M408.4 207.4h1.8M367.8 209.8h1.8M401.3 205.5h1.8M391.1 208.2h1.8M395.5 203.5h1.8M359.2 215h1.8M408.8 203.7h1.8M357.6 201.7h1.8M382.1 204.5h1.8M348.4 200.2h1.8M345.8 211.7h1.8M410.7 202.9h1.8M402.7 209.1h1.8M384.8 207.8h1.8M345.6 212.7h1.8M371.3 206.6h1.8M385 207.6h1.8M389.4 208.7h1.8M404 214.6h1.8M404 215.4h1.8M396.1 203.8h1.8M405.2 212.4h1.8M375.1 212.4h1.8M391.8 202.1h1.8M401.9 208.2h1.8M373.4 210.7h1.8M366.7 202.2h1.8M361.3 215.4h1.8M392.1 204.4h1.8M358.3 206h1.8M352.1 213.9h1.8M407.4 215.6h1.8M346.6 208.8h1.8M369.5 208.5h1.8M395.2 214h1.8M380.6 210.3h1.8M346.3 202.8h1.8M398.1 215.6h1.8M363.6 202.2h1.8M392.7 206.3h1.8M369.7 200.1h1.8M335.6 202.4h1.8M368.7 209.7h1.8M381.5 201.3h1.8M406.5 206.7h1.8M380.2 207.9h1.8M385.6 202h1.8M351.3 204.1h1.8M382.1 199.7h1.8M364.6 201h1.8M372.3 209.7h1.8M370.8 204.9h1.8M361 206h1.8M361.6 212.3h1.8M371.7 200.1h1.8M364.6 203.7h1.8M364.9 213.9h1.8M370.3 213.8h1.8M378.6 213.7h1.8M377.5 205.8h1.8M371.5 201.1h1.8M374.3 203.8h1.8M359.9 202h1.8M373.2 210.9h1.8M361 214.2h1.8M379.8 203.9h1.8M378.5 205.8h1.8M376.4 209.2h1.8M371.3 204.7h1.8M374.5 204.2h1.8M373.9 213.3h1.8" stroke="#000000" stroke-width=".8" stroke-opacity="0.55" fill="none"/>
<path d="M357.1 202h.9M361.8 204.1h.9M409.8 211.6h.9M373.9 208h.9M371.5 210.8h.9M395.6 205.4h.9M366 206.4h.9M387.8 201.9h.9M335.2 211.9h.9M388.6 209.9h.9M400 209h.9M360.8 203.3h.9M392.2 201.3h.9M365.3 212.7h.9M343.3 201h.9M377.7 205.8h.9M400.4 204h.9M338.4 213.9h.9M402.1 214.2h.9M387.9 205.9h.9M405.4 210.9h.9M345.3 204.8h.9M372 208.1h.9M337.9 211.7h.9M399.6 210.4h.9M395.3 212.1h.9M353.4 201.1h.9M345.9 205.8h.9M394.7 201.8h.9M365.2 211.5h.9M409.4 200.1h.9M392 208.2h.9M365.9 209h.9M357 204.2h.9M354.9 211.4h.9M356.3 206h.9M347.8 204.7h.9M356.8 207.1h.9M384.3 211.4h.9M404.1 205.4h.9M395.2 200.7h.9M394.5 200h.9M340.8 212.5h.9M408.7 200.6h.9M395.1 203.2h.9M405.7 205.5h.9M359.7 210.5h.9M368.1 208.7h.9M380.3 211.4h.9M400.2 212.4h.9M357.9 215.3h.9M344.3 212.9h.9M400.1 210.4h.9M414.2 204h.9M413.4 208.7h.9M379.7 213.2h.9M376.4 203.2h.9M363.5 209.2h.9M354.4 208h.9M355.3 203.4h.9M344.2 212.8h.9M349.2 205.9h.9M343.9 205.6h.9M411.5 203.2h.9M365.6 200.7h.9M358.7 210.8h.9M379.1 210.2h.9M401.1 211.8h.9M341.2 212.1h.9M397.6 203.1h.9M354.7 203.3h.9M352.3 202.1h.9M384.2 202.1h.9M407.7 207.7h.9M400.3 208.8h.9M414.1 210.4h.9M407.5 204.7h.9M346.2 207.1h.9M355.6 202.8h.9M359.2 214.1h.9M336.2 209.4h.9M377.7 214h.9M342.5 207.1h.9M402.8 215.8h.9M387.3 211.2h.9M365.6 213.9h.9M356.8 201.3h.9M405.2 214.1h.9M353.7 203.5h.9M375.8 210.1h.9M373.1 202.5h.9M363.5 209h.9M382.5 203.7h.9M366.2 208.8h.9M348.5 200.1h.9M395.1 210.9h.9M373.7 206.2h.9M377 213.3h.9M402 202.5h.9M358.2 200.7h.9M371.3 204.7h.9M347.7 199.9h.9M377.5 200.7h.9M341.6 207h.9M359.9 210.9h.9M381.6 211.5h.9M362.4 211.6h.9M376 199.8h.9M375.4 208.7h.9M395.1 207h.9M400.7 207.2h.9M377.3 209.4h.9M381.5 201.6h.9M350.1 206.9h.9M380.2 199.7h.9M408.1 211.4h.9M400.5 210.8h.9M337.4 210.2h.9M413 210.3h.9M365.3 213.4h.9M338.3 202.4h.9M364.5 199.8h.9M349.1 206.7h.9M414.1 213.1h.9M344.5 211.8h.9M387.3 200.9h.9M409 211.4h.9M342.1 201.8h.9M396 214.6h.9M384.4 212h.9M360.1 211.9h.9M372 204.4h.9M380.6 208.8h.9M346.2 214h.9M377.6 213.5h.9M348.9 202.3h.9M401.5 203.5h.9M340.9 210.6h.9M377.4 202.7h.9M381.1 211h.9M396.9 206h.9M339.9 204.2h.9M376.5 212h.9M379.2 204.7h.9M340.3 213.1h.9M346.5 214h.9M361.8 205.8h.9M346.7 204.8h.9M340.9 200.5h.9M350 213.9h.9M382.2 206.7h.9M377.5 203.6h.9M386 207.3h.9M350.1 210.2h.9M364.2 208.4h.9M337.4 211.3h.9M367.3 208.7h.9M411 200.5h.9M389.9 211.5h.9M407.5 209.7h.9M360.7 204.5h.9M402.2 208.8h.9M347.5 212.2h.9M400.1 215.4h.9M410.7 202.1h.9M367.3 207.5h.9M376.3 215.1h.9M360.1 212.3h.9M403.5 210.3h.9M339.5 209.7h.9M363.2 200.7h.9M386.8 206h.9M352.7 207.9h.9M365.9 207.2h.9M376.2 200.6h.9M374.8 207.4h.9M366.1 214.7h.9M364.8 204.4h.9M379.2 205.7h.9M367.3 202.1h.9M365.8 201.2h.9M370.9 202.7h.9M380.2 203.6h.9M360.9 210.5h.9M362.2 208.9h.9M374.7 211.2h.9M362.2 211.6h.9M372.2 205.8h.9M374.6 212.5h.9M365.9 201.3h.9M370.7 211.8h.9M371.3 206.1h.9M375.7 200.6h.9M360.5 213.4h.9M373.4 211.8h.9M358.8 214.3h.9M367.8 200.5h.9M366.8 209.3h.9M360.7 205.3h.9M371.8 205.6h.9M359.2 209.6h.9M364.5 205.7h.9M376.8 204.6h.9M361.5 209h.9M373.9 207.1h.9M369.5 200.6h.9M371.8 200.5h.9M369.1 213.7h.9M361.7 205.8h.9M375.8 208.3h.9M360.1 206.6h.9M373.6 201.8h.9M373.2 214.7h.9M366 202.2h.9M372.9 209.2h.9M377.7 201.5h.9M359.7 204.4h.9M362.7 201h.9M361.4 215h.9M368.8 210.7h.9M376.4 204.1h.9M372.5 215h.9M378.8 205.2h.9M377.8 205.3h.9M365.5 214.6h.9M376.8 214.5h.9M372.5 205.5h.9M367.4 208.8h.9M380.8 200.2h.9M362.1 213.7h.9M363.1 213.1h.9M365.7 214h.9M363.2 207.2h.9M376.2 211h.9M372.3 208.4h.9M373.6 206.9h.9M380.1 214.8h.9M370 211.8h.9M371.5 203.4h.9M382.7 215h.9M375 201.9h.9M370.9 210.6h.9M367 214.8h.9M379.8 211.4h.9M364.7 203.2h.9M365.2 205.3h.9M368 207h.9M354.9 200.9h.9M364.6 209.4h.9M372.1 204.1h.9M368.4 204.6h.9M364.4 209.6h.9M365.7 200.6h.9M362.5 205.8h.9M371.3 201.6h.9M369.9 205.3h.9M358.5 214.3h.9M372.5 212.6h.9M376.7 200.7h.9M367.6 211.5h.9M378.3 212.8h.9M373.5 203.4h.9M379.9 205.3h.9M373.5 200.6h.9M366.8 209h.9M370.1 203.4h.9M376.3 202.6h.9M361 201.9h.9M364.7 200.1h.9M362.6 200.2h.9M367.1 204.3h.9M375.7 204.1h.9M371.7 210.2h.9M364 207.5h.9M372.1 207.3h.9M364.8 202.9h.9M372.1 206.7h.9M363.9 201.9h.9M365.3 200.4h.9M371.8 208.1h.9" stroke="#ff55ee" stroke-width=".9" stroke-opacity="0.55" fill="none"/>
<path d="M381.9 201.6h.9M345.2 209.1h.9M365.7 212.9h.9M339.8 205h.9M336 207.9h.9M367.6 206.8h.9M372.2 204.8h.9M361.4 208.1h.9M411.3 204.6h.9M351 201h.9M360.4 201.5h.9M385 212.1h.9M378.3 212.2h.9M344.7 209.8h.9M408.8 210.3h.9M383.4 202.7h.9M402.6 204.9h.9M380.1 213.7h.9M384.1 200.8h.9M411.4 202.1h.9M374.2 212.8h.9M355.5 207.4h.9M387.1 206h.9M403 207.4h.9M395.7 203.2h.9M336.8 214.1h.9M350.3 209.3h.9M352.6 209.6h.9M379.3 211.6h.9M395.7 204.3h.9M341.1 204.9h.9M367 205.1h.9M359 204.2h.9M407.6 204h.9M354.4 205.7h.9M395.8 211.9h.9M380.4 215.7h.9M369.7 214.8h.9M366.9 204.2h.9M372.4 202.5h.9M369.8 203.3h.9M369.9 208.7h.9M364.9 211.5h.9M360.3 203.7h.9M368.6 214.1h.9M362.4 210.2h.9M368.6 210.3h.9M379.7 209.9h.9M368 206.9h.9M355.2 212.1h.9M372 208.2h.9M372.7 214.8h.9M360.6 208.5h.9M376.5 214h.9M368 201h.9M368.1 213.7h.9M363.9 203.5h.9" stroke="#00a83c" stroke-width=".9" stroke-opacity="0.55" fill="none"/>
<path d="M386.9 213.6h.9M361.3 204.9h.9M407.7 215.3h.9M409.7 211.5h.9M390.5 211h.9M389.8 207.6h.9M357 202.7h.9M390.9 207.3h.9M335.6 199.8h.9M384.9 207.5h.9M354.4 215.1h.9M369.1 201.9h.9M356.9 211.8h.9M410.1 205.9h.9M386.1 205.2h.9M349.8 211.4h.9M374 208.4h.9M365.8 212.4h.9M346 212.4h.9M365.7 207.5h.9M356.9 204.2h.9M384.1 209.1h.9M341.2 212h.9M335.5 207.8h.9M337.5 215.1h.9M382.5 213.6h.9M390.6 200.9h.9M352.4 210.4h.9M355.4 209h.9M379.4 207.7h.9M344.2 213.2h.9M365.5 206.3h.9M378.9 201.2h.9M374.9 211.2h.9M413.8 204.5h.9M383.7 210.1h.9M364.7 213.6h.9M354.9 210.1h.9M406.6 214.5h.9M412.1 205h.9M359.5 213h.9M382.6 206.7h.9M365.6 214.7h.9M387.8 206.9h.9M386.9 204.5h.9M369.2 208.2h.9M376.5 215.5h.9M409.8 207.4h.9M387.7 201.4h.9M355.4 201.2h.9M339.9 203.2h.9M388.9 214h.9M358.3 201.2h.9M353.4 201.9h.9M354 210.7h.9M370.4 214.7h.9M388.8 211.3h.9M409.9 205.9h.9M388.9 214.2h.9M384.1 208.1h.9M369.6 207.8h.9M389.1 206.3h.9M339.6 210h.9M412.2 207.4h.9M347.1 203.7h.9M389.5 202h.9M387 205.2h.9M391.4 213.6h.9M368.8 205.5h.9M353.4 206h.9M336.3 201.4h.9M380.8 209.8h.9M385.4 215.7h.9M344 200.6h.9M407 213.3h.9M352 213.8h.9M376.2 203.7h.9M382.6 209.6h.9M373.6 200.2h.9M358.1 204.3h.9M413.8 207.7h.9M341.2 202.9h.9M403.4 204.6h.9M379.8 213.7h.9M348.8 202.8h.9M380 215h.9M394.8 215h.9M341.2 205.3h.9M374.5 213.3h.9M352.6 209h.9M351.2 213h.9M356.4 209.6h.9M379.4 213.6h.9M372.2 201.5h.9M375 202.1h.9M407 207.1h.9M393.9 211.2h.9M364.6 201.2h.9M367.2 211.6h.9M381.6 206.3h.9M352 204.6h.9M391 207.8h.9M348.3 201.7h.9M390.9 200h.9M358.8 212.2h.9M401.7 213.9h.9M373.1 208.5h.9M343.3 210.1h.9M412.2 207.5h.9M414.2 211.9h.9M399.3 203.9h.9M397.5 200h.9M358.6 201h.9M372.1 207.7h.9M342.8 214.8h.9M388 207.5h.9M338 201.3h.9M403.8 211.6h.9M413 204.8h.9M339.9 203.5h.9M378.8 200.5h.9M370 204.6h.9M357 203.1h.9M336.1 211.9h.9M376.2 215.6h.9M352.8 215.6h.9M356.3 202.2h.9M389.4 199.9h.9M338.3 205.7h.9M336.1 209h.9M379.6 206.3h.9M377.2 202.2h.9M404.4 212.7h.9M341.4 213.7h.9M388.7 213.4h.9M339.5 212.2h.9M373.2 206.1h.9M404.8 207.4h.9M374.1 210.8h.9M358.1 207.7h.9M377.8 206.7h.9M380.7 214.3h.9M401.1 204.1h.9M402 210.7h.9M396.3 206.8h.9M358.3 206.2h.9M344.3 215.5h.9M403.6 199.9h.9M346.6 204.2h.9M362.5 207.2h.9M393.7 212.6h.9M369.4 204.4h.9M348.5 205.8h.9M372.3 206h.9M397.5 211.6h.9M396.4 215.4h.9M340.7 213.3h.9M356.5 209.9h.9M371.3 202.2h.9M400.7 199.9h.9M345.8 199.7h.9M380.7 200.3h.9M387.4 211.7h.9M378.1 212.2h.9M361.9 201.2h.9M400.6 204.7h.9M412.3 209.5h.9M337.8 213.3h.9M346.7 202.3h.9M335.6 201.9h.9M397.6 210.5h.9M348 199.8h.9M414.1 211.8h.9M363.2 208.4h.9M351 214.6h.9M359.2 207.7h.9M398.5 210.7h.9M411 201.2h.9M398.2 215.3h.9M341.7 201.7h.9M410.4 213.7h.9M408.9 211.8h.9M401.8 211.2h.9M408.5 209h.9M365 209.6h.9M367.5 211.1h.9M339.2 209.9h.9M343.7 209.6h.9M339.6 208.2h.9M367.4 201.7h.9M350.5 202.5h.9M394 210.1h.9M368.2 202.3h.9M377.3 208.9h.9M352 213h.9M391.9 213.1h.9M357 210.3h.9M397.5 206.1h.9M353.8 203.8h.9M363.8 212.5h.9M391.1 215.6h.9M345.4 201.8h.9M363.7 213.5h.9M372.6 204.2h.9M381.9 211.7h.9M397.7 210.6h.9M380.3 200.8h.9M344.5 214.5h.9M393.4 209.4h.9M361.7 210.3h.9M353.7 199.8h.9M348.7 200.7h.9M355.3 207.1h.9M374.2 211h.9M387.4 209.1h.9M398.9 207.2h.9M359.8 206.5h.9M386.9 211.3h.9M394.7 207.1h.9M363 213.7h.9M366.1 199.9h.9M341.1 214.5h.9M377.2 206h.9M363.3 207.1h.9M359.7 208.2h.9M374.4 215h.9M372.8 215.1h.9M338 210.3h.9M353.9 207.7h.9M349.9 213.7h.9M373.5 211.3h.9M364.8 199.8h.9M340.6 214.4h.9M341.7 207.1h.9M386.6 207.6h.9M397.9 209.6h.9M359.2 203.4h.9M363.6 200.3h.9M350.5 215.8h.9M344.9 214.5h.9M338.8 206.2h.9M372.7 208.4h.9M343 213.4h.9M401.6 207.3h.9M371.9 215.2h.9M409.9 201.6h.9M385.6 206.4h.9M385.8 204.2h.9M356 201.9h.9M352.4 210.4h.9M364 209.6h.9M371.1 213.6h.9M369.7 204.8h.9M371.6 201.7h.9M357.4 205.9h.9M375.5 202.8h.9M362.4 207.8h.9M371.8 209h.9M372.3 212h.9M381 209.2h.9M380.7 202.7h.9M374.1 208.8h.9M369.9 205.3h.9M373.6 204.3h.9M357.5 210.2h.9M369.9 205.5h.9M374.1 204.2h.9M369.8 207.1h.9M381.2 212.6h.9M382 200.9h.9M364.2 204.3h.9M376.1 206.9h.9M367.4 203h.9M362.4 208h.9M367 206.7h.9M361.6 209.8h.9M355.9 202.1h.9M370.7 208.8h.9M369.6 209.9h.9M378.6 210.6h.9M370.8 203.5h.9M377.2 209.4h.9M380.4 214.6h.9M371.4 211.6h.9M380.9 205.1h.9M358.2 210.8h.9M365.9 207.3h.9M356.1 201h.9M372.8 212h.9M382.7 205.8h.9M382.7 211.7h.9M358.5 200.1h.9M364.9 213.1h.9M383.5 214h.9M369.4 213h.9M370.3 206.1h.9M367.5 204.5h.9M369.8 209.1h.9M373.8 212.8h.9M365.7 206.8h.9M373.4 202.9h.9M378.5 206.7h.9M360.9 213.5h.9M366 214.6h.9M377.8 203.8h.9M363.2 204.8h.9M372.1 204.8h.9M364.1 205h.9M374.5 210h.9M371.9 203.3h.9M374.5 204.8h.9M374.2 212.5h.9M374.2 207.7h.9M374.2 215.2h.9M367.3 200.2h.9M358.6 212.3h.9M385.5 211.3h.9M370.8 202.2h.9M369.9 207.4h.9M376.5 206.8h.9M368.5 211.3h.9M367.6 205.7h.9M377.2 210h.9M363.7 206.2h.9M366.8 205.2h.9M381.4 209.3h.9M362.3 206.4h.9M371.7 210.5h.9M362.4 212.6h.9M383 212.2h.9M374.2 207h.9M366.9 200.1h.9M370.7 202.1h.9M362.7 206.3h.9M375.8 207h.9M372.6 210h.9M373.5 200.5h.9M373.7 212.3h.9M367.1 203.2h.9M371.7 206.4h.9M368.5 214.1h.9M379.7 209.3h.9M371.8 207.4h.9M365.1 208.1h.9M372.3 202.6h.9M371 209.7h.9M360.5 210.3h.9M368.7 205.5h.9M374.2 212.3h.9M372.6 208.8h.9M374.3 209.4h.9M373 212.7h.9M369.1 202.5h.9" stroke="#ff1010" stroke-width=".9" stroke-opacity="0.55" fill="none"/>
<path d="M370.8 203.1h.9M390.8 211.9h.9M383.7 208.6h.9M343.8 215.2h.9M407.4 207.5h.9M337.8 201.8h.9M336 210.1h.9M336.1 200.8h.9M366.2 204.2h.9M412.9 205.5h.9M378.6 211.7h.9M392.2 206.4h.9M397 201.2h.9M353.9 213.6h.9M345.7 209.1h.9M376.9 207.1h.9M397.1 210.3h.9M391.8 209.7h.9M361 201h.9M394.9 200.8h.9M358.8 200.4h.9M335.3 215.3h.9M377.7 206.4h.9M367.4 202.8h.9M342.5 207.6h.9M405.4 212.1h.9M340.3 209.5h.9M413.5 205.2h.9M355.4 209.3h.9M368.9 201.2h.9M351.8 207.1h.9M393.7 204.3h.9M335.6 204.2h.9M411.1 205.5h.9M412.9 205h.9M402 208.3h.9M404.1 208.9h.9M374.8 205.5h.9M400.2 207.1h.9M358.9 209.7h.9M367.7 213.8h.9M389.8 205.9h.9M412.3 213.7h.9M383.7 204.3h.9M354.2 201.3h.9M399 213.3h.9M336.3 201.1h.9M337.3 207.6h.9M397.3 199.7h.9M367.7 209.9h.9M387 201.6h.9M350.2 206.7h.9M387 214.7h.9M341.6 203.6h.9M342.6 213.3h.9M376 206h.9M364.3 205.3h.9M402.5 206.7h.9M387.8 209.3h.9M364.4 208.1h.9M377.7 215.1h.9M366.2 212.9h.9M357.8 213.8h.9M405.8 200.1h.9M362.3 205.6h.9M406.4 208.4h.9M377.3 209.8h.9M338.1 209.8h.9M400.5 206.6h.9M401.3 205.4h.9M357.5 210.9h.9M405.3 209.3h.9M389 202.9h.9M348.1 211.3h.9M406.2 204.7h.9M354.9 202.6h.9M353.4 202.2h.9M362.9 212.9h.9M374.2 204.8h.9M364.3 206.1h.9M373.9 211.5h.9M379.9 201.3h.9M369.5 199.9h.9M387.5 206.9h.9M337.5 211.1h.9M340.1 200h.9M375.3 215.5h.9M405.4 212h.9M366.5 202.6h.9M356.2 212.1h.9M392.7 211.1h.9M412.6 200.7h.9M402.6 210.1h.9M373.5 207.1h.9M411.4 211.8h.9M388.5 201.7h.9M370.8 203.2h.9M380.1 213h.9M365.1 210h.9M397.4 208.7h.9M367.9 202.7h.9M340.3 204.5h.9M378.6 205.5h.9M404 207.1h.9M365.7 213.1h.9M346.4 208.9h.9M393.1 207.6h.9M344.6 204.3h.9M370.7 213.6h.9M349.5 207.2h.9M411.5 201.6h.9M351.5 214.6h.9M411 210.2h.9M361.4 210.8h.9M379.5 210.5h.9M380.1 201.7h.9M343 201.6h.9M352 200.4h.9M386.6 210.2h.9M405.9 214.6h.9M349.3 201.2h.9M370 212.1h.9M392.3 205.8h.9M340.7 214.3h.9M390.8 199.9h.9M352.6 210.2h.9M376 207.3h.9M365.1 214.5h.9M401.3 199.7h.9M397.7 199.8h.9M409.1 214.3h.9M398.7 204.1h.9M338.7 204.9h.9M375.9 212.7h.9M409 202.4h.9M344.9 205.3h.9M396.1 199.8h.9M366.6 201.9h.9M351.1 205.2h.9M381 202.6h.9M409.2 215.8h.9M395.4 209.8h.9M394.7 200.1h.9M351.3 211.5h.9M388.7 215.6h.9M413 214.9h.9M390.8 200.4h.9M401.7 202.3h.9M338.1 214.8h.9M362.2 214.6h.9M412.8 211.8h.9M403.1 202.3h.9M381.3 200.9h.9M395.7 201.3h.9M373.4 202.7h.9M363.3 214.1h.9M389.8 202.9h.9M342.9 210.2h.9M357.7 213.3h.9M401 204.2h.9M365.1 205.1h.9M349.5 208.9h.9M385.6 211.4h.9M404.3 210.7h.9M337.1 214.4h.9M366.1 203.4h.9M351.7 212.3h.9M341.2 212.3h.9M396.4 213.5h.9M402.9 202.9h.9M352.9 210.7h.9M355.5 199.9h.9M342.9 201.2h.9M342.5 215.1h.9M338.2 203.2h.9M349.6 201.2h.9M352.7 215.1h.9M389.7 200.8h.9M413.7 213.4h.9M345.8 206.4h.9M382.3 211.3h.9M409.1 213.7h.9M378.8 211h.9M406.9 207.6h.9M372.9 213.5h.9M388.8 200.3h.9M394 207.8h.9M378.6 212.1h.9M356.5 205.4h.9M338.5 212.7h.9M343.3 207.8h.9M388.7 207.4h.9M346.2 209.2h.9M359.9 201h.9M408.9 208.6h.9M369.8 207.7h.9M377.9 213.7h.9M403.6 215h.9M380.6 210.7h.9M351.1 200.3h.9M384 199.7h.9M373.5 209.5h.9M392.8 202.7h.9M379.2 214h.9M391 214.3h.9M371.1 204.3h.9M389.8 212.5h.9M379.6 209.3h.9M413 212.1h.9M400.8 203.4h.9M397 202.8h.9M388.1 207.3h.9M356.6 209h.9M387.6 209.9h.9M401 212.2h.9M391.2 204.2h.9M400.7 214.2h.9M360.8 204.6h.9M337.7 206.2h.9M357.2 214.8h.9M344.7 202h.9M348.9 207.4h.9M348.8 201.7h.9M336.3 201.5h.9M339.5 207.4h.9M380.1 205.1h.9M391.9 207.4h.9M376.1 200.2h.9M409.5 207.6h.9M369.9 201.2h.9M342 212.3h.9M413.8 203.7h.9M364.3 206.7h.9M363.8 208.7h.9M351.1 208.4h.9M375.3 206h.9M338.9 203h.9M338.8 204.9h.9M344.6 212.3h.9M355.3 200.5h.9M393.6 204.6h.9M390 210.6h.9M353.2 210.7h.9M387.8 209.6h.9M361.5 205.2h.9M410.3 204.9h.9M410 209.9h.9M369.5 212.4h.9M357.9 209.2h.9M373.4 204.1h.9M351.6 202.7h.9M386 202.2h.9M336.1 201.4h.9M413.1 209.8h.9M354.5 213.8h.9M404.2 206h.9M391.1 210.2h.9M411.4 209.2h.9M336.2 201.6h.9M345.2 207.5h.9M396.5 206.9h.9M396.5 207.5h.9M360.6 210.7h.9M352.8 206.5h.9M351.2 211.2h.9M375.5 201.6h.9M361.6 199.9h.9M408 211.7h.9M366 211.7h.9M360.2 211.8h.9M405.5 205.7h.9M359.7 203.8h.9M352.9 206.3h.9M397.8 201.4h.9M374.9 214.3h.9M401.7 207.2h.9M361.1 204h.9M359.5 200.5h.9M347.2 215.8h.9M401.6 209.5h.9M397.3 201.9h.9M388.7 201.3h.9M410.6 207.3h.9M398.9 199.7h.9M338.8 201.7h.9M362 209.7h.9M337.6 209.9h.9M400.7 208.5h.9M348.5 207.1h.9M389.2 203.7h.9M336.7 211.8h.9M396.5 214.5h.9M374.2 208.8h.9M398.4 204.7h.9M413.6 200.5h.9M411.2 213h.9M396.1 215h.9M409.4 211.4h.9M345.4 215.3h.9M355.2 201.4h.9M395.2 213.9h.9M393.6 209.8h.9M401.9 204.3h.9M340.7 209.1h.9M387 203.7h.9M388.2 215.5h.9M351.2 206.4h.9M371.7 210.8h.9M403.6 204.9h.9" stroke="#2424ff" stroke-width=".9" stroke-opacity="0.55" fill="none"/>
<path d="M411.2 204h.9M389.9 201.7h.9M381.3 206.6h.9M407.3 210.9h.9M394.9 208.7h.9M389.7 215.3h.9M370.6 207.4h.9M412.8 205.5h.9M400.3 209.9h.9M381 213.1h.9M381 208.9h.9M401.1 214.1h.9M376 202.4h.9M390.9 207.9h.9M402.4 215.3h.9M410.5 213.3h.9M353.4 211.2h.9M341.8 199.7h.9M396.3 212h.9M341.9 210.8h.9M412.8 214h.9M371.4 211.5h.9M405.6 205.2h.9M358.5 201.4h.9M374.6 201.4h.9M346.4 204.2h.9M346.4 202.5h.9M347.6 199.6h.9M391.8 214.7h.9" stroke="#ffffff" stroke-width=".9" stroke-opacity="0.55" fill="none"/>
<path d="M362.7 199.9h1.8M362.5 199.2h1.8M360 192.1h1.8M349.2 200.1h1.8M348.4 198.8h1.8M362.6 200.1h1.8M354.7 188.9h1.8M358.3 198.5h1.8M355.4 191.7h1.8M359.6 198.1h1.8M362.4 197.5h1.8M364.7 200.1h1.8M349.2 200.8h1.8M347.4 199.3h1.8M358.8 198.5h1.8M355.3 199.8h1.8M355.9 200.6h1.8M357.5 193.3h1.8M349.6 200.6h1.8M351.6 195.5h1.8M349.1 197.6h1.8M359.3 197.3h1.8M363.2 197.9h1.8M353.7 197.7h1.8M360.5 192.7h1.8M350.2 197.8h1.8M359.3 192.8h1.8M360.4 197.5h1.8M350.1 199.8h1.8M352.8 195.9h1.8M349.5 199.3h1.8M350.3 201.1h1.8M351.5 197.5h1.8M363.1 199.9h1.8M352.8 194.5h1.8M352.6 192.1h1.8M355 197.6h1.8M353.2 200.5h1.8M361.4 194.7h1.8M353.7 197.2h1.8M362.5 199.3h1.8M363.8 199h1.8M352.2 199.5h1.8M361.9 198.2h1.8M353.2 197.3h1.8M351.4 194h1.8M354.1 191h1.8M362.1 197.1h1.8M354.5 201h1.8M361.3 195.4h1.8M349.5 197.9h1.8M351.6 197h1.8M357 200.1h1.8M357.5 197.9h1.8M354.9 194.4h1.8M362 196.1h1.8M350.4 196.9h1.8M364.3 200.8h1.8M348.6 199.5h1.8M357.8 195.3h1.8M360.9 194.2h1.8M357.2 200.9h1.8M364.1 199.4h1.8M360.5 200.3h1.8M348 198.8h1.8M352.7 200.8h1.8M347.7 198.8h1.8M364 200.1h1.8M347.4 200.5h1.8M347.4 200.7h1.8M348.8 201h1.8M356.4 191.5h1.8M358.2 190.3h1.8M352 196.7h1.8M360.1 194h1.8M363.9 198.7h1.8M362.2 198.9h1.8M355.9 195.5h1.8M351.9 196h1.8M356.2 197.8h1.8M352.8 192.4h1.8M357.2 199h1.8M355.7 193.5h1.8M350.1 197.1h1.8M359.4 194.2h1.8M350.6 196.3h1.8M360.3 194.1h1.8M358.8 200.1h1.8M389.5 200.4h1.8M369.9 200.6h1.8M371.7 200.5h1.8M367.5 198h1.8M386.6 198.3h1.8M388.5 199.4h1.8M366.5 199.7h1.8M382.6 194.3h1.8M368.8 199.4h1.8M379.1 192.7h1.8M374.3 193.9h1.8M382.8 199.2h1.8M389.1 199.5h1.8M375 195.1h1.8M381.9 195.4h1.8M383.3 201.1h1.8M381 195h1.8M376.8 199.5h1.8M367.4 198.7h1.8M380.1 196.1h1.8M388 199.1h1.8M365.4 214.8h1.8M373.9 216.4h1.8M360.4 215h1.8M373.9 215.3h1.8M367.7 218.8h1.8M358.4 215.6h1.8M374.6 215.3h1.8M362.6 214.8h1.8M367.7 221.9h1.8M360.7 216.7h1.8M369.3 220.2h1.8M368.9 215.9h1.8M373.2 215.7h1.8M374.9 216.4h1.8M373.4 216.7h1.8M361 217.3h1.8M367.7 223.1h1.8M359.4 215.4h1.8M366.6 217.1h1.8M364.8 219.3h1.8M374.1 215.1h1.8M367.4 222.6h1.8M369 222.2h1.8M364.3 217.3h1.8M374.1 216h1.8M361.1 217.1h1.8M367.4 195.5h1.8M366.9 194.9h1.8M364.9 198.6h1.8M361.1 195.5h1.8M374.1 171.9h1.8" stroke="#000000" stroke-width=".8" stroke-opacity="0.72" fill="none"/>
<path d="M355.9 194h1.1M362.6 199.4h1.1M356.2 194.8h1.1M365.1 199.8h1.1M353.7 190.2h1.1M347.9 201.1h1.1M354.4 194.4h1.1M357.4 196.4h1.1M363.2 200.8h1.1M352.5 198.2h1.1M349.9 198.8h1.1M364.5 198.9h1.1M362.2 199.3h1.1M357 190h1.1M354.6 193.9h1.1M350.9 198.3h1.1M351.5 195.9h1.1M351 200h1.1M351.5 197.8h1.1M353.1 194.4h1.1M358.5 197.2h1.1M357.7 192.5h1.1M350.2 198h1.1M358.2 198.3h1.1M360.2 196.8h1.1M359.1 194.8h1.1M359.2 192.2h1.1M355.4 196.9h1.1M361.6 200.9h1.1M352.1 192.7h1.1M351 200h1.1M356.4 194.8h1.1M350.1 198.6h1.1M351.7 201.1h1.1M360 199.7h1.1M356.4 200.9h1.1M348.3 200.7h1.1M363.5 198h1.1M358.7 196h1.1M356.4 196.7h1.1M363.8 198.5h1.1M349.5 200.7h1.1M348.1 199.5h1.1M357.5 196.4h1.1M360.6 193.9h1.1M356.6 194.1h1.1M356.9 194.4h1.1M364.2 199.6h1.1M364.3 199.6h1.1M374.7 195.6h1.1M386.2 199.5h1.1M384.5 200.9h1.1M372.9 200.9h1.1M368 200.8h1.1M382.4 195.6h1.1M370.8 198.2h1.1M376.5 190.7h1.1M375.8 196.7h1.1M374.1 197.2h1.1M366.7 200.9h1.1M384.2 200.4h1.1M388 198.9h1.1M388.2 199.9h1.1M381.3 191.7h1.1M381.2 199.8h1.1M374 199.7h1.1M389 199.6h1.1M376.1 193.8h1.1M375 190.9h1.1M381.1 199h1.1M381.8 193.8h1.1M382.2 197.4h1.1M371 200.5h1.1M379.5 199.8h1.1M386.1 200.4h1.1M375.2 192h1.1M374.4 195.6h1.1M367.2 199h1.1M381.7 200.5h1.1M389.3 200.9h1.1M384 200.2h1.1M385.9 200.3h1.1M384 197.7h1.1M382.2 197.5h1.1M384.4 194.8h1.1M380.3 191h1.1M386.8 198.7h1.1M389.6 199.5h1.1M388.7 200.4h1.1M383.5 198.3h1.1M372.9 195h1.1M388.7 200.6h1.1M371 199.7h1.1M373.3 197.1h1.1M389 199.6h1.1M381.8 196h1.1M376.9 197.7h1.1M380.8 194.5h1.1M367 199.2h1.1M388.2 198.6h1.1M386.1 199.9h1.1M385.4 200.6h1.1M376.1 199.6h1.1M381.3 201.1h1.1M372.2 199.3h1.1M377.9 198.5h1.1M369.9 197.3h1.1M369.6 196.7h1.1M371.3 199.1h1.1M383.2 194.9h1.1M368.5 226h1.1M361 216.6h1.1M369.2 218.8h1.1M368.7 222.4h1.1M358.8 215.8h1.1M371.7 217.5h1.1M365.7 220h1.1M359.7 215.8h1.1M365.6 215.4h1.1M373.7 215.8h1.1M370.5 215.4h1.1M373.8 215.4h1.1M372.6 216.3h1.1M370.5 224.5h1.1M369.8 223.6h1.1M370.2 216.3h1.1M364.9 216.5h1.1M366 215h1.1M375.9 215.6h1.1M375.7 215.3h1.1M369.2 220.3h1.1M359.7 215.8h1.1M374.2 216.4h1.1M373.9 216h1.1M363.8 219.7h1.1M365.8 222.4h1.1M359.8 215.9h1.1M370.9 220.2h1.1M358.9 215.8h1.1M359.7 216.2h1.1M369.9 216.4h1.1M375.7 215.7h1.1M365 218h1.1M372.6 217.8h1.1M360.9 217h1.1M370 218.9h1.1M372.8 218.5h1.1M364.9 199.6h1.1M366.2 197.7h1.1M356.7 178.5h1.1M355.5 187.3h1.1" stroke="#ff55ee" stroke-width="1.1" stroke-opacity="0.72" fill="none"/>
<path d="M363.6 199h1.1M350.4 198h1.1M359.8 191.2h1.1M348.3 199.4h1.1M357.8 191.7h1.1M360.4 196.6h1.1M361.4 195.5h1.1M355.3 199.5h1.1M359.3 192.7h1.1M352.4 192.2h1.1M350.3 197.4h1.1M350.6 197.9h1.1M348 198.8h1.1M362.8 200.7h1.1M354.6 193.7h1.1M364.6 199.4h1.1M357.5 191h1.1M353.6 192.6h1.1M365.3 199.7h1.1M359.7 198.2h1.1M349.3 201.1h1.1M360.8 193.3h1.1M361.5 198.9h1.1M349.6 199.1h1.1M362.6 199.4h1.1M356.8 199.5h1.1M362.1 200.8h1.1M353.5 196h1.1M353.7 191.2h1.1M361.2 193.7h1.1M347.7 201.1h1.1M352.5 199h1.1M347.8 200.1h1.1M349.2 197.7h1.1M359.4 191.8h1.1M360.4 201.1h1.1M360.3 198.2h1.1M363 198h1.1M372.5 193.2h1.1M387.3 198.2h1.1M366.2 199.5h1.1M368.8 197.1h1.1M383.7 194.2h1.1M367 200.5h1.1M373.8 199h1.1M373.1 193.6h1.1M386.9 197.9h1.1M388.3 200h1.1M384.2 194.3h1.1M367.1 198.8h1.1M384.2 196.2h1.1M370.4 198.6h1.1M383.6 196.4h1.1M389.9 200.5h1.1M370 199.9h1.1M386.7 199.8h1.1M388.3 199.5h1.1M389.5 200.8h1.1M369 200.9h1.1M375.4 200.3h1.1M384.1 196h1.1M380.8 197.5h1.1M379 197.8h1.1M372.4 195.2h1.1M381.7 201.1h1.1M371.6 199h1.1M368.2 198h1.1M374.6 193.7h1.1M368.7 200.3h1.1M377.1 190.8h1.1M382.3 200.2h1.1M374.2 200.3h1.1M369.5 197.1h1.1M374.9 195.5h1.1M359.7 215.8h1.1M358.9 216.1h1.1M372.6 217.3h1.1M363.6 220.3h1.1M361.6 214.8h1.1M365.5 198.3h1.1M365.7 196.4h1.1M367.3 197.2h1.1M367.7 196h1.1M361.4 200.4h1.1M363.1 195.5h1.1M366.1 198.7h1.1M363.3 196.3h1.1M365.9 193h1.1M365.4 201.4h1.1M364.5 193.8h1.1M366.6 198.3h1.1M364.6 201.5h1.1M362.7 200.7h1.1M364.3 198.2h1.1M365.8 194h1.1M363.9 199h1.1M364.5 201.8h1.1M362.8 199.8h1.1M350 179.6h1.1" stroke="#00a83c" stroke-width="1.1" stroke-opacity="0.72" fill="none"/>
<path d="M348 200.5h1.1M357.7 193.5h1.1M363.4 199.7h1.1M364.9 200.4h1.1M348.2 201h1.1M353 195.5h1.1M351 195.3h1.1M352 192.1h1.1M351.9 193h1.1M349 198.1h1.1M355.5 196.6h1.1M352 196.6h1.1M363.5 199.7h1.1M356.6 191h1.1M352.7 192.3h1.1M352.6 200.9h1.1M356.8 189.7h1.1M357.6 197.1h1.1M359.7 200.1h1.1M364.6 200.4h1.1M350.7 199.2h1.1M349.3 197.8h1.1M359.6 194.9h1.1M356 194.9h1.1M359.3 192.9h1.1M364.9 200.4h1.1M364.7 200.4h1.1M365.3 201h1.1M356.8 200.8h1.1M355.2 189.5h1.1M362.5 196.8h1.1M352.6 197.2h1.1M358.2 189.4h1.1M362.9 200.1h1.1M354.9 200.7h1.1M358 189.1h1.1M357.3 195.7h1.1M360.9 195.9h1.1M353.2 200h1.1M360 193.1h1.1M364.6 199h1.1M365.1 200h1.1M381.8 195.1h1.1M388 200.2h1.1M376.4 193.7h1.1M367.3 198.8h1.1M388.8 198.8h1.1M376.3 192.8h1.1M384.6 198.3h1.1M386.9 200.8h1.1M367.4 198.2h1.1M372.6 194.5h1.1M384.9 198.4h1.1M374.2 195.1h1.1M388.9 200.5h1.1M389.4 200.4h1.1M379.6 192.3h1.1M383.7 200h1.1M388.6 199.7h1.1M368.6 200.7h1.1M371.6 194.8h1.1M374.5 192.6h1.1M386.2 201.1h1.1M386.8 200.2h1.1M385.2 200.2h1.1M371.1 197.7h1.1M387.3 198.1h1.1M371 199.7h1.1M385.2 200.5h1.1M380.7 197.7h1.1M369.6 199.8h1.1M367.1 200.2h1.1M370.6 196.7h1.1M368.4 199.5h1.1M376.7 200.9h1.1M384.8 200.7h1.1M366.3 200h1.1M376.2 192.2h1.1M382.3 192.9h1.1M378.4 193.6h1.1M373.4 195.3h1.1M370.2 200.8h1.1M377.8 195.1h1.1M377.1 195.8h1.1M386.2 197.7h1.1M378.9 190.8h1.1M378.4 199.1h1.1M385.4 199.6h1.1M372.2 200.3h1.1M367.5 200.7h1.1M388.8 200.6h1.1M378.1 194.6h1.1M378.7 195.1h1.1M378.8 197h1.1M372.9 195h1.1M373.1 192.4h1.1M373.8 201.1h1.1M371.8 201h1.1M386.9 199.9h1.1M371.8 198.7h1.1M372.1 195.5h1.1M370.5 197.4h1.1M385.3 201.2h1.1M372.8 199.8h1.1M384.9 195.5h1.1M384.9 197.6h1.1M373.7 200.1h1.1M386.7 200.4h1.1M368 200.4h1.1M378.1 193.1h1.1M384.1 194h1.1M377 200h1.1M372.4 195.5h1.1M376.9 192.9h1.1M371.2 194.9h1.1M368.3 199.5h1.1M375.6 194.8h1.1M369.4 196.9h1.1M380.9 200.4h1.1M373.1 194h1.1M368.9 197.3h1.1M386 199.8h1.1M383.3 197.4h1.1M368.9 197.8h1.1M380.6 196.4h1.1M381.9 195.1h1.1M373.8 194.1h1.1M372.9 200.5h1.1M371.9 195.9h1.1M368.2 199.8h1.1M384.9 197.1h1.1M384.7 195.9h1.1M366.3 200.1h1.1M380.5 194.3h1.1M374.2 195.3h1.1M388.2 198.5h1.1M373.4 200.3h1.1M370.7 198.7h1.1M367.8 198.3h1.1M377.8 198.5h1.1M371.2 200.5h1.1M375.8 201.1h1.1M375.7 191.2h1.1M370.1 196.3h1.1M369.5 196.5h1.1M376.1 192.5h1.1M387.1 200.6h1.1M377.3 196.1h1.1M388.4 200.4h1.1M371.2 193.7h1.1M375.5 194.3h1.1M387.5 199.2h1.1M372 194.4h1.1M359.6 216.3h1.1M366.7 221.7h1.1M368.7 219.1h1.1M364.6 215.9h1.1M372.4 215.1h1.1M370.1 224.2h1.1M365.8 216.1h1.1M366.8 215.4h1.1M375.4 215.7h1.1M371 223.8h1.1M364.2 217.1h1.1M367.1 223.1h1.1M371.5 221.3h1.1M368.8 224.7h1.1M372.4 215.2h1.1M362.7 217.1h1.1M359 215.5h1.1M373.9 215.9h1.1M366.4 215.6h1.1M360.7 215h1.1M370.1 222.6h1.1M368.2 227.6h1.1M368.3 214.8h1.1M368 225.9h1.1M371.1 220.3h1.1M359.4 214.9h1.1M369.5 216.8h1.1M358.8 215.3h1.1M363.4 216.7h1.1M374.3 216.4h1.1M359.8 215.9h1.1M364.5 194.3h1.1M363.5 196.2h1.1M358.7 188.4h1.1M354.7 186.2h1.1" stroke="#ff1010" stroke-width="1.1" stroke-opacity="0.72" fill="none"/>
<path d="M350.6 201.1h1.1M351.1 200.6h1.1M361.3 200.1h1.1M362.8 196.9h1.1M348.2 200.2h1.1M361.5 194.3h1.1M355.5 195.2h1.1M359.2 193.4h1.1M362.2 198.3h1.1M348 200.1h1.1M355.3 198.5h1.1M348.7 200.3h1.1M356.1 199.3h1.1M360.2 191.7h1.1M355.7 190.5h1.1M364.4 199.3h1.1M358.6 191.1h1.1M352.2 192.6h1.1M354 189.6h1.1M360.6 198.9h1.1M363 200.5h1.1M354.5 201h1.1M362.6 198.6h1.1M348.5 201.1h1.1M354.3 195.1h1.1M351.2 194.7h1.1M354.9 189.4h1.1M351 195.4h1.1M349.6 200.4h1.1M356.2 188.7h1.1M358.9 195h1.1M357.5 193.5h1.1M353.7 196.6h1.1M348.7 198.6h1.1M354.6 194.4h1.1M358.8 194h1.1M357.8 193.4h1.1M362.8 200.8h1.1M361.9 195h1.1M357.3 194.2h1.1M358.7 189.7h1.1M362.5 196h1.1M350.4 200.6h1.1M375 197h1.1M375.4 193h1.1M373.4 195.7h1.1M373.4 194.3h1.1M368.7 200.6h1.1M374.5 195h1.1M384.1 196.9h1.1M373.4 195.9h1.1M389.3 200.2h1.1M382.1 199.5h1.1M386.6 197.3h1.1M377.4 191.5h1.1M376.3 196.3h1.1M366.8 200.1h1.1M372.5 195.5h1.1M388 200.7h1.1M386.5 200h1.1M381.1 198.8h1.1M366.3 200.9h1.1M373.4 193.4h1.1M375 194.5h1.1M381 193.5h1.1M382.3 193h1.1M382 195.7h1.1M374.7 195.7h1.1M380.8 195.1h1.1M377.2 197.1h1.1M383 198.9h1.1M370.1 198.1h1.1M368.8 198.3h1.1M389.9 199.4h1.1M368.2 197.4h1.1M380.1 191.2h1.1M368.3 198.7h1.1M373.5 199.2h1.1M377.2 193.6h1.1M379 192.7h1.1M380.3 192h1.1M366.2 201h1.1M385.9 196.4h1.1M387.9 198.6h1.1M367.7 201.1h1.1M385.3 195.5h1.1M366.3 200.2h1.1M369.8 196.1h1.1M389 198.8h1.1M379.5 190.9h1.1M381.6 199.5h1.1M371.5 195.3h1.1M378.6 201h1.1M384.5 198.4h1.1M375.1 194.1h1.1M373.5 196.1h1.1M388.1 199.8h1.1M366.8 199.8h1.1M366.2 199h1.1M374.8 193.8h1.1M383.1 198.9h1.1M369.9 196.7h1.1M370.9 200.1h1.1M367.4 200.8h1.1M387.5 199.8h1.1M371.1 199.2h1.1M372.6 197.8h1.1M370.1 200.9h1.1M371.3 199.2h1.1M376.7 195.1h1.1M384.8 199.5h1.1M366.8 201h1.1M375.1 191h1.1M376.5 200.3h1.1M382.6 200.5h1.1M389 200.3h1.1M381.1 194.1h1.1M367.4 200.5h1.1M369.8 200.3h1.1M367.2 199.2h1.1M380.5 194.6h1.1M368 197.6h1.1M378.3 200.6h1.1M371.8 195.4h1.1M384.3 194.3h1.1M382.4 197h1.1M388.6 200.2h1.1M378.4 194.5h1.1M373.4 194.7h1.1M372.9 199.8h1.1M371 197.3h1.1M370.6 196.5h1.1M389 199.3h1.1M378.1 196.4h1.1M373.3 199.7h1.1M375.9 190.7h1.1M382.7 199.5h1.1M376.7 196.7h1.1M380.8 194.3h1.1M379.8 200.6h1.1M379.3 196.6h1.1M389.3 199.1h1.1M376.9 194.7h1.1M376.9 197h1.1M364.5 215.7h1.1M359.9 215.9h1.1M370.8 215.5h1.1M374.2 215.1h1.1M368 221.6h1.1M360.2 215h1.1M360.7 215.1h1.1M368.9 227.2h1.1M364.9 215.8h1.1M369.3 214.8h1.1M372.4 215.5h1.1M365.4 201.6h1.1M363.9 194.4h1.1M363.6 201.7h1.1M361 186.5h1.1" stroke="#2424ff" stroke-width="1.1" stroke-opacity="0.72" fill="none"/>
<path d="M458.6 170.2V231M458.6 185.4H541.6" stroke="#606060" stroke-width=".6" fill="none"/>
<text x="456.4" y="232.4" font-size="4.0" text-anchor="end" font-family="Liberation Sans,sans-serif" fill="#000">-300</text>
<text x="456.4" y="224.8" font-size="4.0" text-anchor="end" font-family="Liberation Sans,sans-serif" fill="#000">-250</text>
<text x="456.4" y="217.2" font-size="4.0" text-anchor="end" font-family="Liberation Sans,sans-serif" fill="#000">-200</text>
<text x="456.4" y="209.6" font-size="4.0" text-anchor="end" font-family="Liberation Sans,sans-serif" fill="#000">-150</text>
<text x="456.4" y="202" font-size="4.0" text-anchor="end" font-family="Liberation Sans,sans-serif" fill="#000">-100</text>
<text x="456.4" y="194.4" font-size="4.0" text-anchor="end" font-family="Liberation Sans,sans-serif" fill="#000">-50</text>
<text x="456.4" y="186.8" font-size="4.0" text-anchor="end" font-family="Liberation Sans,sans-serif" fill="#000">0</text>
<text x="456.4" y="179.2" font-size="4.0" text-anchor="end" font-family="Liberation Sans,sans-serif" fill="#000">50</text>
<text x="456.4" y="171.6" font-size="4.0" text-anchor="end" font-family="Liberation Sans,sans-serif" fill="#000">100</text>
<text x="458.6" y="191.2" font-size="4.0" text-anchor="middle" font-family="Liberation Sans,sans-serif" fill="#000">0</text>
<text x="475.2" y="191.2" font-size="4.0" text-anchor="middle" font-family="Liberation Sans,sans-serif" fill="#000">200</text>
<text x="491.8" y="191.2" font-size="4.0" text-anchor="middle" font-family="Liberation Sans,sans-serif" fill="#000">400</text>
<text x="508.4" y="191.2" font-size="4.0" text-anchor="middle" font-family="Liberation Sans,sans-serif" fill="#000">600</text>
<text x="525" y="191.2" font-size="4.0" text-anchor="middle" font-family="Liberation Sans,sans-serif" fill="#000">800</text>
<text x="541.6" y="191.2" font-size="4.0" text-anchor="middle" font-family="Liberation Sans,sans-serif" fill="#000">1000</text>
<path d="M459 231h-1.2M459 223.4h-1.2M459 215.8h-1.2M459 208.2h-1.2M459 200.6h-1.2M459 193h-1.2M459 185.4h-1.2M459 177.8h-1.2M459 170.2h-1.2M458.6 185v1.2M475.2 185v1.2M491.8 185v1.2M508.4 185v1.2M525 185v1.2M541.6 185v1.2" stroke="#606060" stroke-width=".5" fill="none"/>
<text x="493.5" y="235.8" font-size="4.15" text-anchor="middle" font-family="Liberation Sans,sans-serif" font-weight="bold" fill="#000">Lateral distance (mm)</text>
<text transform="translate(446.3 203.4) rotate(-90)" font-size="4.15" text-anchor="middle" font-family="Liberation Sans,sans-serif" font-weight="bold">Depth (mm)</text>
<path d="M458.6 215.2L460.7 215.2L462.8 215.2L464.8 215.2L466.9 215.2L469 215.2L471.1 215.2L473.1 215.2L475.2 215.2L477.3 215.2L479.4 215.2L481.4 215.2L483.5 215.2L485.6 215.2L487.7 215.2L489.7 215.2L491.8 215.2L493.9 215.2L496 215.2L498 215.2L500.1 215.2L502.2 215.2L504.2 215.2L506.3 215.2L508.4 215.2L510.5 215.2L512.6 215.2L514.6 215.2L516.7 215.2L518.8 215.2L520.9 215.2L522.9 215.2L525 215.2L527.1 215.2L529.1 215.2L531.2 215.2L533.3 215.2L535.4 215.2L537.5 215.2L539.5 215.2L541.6 215.2L541.6 230.1L539.5 230.1L537.5 230.1L535.4 230.1L533.3 230.1L531.2 230.1L529.1 230.1L527.1 230.1L525 230.1L522.9 230.1L520.9 230.1L518.8 230.1L516.7 230.1L514.6 230.1L512.6 230.1L510.5 230.1L508.4 230.1L506.3 230.1L504.2 230.1L502.2 230.1L500.1 230.1L498 230.1L496 230.1L493.9 230.1L491.8 230.1L489.7 230.1L487.7 230.1L485.6 230.1L483.5 230.1L481.4 230.1L479.4 230.1L477.3 230.1L475.2 230.1L473.1 230.1L471.1 230.1L469 230.1L466.9 230.1L464.8 230.1L462.8 230.1L460.7 230.1L458.6 230.1z" fill="#1e14e6" fill-opacity="1"/>
<path d="M484.5 223.1h1.8M458.9 215.2h1.8M521.8 225.6h1.8M534 224.2h1.8M486.5 219.5h1.8M473.8 223.1h1.8M524.5 215.3h1.8M480.8 227.6h1.8M507.7 218h1.8M464 224.8h1.8M483.7 217.6h1.8M529 217.8h1.8M532.9 218.2h1.8M509.9 226.8h1.8M498 229.1h1.8M500.5 219h1.8M468.9 223.1h1.8M522.8 226h1.8M474.3 216.1h1.8M521.9 223.4h1.8M496.6 217.5h1.8M471.2 215.5h1.8M485.8 218.9h1.8M481.5 218.1h1.8M494.4 216.4h1.8M511 225.5h1.8M501 230h1.8M511.8 223.7h1.8M514.5 230.3h1.8M518.9 221.3h1.8M516.1 226.7h1.8M489.7 221h1.8M519.7 219.4h1.8M460.8 218.5h1.8M471.1 217.1h1.8M519.5 221.7h1.8M491.9 216.1h1.8M532.9 229.4h1.8M528.1 222.7h1.8M467.5 223h1.8M508.5 216h1.8M507.8 230h1.8M509.9 220.1h1.8M515.8 218h1.8M508.7 228.4h1.8M507.9 222.3h1.8M466.3 229.5h1.8M513.8 228.4h1.8M524.1 220.8h1.8M537.4 227.9h1.8M472.2 228.8h1.8M492.7 218.8h1.8M460.2 223.7h1.8M459.5 218.1h1.8M494.6 219.5h1.8M496.4 217.2h1.8M473 217.5h1.8" stroke="#000000" stroke-width=".8" stroke-opacity="0.5" fill="none"/>
<path d="M478.2 218.9h.8M500 229.9h.8M479.8 221h.8M498.4 222.1h.8M481.3 229.5h.8M531.9 227.3h.8M480.6 218.7h.8M530.4 224.8h.8M462.8 227.8h.8M538.9 223.1h.8M535.5 216.8h.8M518.3 226.1h.8M461.3 227.2h.8M462.3 228.2h.8M488.2 222h.8M473.4 216.7h.8M534.4 218.9h.8M479.3 223.1h.8M527.1 229.6h.8M504.8 222.6h.8M526.4 219.7h.8M534.1 223.2h.8M524.7 218.7h.8M490.7 218.6h.8M494.7 226.3h.8M466.7 215.3h.8M475.6 218.5h.8M472.1 224.2h.8M501.2 221.6h.8M474.3 227.7h.8M511.8 227.7h.8M481.8 229.8h.8M511.8 219.3h.8M540 225.2h.8M488.1 221.1h.8M528.6 228.2h.8M531.6 228.9h.8M508 217.3h.8M538.9 222.2h.8M524.6 222.1h.8M533.9 229.3h.8M525.4 219.4h.8M522.8 226.4h.8M477.3 224.3h.8M481.4 229.1h.8M489.9 228.3h.8M494.3 226.9h.8M525.8 216.4h.8M530.2 220.1h.8M505.2 225h.8M466.6 217.5h.8M498.4 228.1h.8M458.6 221.7h.8M473.4 219h.8M467.4 215.4h.8M498.8 218.5h.8M508.6 223.4h.8M505.4 224.4h.8M520.7 223.9h.8M462.3 215.6h.8M514.4 229.5h.8M508.2 215.7h.8M513.1 224.6h.8M500.8 216.1h.8M472.8 215.7h.8M468.5 222.6h.8M540.1 221.9h.8M459.2 220.7h.8M471.5 227.4h.8M491.2 227.3h.8M494.5 225.6h.8M478.1 219.9h.8M460.9 228.9h.8M491.2 220.1h.8M503.5 224.9h.8M471.4 225.2h.8M485.6 224.8h.8M486.6 226.4h.8M540.6 218.2h.8M521 218.6h.8M477.7 225.4h.8M464.8 219.1h.8M481.3 227.9h.8M523.2 220.3h.8M509.4 222.6h.8M540.7 215.6h.8M532.5 228.7h.8M461.7 220.7h.8M483.2 222.7h.8M508.7 227.9h.8M488.9 221.9h.8M478.2 227h.8M539.9 221.4h.8M525.7 228.4h.8M536.8 215.8h.8M494.9 228.6h.8M540.2 223.4h.8M535.3 218.3h.8M468.9 226.9h.8M463.7 215.4h.8M491.4 222.6h.8M523.5 224.4h.8M495.7 227.7h.8M510.9 219.3h.8M460.5 222.5h.8M524.2 223.2h.8M517.9 230.1h.8M523.4 223.8h.8M490.5 226h.8M534.8 217.1h.8M463.1 225.4h.8M462.2 223.5h.8M529.6 224.1h.8M489.6 215.2h.8M480.4 223.8h.8" stroke="#ff55ee" stroke-width=".8" stroke-opacity="0.5" fill="none"/>
<path d="M490.1 230.2h.8M480.3 217.6h.8M496.2 218.6h.8M493.8 227.3h.8M466.2 230.4h.8M471.8 215.5h.8M487.4 219.6h.8M462.1 227.4h.8M474.3 217.4h.8M526.2 224.2h.8M518.1 219.7h.8M532 226.5h.8M530.5 224.2h.8M491.7 218.7h.8M473.9 217.9h.8M485 228h.8M524.2 218.6h.8M471.5 227.1h.8M476.3 224.5h.8M517.2 230h.8M488.5 220.3h.8M463.8 222.7h.8M483.3 220.4h.8M498.1 221.9h.8M527.2 226.5h.8M540.7 224.2h.8" stroke="#00a83c" stroke-width=".8" stroke-opacity="0.5" fill="none"/>
<path d="M480.1 225h.8M471.7 224.2h.8M511.5 219.1h.8M496.1 219.4h.8M496.4 220.3h.8M459.1 222.6h.8M458.9 218.5h.8M530.2 222.5h.8M531 225h.8M465.2 222.6h.8M529.8 227.7h.8M511.8 226.2h.8M508.3 222.2h.8M466.8 228.5h.8M512.6 227.2h.8M527.6 216.9h.8M459.8 222h.8M461.8 224.6h.8M472.1 222h.8M538.9 218.4h.8M471.2 223.8h.8M527.7 217.7h.8M492.2 217.5h.8M461.6 220.9h.8M528.3 217.1h.8M526.4 223.1h.8M482 220.8h.8M540.9 217.3h.8M515.6 215.1h.8M478.4 218.7h.8M469.8 226.4h.8M476.2 218h.8M465.1 230.2h.8M488 225.5h.8M496.2 218.8h.8M496.8 230h.8M509.1 220.1h.8M514.2 220.8h.8M522.7 218.6h.8M535.3 228.7h.8M530.8 220.1h.8M468.6 215.2h.8M494.9 219.9h.8M470.9 219.5h.8M478.4 217.4h.8M537.8 222.5h.8M463.1 217.9h.8M532.4 222.8h.8M483.1 224.5h.8M529.3 222.8h.8M488.8 218.1h.8M501.2 224h.8M527.6 216.7h.8M507.9 217.4h.8M512.6 226.7h.8M515 228.9h.8M511.4 229.5h.8M487.5 220.7h.8M516.8 218.2h.8M511.8 222.1h.8M535.2 228.8h.8M498.9 230.2h.8M458.3 217h.8M521.5 228.5h.8M462 228.5h.8M493.8 221.1h.8M518.1 218.5h.8M499 225.7h.8M468.6 218.2h.8M470.6 229.3h.8M505.7 215.6h.8M511.5 229.6h.8M529.3 227.5h.8M477 223.3h.8M485.4 222.1h.8M496.6 223.9h.8M481.6 223.1h.8M475.3 223h.8M462.2 218.2h.8M505.7 220.5h.8M485.3 222.3h.8M490.3 219.1h.8M506.3 221.9h.8M502.6 221.7h.8M521.4 219.1h.8M498.9 221h.8M532.3 224.1h.8M520.2 227.7h.8M482.6 217.2h.8M509.9 220.5h.8M465.9 214.9h.8M508.4 222.2h.8M479.5 226.2h.8M509.3 218.3h.8M474.5 219.5h.8M526 222h.8M460.8 222.7h.8M465.7 223.7h.8M471.8 219.6h.8M514.4 215.2h.8M469 218.5h.8M526.5 220.5h.8M490.8 229.2h.8M475.4 225.8h.8M513 227.1h.8M490.5 224.7h.8M522.7 223.5h.8M536.7 223.9h.8M510 222.5h.8M503.4 214.9h.8M537 223.7h.8M511.6 222.3h.8M472.4 216.5h.8M512 226.7h.8M496.5 224.2h.8M534.3 229h.8M521 228h.8M490.1 217.8h.8M537.4 221.4h.8M502.1 224.5h.8M523.2 225.4h.8M467.4 219.3h.8M537.1 215.5h.8M463.1 217.7h.8M497.5 228.9h.8M497 219.4h.8M467.6 223.5h.8M459.4 219.2h.8M470.3 217h.8M460.1 219.2h.8M501 229h.8" stroke="#ff1010" stroke-width=".8" stroke-opacity="0.5" fill="none"/>
<path d="M470.9 221.3h.8M503.5 230.4h.8M504.4 221.1h.8M516.3 215.3h.8M471.5 227.7h.8M521.9 226.2h.8M516 227.8h.8M478 223.8h.8M458.5 229.7h.8M504.9 220.4h.8M461.7 220.5h.8M502.4 230.1h.8M461.2 225.3h.8M464.1 225h.8M536.1 225.4h.8M475.9 218.7h.8M510.5 216.5h.8M510.9 223.6h.8M526 214.9h.8M539.6 215.4h.8M530.5 230.3h.8M477.4 218.9h.8M488.2 217.5h.8M468.8 222.8h.8M516.6 218.6h.8M524.6 217.9h.8M460.7 220.4h.8M522.6 217.1h.8M469.7 220.5h.8M516.7 226.7h.8M487.8 227.6h.8M477.5 225.3h.8M532.3 227.6h.8M527.1 217.3h.8M487.7 219h.8M468.5 223.3h.8M535.1 227.3h.8M538 219h.8M509.2 224.6h.8M480 216.4h.8M506.8 224h.8M497.3 224.6h.8M520.9 225.9h.8M466.7 224.1h.8M499.9 222.6h.8M489.9 221.9h.8M471.3 225.3h.8M495.2 224.9h.8M473.1 220.7h.8M479.8 217.7h.8M464.6 228.9h.8M475.5 216.8h.8M489.1 225h.8M500.7 218.7h.8M491.5 217.5h.8M492.2 229.4h.8M494.4 225.6h.8M480.6 215.8h.8M519.8 215.9h.8M460.7 220.3h.8M476.8 216.2h.8M507 223.1h.8M496.5 229.8h.8M520 217h.8M460.2 216.7h.8M462.8 215h.8M479.8 227.5h.8M509.8 221.9h.8M509 221.9h.8M517.1 219.3h.8M526.9 222.4h.8M508.7 230.4h.8M474.5 229h.8M504.1 217.1h.8M491.1 230.3h.8M501.1 220.9h.8M529 222.4h.8M526.4 221.4h.8M481 225h.8M522.4 221.5h.8M508.8 223.4h.8M473.4 222.3h.8M489.4 217.6h.8M485.3 230.2h.8M503.3 216.7h.8M518.6 223.2h.8M465.7 224h.8M524.1 217.6h.8M493.4 228.2h.8M499 217.8h.8M462.6 217.8h.8M469.2 221.2h.8M502.9 222.1h.8M502.7 225.6h.8M506.9 218.3h.8M504.7 229.6h.8M505.1 226.3h.8M494.7 217.2h.8M489.2 219.3h.8M469 225.1h.8M483.8 225.8h.8M469.5 217.5h.8M488.2 218.8h.8M531.1 215.8h.8M490.1 227.5h.8M483.6 221h.8M462.8 227.6h.8M466.8 227.8h.8M492.4 224.5h.8M535.5 227.8h.8M524.7 217.9h.8M491 221h.8M461.2 215.8h.8M529 221h.8M503 229.9h.8M478.7 225.9h.8M496.1 227.6h.8M490.2 220.8h.8M498.5 217.5h.8M513.3 226.1h.8M507.4 216.6h.8M503.6 228.6h.8M532.7 230.3h.8M485.7 226.3h.8M507.7 215.9h.8M491.9 219.2h.8M498.5 221.3h.8M471.4 224.5h.8M531.5 218.2h.8M471.9 222.3h.8" stroke="#2424ff" stroke-width=".8" stroke-opacity="0.5" fill="none"/>
<path d="M513.4 228.2h.8M460.8 215.7h.8M499 227.4h.8M505.3 228h.8M458.7 225.2h.8M482 216.7h.8M498.1 229.2h.8M498.8 222.2h.8M511 227.2h.8M489.8 227.7h.8M472.1 228.3h.8M497.2 216.7h.8M485 216.7h.8M472 218.7h.8M468.8 228.3h.8M463.9 224.1h.8M469 227h.8M528.9 221.3h.8M516.9 219.7h.8M500.2 228.4h.8M532.3 226.9h.8M512.2 227h.8M476 228.4h.8M498 223.3h.8M517.3 222.6h.8M537.7 228.6h.8M505.7 224.5h.8M476.1 221h.8M468.3 230.4h.8M526.4 216.1h.8M496.6 228.7h.8M530 226.3h.8M491.4 226h.8M509.7 215h.8M472.4 221.9h.8M464.2 219h.8M492.6 223.4h.8M490 228.8h.8M503.5 226.8h.8M512.8 220.1h.8M482.3 227.7h.8M511.8 228h.8M481.7 227.5h.8M508.3 227.2h.8M514.7 224.8h.8M489.6 225.2h.8M463.3 218h.8M483.4 216.6h.8M520.8 226.2h.8M463 226.7h.8M468.3 220.2h.8M487.2 217.7h.8M515 228.4h.8M473.7 226.9h.8M504.5 224.2h.8M511.3 216.4h.8M494.7 223.4h.8M486.9 218.9h.8M466.3 223.2h.8M502.2 225.8h.8M525.1 221h.8M483.7 216.1h.8M471.2 225.9h.8M469.8 218.5h.8M538.6 218.7h.8M537 218.8h.8M518.8 224.2h.8M511.7 228.6h.8M475.6 215.6h.8M474.1 228h.8M501.4 229.1h.8M530.8 228h.8M533.7 215.3h.8M493.1 230h.8M488.3 219.5h.8M520.5 217.8h.8M485.6 230.3h.8M495.7 225.3h.8M516.7 221.6h.8M503.5 219.7h.8M466.9 225.4h.8M467.8 226.3h.8M494.1 227.4h.8M536.8 221h.8M486.9 227.6h.8M534.9 217.4h.8M531.9 224.6h.8M458.9 217.5h.8M513.3 223.3h.8M469.9 223.3h.8M533.5 219.4h.8M537.8 224.1h.8M480 216.2h.8M478.8 223.9h.8M530.5 221h.8M470 222.1h.8M515.1 225.6h.8M499.5 223.3h.8M533.5 219.2h.8M498.9 226.9h.8M491 223.5h.8M466.6 230.2h.8M465.5 219.8h.8M478 224.5h.8M478.1 219.9h.8M505.9 229.9h.8M532.7 222.6h.8M491.2 215h.8M471.5 222.8h.8M505.2 215.3h.8M480.5 228.8h.8M462.8 226.9h.8M541 226.9h.8M485.1 225.4h.8M508.5 223.7h.8M470.5 216h.8M521.8 226.7h.8M471.4 223.9h.8M525.1 215.7h.8M497.3 216.1h.8M479 217.9h.8M495.7 228.6h.8M509.7 227.4h.8M533.5 229.3h.8M515.2 219.3h.8M465.8 224.4h.8M469.5 226.3h.8M530.6 228h.8M466 229.2h.8M509 222h.8M531 225.7h.8M526.6 216.9h.8M508.3 217.1h.8M524 216.8h.8M462.4 229.8h.8M534.5 226.3h.8M487.2 227.5h.8M531.8 220.4h.8M468.8 227.4h.8M502.7 221.7h.8M532 215.3h.8M492.9 225.4h.8M500.7 216.4h.8M497.6 227.4h.8M465 224.7h.8M463.7 217.2h.8M523.1 218.5h.8M539 226.4h.8M504.7 218.3h.8M489 217h.8M514.8 216.1h.8M492.9 228.7h.8M491.9 222.8h.8M493.1 223.4h.8M518.7 215.5h.8M484.8 218.4h.8M502.1 217.6h.8M532.7 217.6h.8M467.7 228.6h.8M476.6 222.5h.8M504.7 223.3h.8M538.2 224.7h.8M534.5 218.8h.8M478.7 226.6h.8M467.2 225.4h.8M540.9 223.8h.8M462.5 224.8h.8M494.1 229.6h.8M462.3 217.9h.8M501.2 216.4h.8M464.8 218.3h.8M516.6 226.7h.8M489.5 225.1h.8M498.2 220.5h.8M467.1 221.6h.8M507.3 227.2h.8M533.8 220.5h.8M509.8 224.8h.8M463.9 216.2h.8M475.1 229h.8M539.4 215.4h.8M459.2 220.4h.8M516.3 226.3h.8M533.2 227.8h.8M512.7 218.4h.8M522.8 216.3h.8M470.9 217.4h.8M496 218h.8M501 217.8h.8M480.3 222.2h.8M525.3 227h.8M523 225h.8M532.9 215.5h.8M498.3 220.2h.8M520.1 215.3h.8M478.7 227.8h.8M520.4 224.9h.8M534.8 214.9h.8M513.1 222h.8M526.7 215.1h.8M493.1 221.9h.8M530.8 218.3h.8M490.9 228h.8M516 218.3h.8M508.7 222.4h.8M458.7 220.3h.8M525.2 229.8h.8M515.4 225.2h.8M483.3 216.3h.8M492.9 215.7h.8M492.8 220.6h.8M516.2 227h.8M471.3 222h.8M469.8 216.2h.8M539.1 220.7h.8M482.1 216.6h.8M527.5 216.6h.8M522.8 229.3h.8M504.6 225.3h.8M469.8 217.9h.8M535 229.9h.8M505.6 227h.8M522.1 214.9h.8M500.4 217.8h.8M471.3 226.3h.8M483.9 222.2h.8M461.3 224.8h.8M511 228.2h.8M478.2 227.3h.8M476.9 221.7h.8M474.3 227.7h.8M475.1 229.5h.8M533.8 225.2h.8M502.9 223.6h.8M523.1 216.4h.8M520.3 221.7h.8M491.2 226.6h.8M469.4 218h.8M530 227.6h.8M536.7 225.9h.8M534.5 230.1h.8M536.8 217.5h.8M537.2 217.8h.8M466.9 223.3h.8M523.3 223.5h.8M524.2 222.8h.8M500.2 216.2h.8M514.8 229.2h.8M516.4 222.2h.8M522.7 223.9h.8M538.9 228.8h.8M497.4 216.2h.8M468.9 223.3h.8M516.7 223.6h.8M469.2 220.9h.8M484.6 219h.8M466.1 215.5h.8M465.7 225.8h.8M463.5 229.9h.8M521.7 226.2h.8M474.6 227.4h.8M531.3 220h.8M480.9 220.5h.8M531.9 218.8h.8M483.6 223.1h.8M514.3 220.7h.8M515.6 218.4h.8M464.3 228.4h.8M459.3 228.6h.8M519.3 221.3h.8M541.1 229.5h.8M540.9 224.7h.8M539.6 220.7h.8M526.4 226.3h.8M466.6 216.1h.8M531.6 216.5h.8M514.4 219.1h.8M458.2 220.6h.8M459.1 222.7h.8M507.8 222.8h.8M507.7 218.7h.8M534.8 216.5h.8M459.6 216h.8M458.8 216.3h.8M523.3 224.3h.8M465.2 217.1h.8M519.1 220.2h.8M481.2 216.6h.8M506.6 216.7h.8M527.1 229.4h.8M465.9 219.7h.8M530.6 221.3h.8M486.9 229.7h.8M532.5 223.3h.8M489.4 230h.8M503.6 223.4h.8M477.2 217.6h.8M512.3 221.5h.8M508.9 229.2h.8M489.5 225.2h.8M491.3 220.1h.8M538.9 217.1h.8M460.6 221h.8M531.2 220h.8M517 224.8h.8M468 222.1h.8M516.9 218.3h.8M483.7 220.8h.8M488.1 227.9h.8M537.2 230h.8M469 216.2h.8M522.9 223.5h.8M461.1 218.5h.8M465 225.9h.8M522.6 229.4h.8M531.6 220.7h.8M477.9 219.9h.8M508.4 225.7h.8M504.4 219.5h.8M461 218.6h.8M514 228h.8M493 224.4h.8M510.8 223.1h.8M476.6 220.6h.8M518.2 217.1h.8M533.6 224.4h.8M491.4 218.7h.8M480.9 227.3h.8M497.9 216.6h.8M467.5 224.7h.8M524.6 225.3h.8M466.3 220.8h.8M539.5 220.5h.8M538.5 229h.8M516.2 218.6h.8M462.2 222.6h.8M486.9 220.2h.8M508.3 217.7h.8M517.8 227.9h.8M532.3 228h.8M474.5 227.3h.8M481.8 228.3h.8M508.6 215.2h.8M496.4 222.5h.8M502.5 217.6h.8M473.4 226.8h.8M459.2 217.7h.8M484.9 228.4h.8M491.5 227.9h.8M533.2 218h.8M537.5 215.3h.8M472.8 215.3h.8M525.9 228.6h.8M534.8 218h.8M534.4 223.4h.8M477.4 216.9h.8M522.2 219.3h.8M518.7 215.8h.8M496.7 222.3h.8M509.8 224h.8M470.6 220.4h.8M509.5 221.4h.8M498.1 223.4h.8M466.8 230.3h.8M481.2 223.2h.8M531.8 221.1h.8M483.3 223.9h.8M475.9 221.9h.8M539.4 226h.8M491.2 219.3h.8M461.3 227.8h.8M515.9 217.1h.8M467.5 216.3h.8M490 220.7h.8M466.6 216.1h.8M520.4 225h.8M519.8 216.5h.8M487.4 228.7h.8M460.1 226.5h.8M502.9 224.9h.8M540 225.5h.8M520.8 227.9h.8M462.2 220h.8M499.5 216.8h.8M464.2 230h.8M469 226.6h.8M492.1 223.2h.8M491.3 222.6h.8M479.5 221.4h.8M498.7 218h.8M521.6 227.3h.8M503.3 225.3h.8M472.3 227.9h.8M511.4 217h.8M531.3 220.4h.8M516.5 228h.8M526.7 220.8h.8M533 223.2h.8M526.8 219.7h.8M474.8 219.1h.8M498.4 228.4h.8M491.9 228.5h.8M488.5 228.9h.8M477.1 216.2h.8M509.8 216.9h.8M482.7 216.6h.8M496.8 216.6h.8M539.4 229.8h.8M500.1 217.1h.8M460.6 222.8h.8M523.1 229.3h.8M465.2 223.8h.8M479.4 228.9h.8M476.8 224.1h.8M481.3 228h.8M512.5 224.2h.8M536.2 222.3h.8M496.6 225.1h.8M505.7 226.3h.8M532.5 229.2h.8M492.1 227.4h.8M469.7 224h.8M483.3 224.6h.8M503.9 215.8h.8M537.5 218h.8M459.2 227.9h.8M533.2 226h.8M512.2 222.9h.8M531.2 221.1h.8M524.6 230.1h.8M488.4 214.9h.8M458.3 225.2h.8M535.7 221.2h.8M479.5 221.2h.8M477.7 220.4h.8M528.9 223h.8M486.1 215.1h.8M466.3 223.3h.8M468.7 223.6h.8M520.8 216.1h.8M461 230.2h.8" stroke="#ffffff" stroke-width=".8" stroke-opacity="0.5" fill="none"/>
<path d="M478.3 213.3h1.8M474.7 215.1h1.8M477.9 213.1h1.8M482.7 213.9h1.8M480.7 211.1h1.8M481.2 211.1h1.8M480.9 215.8h1.8M481 214.3h1.8M484.6 215.8h1.8M476.8 215.9h1.8M476 214.8h1.8M484.4 215.6h1.8M481 212.5h1.8M483.4 215.3h1.8M479.8 209.8h1.8M480.5 214.9h1.8M474.4 215.8h1.8M482.2 214.2h1.8M473.8 215h1.8M475.8 214.5h1.8M476.9 212.7h1.8M480.3 214.9h1.8M480.4 216.2h1.8M483.5 213.7h1.8M477.3 214.9h1.8M475 215.2h1.8M483 214.2h1.8M478.1 214.5h1.8M473.5 216.2h1.8M474.5 214.7h1.8M475.2 216.3h1.8M482.6 214.2h1.8M484.8 215.4h1.8M474.9 214.3h1.8M482.3 214.8h1.8M484.2 214.1h1.8M476 214.6h1.8M483 214.4h1.8M479.9 215.8h1.8M484.7 215.2h1.8M482.9 213.4h1.8M479.6 215.2h1.8M475.3 214.1h1.8M478 211.5h1.8M482.5 215.9h1.8M482.6 213.1h1.8M483.3 213.6h1.8M480.9 212.5h1.8M481.7 211.4h1.8M474.7 214.7h1.8M475.7 213.9h1.8M483.2 214.9h1.8M473.8 214.7h1.8M484.8 214.5h1.8M482.5 213.2h1.8M474 215.8h1.8M483.8 215.1h1.8M481.7 211.3h1.8M479.5 215.1h1.8M477 215.3h1.8M475.3 215.9h1.8M483.9 214.1h1.8M496.9 214.7h1.8M502.9 213.5h1.8M491.4 213.7h1.8M490.9 214.1h1.8M503.7 215h1.8M492.8 212.5h1.8M504.7 214.9h1.8M495.2 214.9h1.8M493.1 212.1h1.8M498.6 207h1.8M489.6 216h1.8M493.4 215.2h1.8M501.2 213.1h1.8M493.7 216.4h1.8M497.1 214.8h1.8M498.8 213.2h1.8M490.1 200.2h1.8M496.2 216h1.8M496.5 215.2h1.8M477.6 183.6h1.8M481.4 202.9h1.8M481.8 205.9h1.8" stroke="#000000" stroke-width=".8" stroke-opacity="0.72" fill="none"/>
<path d="M483.2 214.2h1.1M479.9 210h1.1M474.5 215.3h1.1M481.3 210.7h1.1M478.9 213.1h1.1M474.2 215.4h1.1M475.4 215.5h1.1M474.7 215.7h1.1M476.7 214.3h1.1M476.3 216h1.1M483 214.6h1.1M474.2 215.8h1.1M479.1 215.8h1.1M476.8 212.9h1.1M492 213.6h1.1M500.1 214.4h1.1M495.8 214.1h1.1M496.5 214.9h1.1M499.7 215.6h1.1M500.3 215.2h1.1M503.6 214.7h1.1M493.2 213h1.1M498.6 214h1.1M502.8 212.7h1.1M504.4 215.5h1.1M500.6 209h1.1M491 215.3h1.1M507.5 215.3h1.1M494 213.3h1.1M501.4 215h1.1M490.2 215.6h1.1M505.7 214.7h1.1M497.5 215.4h1.1M494.3 216.1h1.1M495 209.2h1.1M497.1 207.3h1.1M497 208.4h1.1M498.5 214.2h1.1M490.9 216h1.1M503.6 215.9h1.1M494.4 213.7h1.1M502.8 215.5h1.1M495.5 214.7h1.1M507.3 215.5h1.1M500.2 212h1.1M506.5 216.1h1.1M502.5 216.5h1.1M489.8 214.9h1.1M506.4 216h1.1M501.6 212.5h1.1M495.8 215.8h1.1M495.6 209.2h1.1M498.8 207.3h1.1M501.2 212.6h1.1M504.4 214.4h1.1M491.5 216.4h1.1M494.2 215.7h1.1M493.2 215.9h1.1M494 211.3h1.1M504.5 215h1.1M502.1 216h1.1M490.9 211.7h1.1M483.1 197.1h1.1M490.4 210.3h1.1M490.6 208.5h1.1M501.6 199.9h1.1M492 204.5h1.1M494.7 216.9h1.1M494.2 214.5h1.1M494.1 223.5h1.1M494.2 221.1h1.1M493.6 215.4h1.1M500 229.6h1.1M494.6 227.9h1.1M496.9 217.8h1.1M495.6 228.5h1.1M491 226h1.1M491.3 227.3h1.1M497.5 223.3h1.1M490.5 222.2h1.1M495.5 221.3h1.1M497.1 219.5h1.1M494.3 215.2h1.1M495 228.7h1.1M492.4 222.1h1.1M493.7 230.1h1.1M495.8 229h1.1M490 229.1h1.1M495.5 217.5h1.1M497.4 224.9h1.1M494.4 220.8h1.1M496.9 229.3h1.1M492.2 221.2h1.1M494.3 220.5h1.1M494.6 214.7h1.1M495.7 216.7h1.1M493.5 221.1h1.1M498.1 215.7h1.1" stroke="#ff55ee" stroke-width="1.1" stroke-opacity="0.72" fill="none"/>
<path d="M474.9 216.2h1.1M482.6 212.5h1.1M478.8 212.7h1.1M484.8 214.8h1.1M473.9 214.9h1.1M474.9 214.9h1.1M478.4 215.3h1.1M475.1 214.6h1.1M483.9 214.9h1.1M484.9 215.5h1.1M500.6 214.4h1.1M499.9 216.2h1.1M499.9 211.4h1.1M506.9 215.8h1.1M492.7 214.7h1.1M495 209.9h1.1M501.6 211h1.1M490.2 215.6h1.1M494.6 213h1.1M489.9 216.3h1.1M489.9 216.4h1.1M504.2 214h1.1M498.5 210.9h1.1M497.4 212.5h1.1M502.3 212.7h1.1M494.8 215.5h1.1M501 215.1h1.1M492.8 215.7h1.1M492.2 216.2h1.1M493.2 214.2h1.1M506.9 215.6h1.1M503.6 216.4h1.1M492.4 213.6h1.1M497.4 212.7h1.1M490.6 216.2h1.1M499.7 211.8h1.1M504.6 215.7h1.1M500.7 213.4h1.1M504.9 215.4h1.1M501.5 211h1.1M507.6 216h1.1M491.6 215.6h1.1M490.3 215.4h1.1M499.2 213.1h1.1M497.3 212h1.1M505.9 216.3h1.1M494.5 211h1.1M490 214.8h1.1M497.7 206.9h1.1M499.4 216h1.1M499.7 210.8h1.1M491.9 216.4h1.1M491.3 216.4h1.1M498.5 210.2h1.1M499.8 208h1.1M495.3 214.9h1.1M502.8 216.1h1.1M494.7 211.9h1.1M495.4 212.3h1.1M498.8 215.3h1.1M502.5 202.7h1.1M492.6 205.5h1.1M497.8 213.4h1.1M492.4 205.7h1.1M491.3 227.6h1.1M494.9 222.8h1.1M493.9 219.3h1.1M497.6 223.4h1.1M493.9 219.3h1.1M491.5 217.5h1.1M497.3 221.5h1.1M491.4 216.4h1.1M492.5 214.6h1.1M492 217.1h1.1M491.8 229h1.1M499.4 215.5h1.1M498.3 228.3h1.1M493.8 222.5h1.1M495.9 228.3h1.1M493.4 218.4h1.1M480 189.2h1.1" stroke="#00a83c" stroke-width="1.1" stroke-opacity="0.72" fill="none"/>
<path d="M479.6 214.6h1.1M485.3 215.2h1.1M478.1 215.4h1.1M484.7 215.8h1.1M476.8 213.7h1.1M500.4 215.1h1.1M500.3 216.1h1.1M502 212.1h1.1M490.9 215.1h1.1M501.4 215.9h1.1M498.3 213.1h1.1M492.1 213.7h1.1M498.8 206.9h1.1M493 215.6h1.1M490.8 214.3h1.1M493.2 215.8h1.1M501 211.5h1.1M502.6 213.2h1.1M501 213h1.1M499.6 214.6h1.1M500.4 213.7h1.1M501.7 212.2h1.1M501.8 216h1.1M502.1 216.2h1.1M506.4 216.1h1.1M495.5 209.8h1.1M502.8 215.9h1.1M502 213.9h1.1M492.4 216.1h1.1M503.9 215.3h1.1M496.9 209.4h1.1M497.6 213.7h1.1M491.8 215h1.1M490.4 216.3h1.1M496.6 213.1h1.1M496.6 206.6h1.1M506.9 216.1h1.1M497.5 210.3h1.1M490.4 214.5h1.1M499.7 212.8h1.1M491.6 214.3h1.1M502.3 216.1h1.1M495.4 210.3h1.1M503.7 215.9h1.1M499.1 215.7h1.1M492.5 216.4h1.1M507.6 215.1h1.1M495.9 212.5h1.1M496.3 214.3h1.1M497.9 209.4h1.1M507.1 215.6h1.1M502.9 214.7h1.1M495.3 212.5h1.1M507.1 214.7h1.1M498.8 215.9h1.1M503.5 214.2h1.1M497.2 215.8h1.1M503.7 213.5h1.1M499.5 212.9h1.1M493.6 212.7h1.1M507.4 214.9h1.1M497.8 207.4h1.1M503.5 215.1h1.1M490.5 216.4h1.1M507.5 214.9h1.1M506.5 214.8h1.1M491.4 214.5h1.1M500.5 212.2h1.1M498.5 207.1h1.1M492.9 196.5h1.1M487.1 204.2h1.1M494.2 227h1.1M492.2 228.5h1.1M492 219.8h1.1M495.8 218.8h1.1M498.9 218.1h1.1M494.1 218.5h1.1M495.7 225.1h1.1M495.7 226.3h1.1M498 215.9h1.1M497 229h1.1M495.9 220.5h1.1M492.5 225.2h1.1M493.2 226.7h1.1M491.5 215.8h1.1M492.3 224.3h1.1M493.9 226.3h1.1M492.6 215.3h1.1M493.3 230h1.1M496.1 217h1.1M497.7 218.6h1.1M495.8 219.4h1.1M495.8 216.3h1.1M493 222.2h1.1M494.9 220.6h1.1M496.4 216.8h1.1M491 225.2h1.1M494.6 220.8h1.1M493.6 225.9h1.1M494.1 223.1h1.1M494.7 217.5h1.1M492.3 224.9h1.1M492.3 225.8h1.1M494.2 222.4h1.1M498.6 223.9h1.1" stroke="#ff1010" stroke-width="1.1" stroke-opacity="0.72" fill="none"/>
<path d="M480.7 215.2h1.1M481.3 213h1.1M484.1 214.2h1.1M478.3 214.8h1.1M484 215.4h1.1M483.2 214.8h1.1M484.8 214.8h1.1M479.8 213.4h1.1M484.4 216.2h1.1M480.7 210.5h1.1M481.9 214.9h1.1M481.7 211h1.1M475.7 214.1h1.1M483 213.4h1.1M479.3 213.6h1.1M482.3 212.7h1.1M485.2 214.4h1.1M481.2 214.7h1.1M480.6 211.1h1.1M498.4 214.4h1.1M504 216.6h1.1M503.2 213.3h1.1M490.8 215h1.1M496.2 213.8h1.1M493.8 215.5h1.1M505.3 214.9h1.1M504.8 214.7h1.1M494.7 210.4h1.1M505.3 214.9h1.1M506.6 216.6h1.1M494.2 213.1h1.1M497.2 214.8h1.1M505.9 216.3h1.1M497.1 205.9h1.1M502.6 215.3h1.1M494.8 211.3h1.1M503.2 215.7h1.1M493.8 212h1.1M492.1 215.2h1.1M502.5 212.3h1.1M504.3 214.6h1.1M496.9 211.9h1.1M492.6 215.8h1.1M500.8 216.4h1.1M498 214h1.1M507.4 214.8h1.1M495.8 208.1h1.1M504.6 215.3h1.1M494.6 214.9h1.1M495.1 210.5h1.1M496.7 210.5h1.1M507.4 216.3h1.1M491.8 214.2h1.1M500.4 212h1.1M497 213.8h1.1M495.2 208.9h1.1M498.8 212.3h1.1M502.9 216h1.1M490.4 215.6h1.1M494.3 212.1h1.1M504.1 214.5h1.1M495.6 210.5h1.1M490.1 214.9h1.1M497.7 205.6h1.1M493.7 212.3h1.1M490.1 216.3h1.1M493.9 214.2h1.1M491.3 214.5h1.1M502.9 213.7h1.1M499.4 210h1.1M496.1 211.4h1.1M490.2 214.7h1.1M502.7 216.2h1.1M499.4 210.9h1.1M491.2 214.5h1.1M495.3 208.8h1.1M504.3 216.1h1.1M490.5 216.4h1.1M499.3 207.6h1.1M493 216h1.1M500 208.8h1.1M495.9 214.9h1.1M495.8 209.8h1.1M498 212.2h1.1M505.1 216.1h1.1M489.1 209.5h1.1M487.2 209.2h1.1M495.9 206.1h1.1M496 211.4h1.1M491.2 224.1h1.1M498.4 217.6h1.1M486.2 197.6h1.1" stroke="#2424ff" stroke-width="1.1" stroke-opacity="0.72" fill="none"/>
</svg></body></html>
